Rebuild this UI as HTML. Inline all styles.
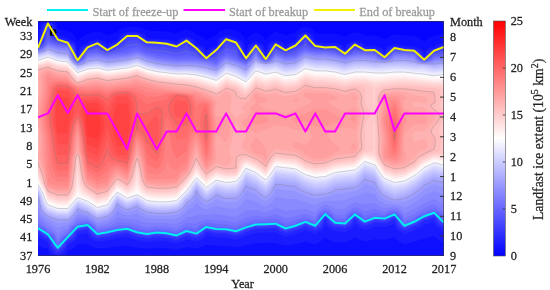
<!DOCTYPE html>
<html><head><meta charset="utf-8"><style>
html,body{margin:0;padding:0;background:#fff;}
body{width:550px;height:290px;overflow:hidden;}
svg{display:block;}
text{font-family:"Liberation Serif","Times New Roman",serif;font-size:12.3px;fill:#222;stroke:#222;stroke-width:0.25px;}
text.lg{fill:#999;stroke:#999;}
</style></head><body>
<svg width="550" height="290" viewBox="0 0 550 290">
<defs>
<clipPath id="pc"><rect x="38" y="21" width="406" height="235"/></clipPath>
<linearGradient id="cb" x1="0" y1="1" x2="0" y2="0">
<stop offset="0" stop-color="#0000ff"/><stop offset="0.5" stop-color="#ffffff"/><stop offset="1" stop-color="#ff0000"/>
</linearGradient>
</defs>
<rect width="550" height="290" fill="#fff"/>
<g clip-path="url(#pc)">
<rect x="38" y="21" width="406" height="235" fill="#0505ff"/>
<path fill="#0f0fff" d="M47.9 21.3 54.5 22 56.7 23 57.1 24 57.3 25 57.4 26 57.5 27 57.7 28 57.8 28.9 58.2 29 63.9 30 67.7 30.9 68 31 70.2 32 71.8 33 73.1 34 74.1 35 75 36 75.6 37 76.2 38 76.7 39 77.2 40 77.5 41 77.6 41.6 78 41 78.7 40 79.5 39 80.5 38 81.7 37 83.1 36 84.9 35 87 34 87.5 33.8 89.9 33 93.7 32 97.4 31.2 100.1 32 102.8 33 104.9 34 106.6 35 107.3 35.5 108.3 35 110.7 34 113.6 33 117.2 32 117.2 32 118.1 31 119.2 30 120.7 29 122.8 28 125.9 27 127.1 26.7 137 26.7 138.4 27 142 28 144.4 29 146.1 30 146.9 30.6 156.8 30.9 158.5 31 166.7 31.5 170.2 32 175.6 33 176.6 33.2 177 33 178.9 32 181.4 31 184.7 30 186.5 29.5 188.1 30 191 31 193.1 32 194.7 33 196 34 196.4 34.4 198.1 35 200.4 36 202.2 37 203.7 38 205 39 206 40 206.3 40.3 206.8 40 208.3 39 210.1 38 212.2 37 214.8 36 216.2 35.5 216.5 35 217.2 34 218.1 33 219.2 32 220.6 31 222.5 30 225.1 29 226.1 28.7 228.1 29 233.2 30 236 30.7 236.8 31 238.9 32 240.5 33 241.8 34 242.8 35 243.6 36 244.3 37 244.8 38 245.3 39 245.8 40 246 40.8 246.4 40 247 39 247.8 38 248.7 37 249.8 36 251.1 35 252.8 34 254.9 33 255.9 32.6 256.8 33 258.9 34 260.5 35 261.9 36 263 37 263.9 38 264.6 39 265.3 40 265.8 40.9 266.2 40 266.7 39 267.3 38 268.1 37 269 36 270.1 35 271.4 34 273.1 33 275.3 32 275.7 31.8 276.3 32 279.7 33 282.3 34 284.4 35 285.6 35.6 287.1 35 290 34 293.7 33 295.5 32.6 295.8 32 296.6 31 297.5 30 298.8 29 300.6 28 303.3 27 305.4 26.5 307.4 27 310 28 311.8 29 313.1 30 314 31 314.7 32 315.3 33 315.6 33 325.2 33.8 335.1 33.5 336.7 34 339.8 35 342.3 36 344.4 37 345 37.3 345.3 37 346.6 36 348 35 349.8 34 352.1 33 354.9 32 358.5 33 361.4 34 363.8 35 364.8 35.5 374.7 35.4 376.5 36 379.3 37 381.6 38 383.6 39 384.6 39.6 385.3 39 386.6 38 388.2 37 390.1 36 392.4 35 394.5 34.2 400.8 35 404.4 35.5 414.3 36 414.4 36 417.1 37 419.2 38 421 39 422.6 40 423.9 41 424.2 41.3 424.5 41 425.8 40 427.3 39 429.1 38 431.2 37 433.8 36 434.1 35.9 437.2 35 441.4 34 444 33.5 444 34 444 35 444 36 444 37 444 38 444 39 444 40 444 41 444 42 444 43 444 44 444 45 444 46 444 47 444 48 444 49 444 50 444 51 444 52 444 53 444 54 444 55 444 56 444 57 444 58 444 59 444 60 444 61 444 62 444 63 444 64 444 65 444 66 444 67 444 68 444 69 444 70 444 71 444 72 444 73 444 74 444 75 444 76 444 77 444 78 444 79 444 80 444 81 444 82 444 83 444 84 444 85 444 86 444 87 444 88 444 89 444 90 444 91 444 92 444 93 444 94 444 95 444 96 444 97 444 98 444 99 444 100 444 101 444 102 444 103 444 104 444 105 444 106 444 107 444 108 444 109 444 110 444 111 444 112 444 113 444 114 444 115 444 116 444 117 444 118 444 119 444 120 444 121 444 122 444 123 444 124 444 125 444 126 444 127 444 128 444 129 444 130 444 131 444 132 444 133 444 134 444 135 444 136 444 137 444 138 444 139 444 140 444 141 444 142 444 143 444 144 444 145 444 146 444 147 444 148 444 149 444 150 444 151 444 152 444 153 444 154 444 155 444 156 444 157 444 158 444 159 444 160 444 161 444 162 444 163 444 164 444 165 444 166 444 167 444 168 444 169 444 170 444 171 444 172 444 173 444 174 444 175 444 176 444 177 444 178 444 179 444 180 444 181 444 182 444 183 444 184 444 185 444 186 444 187 444 188 444 189 444 190 444 191 444 192 444 193 444 194 444 195 444 196 444 197 444 198 444 199 444 200 444 201 444 202 444 203 444 204 444 205 444 206 444 207 444 208 444 209 444 210 444 211 444 212 444 213 444 214 444 215 444 216 444 217 444 218 444 219 444 220 444 221 444 222 444 223 444 224 444 225 444 226 444 227 444 228 444 229 444 230 444 231 444 232 444 233 444 234 444 235 444 236 444 237 444 238 444 239 444 240 444 241 444 242 444 243 444 244 444 245 444 246 444 247 444 248 444 249 444 250 444 251 444 252 444 253 444 254 444 255 444 256 434.1 256 424.2 256 414.3 256 404.4 256 394.5 256 384.6 256 374.7 256 364.8 256 354.9 256 345 256 335.1 256 325.2 256 315.3 256 305.4 256 295.5 256 285.6 256 275.7 256 265.8 256 255.9 256 246 256 236 256 226.1 256 216.2 256 206.3 256 196.4 256 186.5 256 176.6 256 166.7 256 156.8 256 146.9 256 137 256 127.1 256 117.2 256 107.3 256 97.4 256 87.5 256 77.6 256 67.7 256 57.8 256 47.9 256 38 256 38 255 38 254 38 253 38 252 38 251 38 250 38 249 38 248 38 247 38 246 38 245 38 244 38 243 38 242 38 241 38 240 38 239 38 238 38 237 38 236 38 235 38 234 38 233 38 232 38 231 38 230 38 229 38 228 38 227 38 226 38 225 38 224 38 223 38 222 38 221 38 220 38 219 38 218 38 217 38 216 38 215 38 214 38 213 38 212 38 211 38 210 38 209 38 208 38 207 38 206 38 205 38 204 38 203 38 202 38 201 38 200 38 199 38 198 38 197 38 196 38 195 38 194 38 193 38 192 38 191 38 190 38 189 38 188 38 187 38 186 38 185 38 184 38 183 38 182 38 181 38 180 38 179 38 178 38 177 38 176 38 175 38 174 38 173 38 172 38 171 38 170 38 169 38 168 38 167 38 166 38 165 38 164 38 163 38 162 38 161 38 160 38 159 38 158 38 157 38 156 38 155 38 154 38 153 38 152 38 151 38 150 38 149 38 148 38 147 38 146 38 145 38 144 38 143 38 142 38 141 38 140 38 139 38 138 38 137 38 136 38 135 38 134 38 133 38 132 38 131 38 130 38 129 38 128 38 127 38 126 38 125 38 124 38 123 38 122 38 121 38 120 38 119 38 118 38 117 38 116 38 115 38 114 38 113 38 112 38 111 38 110 38 109 38 108 38 107 38 106 38 105 38 104 38 103 38 102 38 101 38 100 38 99 38 98 38 97 38 96 38 95 38 94 38 93 38 92 38 91 38 90 38 89 38 88 38 87 38 86 38 85 38 84 38 83 38 82 38 81 38 80 38 79 38 78 38 77 38 76 38 75 38 74 38 73 38 72 38 71 38 70 38 69 38 68 38 67 38 66 38 65 38 64 38 63 38 62 38 61 38 60 38 59 38 58 38 57 38 56 38 55 38 54 38 53 38 52 38 51 38 50 38 49 38 48 38 47 38 46 38 45 38 44 38 43 38 42 38 41 38 40 38 39 38 38 38 37 38 36 38 35 38 34 38 33.6 38.1 33 38.1 32 38.2 31 38.3 30 38.4 29 38.4 28 38.5 27 38.6 26 38.7 25 38.8 24 39.1 23 41.4 22Z"/>
<path fill="#1a1aff" d="M47.9 22.1 53.8 23 55.1 24 55.4 25 55.7 26 55.9 27 56.1 28 56.3 29 56.5 30 56.7 31 56.9 32 57.1 33 57.4 34 57.6 35 57.8 35.5 60 36 64.9 37 67 38 67.7 38.6 68.3 39 71.3 40 73.5 41 74.8 42 75.6 43 76.1 44 76.5 45 76.7 46 76.9 47 77 48 77.1 49 77.2 50 77.3 51 77.4 52 77.4 53 77.5 54 77.6 55 77.6 55.1 77.6 55 77.8 54 77.9 53 78 52 78.2 51 78.4 50 78.7 49 79.1 48 79.6 47 80.6 46 82.5 45 85.8 44 87.5 43.2 87.7 43 88.4 42 89.9 41 93.7 40 97.4 39.2 100.2 40 103.7 41 105.4 42 106.2 43 106.7 44 107 45 107.3 46 107.3 46 107.3 46 107.7 45 108.2 44 109.1 43 111.2 42 115.6 41 117.2 40.5 117.4 40 117.7 39 118 38 118.4 37 118.8 36 119.4 35 120.7 34 123.2 33 126.9 32 127.1 31.9 137 31.9 137.3 32 141.4 33 144 34 145.2 35 145.9 36 146.4 37 146.8 38 146.9 38.2 156.8 38.7 159.8 39 166.7 39.6 168.6 40 174.3 41 176.2 42 176.6 42.3 176.8 42 177.2 41 177.7 40 178.6 39 180.7 38 185 37 186.5 36.5 187.9 37 191.8 38 193.9 39 194.9 40 195.4 41 195.7 42 196.1 43 196.4 44 196.4 44.1 199 45 202.4 46 204.1 47 204.9 48 205.3 49 205.6 50 205.9 51 206.1 52 206.3 53 206.3 53.1 206.4 53 206.6 52 206.9 51 207.3 50 207.9 49 209.2 48 212.4 47 216.2 46 216.3 46 216.5 45 216.7 44 216.9 43 217.2 42 217.4 41 217.7 40 218.1 39 218.9 38 220.5 37 223.5 36 226.1 35.1 230.8 36 234.4 37 235.7 38 236 38.3 237.4 39 240.6 40 242.6 41 243.5 42 244 43 244.3 44 244.5 45 244.7 46 244.8 47 245 48 245.2 49 245.3 50 245.5 51 245.6 52 245.8 53 245.9 54 246 54.1 246 54 246.1 53 246.2 52 246.3 51 246.5 50 246.7 49 246.9 48 247.2 47 247.6 46 248.1 45 249.2 44 251.2 43 254.5 42 255.9 41.3 257.2 42 260.4 43 262.5 44 263.6 45 264.1 46 264.5 47 264.8 48 265 49 265.2 50 265.4 51 265.5 52 265.6 53 265.7 54 265.8 54.1 265.8 54 265.9 53 266 52 266.2 51 266.3 50 266.5 49 266.7 48 266.9 47 267.1 46 267.5 45 267.9 44 268.8 43 270.6 42 273.6 41 275.7 40.2 278.6 41 282.3 42 283.9 43 284.7 44 285.1 45 285.5 46 285.6 46.1 285.7 46 286.1 45 286.9 44 288.7 43 293.1 42 295.5 41.3 295.6 41 295.9 40 296.1 39 296.4 38 296.7 37 297.1 36 297.6 35 298.6 34 300.5 33 303.8 32 305.4 31.4 306.9 32 310.2 33 312 34 313 35 313.6 36 313.9 37 314.2 38 314.5 39 314.7 40 315 41 315.2 42 315.3 42 323.8 43 325.2 43.2 335.1 43 339.5 44 342.4 45 343.7 46 344.4 47 344.8 48 345 48.6 345.1 48 345.4 47 345.7 46 346 45 346.6 44 347.6 43 349.7 42 353.6 41 354.9 40.5 356.5 41 361 42 363.1 43 364 44 364.5 45 364.8 45.7 374.7 46 374.7 46 378.8 47 381.8 48 383.2 49 383.9 50 384.3 51 384.5 52 384.6 52.1 384.6 52 384.8 51 385 50 385.3 49 385.8 48 386.6 47 388.1 46 391.2 45 394.5 44 402 45 404.4 45.7 407.5 46 414.3 46.6 415.1 47 419.1 48 421.5 49 422.7 50 423.3 51 423.7 52 423.9 53 424.1 54 424.2 54.7 424.3 54 424.5 53 424.8 52 425.1 51 425.7 50 426.8 49 429.2 48 433.2 47 434.1 46.6 434.5 46 435.4 45 438 44 443.6 43 444 42.9 444 43 444 44 444 45 444 46 444 47 444 48 444 49 444 50 444 51 444 52 444 53 444 54 444 55 444 56 444 57 444 58 444 59 444 60 444 61 444 62 444 63 444 64 444 65 444 66 444 67 444 68 444 69 444 70 444 71 444 72 444 73 444 74 444 75 444 76 444 77 444 78 444 79 444 80 444 81 444 82 444 83 444 84 444 85 444 86 444 87 444 88 444 89 444 90 444 91 444 92 444 93 444 94 444 95 444 96 444 97 444 98 444 99 444 100 444 101 444 102 444 103 444 104 444 105 444 106 444 107 444 108 444 109 444 110 444 111 444 112 444 113 444 114 444 115 444 116 444 117 444 118 444 119 444 120 444 121 444 122 444 123 444 124 444 125 444 126 444 127 444 128 444 129 444 130 444 131 444 132 444 133 444 134 444 135 444 136 444 137 444 138 444 139 444 140 444 141 444 142 444 143 444 144 444 145 444 146 444 147 444 148 444 149 444 150 444 151 444 152 444 153 444 154 444 155 444 156 444 157 444 158 444 159 444 160 444 161 444 162 444 163 444 164 444 165 444 166 444 167 444 168 444 169 444 170 444 171 444 172 444 173 444 174 444 175 444 176 444 177 444 178 444 179 444 180 444 181 444 182 444 183 444 184 444 185 444 186 444 187 444 188 444 189 444 190 444 191 444 192 444 193 444 194 444 195 444 196 444 197 444 198 444 199 444 200 444 201 444 202 444 203 444 204 444 205 444 206 444 207 444 208 444 209 444 210 444 211 444 212 444 213 444 214 444 215 444 216 444 217 444 218 444 219 444 220 444 221 444 222 444 223 444 224 444 225 444 226 444 227 444 228 444 229 444 230 444 231 444 232 444 233 444 234 444 235 444 236 444 237 444 238 444 239 444 240 444 241 444 242 444 242.1 443.7 242 441.3 241 439.3 240 437.6 239 436.2 238 435 237 434.1 236.2 430.6 237 425.7 238 424.2 238.3 422.5 239 419.9 240 416.6 241 414.3 241.6 413 242 409.1 243 404.4 244 402 243 400.1 242 398.5 241 397.2 240 396.1 239 395.2 238 394.5 237.1 391.6 238 387.8 239 384.6 239.7 374.7 239.2 371.8 240 367.4 241 364.8 241.5 363.2 241 360.4 240 358.1 239 356.2 238 354.9 237.2 353.9 238 352.6 239 351 240 349.1 241 346.7 242 345 242.6 335.1 242.2 334.4 242 331.8 241 329.7 240 327.9 239 326.4 238 325.2 237 324.4 238 323.5 239 322.4 240 321.1 241 319.5 242 317.5 243 315.3 243.9 310.6 243 306.5 242 305.4 241.7 304.3 242 300.3 243 295.5 244 295.4 244 289.5 245 285.6 245.6 283 245 279.3 244 276.3 243 275.7 242.8 267.3 243 265.8 243 255.9 243.2 251.8 244 246 244.9 245.7 245 241.9 246 237 247 236 247.2 234.5 247 226.4 246 226.1 246 216.2 245.8 209.1 245 206.3 244.6 205.8 245 204 246 201.6 247 198.3 248 196.4 248.5 192.8 248 186.6 247 186.5 247 186.5 247 183.4 248 179.2 249 176.6 249.5 172.4 249 166.7 248.2 161.5 248 156.8 247.8 154.5 248 146.9 248.6 140.1 248 137 247.7 133 247 128.2 246 127.1 245.7 123.4 246 117.2 246.4 113.1 247 107.3 247.7 104.2 248 97.4 248.6 95.2 248 92.6 247 90.6 246 89.1 245 88 244 87.5 243.5 83 244 77.6 244.5 77.3 245 76.5 246 75.4 247 74.1 248 72.1 249 69.2 250 67.7 250.4 67.5 251 67.1 252 66.7 253 66.2 254 64.9 255 57.8 255.7 50.7 255 49.5 254 49 253 48.7 252 48.4 251 48.2 250 47.9 249 47.9 248.8 44.4 248 41.4 247 39.2 246 38 245.3 38 245 38 244 38 243 38 242 38 241 38 240 38 239 38 238 38 237 38 236 38 235 38 234 38 233 38 232 38 231 38 230 38 229 38 228 38 227 38 226 38 225 38 224 38 223 38 222 38 221 38 220 38 219 38 218 38 217 38 216 38 215 38 214 38 213 38 212 38 211 38 210 38 209 38 208 38 207 38 206 38 205 38 204 38 203 38 202 38 201 38 200 38 199 38 198 38 197 38 196 38 195 38 194 38 193 38 192 38 191 38 190 38 189 38 188 38 187 38 186 38 185 38 184 38 183 38 182 38 181 38 180 38 179 38 178 38 177 38 176 38 175 38 174 38 173 38 172 38 171 38 170 38 169 38 168 38 167 38 166 38 165 38 164 38 163 38 162 38 161 38 160 38 159 38 158 38 157 38 156 38 155 38 154 38 153 38 152 38 151 38 150 38 149 38 148 38 147 38 146 38 145 38 144 38 143 38 142 38 141 38 140 38 139 38 138 38 137 38 136 38 135 38 134 38 133 38 132 38 131 38 130 38 129 38 128 38 127 38 126 38 125 38 124 38 123 38 122 38 121 38 120 38 119 38 118 38 117 38 116 38 115 38 114 38 113 38 112 38 111 38 110 38 109 38 108 38 107 38 106 38 105 38 104 38 103 38 102 38 101 38 100 38 99 38 98 38 97 38 96 38 95 38 94 38 93 38 92 38 91 38 90 38 89 38 88 38 87 38 86 38 85 38 84 38 83 38 82 38 81 38 80 38 79 38 78 38 77 38 76 38 75 38 74 38 73 38 72 38 71 38 70 38 69 38 68 38 67 38 66 38 65 38 64 38 63 38 62 38 61 38 60 38 59 38 58 38 57 38 56 38 55 38 54 38 53 38 52 38 51 38 50 38 49 38 48 38 47 38 46 38 45 38 44 38 43 38 42.9 38.2 42 38.3 41 38.5 40 38.7 39 38.8 38 39 37 39.1 36 39.2 35 39.3 34 39.4 33 39.5 32 39.6 31 39.7 30 39.9 29 40 28 40.1 27 40.3 26 40.5 25 40.7 24 42 23Z"/>
<path fill="#2424ff" d="M47.9 22.5 51 23 53.1 24 53.6 25 53.9 26 54.2 27 54.5 28 54.7 29 54.9 30 55.2 31 55.4 32 55.6 33 55.9 34 56.1 35 56.5 36 57.3 37 57.8 37.3 61.1 38 64 39 66.4 40 67.7 40.5 69.5 41 72 42 73.4 43 74.4 44 75.2 45 75.6 46 75.9 47 76.1 48 76.2 49 76.4 50 76.5 51 76.6 52 76.7 53 76.8 54 76.9 55 77.1 56 77.6 57 77.6 57 77.6 57 78.4 56 78.7 55 78.9 54 79.1 53 79.4 52 79.7 51 80.1 50 80.7 49 81.4 48 82.4 47 84.5 46 87.5 45.2 88 45 89.8 44 91 43 92.9 42 97.4 41 97.4 41 97.4 41 101.4 42 103.3 43 104.2 44 104.8 45 105.3 46 106 47 107.3 48 108.9 47 109.7 46 110.4 45 111.6 44 114 43 117.2 42.3 117.8 42 119 41 119.4 40 119.8 39 120.2 38 120.6 37 121.2 36 122.5 35 124.9 34 127.1 33.4 137 33.4 139.3 34 142 35 143.3 36 144 37 144.5 38 145.3 39 146.9 39.9 147.8 40 156.8 40.4 163.2 41 166.7 41.3 170.5 42 173.3 43 176.1 44 176.6 44.2 177 44 178.6 43 179.3 42 179.8 41 180.8 40 183 39 186.5 38.2 189.8 39 191.9 40 192.9 41 193.4 42 193.9 43 194.2 44 194.8 45 196.4 46 196.4 46 200.3 47 202.1 48 202.9 49 203.5 50 203.9 51 204.2 52 204.5 53 205 54 206.3 55 206.3 55 206.4 55 207.9 54 208.5 53 208.9 52 209.4 51 210.1 50 211.6 49 215 48 216.2 47.7 217.4 47 218 46 218.3 45 218.6 44 218.9 43 219.2 42 219.5 41 220 40 220.7 39 222.2 38 225.2 37 226.1 36.8 227.5 37 231.4 38 233.3 39 235.7 40 236 40.1 239.1 41 240.9 42 241.8 43 242.2 44 242.6 45 242.9 46 243.1 47 243.3 48 243.5 49 243.7 50 243.9 51 244.1 52 244.2 53 244.4 54 244.8 55 245.7 56 246 56.2 246.1 56 246.7 55 247 54 247.2 53 247.4 52 247.6 51 247.9 50 248.2 49 248.6 48 249.2 47 249.9 46 251 45 253.2 44 255.9 43.3 258.5 44 260.7 45 261.8 46 262.5 47 263.1 48 263.5 49 263.8 50 264.1 51 264.3 52 264.6 53 264.7 54 265.1 55 265.8 55.9 266.5 55 266.9 54 267.1 53 267.3 52 267.5 51 267.8 50 268 49 268.3 48 268.7 47 269.1 46 269.7 45 270.5 44 272.3 43 275.7 42 279.7 43 281.6 44 282.6 45 283.2 46 283.9 47 285.4 48 285.6 48.1 285.8 48 287.5 47 288.4 46 289.4 45 291.7 44 295.5 43.2 295.8 43 297 42 297.4 41 297.7 40 298 39 298.4 38 298.8 37 299.4 36 300.3 35 302.1 34 305.4 33.1 308.6 34 310.4 35 311.3 36 311.8 37 312.2 38 312.6 39 312.9 40 313.2 41 313.5 42 314.1 43 315.3 43.9 316.2 44 323.5 45 325.2 45.2 330.5 45 335.1 44.8 336.2 45 339.8 46 341.4 47 342.4 48 343 49 344.3 50 345 50.4 345.6 50 346.6 49 347 48 347.4 47 347.9 46 348.5 45 349.7 44 352 43 354.9 42.3 358.1 43 360.6 44 361.8 45 362.5 46 363.8 47 364.8 47.5 374.7 47.9 375.3 48 379.1 49 380.9 50 382 51 382.7 52 383.5 53 384.6 53.9 385.5 53 386 52 386.4 51 386.9 50 387.6 49 388.7 48 390.5 47 394.2 46 394.5 45.9 395 46 401.4 47 404.4 47.5 409.8 48 414.3 48.5 416.5 49 419.3 50 420.8 51 421.8 52 422.5 53 422.9 54 423.1 55 423.7 56 424.2 56.5 424.8 56 425.6 55 426 54 426.4 53 427 52 427.7 51 429.1 50 431.8 49 434.1 48.5 435.3 48 437 47 438.5 46 441.7 45 444 44.6 444 45 444 46 444 47 444 48 444 49 444 50 444 51 444 52 444 53 444 54 444 55 444 56 444 57 444 58 444 59 444 60 444 61 444 62 444 63 444 64 444 65 444 66 444 67 444 68 444 69 444 70 444 71 444 72 444 73 444 74 444 75 444 76 444 77 444 78 444 79 444 80 444 81 444 82 444 83 444 84 444 85 444 86 444 87 444 88 444 89 444 90 444 91 444 92 444 93 444 94 444 95 444 96 444 97 444 98 444 99 444 100 444 101 444 102 444 103 444 104 444 105 444 106 444 107 444 108 444 109 444 110 444 111 444 112 444 113 444 114 444 115 444 116 444 117 444 118 444 119 444 120 444 121 444 122 444 123 444 124 444 125 444 126 444 127 444 128 444 129 444 130 444 131 444 132 444 133 444 134 444 135 444 136 444 137 444 138 444 139 444 140 444 141 444 142 444 143 444 144 444 145 444 146 444 147 444 148 444 149 444 150 444 151 444 152 444 153 444 154 444 155 444 156 444 157 444 158 444 159 444 160 444 161 444 162 444 163 444 164 444 165 444 166 444 167 444 168 444 169 444 170 444 171 444 172 444 173 444 174 444 175 444 176 444 177 444 178 444 179 444 180 444 181 444 182 444 183 444 184 444 185 444 186 444 187 444 188 444 189 444 190 444 191 444 192 444 193 444 194 444 195 444 196 444 197 444 198 444 199 444 200 444 201 444 202 444 203 444 204 444 205 444 206 444 207 444 208 444 209 444 210 444 211 444 212 444 213 444 214 444 215 444 216 444 217 444 218 444 219 444 220 444 221 444 222 444 223 444 224 444 225 444 226 444 227 444 228 444 229 444 230 444 231 444 231.2 443.7 231 442.2 230 440.5 229 438.2 228 436.6 227 435.6 226 435 225 434.6 224 434.4 223 434.1 222 434.1 221.7 433.6 222 430.7 223 427.6 224 424.3 225 424.2 225 423.6 226 422.3 227 420 228 417.4 229 415.2 230 414.3 230.4 413.5 231 411.1 232 408 233 405 234 404.4 234.2 404.1 234 402.6 233 400.8 232 398.8 231 397.3 230 396.3 229 395.7 228 395.3 227 395 226 394.8 225 394.6 224 394.5 223.2 393.6 224 391.1 225 388.3 226 385.6 227 384.6 227.3 380.1 227 374.7 226.6 374.1 227 371.6 228 368.5 229 365.4 230 364.8 230.2 364.4 230 362.5 229 360.4 228 358 227 356.5 226 355.6 225 355.1 224 354.9 223.3 354.7 224 354.5 225 354.1 226 353.4 227 352.4 228 350.7 229 348.4 230 346.7 231 345 232 345 232 344.8 232 335.1 231.3 334.5 231 332.8 230 330.8 229 328.6 228 327.1 227 326.3 226 325.7 225 325.4 224 325.2 223 325 224 324.9 225 324.6 226 324.3 227 323.9 228 323.2 229 322.2 230 320.7 231 318.6 232 316.9 233 315.4 234 315.3 234.1 314.9 234 311.8 233 308.6 232 306.1 231 305.4 230.5 304.7 231 302.3 232 299.2 233 296.1 234 295.5 234.2 292.9 235 288.9 236 285.6 236.8 283.4 236 280.8 235 278 234 276.4 233 275.7 232.2 265.8 232.7 255.9 233 255.8 233 252.7 234 248.9 235 246 235.7 245.6 236 243.8 237 240.6 238 237.5 239 236 239.5 233.6 239 228.5 238 226.1 237.5 216.2 237.3 214.8 237 209.7 236 206.3 235.3 206 236 205.3 237 204.3 238 202.6 239 200.2 240 197.9 241 196.4 241.6 193.5 241 189.3 240 186.5 239.2 185.6 240 183.6 241 180.7 242 177.7 243 176.6 243.4 174.7 243 169.8 242 166.7 241.3 163.3 241 156.8 240.5 153.6 241 146.9 241.9 141 241 137 240.3 135.9 240 132.4 239 129 238 127.1 237.1 119.1 238 117.2 238.2 113.9 239 108.9 240 107.3 240.3 103.4 241 97.4 241.9 95.6 241 93.5 240 91.5 239 90 238 89.1 237 88.4 236 88 235 87.7 234 87.5 233.4 84.3 234 78 235 77.6 235.1 77.4 236 77.1 237 76.8 238 76.3 239 75.7 240 74.8 241 73.5 242 71.6 243 69.6 244 67.7 245 67.7 245 67.4 246 67 247 66.6 248 66 249 65.4 250 64.8 251 64.1 252 63.2 253 61.7 254 57.8 255 54 254 52.5 253 51.6 252 51 251 50.5 250 50 249 49.5 248 49 247 48.7 246 48.5 245 48.3 244 48.1 243 47.9 242.3 47.1 242 44.8 241 42.2 240 40.3 239 39.1 238 38.3 237 38 236.4 38 236 38 235 38 234 38 233 38 232 38 231 38 230 38 229 38 228 38 227 38 226 38 225 38 224 38 223 38 222 38 221 38 220 38 219 38 218 38 217 38 216 38 215 38 214 38 213 38 212 38 211 38 210 38 209 38 208 38 207 38 206 38 205 38 204 38 203 38 202 38 201 38 200 38 199 38 198 38 197 38 196 38 195 38 194 38 193 38 192 38 191 38 190 38 189 38 188 38 187 38 186 38 185 38 184 38 183 38 182 38 181 38 180 38 179 38 178 38 177 38 176 38 175 38 174 38 173 38 172 38 171 38 170 38 169 38 168 38 167 38 166 38 165 38 164 38 163 38 162 38 161 38 160 38 159 38 158 38 157 38 156 38 155 38 154 38 153 38 152 38 151 38 150 38 149 38 148 38 147 38 146 38 145 38 144 38 143 38 142 38 141 38 140 38 139 38 138 38 137 38 136 38 135 38 134 38 133 38 132 38 131 38 130 38 129 38 128 38 127 38 126 38 125 38 124 38 123 38 122 38 121 38 120 38 119 38 118 38 117 38 116 38 115 38 114 38 113 38 112 38 111 38 110 38 109 38 108 38 107 38 106 38 105 38 104 38 103 38 102 38 101 38 100 38 99 38 98 38 97 38 96 38 95 38 94 38 93 38 92 38 91 38 90 38 89 38 88 38 87 38 86 38 85 38 84 38 83 38 82 38 81 38 80 38 79 38 78 38 77 38 76 38 75 38 74 38 73 38 72 38 71 38 70 38 69 38 68 38 67 38 66 38 65 38 64 38 63 38 62 38 61 38 60 38 59 38 58 38 57 38 56 38 55 38 54 38 53 38 52 38 51 38 50 38 49 38 48 38 47 38 46 38 45 38 44.5 38.5 44 39.1 43 39.3 42 39.5 41 39.7 40 39.9 39 40.1 38 40.3 37 40.4 36 40.6 35 40.7 34 40.8 33 40.9 32 41.1 31 41.2 30 41.3 29 41.5 28 41.7 27 42 26 42.3 25 42.7 24 44.9 23Z"/>
<path fill="#2e2eff" d="M47.9 23 48.1 23 51.1 24 51.7 25 52.2 26 52.6 27 52.9 28 53.2 29 53.4 30 53.7 31 53.9 32 54.1 33 54.3 34 54.6 35 54.9 36 55.7 37 57 38 57.8 38.4 60 39 62.9 40 65.9 41 67.7 41.5 69.1 42 71.2 43 72.7 44 73.9 45 74.5 46 74.9 47 75.1 48 75.4 49 75.5 50 75.7 51 75.9 52 76 53 76.1 54 76.3 55 76.5 56 77 57 77.6 57.9 78.6 57 79.4 56 79.8 55 80 54 80.4 53 80.8 52 81.2 51 81.8 50 82.6 49 83.6 48 85.3 47 87.5 46.2 88.2 46 90.8 45 92.6 44 94.2 43 97.4 42 100.3 43 101.7 44 102.6 45 103.2 46 104 47 105.3 48 107.3 49 107.3 49 107.4 49 109.6 48 111.1 47 112.1 46 113.1 45 114.9 44 117.2 43.3 118 43 119.9 42 120.9 41 121.4 40 121.8 39 122.3 38 122.9 37 123.7 36 125.5 35 127.1 34.5 137 34.5 138.7 35 140.6 36 141.6 37 142.3 38 143.1 39 144.5 40 146.9 41 147.7 41 156.8 41.4 163 42 166.7 42.3 169.4 43 172.3 44 175.8 45 176.6 45.2 177.2 45 179.6 44 181 43 181.7 42 182.5 41 184 40 186.5 39.2 189 40 190.4 41 191.1 42 191.7 43 192.1 44 192.7 45 194.1 46 196.4 47 196.4 47 199.2 48 200.6 49 201.3 50 201.9 51 202.4 52 202.8 53 203.3 54 204.5 55 206.3 55.9 208.6 55 210 54 210.6 53 211.1 52 211.8 51 212.9 50 215.3 49 216.2 48.8 217.9 48 219.2 47 219.8 46 220.1 45 220.4 44 220.8 43 221.2 42 221.6 41 222.2 40 223.2 39 225.4 38 226.1 37.8 227.1 38 230 39 232.2 40 235.6 41 236 41.1 238.4 42 239.6 43 240.2 44 240.7 45 241 46 241.4 47 241.6 48 241.9 49 242.1 50 242.3 51 242.5 52 242.7 53 243 54 243.3 55 244.2 56 245.5 57 246 57.2 246.2 57 247 56 247.7 55 248 54 248.2 53 248.5 52 248.9 51 249.3 50 249.8 49 250.4 48 251.1 47 252.2 46 253.9 45 255.9 44.3 257.8 45 259.5 46 260.6 47 261.3 48 261.9 49 262.4 50 262.8 51 263.2 52 263.5 53 263.7 54 264.1 55 264.9 56 265.8 56.8 266.7 56 267.6 55 268 54 268.3 53 268.6 52 268.9 51 269.2 50 269.6 49 270 48 270.5 47 271.1 46 271.9 45 273.2 44 275.7 43 278.6 44 280.1 45 281 46 281.8 47 283.2 48 285.3 49 285.6 49.1 285.9 49 288.4 48 290 47 291.1 46 292.8 45 295.5 44.2 295.9 44 297.7 43 298.8 42 299.2 41 299.6 40 300 39 300.4 38 301 37 301.7 36 303 35 305.4 34.1 307.7 35 309 36 309.7 37 310.3 38 310.7 39 311.1 40 311.4 41 311.8 42 312.3 43 313.5 44 315.3 44.9 315.7 45 322.8 46 325.2 46.3 331.7 46 335.1 45.8 335.8 46 338.5 47 339.9 48 341 49 342.3 50 344.2 51 345 51.3 345.7 51 347.3 50 348.3 49 348.8 48 349.4 47 350.1 46 351 45 352.8 44 354.9 43.3 357.2 44 359 45 360.1 46 361.4 47 363.5 48 364.8 48.4 374.7 48.9 374.9 49 377.9 50 379.7 51 380.9 52 382 53 383.3 54 384.6 54.8 385.7 54 386.7 53 387.4 52 388 51 388.8 50 389.9 49 391.5 48 394.5 47 394.5 47 394.5 47 401.2 48 404.4 48.4 409.7 49 414.3 49.5 415.9 50 418.3 51 419.9 52 421 53 421.6 54 422 55 422.7 56 423.7 57 424.2 57.4 424.9 57 426.2 56 427.1 55 427.6 54 428.3 53 429.2 52 430.4 51 432.5 50 434.1 49.5 435.8 49 438.2 48 440 47 442.5 46 444 45.6 444 46 444 47 444 48 444 49 444 50 444 51 444 52 444 53 444 54 444 55 444 56 444 57 444 58 444 59 444 60 444 61 444 62 444 63 444 64 444 65 444 66 444 67 444 68 444 69 444 70 444 71 444 72 444 73 444 74 444 75 444 76 444 77 444 78 444 79 444 80 444 81 444 82 444 83 444 84 444 85 444 86 444 87 444 88 444 89 444 90 444 91 444 92 444 93 444 94 444 95 444 96 444 97 444 98 444 99 444 100 444 101 444 102 444 103 444 104 444 105 444 106 444 107 444 108 444 109 444 110 444 111 444 112 444 113 444 114 444 115 444 116 444 117 444 118 444 119 444 120 444 121 444 122 444 123 444 124 444 125 444 126 444 127 444 128 444 129 444 130 444 131 444 132 444 133 444 134 444 135 444 136 444 137 444 138 444 139 444 140 444 141 444 142 444 143 444 144 444 145 444 146 444 147 444 148 444 149 444 150 444 151 444 152 444 153 444 154 444 155 444 156 444 157 444 158 444 159 444 160 444 161 444 162 444 163 444 164 444 165 444 166 444 167 444 168 444 169 444 170 444 171 444 172 444 173 444 174 444 175 444 176 444 177 444 178 444 179 444 180 444 181 444 182 444 183 444 184 444 185 444 186 444 187 444 188 444 189 444 190 444 191 444 192 444 193 444 194 444 195 444 196 444 197 444 198 444 199 444 200 444 201 444 202 444 203 444 204 444 205 444 206 444 207 444 208 444 209 444 210 444 211 444 212 444 213 444 214 444 215 444 216 444 217 444 218 444 219 444 220 444 221 444 222 444 223 444 224 444 225 444 226 444 227 444 227.5 442.2 227 439.7 226 438.2 225 437.2 224 436.5 223 435.8 222 435.5 221 435.3 220 435 219 434.4 218 434.1 217.6 433.2 218 431.1 219 428.8 220 424.7 221 424.2 221.1 423.1 222 422.1 223 421.2 224 419.7 225 417.2 226 414.3 226.7 413.8 227 412 228 410.3 229 407.7 230 404.4 230.8 402.1 230 400 229 398.6 228 397.7 227 397 226 396.4 225 396 224 395.8 223 395.6 222 395.4 221 395 220 394.5 219.2 393.1 220 391.6 221 390 222 387 223 384.6 223.5 378.2 223 374.7 222.7 374.1 223 372.2 224 370.3 225 367.3 226 364.8 226.5 362.7 226 360.1 225 358.5 224 357.5 223 356.8 222 356.2 221 355.5 220 354.9 219.3 354.3 220 353.8 221 353.6 222 353.2 223 352.6 224 351.8 225 350.8 226 349.2 227 346.5 228 345 228.5 338.8 228 335.1 227.7 332.6 227 330.3 226 328.8 225 327.9 224 327.2 223 326.7 222 326.3 221 325.9 220 325.2 219 325.2 219 325.2 219 324.5 220 324.2 221 324 222 323.8 223 323.6 224 323.2 225 322.6 226 321.9 227 321 228 319.5 229 317.3 230 315.3 230.7 312.3 230 309.5 229 307.6 228 305.7 227 305.4 226.8 305 227 303.2 228 301.4 229 298.8 230 295.5 230.8 294.7 231 291.7 232 288.1 233 285.6 233.5 283.5 233 280.6 232 278.8 231 277.6 230 276.2 229 275.7 228.7 268.4 229 265.8 229.1 255.9 229.5 254.3 230 251.6 231 247.9 232 246 232.4 244.7 233 242.9 234 240.9 235 237.5 236 236 236.3 234.2 236 229.5 235 226.1 234.2 218 234 216.2 234 211 233 206.9 232 206.3 231.9 206.2 232 205.3 233 204.5 234 203.7 235 202.7 236 201.1 237 198.6 238 196.4 238.6 193.2 238 189.7 237 186.6 236 186.5 236 186.5 236 184.9 237 183.4 238 181.5 239 178.5 240 176.6 240.5 174 240 169.7 239 166.7 238.2 164 238 156.8 237.4 153.3 238 146.9 238.9 141.1 238 137 237.2 136 237 132.2 236 129.9 235 127.7 234 127.1 233.8 125.4 234 117.2 235 117.1 235 113.3 236 108.6 237 107.3 237.2 103.2 238 97.4 238.9 94.7 238 92.7 237 91.3 236 90.4 235 89.7 234 89.1 233 88.7 232 88.2 231 87.6 230 87.5 229.9 87.2 230 81.9 231 77.6 231.7 77.4 232 76.8 233 76.5 234 76.2 235 75.9 236 75.3 237 74.5 238 73.7 239 72.5 240 70.7 241 68.2 242 67.7 242.2 67.2 243 66.7 244 66.3 245 66 246 65.5 247 64.7 248 63.9 249 63 250 62.1 251 61.1 252 59.7 253 57.8 253.8 55.9 253 54.6 252 53.6 251 52.8 250 52 249 51.2 248 50.5 247 50.1 246 49.8 245 49.5 244 49.3 243 49 242 48.8 241 48.3 240 47.9 239.4 46.7 239 43.8 238 42 237 40.8 236 39.9 235 39 234 38 233.1 38 233 38 232 38 231 38 230 38 229 38 228 38 227 38 226 38 225 38 224 38 223 38 222 38 221 38 220 38 219 38 218 38 217 38 216 38 215 38 214 38 213 38 212 38 211 38 210 38 209 38 208 38 207 38 206 38 205 38 204 38 203 38 202 38 201 38 200 38 199 38 198 38 197 38 196 38 195 38 194 38 193 38 192 38 191 38 190 38 189 38 188 38 187 38 186 38 185 38 184 38 183 38 182 38 181 38 180 38 179 38 178 38 177 38 176 38 175 38 174 38 173 38 172 38 171 38 170 38 169 38 168 38 167 38 166 38 165 38 164 38 163 38 162 38 161 38 160 38 159 38 158 38 157 38 156 38 155 38 154 38 153 38 152 38 151 38 150 38 149 38 148 38 147 38 146 38 145 38 144 38 143 38 142 38 141 38 140 38 139 38 138 38 137 38 136 38 135 38 134 38 133 38 132 38 131 38 130 38 129 38 128 38 127 38 126 38 125 38 124 38 123 38 122 38 121 38 120 38 119 38 118 38 117 38 116 38 115 38 114 38 113 38 112 38 111 38 110 38 109 38 108 38 107 38 106 38 105 38 104 38 103 38 102 38 101 38 100 38 99 38 98 38 97 38 96 38 95 38 94 38 93 38 92 38 91 38 90 38 89 38 88 38 87 38 86 38 85 38 84 38 83 38 82 38 81 38 80 38 79 38 78 38 77 38 76 38 75 38 74 38 73 38 72 38 71 38 70 38 69 38 68 38 67 38 66 38 65 38 64 38 63 38 62 38 61 38 60 38 59 38 58 38 57 38 56 38 55 38 54 38 53 38 52 38 51 38 50 38 49 38 48 38 47 38 46 38 45.5 38.6 45 39.6 44 40.2 43 40.5 42 40.7 41 41 40 41.2 39 41.4 38 41.6 37 41.8 36 41.9 35 42.1 34 42.2 33 42.3 32 42.5 31 42.6 30 42.8 29 43 28 43.3 27 43.7 26 44.1 25 44.7 24 47.7 23Z"/>
<path fill="#3838ff" d="M47.9 23.6 49.1 24 49.9 25 50.5 26 51 27 51.3 28 51.6 29 51.9 30 52.2 31 52.4 32 52.6 33 52.8 34 53.1 35 53.4 36 54.1 37 55.2 38 56.9 39 57.8 39.5 59.5 40 62.5 41 66 42 67.7 42.5 69 43 71.1 44 72.5 45 73.4 46 73.8 47 74.2 48 74.5 49 74.7 50 74.9 51 75.1 52 75.3 53 75.4 54 75.6 55 75.9 56 76.4 57 77 58 77.6 58.8 78.6 58 79.6 57 80.4 56 80.8 55 81.2 54 81.6 53 82.1 52 82.8 51 83.6 50 84.6 49 85.9 48 87.5 47.2 88.3 47 91.4 46 93.6 45 95.4 44 97.4 43 99.2 44 100.4 45 101.2 46 102.1 47 103.3 48 105 49 107.3 50 110 49 112 48 113.4 47 114.5 46 115.8 45 117.2 44.4 118.2 44 120.6 43 122 42 122.9 41 123.4 40 123.9 39 124.4 38 125.2 37 126.2 36 127.1 35.5 137 35.6 138 36 139.2 37 140 38 140.8 39 142.1 40 144 41 146.9 42 147.1 42 156.8 42.5 162.4 43 166.7 43.4 168.6 44 171.3 45 175.6 46 176.6 46.2 177.3 46 180.4 45 182.2 44 183.4 43 184.2 42 185.1 41 186.5 40.2 187.9 41 188.8 42 189.5 43 190 44 190.6 45 191.7 46 193.5 47 196.4 48 196.4 48 198.2 49 199.2 50 199.9 51 200.5 52 201 53 201.6 54 202.7 55 204.4 56 206.3 56.8 208.9 56 210.9 55 212 54 212.7 53 213.4 52 214.3 51 215.7 50 216.2 49.8 218.1 49 219.9 48 221 47 221.6 46 221.9 45 222.3 44 222.7 43 223.1 42 223.7 41 224.5 40 225.8 39 226.1 38.8 226.6 39 228.7 40 231.2 41 235.4 42 236 42.2 237.4 43 238.2 44 238.8 45 239.2 46 239.6 47 239.9 48 240.2 49 240.5 50 240.7 51 241 52 241.2 53 241.5 54 241.9 55 242.6 56 243.9 57 245.6 58 246 58.2 246.2 58 247.1 57 248 56 248.6 55 249 54 249.3 53 249.7 52 250.1 51 250.7 50 251.3 49 252.1 48 253.1 47 254.5 46 255.9 45.3 257.2 46 258.6 47 259.6 48 260.4 49 261 50 261.6 51 262 52 262.4 53 262.7 54 263.2 55 263.9 56 265 57 265.8 57.7 266.7 57 267.8 56 268.7 55 269.1 54 269.5 53 269.9 52 270.3 51 270.7 50 271.1 49 271.7 48 272.3 47 273 46 274.1 45 275.7 44.1 277.5 45 278.7 46 279.7 47 281 48 282.8 49 285.2 50 285.6 50.1 286 50 289 49 291 48 292.5 47 293.8 46 295.5 45.3 296 45 298.2 44 299.7 43 300.6 42 301 41 301.4 40 301.9 39 302.4 38 303.1 37 304 36 305.4 35.2 306.7 36 307.6 37 308.3 38 308.8 39 309.3 40 309.7 41 310 42 310.6 43 311.6 44 313.2 45 315.3 45.9 315.7 46 322.7 47 325.2 47.3 331.7 47 335.1 46.8 335.6 47 337.5 48 338.9 49 340.3 50 342.2 51 344.5 52 345 52.2 345.4 52 347.6 51 349 50 350 49 350.6 48 351.4 47 352.3 46 353.5 45 354.9 44.4 356.3 45 357.7 46 359.1 47 360.9 48 363.7 49 364.8 49.3 374.7 49.9 375 50 377.3 51 379.1 52 380.5 53 381.8 54 383.4 55 384.6 55.7 385.6 55 387 54 388 53 388.7 52 389.5 51 390.7 50 392.2 49 394.4 48 394.5 48 394.7 48 401.9 49 404.4 49.3 410.6 50 414.3 50.5 415.8 51 418 52 419.6 53 420.4 54 420.9 55 421.6 56 422.6 57 423.8 58 424.2 58.3 424.7 58 426.3 57 427.6 56 428.5 55 429.2 54 430.1 53 431.3 52 433 51 434.1 50.6 436.1 50 439 49 441.1 48 443.1 47 444 46.7 444 47 444 48 444 49 444 50 444 51 444 52 444 53 444 54 444 55 444 56 444 57 444 58 444 59 444 60 444 61 444 62 444 63 444 64 444 65 444 66 444 67 444 68 444 69 444 70 444 71 444 72 444 73 444 74 444 75 444 76 444 77 444 78 444 79 444 80 444 81 444 82 444 83 444 84 444 85 444 86 444 87 444 88 444 89 444 90 444 91 444 92 444 93 444 94 444 95 444 96 444 97 444 98 444 99 444 100 444 101 444 102 444 103 444 104 444 105 444 106 444 107 444 108 444 109 444 110 444 111 444 112 444 113 444 114 444 115 444 116 444 117 444 118 444 119 444 120 444 121 444 122 444 123 444 124 444 125 444 126 444 127 444 128 444 129 444 130 444 131 444 132 444 133 444 134 444 135 444 136 444 137 444 138 444 139 444 140 444 141 444 142 444 143 444 144 444 145 444 146 444 147 444 148 444 149 444 150 444 151 444 152 444 153 444 154 444 155 444 156 444 157 444 158 444 159 444 160 444 161 444 162 444 163 444 164 444 165 444 166 444 167 444 168 444 169 444 170 444 171 444 172 444 173 444 174 444 175 444 176 444 177 444 178 444 179 444 180 444 181 444 182 444 183 444 184 444 185 444 186 444 187 444 188 444 189 444 190 444 191 444 192 444 193 444 194 444 195 444 196 444 197 444 198 444 199 444 200 444 201 444 202 444 203 444 204 444 205 444 206 444 207 444 208 444 209 444 210 444 211 444 212 444 213 444 214 444 215 444 216 444 217 444 218 444 219 444 220 444 221 444 222 444 223 444 224 444 225 444 226 444 226.1 443.8 226 441.3 225 439.7 224 438.6 223 437.5 222 436.9 221 436.7 220 436.4 219 435.8 218 435 217 434.1 216.2 431.9 217 429.3 218 426.6 219 424.2 219.7 423.7 220 422.3 221 420.8 222 419.3 223 417.8 224 415.2 225 414.3 225.3 412.7 226 410.5 227 408.2 228 405.4 229 404.4 229.3 403.6 229 401.5 228 400 227 398.9 226 398 225 397.4 224 397.2 223 396.9 222 396.7 221 396.3 220 395.6 219 394.8 218 394.5 217.8 394 218 391.9 219 389.9 220 387.8 221 384.8 222 384.6 222.1 383.8 222 374.7 221.3 372.9 222 370.6 223 368.2 224 365 225 364.8 225.1 364.6 225 361.9 224 360.2 223 359 222 358 221 357.1 220 356.2 219 355.1 218 354.9 217.9 354.7 218 353.7 219 352.9 220 352.4 221 352.1 222 351.4 223 350.4 224 349.2 225 347.5 226 345 227 335.1 226.3 334.2 226 331.9 225 330.4 224 329.3 223 328.4 222 327.8 221 327.4 220 326.7 219 325.7 218 325.2 217.6 324.7 218 323.9 219 323.3 220 322.9 221 322.7 222 322.5 223 322.2 224 321.6 225 320.6 226 319.5 227 318 228 315.8 229 315.3 229.2 314.6 229 311.6 228 309.2 227 306.8 226 305.4 225.4 304 226 301.6 227 299.4 228 296.5 229 295.5 229.3 293 230 289.6 231 285.6 232 282.6 231 280.7 230 278.9 229 277.1 228 275.7 227.2 265.8 227.7 255.9 228 255.8 228 252.6 229 249.4 230 246 230.9 245.7 231 243.4 232 241.2 233 238.7 234 236 234.8 232 234 227.5 233 226.1 232.7 216.2 232.5 213.7 232 209.1 231 206.3 230.4 205.5 231 204.5 232 203.5 233 202.3 234 201 235 199.3 236 196.8 237 196.4 237.1 195.9 237 191.9 236 188.3 235 186.5 234.5 185.6 235 183.6 236 181.6 237 179.5 238 176.6 238.9 172.2 238 167.9 237 166.7 236.7 157.9 236 156.8 235.9 156.3 236 149.9 237 146.9 237.4 144.3 237 138.6 236 137 235.7 134.5 235 131.6 234 129 233 127.1 232.3 121.5 233 117.2 233.5 115.1 234 110.8 235 107.3 235.7 105.7 236 100.1 237 97.4 237.4 96.3 237 94.2 236 92.8 235 91.7 234 90.8 233 90.2 232 89.6 231 88.9 230 88.1 229 87.5 228.5 84.6 229 78.8 230 77.6 230.2 76.8 231 76.1 232 75.5 233 75.2 234 74.8 235 74.3 236 73.4 237 72.3 238 71.1 239 69.3 240 67.7 240.7 67.4 241 66.5 242 65.8 243 65.4 244 65 245 64.6 246 63.9 247 62.9 248 61.7 249 60.6 250 59.5 251 58.1 252 57.8 252.2 57.5 252 56.2 251 55.1 250 54 249 52.9 248 52 247 51.4 246 51 245 50.7 244 50.5 243 50.2 242 49.9 241 49.5 240 48.9 239 48.1 238 47.9 237.8 45.6 237 43.7 236 42.4 235 41 234 39.8 233 38.6 232 38 231.6 38 231 38 230 38 229 38 228 38 227 38 226 38 225 38 224 38 223 38 222 38 221 38 220 38 219 38 218 38 217 38 216 38 215 38 214 38 213 38 212 38 211 38 210 38 209 38 208 38 207 38 206 38 205 38 204 38 203 38 202 38 201 38 200 38 199 38 198 38 197 38 196 38 195 38 194 38 193 38 192 38 191 38 190 38 189 38 188 38 187 38 186 38 185 38 184 38 183 38 182 38 181 38 180 38 179 38 178 38 177 38 176 38 175 38 174 38 173 38 172 38 171 38 170 38 169 38 168 38 167 38 166 38 165 38 164 38 163 38 162 38 161 38 160 38 159 38 158 38 157 38 156 38 155 38 154 38 153 38 152 38 151 38 150 38 149 38 148 38 147 38 146 38 145 38 144 38 143 38 142 38 141 38 140 38 139 38 138 38 137 38 136 38 135 38 134 38 133 38 132 38 131 38 130 38 129 38 128 38 127 38 126 38 125 38 124 38 123 38 122 38 121 38 120 38 119 38 118 38 117 38 116 38 115 38 114 38 113 38 112 38 111 38 110 38 109 38 108 38 107 38 106 38 105 38 104 38 103 38 102 38 101 38 100 38 99 38 98 38 97 38 96 38 95 38 94 38 93 38 92 38 91 38 90 38 89 38 88 38 87 38 86 38 85 38 84 38 83 38 82 38 81 38 80 38 79 38 78 38 77 38 76 38 75 38 74 38 73 38 72 38 71 38 70 38 69 38 68 38 67 38 66 38 65 38 64 38 63 38 62 38 61 38 60 38 59 38 58 38 57 38 56 38 55 38 54 38 53 38 52 38 51 38 50 38 49 38 48 38 47 38 46.4 38.5 46 39.7 45 40.7 44 41.3 43 41.6 42 42 41 42.2 40 42.5 39 42.7 38 42.9 37 43.1 36 43.3 35 43.4 34 43.6 33 43.7 32 43.9 31 44.1 30 44.3 29 44.6 28 44.9 27 45.3 26 45.9 25 46.7 24Z"/>
<path fill="#4242ff" d="M47.9 24.8 48.1 25 48.8 26 49.3 27 49.8 28 50.1 29 50.4 30 50.6 31 50.9 32 51.1 33 51.3 34 51.6 35 51.9 36 52.4 37 53.4 38 54.8 39 56.6 40 57.8 40.5 59.2 41 62.5 42 66.3 43 67.7 43.3 69.4 44 71.2 45 72.2 46 72.8 47 73.2 48 73.6 49 73.9 50 74.1 51 74.3 52 74.5 53 74.8 54 75 55 75.2 56 75.7 57 76.4 58 77.1 59 77.6 59.6 78.4 59 79.6 58 80.6 57 81.4 56 81.9 55 82.3 54 82.8 53 83.5 52 84.3 51 85.3 50 86.5 49 87.5 48.4 89 48 92.2 47 94.6 46 96.5 45 97.4 44.5 98.1 45 99.2 46 100.1 47 101.2 48 102.7 49 104.7 50 107.3 51 107.3 51 107.3 51 110.4 50 112.7 49 114.3 48 115.6 47 116.8 46 117.2 45.7 119.1 45 121.4 44 123.1 43 124.2 42 124.9 41 125.4 40 125.9 39 126.6 38 127.1 37.4 137 37.3 137.8 38 138.6 39 139.6 40 141 41 143.1 42 145.6 43 146.9 43.6 155 44 156.8 44.1 166.5 45 166.7 45 169.3 46 173.3 47 176.6 47.8 178.8 47 181.6 46 183.6 45 184.8 44 185.7 43 186.5 42.1 187.3 43 187.9 44 188.5 45 189.3 46 190.6 47 192.6 48 195.1 49 196.4 49.5 197 50 198 51 198.7 52 199.3 53 199.9 54 200.9 55 202.4 56 204.5 57 206.3 57.6 209.1 57 211.7 56 213.2 55 214.1 54 214.8 53 215.6 52 216.2 51.4 216.9 51 218.7 50 220.6 49 222 48 222.9 47 223.3 46 223.7 45 224.1 44 224.6 43 225.1 42 225.8 41 226.1 40.6 226.8 41 229.3 42 232.8 43 236 43.9 236.1 44 236.9 45 237.4 46 237.9 47 238.3 48 238.6 49 238.9 50 239.2 51 239.4 52 239.7 53 240 54 240.4 55 241.1 56 242.2 57 243.7 58 245.5 59 246 59.2 246.1 59 247.1 58 248.1 57 248.9 56 249.5 55 250 54 250.4 53 250.9 52 251.4 51 252 50 252.8 49 253.8 48 255.1 47 255.9 46.5 256.6 47 257.9 48 258.9 49 259.7 50 260.3 51 260.9 52 261.3 53 261.7 54 262.2 55 263 56 264 57 265.1 58 265.8 58.5 266.5 58 267.8 57 268.9 56 269.7 55 270.3 54 270.7 53 271.2 52 271.6 51 272.1 50 272.7 49 273.3 48 274 47 275 46 275.7 45.4 276.4 46 277.6 47 278.8 48 280.4 49 282.4 50 284.8 51 285.6 51.3 286.6 51 289.7 50 292 49 293.7 48 295 47 295.5 46.7 296.7 46 298.7 45 300.4 44 301.6 43 302.3 42 302.8 41 303.3 40 303.8 39 304.4 38 305.2 37 305.4 36.9 305.5 37 306.3 38 306.9 39 307.4 40 307.9 41 308.3 42 308.8 43 309.6 44 310.9 45 312.8 46 315.1 47 315.3 47.1 322.5 48 325.2 48.3 334.8 48 335.1 48 335.1 48 336.8 49 338.4 50 340.2 51 342.3 52 344.9 53 345 53 345.1 53 347.5 52 349.4 51 350.8 50 351.7 49 352.5 48 353.3 47 354.5 46 354.9 45.7 355.3 46 356.7 47 358.3 48 360.6 49 364.2 50 364.8 50.1 374.7 50.9 375 51 377.3 52 379 53 380.4 54 381.9 55 383.6 56 384.6 56.5 385.4 56 386.9 55 388.2 54 389.2 53 390.1 52 391.1 51 392.6 50 394.5 49 403 50 404.4 50.1 412 51 414.3 51.3 416.1 52 418.1 53 419.2 54 419.8 55 420.6 56 421.5 57 422.7 58 424 59 424.2 59.1 424.5 59 426.2 58 427.7 57 429 56 430 55 430.9 54 432 53 433.5 52 434.1 51.7 436.6 51 439.8 50 442.1 49 444 48 444 49 444 50 444 51 444 52 444 53 444 54 444 55 444 56 444 57 444 58 444 59 444 60 444 61 444 62 444 63 444 64 444 65 444 66 444 67 444 68 444 69 444 70 444 71 444 72 444 73 444 74 444 75 444 76 444 77 444 78 444 79 444 80 444 81 444 82 444 83 444 84 444 85 444 86 444 87 444 88 444 89 444 90 444 91 444 92 444 93 444 94 444 95 444 96 444 97 444 98 444 99 444 100 444 101 444 102 444 103 444 104 444 105 444 106 444 107 444 108 444 109 444 110 444 111 444 112 444 113 444 114 444 115 444 116 444 117 444 118 444 119 444 120 444 121 444 122 444 123 444 124 444 125 444 126 444 127 444 128 444 129 444 130 444 131 444 132 444 133 444 134 444 135 444 136 444 137 444 138 444 139 444 140 444 141 444 142 444 143 444 144 444 145 444 146 444 147 444 148 444 149 444 150 444 151 444 152 444 153 444 154 444 155 444 156 444 157 444 158 444 159 444 160 444 161 444 162 444 163 444 164 444 165 444 166 444 167 444 168 444 169 444 170 444 171 444 172 444 173 444 174 444 175 444 176 444 177 444 178 444 179 444 180 444 181 444 182 444 183 444 184 444 185 444 186 444 187 444 188 444 189 444 190 444 191 444 192 444 193 444 194 444 195 444 196 444 197 444 198 444 199 444 200 444 201 444 202 444 203 444 204 444 205 444 206 444 207 444 208 444 209 444 210 444 211 444 212 444 213 444 214 444 215 444 216 444 217 444 218 444 219 444 220 444 221 444 222 444 223 444 224 444 224.8 442.3 224 440.7 223 439.3 222 438.4 221 438.1 220 437.8 219 437.2 218 436.5 217 435.5 216 434.2 215 434.1 214.9 433.9 215 431.3 216 428.3 217 425.5 218 424.2 218.4 423.2 219 421.8 220 420.3 221 418.5 222 416.6 223 414.4 224 414.3 224 412.2 225 409.7 226 407.2 227 404.5 228 404.4 228 404.3 228 402.4 227 400.9 226 399.6 225 398.9 224 398.5 223 398.2 222 397.9 221 397.5 220 396.9 219 396.1 218 395.1 217 394.5 216.5 393.5 217 391.5 218 389.1 219 386.7 220 384.6 220.8 374.7 220 372.5 221 369.8 222 367.1 223 364.8 223.8 362.9 223 361.3 222 359.8 221 358.7 220 357.9 219 356.8 218 355.5 217 354.9 216.6 354.3 217 353.1 218 352.2 219 351.5 220 351 221 350.6 222 349.7 223 348.2 224 346.5 225 345 225.7 335.1 225 335 225 333 224 331.3 223 330 222 329.3 221 328.8 220 328.2 219 327.3 218 326.1 217 325.2 216.3 324.3 217 323.3 218 322.6 219 322 220 321.6 221 321.4 222 321.1 223 320.7 224 320 225 318.6 226 317.1 227 315.3 227.9 312.6 227 310 226 307.3 225 305.4 224.1 303.5 225 300.9 226 298.3 227 295.5 228 295.5 228 292 229 288.3 230 285.6 230.7 283.7 230 281.6 229 279.4 228 277.5 227 275.8 226 275.7 225.9 274.2 226 265.8 226.4 255.9 226.7 255.1 227 251.6 228 248.2 229 246 229.6 245.2 230 242.9 231 240.2 232 237.6 233 236 233.5 233.5 233 228.8 232 226.1 231.4 216.2 231.2 215.1 231 210.4 230 206.3 229.1 205 230 203.8 231 202.8 232 201.6 233 200 234 198.3 235 196.4 235.8 193.1 235 189.3 234 186.5 233.2 185.1 234 183 235 180.6 236 178.3 237 176.6 237.6 173.7 237 169.2 236 166.7 235.4 161.3 235 156.8 234.6 154.4 235 147.9 236 146.9 236.1 146.1 236 140.3 235 137 234.4 135.6 234 132.7 233 129.7 232 127.1 231 119.2 232 117.2 232.2 113.8 233 109.4 234 107.3 234.4 104.1 235 98.3 236 97.4 236.1 97.1 236 95.2 235 93.7 234 92.4 233 91.6 232 91 231 90.3 230 89.5 229 88.4 228 87.5 227.2 83 228 77.6 228.9 77.5 229 76.4 230 75.5 231 74.8 232 74.3 233 73.8 234 73.4 235 72.7 236 71.6 237 70.1 238 68.4 239 67.7 239.4 66.9 240 65.9 241 65.1 242 64.5 243 64.1 244 63.7 245 63.2 246 62.4 247 61.1 248 59.6 249 58.2 250 57.8 250.3 57.4 250 56.1 249 54.7 248 53.4 247 52.7 246 52.3 245 52 244 51.7 243 51.4 242 51.1 241 50.7 240 50.1 239 49.4 238 48.4 237 47.9 236.5 46.6 236 44.8 235 43.1 234 41.6 233 40.4 232 39 231 38 230.3 38 230 38 229 38 228 38 227 38 226 38 225 38 224 38 223 38 222 38 221 38 220 38 219 38 218 38 217 38 216 38 215 38 214 38 213 38 212 38 211 38 210 38 209 38 208 38 207 38 206 38 205 38 204 38 203 38 202 38 201 38 200 38 199 38 198 38 197 38 196 38 195 38 194 38 193 38 192 38 191 38 190 38 189 38 188 38 187 38 186 38 185 38 184 38 183 38 182 38 181 38 180 38 179 38 178 38 177 38 176 38 175 38 174 38 173 38 172 38 171 38 170 38 169 38 168 38 167 38 166 38 165 38 164 38 163 38 162 38 161 38 160 38 159 38 158 38 157 38 156 38 155 38 154 38 153 38 152 38 151 38 150 38 149 38 148 38 147 38 146 38 145 38 144 38 143 38 142 38 141 38 140 38 139 38 138 38 137 38 136 38 135 38 134 38 133 38 132 38 131 38 130 38 129 38 128 38 127 38 126 38 125 38 124 38 123 38 122 38 121 38 120 38 119 38 118 38 117 38 116 38 115 38 114 38 113 38 112 38 111 38 110 38 109 38 108 38 107 38 106 38 105 38 104 38 103 38 102 38 101 38 100 38 99 38 98 38 97 38 96 38 95 38 94 38 93 38 92 38 91 38 90 38 89 38 88 38 87 38 86 38 85 38 84 38 83 38 82 38 81 38 80 38 79 38 78 38 77 38 76 38 75 38 74 38 73 38 72 38 71 38 70 38 69 38 68 38 67 38 66 38 65 38 64 38 63 38 62 38 61 38 60 38 59 38 58 38 57 38 56 38 55 38 54 38 53 38 52 38 51 38 50 38 49 38 48 38 47.2 38.3 47 39.7 46 40.9 45 41.8 44 42.4 43 42.8 42 43.2 41 43.5 40 43.8 39 44 38 44.2 37 44.4 36 44.6 35 44.8 34 45 33 45.1 32 45.3 31 45.5 30 45.8 29 46.1 28 46.5 27 47 26 47.7 25Z"/>
<path fill="#4c4cff" d="M47.9 27.4 48.2 28 48.6 29 48.9 30 49.1 31 49.4 32 49.6 33 49.8 34 50.1 35 50.3 36 50.8 37 51.5 38 52.7 39 54.2 40 56.1 41 57.8 41.6 59.1 42 62.6 43 67.6 44 67.7 44 69.9 45 71.1 46 71.8 47 72.3 48 72.7 49 73 50 73.3 51 73.6 52 73.8 53 74.1 54 74.3 55 74.6 56 75.1 57 75.8 58 76.5 59 77.3 60 77.6 60.4 78.2 60 79.5 59 80.7 58 81.7 57 82.4 56 82.9 55 83.5 54 84.1 53 84.9 52 85.8 51 87 50 87.5 49.6 90.3 49 93.5 48 96 47 97.4 46.3 98.1 47 99.2 48 100.4 49 102.1 50 104.4 51 107.3 51.9 111 51 113.5 50 115.3 49 116.7 48 117.2 47.5 118.9 47 121.3 46 123.1 45 124.6 44 125.6 43 126.3 42 126.8 41 127.1 40.4 135 40 137 39.9 137.1 40 138 41 139.3 42 141 43 142.9 44 145.1 45 146.9 45.8 149.8 46 156.8 46.7 160.2 47 166.7 47.6 167.9 48 171.6 49 176.2 50 176.6 50.1 177 50 180.1 49 182.5 48 184.3 47 185.8 46 186.5 45.3 187 46 187.7 47 188.8 48 190.3 49 192.2 50 194.8 51 196.4 51.5 196.8 52 197.5 53 198.2 54 199.1 55 200.3 56 202.1 57 205 58 206.3 58.3 209 58 212.7 57 214.4 56 215.4 55 216.2 54 216.2 53.9 217.4 53 218.9 52 220.3 51 221.7 50 223.1 49 224.1 48 224.7 47 225.1 46 225.5 45 225.9 44 226.1 43.6 227.2 44 229.9 45 233.1 46 236 46.8 236.1 47 236.6 48 236.9 49 237.3 50 237.6 51 237.9 52 238.2 53 238.5 54 238.9 55 239.6 56 240.5 57 241.8 58 243.5 59 245.9 60 246 60 246 60 247.1 59 248.1 58 249 57 249.8 56 250.5 55 251 54 251.5 53 252 52 252.7 51 253.4 50 254.4 49 255.5 48 255.9 47.8 256.2 48 257.3 49 258.3 50 259 51 259.7 52 260.3 53 260.7 54 261.3 55 262 56 263 57 264.1 58 265.3 59 265.8 59.3 266.3 59 267.6 58 268.9 57 269.9 56 270.8 55 271.4 54 271.9 53 272.4 52 273 51 273.6 50 274.2 49 275 48 275.7 47.2 276.6 48 277.9 49 279.6 50 281.7 51 284.1 52 285.6 52.6 288 52 291.1 51 293.3 50 295 49 295.5 48.7 296.6 48 298.3 47 299.8 46 301.4 45 302.7 44 303.5 43 304.1 42 304.6 41 305.1 40 305.4 39.5 305.6 40 306.1 41 306.6 42 307 43 307.7 44 308.7 45 310.1 46 311.9 47 314.6 48 315.3 48.2 323.3 49 325.2 49.1 335.1 49.2 336.4 50 338.1 51 340.2 52 342.5 53 345 53.7 347.4 53 349.6 52 351.3 51 352.5 50 353.4 49 354.3 48 354.9 47.4 355.7 48 357.5 49 360.2 50 364.8 50.8 367.5 51 374.7 51.7 375.5 52 377.4 53 379 54 380.5 55 382.1 56 383.9 57 384.6 57.3 385.2 57 386.8 56 388.2 55 389.4 54 390.5 53 391.5 52 392.7 51 394.4 50 394.5 50 394.7 50 404.4 50.8 406.3 51 414.2 52 414.3 52 416.7 53 418 54 418.7 55 419.5 56 420.5 57 421.6 58 422.8 59 424.2 59.9 426 59 427.7 58 429.2 57 430.4 56 431.4 55 432.5 54 433.9 53 434.1 52.9 437.9 52 441.1 51 443.5 50 444 49.7 444 50 444 51 444 52 444 53 444 54 444 55 444 56 444 57 444 58 444 59 444 60 444 61 444 62 444 63 444 64 444 65 444 66 444 67 444 68 444 69 444 70 444 71 444 72 444 73 444 74 444 75 444 76 444 77 444 78 444 79 444 80 444 81 444 82 444 83 444 84 444 85 444 86 444 87 444 88 444 89 444 90 444 91 444 92 444 93 444 94 444 95 444 96 444 97 444 98 444 99 444 100 444 101 444 102 444 103 444 104 444 105 444 106 444 107 444 108 444 109 444 110 444 111 444 112 444 113 444 114 444 115 444 116 444 117 444 118 444 119 444 120 444 121 444 122 444 123 444 124 444 125 444 126 444 127 444 128 444 129 444 130 444 131 444 132 444 133 444 134 444 135 444 136 444 137 444 138 444 139 444 140 444 141 444 142 444 143 444 144 444 145 444 146 444 147 444 148 444 149 444 150 444 151 444 152 444 153 444 154 444 155 444 156 444 157 444 158 444 159 444 160 444 161 444 162 444 163 444 164 444 165 444 166 444 167 444 168 444 169 444 170 444 171 444 172 444 173 444 174 444 175 444 176 444 177 444 178 444 179 444 180 444 181 444 182 444 183 444 184 444 185 444 186 444 187 444 188 444 189 444 190 444 191 444 192 444 193 444 194 444 195 444 196 444 197 444 198 444 199 444 200 444 201 444 202 444 203 444 204 444 205 444 206 444 207 444 208 444 209 444 210 444 211 444 212 444 213 444 214 444 215 444 216 444 217 444 218 444 219 444 220 444 221 444 222 444 223 444 223.6 442.8 223 441 222 439.9 221 439.5 220 439.1 219 438.6 218 438 217 437.1 216 436 215 434.6 214 434.1 213.7 433.4 214 431.1 215 428.2 216 424.8 217 424.2 217.2 422.7 218 421.2 219 419.8 220 418.3 221 416.1 222 414.3 222.8 413.8 223 411.8 224 409.6 225 406.8 226 404.4 226.8 402.8 226 401.2 225 400.3 224 399.9 223 399.5 222 399.2 221 398.8 220 398.2 219 397.5 218 396.6 217 395.4 216 394.5 215.3 393 216 391.1 217 388.9 218 386.2 219 384.6 219.6 376.9 219 374.7 218.8 374.2 219 372.1 220 369.7 221 366.6 222 364.8 222.6 363.5 222 361.6 221 360.3 220 359.5 219 358.6 218 357.4 217 355.9 216 354.9 215.4 353.9 216 352.6 217 351.5 218 350.7 219 350 220 349.5 221 349 222 347.9 223 346 224 345 224.5 337.6 224 335.1 223.8 333.4 223 331.7 222 330.8 221 330.3 220 329.6 219 328.8 218 327.8 217 326.5 216 325.2 215.1 324 216 322.9 217 322 218 321.3 219 320.7 220 320.4 221 320.1 222 319.7 223 319.3 224 318.3 225 316.6 226 315.3 226.7 313.1 226 310.1 225 307.7 224 305.6 223 305.4 222.9 305.1 223 303 224 300.8 225 297.9 226 295.5 226.8 294.9 227 291.8 228 287.6 229 285.6 229.5 284.3 229 281.7 228 279.7 227 278.1 226 276.3 225 275.7 224.7 269.9 225 265.8 225.2 255.9 225.5 254.5 226 251.5 227 247.5 228 246 228.4 244.6 229 242.6 230 240 231 236.9 232 236 232.3 234.5 232 229.3 231 226.1 230.2 216.2 230 216.2 230 210.9 229 206.7 228 206.3 227.9 206.1 228 204.4 229 203.1 230 202 231 201.1 232 199.8 233 197.8 234 196.4 234.6 193.8 234 189.6 233 186.5 232 186.5 232 186.5 232 184.5 233 182.7 234 180.5 235 177.7 236 176.6 236.4 174.7 236 169.7 235 166.7 234.2 164.2 234 156.8 233.4 153.4 234 146.9 234.9 141.2 234 137 233.2 136.4 233 132.9 232 130 231 127.6 230 127.1 229.8 125.8 230 117.2 231 117.2 231 113.2 232 108.3 233 107.3 233.2 103.1 234 97.4 234.9 95.7 234 94.1 233 93.1 232 92.4 231 91.7 230 90.9 229 89.9 228 88.8 227 87.5 226 87.5 226 87.5 226 82.1 227 77.6 227.7 77.2 228 76.1 229 75.1 230 74.2 231 73.6 232 73 233 72.5 234 72 235 71.2 236 69.7 237 67.9 238 67.7 238.1 66.5 239 65.4 240 64.5 241 63.8 242 63.2 243 62.7 244 62.3 245 61.8 246 60.9 247 59.3 248 57.8 248.8 56.4 248 54.9 247 54 246 53.6 245 53.2 244 52.9 243 52.6 242 52.3 241 51.9 240 51.4 239 50.7 238 49.8 237 48.8 236 47.9 235.3 47.3 235 45.1 234 43.4 233 42.2 232 40.9 231 39.5 230 38 229.1 38 229 38 228 38 227 38 226 38 225 38 224 38 223 38 222 38 221 38 220 38 219 38 218 38 217 38 216 38 215 38 214 38 213 38 212 38 211 38 210 38 209 38 208 38 207 38 206 38 205 38 204 38 203 38 202 38 201 38 200 38 199 38 198 38 197 38 196 38 195 38 194 38 193 38 192 38 191 38 190 38 189 38 188 38 187 38 186 38 185 38 184 38 183 38 182 38 181 38 180 38 179 38 178 38 177 38 176 38 175 38 174 38 173 38 172 38 171 38 170 38 169 38 168 38 167 38 166 38 165 38 164 38 163 38 162 38 161 38 160 38 159 38 158 38 157 38 156 38 155 38 154 38 153 38 152 38 151 38 150 38 149 38 148 38 147 38 146 38 145 38 144 38 143 38 142 38 141 38 140 38 139 38 138 38 137 38 136 38 135 38 134 38 133 38 132 38 131 38 130 38 129 38 128 38 127 38 126 38 125 38 124 38 123 38 122 38 121 38 120 38 119 38 118 38 117 38 116 38 115 38 114 38 113 38 112 38 111 38 110 38 109 38 108 38 107 38 106 38 105 38 104 38 103 38 102 38 101 38 100 38 99 38 98 38 97 38 96 38 95 38 94 38 93 38 92 38 91 38 90 38 89 38 88 38 87 38 86 38 85 38 84 38 83 38 82 38 81 38 80 38 79 38 78 38 77 38 76 38 75 38 74 38 73 38 72 38 71 38 70 38 69 38 68 38 67 38 66 38 65 38 64 38 63 38 62 38 61 38 60 38 59 38 58 38 57 38 56 38 55 38 54 38 53 38 52 38 51 38 50 38 49 38 48 38 48 39.5 47 40.8 46 42 45 42.9 44 43.5 43 44 42 44.4 41 44.7 40 45 39 45.3 38 45.6 37 45.8 36 46 35 46.2 34 46.3 33 46.5 32 46.7 31 47 30 47.3 29 47.6 28Z"/>
<path fill="#5757ff" d="M47.9 32.1 48.1 33 48.3 34 48.6 35 48.8 36 49.2 37 49.7 38 50.5 39 51.7 40 53.3 41 55.7 42 57.8 42.7 59 43 63.3 44 67.7 44.6 68.5 45 70 46 70.8 47 71.4 48 71.8 49 72.2 50 72.5 51 72.8 52 73.1 53 73.4 54 73.6 55 74 56 74.5 57 75.2 58 75.9 59 76.6 60 77.5 61 77.6 61.1 77.7 61 79.4 60 80.6 59 81.7 58 82.7 57 83.4 56 84 55 84.6 54 85.3 53 86.2 52 87.3 51 87.5 50.8 92 50 95.7 49 97.4 48.3 98.2 49 99.5 50 101.4 51 104.3 52 107.3 52.7 111.4 52 114.6 51 116.6 50 117.2 49.6 119.5 49 122.6 48 124.7 47 126.1 46 127.1 45 127.2 45 133.4 44 137 43.6 137.6 44 139.3 45 141.2 46 143.4 47 145.7 48 146.9 48.5 150.4 49 156.4 50 156.8 50.1 165.5 51 166.7 51.1 170.7 52 176.3 53 176.6 53.1 177 53 181.4 52 184.6 51 186.5 50.1 187.7 51 189.7 52 192.6 53 196.4 53.9 196.5 54 197.3 55 198.3 56 199.7 57 202 58 206.3 58.9 214.8 58 216.2 57.2 216.4 57 217.4 56 218.5 55 219.8 54 221.2 53 222.5 52 223.7 51 224.8 50 225.6 49 226.1 48 226.1 47.9 226.3 48 229.4 49 232.7 50 235.8 51 236 51.1 236.4 52 236.7 53 237.1 54 237.5 55 238 56 238.8 57 240 58 241.5 59 243.6 60 246 60.8 247 60 248.1 59 249 58 249.9 57 250.8 56 251.4 55 252 54 252.5 53 253.2 52 253.9 51 254.8 50 255.9 49 256.9 50 257.8 51 258.5 52 259.2 53 259.7 54 260.3 55 261.1 56 262 57 263.1 58 264.2 59 265.8 60 265.8 60 265.8 60 267.5 59 268.8 58 270 57 271 56 271.9 55 272.5 54 273.1 53 273.7 52 274.4 51 275 50 275.7 49.2 276.8 50 278.6 51 280.7 52 283.2 53 285.6 53.8 289.9 53 293.3 52 295.5 51 295.5 51 296.9 50 298.5 49 300.1 48 301.6 47 303 46 304.1 45 304.9 44 305.4 43.2 305.8 44 306.4 45 307.4 46 308.8 47 310.9 48 314 49 315.3 49.3 325.2 49.9 327.9 50 335.1 50.4 336.1 51 338 52 340.2 53 343.5 54 345 54.3 346.5 54 349.8 53 351.7 52 353.2 51 354.2 50 354.9 49.3 356.3 50 360.6 51 364.8 51.4 371 52 374.7 52.4 375.9 53 377.5 54 379 55 380.6 56 382.3 57 384.6 57.9 386.6 57 388.1 56 389.5 55 390.7 54 391.8 53 392.8 52 394.3 51 394.5 50.9 396.1 51 404.4 51.4 409.2 52 414.3 52.6 415.2 53 416.7 54 417.6 55 418.4 56 419.4 57 420.5 58 421.6 59 423 60 424.2 60.6 425.8 60 427.6 59 429.2 58 430.6 57 431.8 56 432.9 55 434.1 54 434.3 54 439.6 53 443.1 52 444 51.6 444 52 444 53 444 54 444 55 444 56 444 57 444 58 444 59 444 60 444 61 444 62 444 63 444 64 444 65 444 66 444 67 444 68 444 69 444 70 444 71 444 72 444 73 444 74 444 75 444 76 444 77 444 78 444 79 444 80 444 81 444 82 444 83 444 84 444 85 444 86 444 87 444 88 444 89 444 90 444 91 444 92 444 93 444 94 444 95 444 96 444 97 444 98 444 99 444 100 444 101 444 102 444 103 444 104 444 105 444 106 444 107 444 108 444 109 444 110 444 111 444 112 444 113 444 114 444 115 444 116 444 117 444 118 444 119 444 120 444 121 444 122 444 123 444 124 444 125 444 126 444 127 444 128 444 129 444 130 444 131 444 132 444 133 444 134 444 135 444 136 444 137 444 138 444 139 444 140 444 141 444 142 444 143 444 144 444 145 444 146 444 147 444 148 444 149 444 150 444 151 444 152 444 153 444 154 444 155 444 156 444 157 444 158 444 159 444 160 444 161 444 162 444 163 444 164 444 165 444 166 444 167 444 168 444 169 444 170 444 171 444 172 444 173 444 174 444 175 444 176 444 177 444 178 444 179 444 180 444 181 444 182 444 183 444 184 444 185 444 186 444 187 444 188 444 189 444 190 444 191 444 192 444 193 444 194 444 195 444 196 444 197 444 198 444 199 444 200 444 201 444 202 444 203 444 204 444 205 444 206 444 207 444 208 444 209 444 210 444 211 444 212 444 213 444 214 444 215 444 216 444 217 444 218 444 219 444 220 444 221 444 222 444 222.7 442.7 222 441.4 221 440.9 220 440.5 219 440 218 439.4 217 438.7 216 437.7 215 436.5 214 434.8 213 434.1 212.7 433 213 430.4 214 428.2 215 425.1 216 424.2 216.3 422.1 217 420.5 218 419.1 219 417.9 220 416.3 221 414.3 221.8 413.6 222 411 223 409.2 224 407 225 404.4 225.8 402.8 225 401.7 224 401.2 223 400.8 222 400.5 221 400 220 399.5 219 398.9 218 398 217 397 216 395.8 215 394.5 214.3 392.4 215 390.5 216 388.7 217 386.4 218 384.6 218.6 376.8 218 374.7 217.8 374 218 371.3 219 369.5 220 367 221 364.8 221.7 363.4 221 361.9 220 361.2 219 360.4 218 359.4 217 358.1 216 356.5 215 354.9 214.4 353.5 215 352 216 350.9 217 350 218 349.2 219 348.6 220 348.1 221 347.5 222 346.1 223 345 223.6 337.3 223 335.1 222.8 333.4 222 332.3 221 331.7 220 331.1 219 330.4 218 329.5 217 328.4 216 327.1 215 325.2 214.1 323.5 215 322.3 216 321.4 217 320.6 218 320 219 319.5 220 319.1 221 318.8 222 318.4 223 317.9 224 316.7 225 315.3 225.7 312.9 225 310.4 224 308.5 223 305.7 222 305.4 221.9 305.1 222 302.2 223 300.4 224 298.2 225 295.5 225.8 294.7 226 291.5 227 288.1 228 285.6 228.6 284 228 281.8 227 280.5 226 279 225 276.6 224 275.7 223.8 270.4 224 265.8 224.2 255.9 224.6 253.9 225 251.3 226 247.9 227 246 227.5 243.9 228 241.9 229 240 230 237.2 231 236 231.4 234.1 231 229.6 230 226.1 229.3 216.2 229 216 229 211 228 206.8 227 206.3 226.9 206.1 227 203.7 228 202.3 229 201.2 230 200.3 231 199.5 232 197.9 233 196.4 233.7 193.4 233 190.1 232 186.5 231 183.8 232 182.1 233 180.3 234 177.9 235 176.6 235.4 174.4 235 170.2 234 166.7 233.2 164.1 233 156.8 232.4 153.1 233 146.9 233.9 141.4 233 137 232.2 136.2 232 132.9 231 130.7 230 127.9 229 127.1 228.8 125.6 229 117.4 230 117.2 230 112.9 231 108.3 232 107.3 232.2 102.8 233 97.4 233.9 95.8 233 94.6 232 93.8 231 93.1 230 92.3 229 91.3 228 90.3 227 89.2 226 87.6 225 87.5 225 87.3 225 82 226 77.6 226.7 77 227 75.7 228 74.6 229 73.7 230 72.9 231 72.3 232 71.7 233 71.2 234 70.6 235 69.6 236 67.9 237 67.7 237.1 66 238 64.8 239 63.9 240 63.1 241 62.4 242 61.9 243 61.4 244 61 245 60.4 246 59.3 247 57.8 247.8 56.4 247 55.3 246 54.8 245 54.4 244 54.1 243 53.8 242 53.5 241 53.1 240 52.6 239 52 238 51.3 237 50.3 236 49.2 235 47.9 234.3 47.2 234 45.3 233 44 232 42.8 231 41.5 230 40 229 38 228.2 38 228 38 227 38 226 38 225 38 224 38 223 38 222 38 221 38 220 38 219 38 218 38 217 38 216 38 215 38 214 38 213 38 212 38 211 38 210 38 209 38 208 38 207 38 206 38 205 38 204 38 203 38 202 38 201 38 200 38 199 38 198 38 197 38 196 38 195 38 194 38 193 38 192 38 191 38 190 38 189 38 188 38 187 38 186 38 185 38 184 38 183 38 182 38 181 38 180 38 179 38 178 38 177 38 176 38 175 38 174 38 173 38 172 38 171 38 170 38 169 38 168 38 167 38 166 38 165 38 164 38 163 38 162 38 161 38 160 38 159 38 158 38 157 38 156 38 155 38 154 38 153 38 152 38 151 38 150 38 149 38 148 38 147 38 146 38 145 38 144 38 143 38 142 38 141 38 140 38 139 38 138 38 137 38 136 38 135 38 134 38 133 38 132 38 131 38 130 38 129 38 128 38 127 38 126 38 125 38 124 38 123 38 122 38 121 38 120 38 119 38 118 38 117 38 116 38 115 38 114 38 113 38 112 38 111 38 110 38 109 38 108 38 107 38 106 38 105 38 104 38 103 38 102 38 101 38 100 38 99 38 98 38 97 38 96 38 95 38 94 38 93 38 92 38 91 38 90 38 89 38 88 38 87 38 86 38 85 38 84 38 83 38 82 38 81 38 80 38 79 38 78 38 77 38 76 38 75 38 74 38 73 38 72 38 71 38 70 38 69 38 68 38 67 38 66 38 65 38 64 38 63 38 62 38 61 38 60 38 59 38 58 38 57 38 56 38 55 38 54 38 53 38 52 38 51 38 50 38 49 38 48.7 39.2 48 40.7 47 41.9 46 43.1 45 44 44 44.6 43 45.1 42 45.6 41 46 40 46.3 39 46.6 38 46.9 37 47.1 36 47.3 35 47.5 34 47.7 33Z"/>
<path fill="#6161ff" d="M47.9 38 48.4 39 49.3 40 50.5 41 52.4 42 55.3 43 57.8 43.7 59 44 65.3 45 67.7 45.3 68.8 46 69.7 47 70.4 48 70.9 49 71.4 50 71.7 51 72.1 52 72.4 53 72.7 54 73 55 73.3 56 73.9 57 74.5 58 75.3 59 76 60 76.9 61 77.6 61.7 79 61 80.5 60 81.7 59 82.8 58 83.7 57 84.4 56 85.1 55 85.7 54 86.6 53 87.5 52.1 88 52 94.6 51 97.4 50.3 98.4 51 100.7 52 104.4 53 107.3 53.6 111.7 53 116.1 52 117.2 51.6 120.6 51 125 50 127.1 49.3 128.1 49 132 48 137 47 139.3 48 141.8 49 144.2 50 146.5 51 146.9 51.2 151.3 52 155.6 53 156.8 53.3 162.8 54 166.7 54.5 170.2 55 176.6 55.9 184.2 55 186.5 54.6 188.2 55 194.4 56 196.4 56.2 197.3 57 199.1 58 202.8 59 206.3 59.6 214.8 60 216.2 60.3 216.5 60 217.3 59 218.2 58 219.3 57 220.7 56 222.1 55 223.6 54 225 53 226.1 52 229.7 53 233 54 235.8 55 236 55.1 236.5 56 237.2 57 238.1 58 239.4 59 241.3 60 244 61 246 61.6 246.8 61 248.1 60 249.1 59 250 58 250.9 57 251.7 56 252.4 55 253 54 253.6 53 254.3 52 255.2 51 255.9 50.3 256.5 51 257.4 52 258.1 53 258.7 54 259.4 55 260.1 56 261 57 262 58 263.2 59 264.6 60 265.8 60.6 267.1 60 268.7 59 269.9 58 271.1 57 272.1 56 272.9 55 273.6 54 274.3 53 275 52 275.7 51.1 277.4 52 279.7 53 282.3 54 285.2 55 285.6 55.1 286.5 55 292.7 54 295.5 53.3 295.8 53 297.2 52 298.7 51 300.4 50 302.1 49 303.7 48 305 47 305.4 46.7 305.7 47 307.1 48 309.5 49 313.2 50 315.3 50.4 325.2 50.7 329.4 51 335.1 51.6 335.8 52 337.8 53 340.7 54 345 54.9 349.5 54 352.2 53 353.8 52 354.9 51.1 363.8 52 364.8 52 373.4 53 374.7 53.2 376.1 54 377.5 55 379 56 380.7 57 382.9 58 384.6 58.6 386.1 58 388 57 389.5 56 390.8 55 391.9 54 393 53 394.2 52 394.5 51.8 402.4 52 404.4 52 411.9 53 414.3 53.3 415.5 54 416.5 55 417.4 56 418.3 57 419.4 58 420.5 59 421.8 60 423.6 61 424.2 61.2 425.1 61 427.5 60 429.2 59 430.7 58 432 57 433.2 56 434.1 55.2 435.7 55 442 54 444 53.5 444 54 444 55 444 56 444 57 444 58 444 59 444 60 444 61 444 62 444 63 444 64 444 65 444 66 444 67 444 68 444 69 444 70 444 71 444 72 444 73 444 74 444 75 444 76 444 77 444 78 444 79 444 80 444 81 444 82 444 83 444 84 444 85 444 86 444 87 444 88 444 89 444 90 444 91 444 92 444 93 444 94 444 95 444 96 444 97 444 98 444 99 444 100 444 101 444 102 444 103 444 104 444 105 444 106 444 107 444 108 444 109 444 110 444 111 444 112 444 113 444 114 444 115 444 116 444 117 444 118 444 119 444 120 444 121 444 122 444 123 444 124 444 125 444 126 444 127 444 128 444 129 444 130 444 131 444 132 444 133 444 134 444 135 444 136 444 137 444 138 444 139 444 140 444 141 444 142 444 143 444 144 444 145 444 146 444 147 444 148 444 149 444 150 444 151 444 152 444 153 444 154 444 155 444 156 444 157 444 158 444 159 444 160 444 161 444 162 444 163 444 164 444 165 444 166 444 167 444 168 444 169 444 170 444 171 444 172 444 173 444 174 444 175 444 176 444 177 444 178 444 179 444 180 444 181 444 182 444 183 444 184 444 185 444 186 444 187 444 188 444 189 444 190 444 191 444 192 444 193 444 194 444 195 444 196 444 197 444 198 444 199 444 200 444 201 444 202 444 203 444 204 444 205 444 206 444 207 444 208 444 209 444 210 444 211 444 212 444 213 444 214 444 215 444 216 444 217 444 218 444 219 444 220 444 221 444 221.8 442.8 221 442.3 220 441.9 219 441.5 218 440.9 217 440.3 216 439.5 215 438.5 214 437.1 213 434.4 212 434.1 211.9 433.5 212 429.4 213 427.4 214 425.4 215 424.2 215.4 421.9 216 419.6 217 418.2 218 417 219 416 220 414.3 221 414.2 221 410.3 222 408.2 223 406.7 224 404.4 225 403.1 224 402.6 223 402.1 222 401.7 221 401.3 220 400.8 219 400.2 218 399.5 217 398.7 216 397.6 215 396 214 394.5 213.4 392.1 214 389.6 215 387.9 216 386.3 217 384.6 217.7 374.7 217 370.3 218 368.3 219 366.9 220 364.8 220.8 363.5 220 362.8 219 362.1 218 361.3 217 360.3 216 359 215 356.5 214 354.9 213.5 353.5 214 351.3 215 350.1 216 349.2 217 348.4 218 347.7 219 347.2 220 346.7 221 346 222 345 222.7 335.1 222 335.1 222 333.7 221 333.2 220 332.6 219 332 218 331.2 217 330.3 216 329.2 215 327.4 214 325.2 213.2 323.3 214 321.7 215 320.7 216 319.9 217 319.2 218 318.7 219 318.2 220 317.8 221 317.4 222 317 223 316.5 224 315.3 224.9 313.1 224 311.5 223 309.3 222 305.4 221.1 301.4 222 299.2 223 297.8 224 295.5 225 295.5 225 290.5 226 288 227 285.6 227.7 284 227 282.8 226 281.7 225 279.9 224 276.1 223 275.7 222.9 273.8 223 265.8 223.4 255.9 223.7 253.9 224 250.2 225 248 226 246 226.6 244 227 240.8 228 239.1 229 237.4 230 236 230.5 233.8 230 230 229 226.1 228.4 216.2 228.2 215.3 228 211.5 227 206.3 226.1 203.1 227 201.3 228 200.2 229 199.3 230 198.5 231 197.8 232 196.4 232.8 193.6 232 191 231 186.5 230.2 183.4 231 181.1 232 179.6 233 178 234 176.6 234.5 174.3 234 170.6 233 166.7 232.3 162.8 232 156.8 231.5 153.2 232 147.2 233 146.9 233 146.6 233 141.4 232 137 231.3 135.9 231 133.7 230 131.5 229 127.5 228 127.1 227.9 126.4 228 118.6 229 117.2 229.2 112.6 230 108.7 231 107.3 231.3 102.8 232 97.4 233 96 232 95.2 231 94.4 230 93.7 229 92.8 228 91.9 227 90.8 226 89.4 225 87.5 224.1 81.9 225 77.6 225.8 77.2 226 75.3 227 74.1 228 73.2 229 72.4 230 71.6 231 71 232 70.5 233 69.9 234 69.2 235 68.1 236 67.7 236.2 65.7 237 64.1 238 63.2 239 62.3 240 61.7 241 61.1 242 60.6 243 60.1 244 59.6 245 59 246 57.8 247 56.6 246 56.1 245 55.7 244 55.3 243 54.9 242 54.6 241 54.3 240 53.8 239 53.3 238 52.7 237 51.9 236 50.9 235 49.3 234 47.9 233.4 47.1 233 45.8 232 44.7 231 43.5 230 42.2 229 40.1 228 38 227.3 38 227 38 226 38 225 38 224 38 223 38 222 38 221 38 220 38 219 38 218 38 217 38 216 38 215 38 214 38 213 38 212 38 211 38 210 38 209 38 208 38 207 38 206 38 205 38 204 38 203 38 202 38 201 38 200 38 199 38 198 38 197 38 196 38 195 38 194 38 193 38 192 38 191 38 190 38 189 38 188 38 187 38 186 38 185 38 184 38 183 38 182 38 181 38 180 38 179 38 178 38 177 38 176 38 175 38 174 38 173 38 172 38 171 38 170 38 169 38 168 38 167 38 166 38 165 38 164 38 163 38 162 38 161 38 160 38 159 38 158 38 157 38 156 38 155 38 154 38 153 38 152 38 151 38 150 38 149 38 148 38 147 38 146 38 145 38 144 38 143 38 142 38 141 38 140 38 139 38 138 38 137 38 136 38 135 38 134 38 133 38 132 38 131 38 130 38 129 38 128 38 127 38 126 38 125 38 124 38 123 38 122 38 121 38 120 38 119 38 118 38 117 38 116 38 115 38 114 38 113 38 112 38 111 38 110 38 109 38 108 38 107 38 106 38 105 38 104 38 103 38 102 38 101 38 100 38 99 38 98 38 97 38 96 38 95 38 94 38 93 38 92 38 91 38 90 38 89 38 88 38 87 38 86 38 85 38 84 38 83 38 82 38 81 38 80 38 79 38 78 38 77 38 76 38 75 38 74 38 73 38 72 38 71 38 70 38 69 38 68 38 67 38 66 38 65 38 64 38 63 38 62 38 61 38 60 38 59 38 58 38 57 38 56 38 55 38 54 38 53 38 52 38 51 38 50 38 49.3 38.6 49 40.5 48 41.9 47 43.1 46 44.2 45 45.1 44 45.7 43 46.3 42 46.8 41 47.2 40 47.6 39Z"/>
<path fill="#6b6bff" d="M47.9 41.2 49.1 42 51.5 43 54.8 44 57.8 44.8 58.9 45 67.7 46 67.7 46 68.7 47 69.5 48 70.1 49 70.5 50 70.9 51 71.3 52 71.6 53 72 54 72.3 55 72.7 56 73.2 57 73.9 58 74.6 59 75.4 60 76.2 61 77.3 62 77.6 62.3 78.3 62 80.2 61 81.7 60 82.8 59 83.8 58 84.7 57 85.4 56 86.1 55 86.9 54 87.5 53.3 90.4 53 97.4 52.1 100 53 104.5 54 107.3 54.5 112.5 54 117.2 53.3 120.2 53 127.1 52.1 127.4 52 130.5 51 134.6 50 137 49.5 138.5 50 141.3 51 143.9 52 146.3 53 146.9 53.3 150.4 54 154.4 55 156.8 55.7 159.5 56 166.7 56.9 167.6 57 175.8 58 176.6 58.1 178.6 58 186.5 57.5 193.5 58 196.4 58.1 198.6 59 204.1 60 206.3 60.3 211.3 61 214.8 62 216.2 62.6 216.7 62 217.6 61 218.5 60 219.5 59 220.7 58 222.2 57 223.9 56 225.7 55 226.1 54.7 227.2 55 231 56 234.1 57 236 57.8 236.2 58 237.4 59 239.1 60 241.5 61 244.4 62 246 62.5 246.6 62 247.9 61 249.1 60 250.1 59 251 58 251.8 57 252.6 56 253.3 55 254 54 254.7 53 255.5 52 255.9 51.6 256.2 52 257 53 257.7 54 258.4 55 259.2 56 260.1 57 261 58 262.1 59 263.4 60 265.3 61 265.8 61.2 266.3 61 268.4 60 269.9 59 271.1 58 272.2 57 273.1 56 274 55 274.7 54 275.5 53 275.7 52.8 276.1 53 278.7 54 281.5 55 284.4 56 285.6 56.4 289.4 56 295.5 55.2 295.7 55 297 54 298.5 53 300.1 52 301.9 51 303.9 50 305.4 49.2 307.7 50 312.1 51 315.3 51.6 325.2 51.6 328.8 52 335.1 52.8 335.5 53 337.8 54 341.6 55 345 55.7 348.6 55 352.4 54 354.6 53 354.9 52.8 364.8 52.8 366.3 53 374.7 54 374.7 54 376.1 55 377.5 56 379 57 381 58 383.9 59 384.6 59.2 385.2 59 387.7 58 389.5 57 390.8 56 392 55 393.2 54 394.3 53 394.5 52.8 404.4 52.8 405.7 53 414.3 54 414.3 54 415.4 55 416.3 56 417.2 57 418.2 58 419.3 59 420.5 60 422.2 61 424.2 61.8 427 61 429.2 60 430.8 59 432.2 58 433.4 57 434.1 56.4 437.8 56 444 55.2 444 56 444 57 444 58 444 59 444 60 444 61 444 62 444 63 444 64 444 65 444 66 444 67 444 68 444 69 444 70 444 71 444 72 444 73 444 74 444 75 444 76 444 77 444 78 444 79 444 80 444 81 444 82 444 83 444 84 444 85 444 86 444 87 444 88 444 89 444 90 444 91 444 92 444 93 444 94 444 95 444 96 444 97 444 98 444 99 444 100 444 101 444 102 444 103 444 104 444 105 444 106 444 107 444 108 444 109 444 110 444 111 444 112 444 113 444 114 444 115 444 116 444 117 444 118 444 119 444 120 444 121 444 122 444 123 444 124 444 125 444 126 444 127 444 128 444 129 444 130 444 131 444 132 444 133 444 134 444 135 444 136 444 137 444 138 444 139 444 140 444 141 444 142 444 143 444 144 444 145 444 146 444 147 444 148 444 149 444 150 444 151 444 152 444 153 444 154 444 155 444 156 444 157 444 158 444 159 444 160 444 161 444 162 444 163 444 164 444 165 444 166 444 167 444 168 444 169 444 170 444 171 444 172 444 173 444 174 444 175 444 176 444 177 444 178 444 179 444 180 444 181 444 182 444 183 444 184 444 185 444 186 444 187 444 188 444 189 444 190 444 191 444 192 444 193 444 194 444 195 444 196 444 197 444 198 444 199 444 200 444 201 444 202 444 203 444 204 444 205 444 206 444 207 444 208 444 209 444 210 444 211 444 212 444 213 444 214 444 215 444 216 444 217 444 218 444 219 444 220 444 220.5 443.7 220 443.3 219 442.9 218 442.4 217 441.9 216 441.2 215 440.5 214 439.4 213 437.5 212 434.7 211 434.1 210.6 432.9 211 428.4 212 425.9 213 424.4 214 424.2 214.1 421.7 215 418.8 216 417 217 415.9 218 415 219 414.3 219.8 413.6 220 409.6 221 406.9 222 405.4 223 404.4 223.8 403.9 223 403.4 222 403 221 402.5 220 402.1 219 401.6 218 401 217 400.3 216 399.4 215 398.1 214 396.1 213 394.5 212.3 391.8 213 388.7 214 386.8 215 385.4 216 384.6 216.5 377 216 374.7 215.8 373.9 216 369.1 217 366.6 218 365.3 219 364.8 219.5 364.5 219 363.9 218 363.3 217 362.5 216 361.5 215 359.8 214 356.8 213 354.9 212.3 353.4 213 350.8 214 349.2 215 348.2 216 347.5 217 346.8 218 346.3 219 345.7 220 345.2 221 345 221.4 338.5 221 335.1 220.8 334.6 220 334.1 219 333.5 218 332.9 217 332.1 216 331.2 215 329.9 214 327.6 213 325.2 212.1 323.2 213 321.1 214 319.9 215 319.1 216 318.4 217 317.9 218 317.4 219 316.9 220 316.6 221 316.1 222 315.7 223 315.3 223.6 314.4 223 312.9 222 310 221 305.7 220 305.4 219.9 305 220 300.4 221 297.6 222 296.3 223 295.5 223.8 294.4 224 288.7 225 286.2 226 285.6 226.4 285.2 226 284.3 225 283.1 224 280.8 223 276.7 222 275.7 221.6 269.6 222 265.8 222.1 255.9 222.4 253 223 248.4 224 246.4 225 246 225.3 243.6 226 239.7 227 237.6 228 236.4 229 236 229.2 235.4 229 231.5 228 226.1 227.1 216.2 227 216.2 227 213.4 226 207 225 206.3 224.9 206 225 202.6 226 200.2 227 198.9 228 198.1 229 197.4 230 196.8 231 196.4 231.5 195.6 231 192.7 230 186.5 229 186.5 229 186.5 229 183 230 180.1 231 178.4 232 177.1 233 176.6 233.3 175.6 233 171.6 232 166.7 231.1 164.8 231 156.8 230.3 151.9 231 146.9 231.9 142.7 231 137 230.1 136.7 230 135.1 229 132.5 228 128 227 127.1 226.8 124.9 227 117.2 228 117.2 228 112 229 107.9 230 107.3 230.2 102 231 97.4 231.9 96.6 231 95.8 230 95.1 229 94.3 228 93.4 227 92.5 226 91.2 225 89.5 224 87.5 223 87.5 223 87.5 223 80.6 224 77.6 224.7 77.1 225 75.2 226 73.6 227 72.5 228 71.7 229 71 230 70.4 231 69.8 232 69.2 233 68.6 234 67.8 235 67.7 235.1 65.5 236 63.5 237 62.3 238 61.5 239 60.8 240 60.2 241 59.7 242 59.3 243 58.8 244 58.3 245 57.8 245.8 57.4 245 56.9 244 56.5 243 56.1 242 55.8 241 55.5 240 55.1 239 54.6 238 54.1 237 53.5 236 52.7 235 51.4 234 49.4 233 47.9 232.2 47.6 232 46.5 231 45.5 230 44.3 229 42.7 228 40.2 227 38 226.1 38 226 38 225 38 224 38 223 38 222 38 221 38 220 38 219 38 218 38 217 38 216 38 215 38 214 38 213 38 212 38 211 38 210 38 209 38 208 38 207 38 206 38 205 38 204 38 203 38 202 38 201 38 200 38 199 38 198 38 197 38 196 38 195 38 194 38 193 38 192 38 191 38 190 38 189 38 188 38 187 38 186 38 185 38 184 38 183 38 182 38 181 38 180 38 179 38 178 38 177 38 176 38 175 38 174 38 173 38 172 38 171 38 170 38 169 38 168 38 167 38 166 38 165 38 164 38 163 38 162 38 161 38 160 38 159 38 158 38 157 38 156 38 155 38 154 38 153 38 152 38 151 38 150 38 149 38 148 38 147 38 146 38 145 38 144 38 143 38 142 38 141 38 140 38 139 38 138 38 137 38 136 38 135 38 134 38 133 38 132 38 131 38 130 38 129 38 128 38 127 38 126 38 125 38 124 38 123 38 122 38 121 38 120 38 119 38 118 38 117 38 116 38 115 38 114 38 113 38 112 38 111 38 110 38 109 38 108 38 107 38 106 38 105 38 104 38 103 38 102 38 101 38 100 38 99 38 98 38 97 38 96 38 95 38 94 38 93 38 92 38 91 38 90 38 89 38 88 38 87 38 86 38 85 38 84 38 83 38 82 38 81 38 80 38 79 38 78 38 77 38 76 38 75 38 74 38 73 38 72 38 71 38 70 38 69 38 68 38 67 38 66 38 65 38 64 38 63 38 62 38 61 38 60 38 59 38 58 38 57 38 56 38 55 38 54 38 53 38 52 38 51 38 50 38 49.9 40 49 41.7 48 43.1 47 44.2 46 45.3 45 46.1 44 46.9 43 47.5 42Z"/>
<path fill="#7575ff" d="M47.9 43.1 50.5 44 54.1 45 57.8 46 57.8 46 67.7 47 67.7 47 68.5 48 69.2 49 69.7 50 70.1 51 70.5 52 70.9 53 71.3 54 71.7 55 72.1 56 72.6 57 73.3 58 74 59 74.7 60 75.6 61 76.6 62 77.6 62.8 79.7 62 81.4 61 82.8 60 83.9 59 84.8 58 85.7 57 86.4 56 87.2 55 87.5 54.6 93.7 54 97.4 53.6 98.9 54 103.8 55 107.3 55.6 115.2 55 117.2 54.8 126.5 54 127.1 53.9 130.2 53 133.8 52 137 51.2 139.4 52 142.2 53 144.7 54 146.9 54.9 147.2 55 151.5 56 155.3 57 156.8 57.4 161.7 58 166.7 58.6 170 59 176.6 59.8 186.5 59.4 196.4 59.7 197.7 60 204.1 61 206.3 61.3 209.8 62 212.9 63 215.5 64 216.2 64.3 216.5 64 217.5 63 218.4 62 219.4 61 220.5 60 221.8 59 223.3 58 225.2 57 226.1 56.5 228.2 57 231.6 58 234.6 59 236 59.5 236.8 60 238.9 61 241.6 62 244.4 63 246 63.6 246.6 63 247.7 62 249 61 250.1 60 251.1 59 251.9 58 252.8 57 253.5 56 254.3 55 255 54 255.7 53 255.9 52.9 256 53 256.8 54 257.5 55 258.2 56 259.1 57 260 58 261 59 262.3 60 264 61 265.8 61.6 267.7 61 269.7 60 271.1 59 272.2 58 273.3 57 274.2 56 275.1 55 275.7 54.2 277.8 55 280.7 56 283.6 57 285.6 57.7 292.7 57 295.5 56.7 296.5 56 297.9 55 299.4 54 301.1 53 303 52 305.1 51 305.4 50.9 305.8 51 310.8 52 315.3 52.8 325.2 52.7 327.7 53 334.8 54 335.1 54 337.9 55 342 56 345 56.7 348.2 56 352.6 55 354.9 54.2 359.3 54 364.8 53.8 366.5 54 374.3 55 374.7 55.1 376 56 377.4 57 379.2 58 381.7 59 384.6 59.7 387.1 59 389.3 58 390.9 57 392.2 56 393.3 55 394.4 54 394.5 53.9 404.4 53.8 406.1 54 414.3 55 414.3 55 415.3 56 416.2 57 417.1 58 418.1 59 419.2 60 420.8 61 423.3 62 424.2 62.2 425.6 62 428.9 61 430.9 60 432.4 59 433.7 58 434.1 57.6 440.6 57 444 56.6 444 57 444 58 444 59 444 60 444 61 444 62 444 63 444 64 444 65 444 66 444 67 444 68 444 69 444 70 444 71 444 72 444 73 444 74 444 75 444 76 444 77 444 78 444 79 444 80 444 81 444 82 444 83 444 84 444 85 444 86 444 87 444 88 444 89 444 90 444 91 444 92 444 93 444 94 444 95 444 96 444 97 444 98 444 99 444 100 444 101 444 102 444 103 444 104 444 105 444 106 444 107 444 108 444 109 444 110 444 111 444 112 444 113 444 114 444 115 444 116 444 117 444 118 444 119 444 120 444 121 444 122 444 123 444 124 444 125 444 126 444 127 444 128 444 129 444 130 444 131 444 132 444 133 444 134 444 135 444 136 444 137 444 138 444 139 444 140 444 141 444 142 444 143 444 144 444 145 444 146 444 147 444 148 444 149 444 150 444 151 444 152 444 153 444 154 444 155 444 156 444 157 444 158 444 159 444 160 444 161 444 162 444 163 444 164 444 165 444 166 444 167 444 168 444 169 444 170 444 171 444 172 444 173 444 174 444 175 444 176 444 177 444 178 444 179 444 180 444 181 444 182 444 183 444 184 444 185 444 186 444 187 444 188 444 189 444 190 444 191 444 192 444 193 444 194 444 195 444 196 444 197 444 198 444 199 444 200 444 201 444 202 444 203 444 204 444 205 444 206 444 207 444 208 444 209 444 210 444 211 444 212 444 213 444 214 444 215 444 216 444 217 444 217.3 443.9 217 443.5 216 443 215 442.4 214 441.7 213 440.5 212 438.7 211 437.3 210 435.9 209 434.2 208 434.1 207.9 433.9 208 430.9 209 428.1 210 425.4 211 424.2 211.5 423.2 212 421.2 213 419.4 214 417.4 215 415.6 216 414.5 217 414.3 217.3 412.3 218 409.7 219 407.3 220 405 221 404.4 221.4 404.2 221 403.8 220 403.4 219 402.9 218 402.5 217 401.9 216 401.2 215 400.2 214 398.7 213 397 212 395 211 394.5 210.8 393.5 211 389.9 212 387.2 213 385.3 214 384.6 214.5 381.1 214 375.5 213 374.7 212.8 374 213 370.6 214 367.6 215 365.2 216 364.8 216.2 364.7 216 364.1 215 363.1 214 361.4 213 359.5 212 357.5 211 354.9 210 354.9 210 354.9 210 353 211 351.4 212 349.8 213 348.1 214 347 215 346.3 216 345.7 217 345.2 218 345 218.6 335.1 218 335.1 218 334.6 217 334 216 333.3 215 332.4 214 330.9 213 329 212 327.1 211 325.2 210.1 323.6 211 322.1 212 320.4 213 319 214 318.1 215 317.5 216 316.9 217 316.5 218 316.1 219 315.7 220 315.3 221 315.3 221 315.2 221 312.9 220 310.3 219 307.5 218 305.4 217.3 302.6 218 299.3 219 296.7 220 295.5 220.6 293.5 221 289.3 222 285.6 223 285.6 223 285.5 223 283.8 222 281.8 221 279.6 220 277.1 219 275.7 218.4 272.2 219 265.8 219.8 255.9 219.6 253.8 220 249.5 221 246 222 246 222 243.8 223 241.5 224 239.3 225 237 226 236 226.5 233.9 226 228.9 225 226.1 224.5 216.2 224.1 215.7 224 209.7 223 206.3 222.6 205 223 202.4 224 200.4 225 198.5 226 197.2 227 196.5 228 196.4 228.1 195.9 228 190.6 227 186.5 226.5 185.3 227 183.1 228 180.9 229 178.6 230 176.9 231 176.6 231.2 175.9 231 171.2 230 166.7 229.2 163.8 229 156.8 228.5 152.5 229 146.9 229.8 142.9 229 138 228 137 227.8 135.1 227 131.9 226 127.7 225 127.1 224.9 125.1 225 117.2 225.6 116.1 226 113 227 109.4 228 107.3 228.5 104.6 229 99 230 97.4 230.3 97.2 230 96.5 229 95.7 228 95 227 94.1 226 93.1 225 91.6 224 89.9 223 88.2 222 87.5 221.6 83.6 222 77.6 222.9 77.5 223 76.1 224 74.8 225 73.1 226 71.8 227 71 228 70.3 229 69.6 230 69.1 231 68.5 232 67.9 233 67.7 233.3 66.3 234 64.5 235 62.8 236 61.3 237 60.4 238 59.8 239 59.3 240 58.8 241 58.4 242 57.9 243 57.8 243.3 57.7 243 57.3 242 57 241 56.7 240 56.3 239 56 238 55.5 237 55 236 54.4 235 53.5 234 52 233 50.5 232 48.9 231 47.9 230.5 47.5 230 46.5 229 45.2 228 43.4 227 41.6 226 40.2 225 38.9 224 38 223.3 38 223 38 222 38 221 38 220 38 219 38 218 38 217 38 216 38 215 38 214 38 213 38 212 38 211 38 210 38 209 38 208 38 207 38 206 38 205 38 204 38 203 38 202 38 201 38 200 38 199 38 198 38 197 38 196 38 195 38 194 38 193 38 192 38 191 38 190 38 189 38 188 38 187 38 186 38 185 38 184 38 183 38 182 38 181 38 180 38 179 38 178 38 177 38 176 38 175 38 174 38 173 38 172 38 171 38 170 38 169 38 168 38 167 38 166 38 165 38 164 38 163 38 162 38 161 38 160 38 159 38 158 38 157 38 156 38 155 38 154 38 153 38 152 38 151 38 150 38 149 38 148 38 147 38 146 38 145 38 144 38 143 38 142 38 141 38 140 38 139 38 138 38 137 38 136 38 135 38 134 38 133 38 132 38 131 38 130 38 129 38 128 38 127 38 126 38 125 38 124 38 123 38 122 38 121 38 120 38 119 38 118 38 117 38 116 38 115 38 114 38 113 38 112 38 111 38 110 38 109 38 108 38 107 38 106 38 105 38 104 38 103 38 102 38 101 38 100 38 99 38 98 38 97 38 96 38 95 38 94 38 93 38 92 38 91 38 90 38 89 38 88 38 87 38 86 38 85 38 84 38 83 38 82 38 81 38 80 38 79 38 78 38 77 38 76 38 75 38 74 38 73 38 72 38 71 38 70 38 69 38 68 38 67 38 66 38 65 38 64 38 63 38 62 38 61 38 60 38 59 38 58 38 57 38 56 38 55 38 54 38 53 38 52 38 51 38 50.4 39.2 50 41.3 49 42.9 48 44.2 47 45.4 46 46.4 45 47.2 44Z"/>
<path fill="#8080ff" d="M47.9 44.5 49.7 45 53.3 46 56.8 47 57.8 47.3 65.8 48 67.7 48.2 68.3 49 68.9 50 69.3 51 69.8 52 70.2 53 70.6 54 71 55 71.4 56 72 57 72.7 58 73.4 59 74.1 60 74.9 61 75.9 62 77.1 63 77.6 63.3 78.7 63 81 62 82.7 61 84 60 85 59 85.9 58 86.7 57 87.4 56 87.5 55.9 97.4 55 102.6 56 107.3 56.9 117.2 56.2 119.5 56 127.1 55.3 128.4 55 131.9 54 135.7 53 137 52.7 138.1 53 141 54 143.6 55 146.1 56 146.9 56.3 149.7 57 153.6 58 156.8 58.8 158.2 59 166.3 60 166.7 60.1 175.1 61 176.6 61.2 181 61 186.5 60.8 193.5 61 196.4 61.1 203.3 62 206.3 62.4 208.6 63 211.6 64 214.3 65 216.2 65.6 217 65 218.1 64 219.1 63 220.1 62 221.2 61 222.5 60 224 59 225.9 58 226.1 57.9 226.7 58 230.2 59 233.4 60 236 60.9 236.3 61 238.7 62 241.4 63 244.1 64 246 64.7 246.7 64 247.8 63 248.9 62 250.1 61 251.1 60 252.1 59 252.9 58 253.7 57 254.5 56 255.2 55 255.9 54.1 256.5 55 257.3 56 258.1 57 259 58 259.9 59 261.1 60 262.7 61 265.5 62 265.8 62.1 266.1 62 269.2 61 271 60 272.3 59 273.4 58 274.4 57 275.3 56 275.7 55.6 277 56 279.9 57 282.9 58 285.6 58.9 295.5 58 295.5 58 297.1 57 298.6 56 300.1 55 301.8 54 303.7 53 305.4 52.2 309.6 53 315 54 315.3 54 317.4 54 325.2 53.8 326.4 54 333.1 55 335.1 55.3 337.6 56 341.8 57 345 57.7 348.5 57 353.1 56 354.9 55.5 362.8 55 364.8 54.9 365.7 55 373.2 56 374.7 56.2 375.8 57 377.3 58 379.5 59 383 60 384.6 60.3 385.8 60 388.9 59 390.9 58 392.4 57 393.5 56 394.5 55.1 399.4 55 404.4 54.9 405.3 55 413.6 56 414.3 56.1 415.1 57 416 58 416.9 59 418 60 419.4 61 421.6 62 424.2 62.5 428 62 430.8 61 432.6 60 433.9 59 434.1 58.9 443.4 58 444 57.9 444 58 444 59 444 60 444 61 444 62 444 63 444 64 444 65 444 66 444 67 444 68 444 69 444 70 444 71 444 72 444 73 444 74 444 75 444 76 444 77 444 78 444 79 444 80 444 81 444 82 444 83 444 84 444 85 444 86 444 87 444 88 444 89 444 90 444 91 444 92 444 93 444 94 444 95 444 96 444 97 444 98 444 99 444 100 444 101 444 102 444 103 444 104 444 105 444 106 444 107 444 108 444 109 444 110 444 111 444 112 444 113 444 114 444 115 444 116 444 117 444 118 444 119 444 120 444 121 444 122 444 123 444 124 444 125 444 126 444 127 444 128 444 129 444 130 444 131 444 132 444 133 444 134 444 135 444 136 444 137 444 138 444 139 444 140 444 141 444 142 444 143 444 144 444 145 444 146 444 147 444 148 444 149 444 150 444 151 444 152 444 153 444 154 444 155 444 156 444 157 444 158 444 159 444 160 444 161 444 162 444 163 444 164 444 165 444 166 444 167 444 168 444 169 444 170 444 171 444 172 444 173 444 174 444 175 444 176 444 177 444 178 444 179 444 180 444 181 444 182 444 183 444 184 444 185 444 186 444 187 444 188 444 189 444 190 444 191 444 192 444 193 444 194 444 195 444 196 444 197 444 198 444 199 444 200 444 201 444 202 444 203 444 204 444 205 444 206 444 207 444 208 444 209 444 210 444 211 444 212 444 213 443.5 212 442.6 211 441.8 210 440.8 209 439.7 208 438.5 207 437.1 206 435.4 205 434.1 204.3 431.9 205 429.1 206 426.5 207 424.2 208 424.1 208 422.2 209 420.4 210 418.7 211 417.1 212 415.6 213 414.3 214 414.2 214 411.6 215 409.2 216 406.9 217 404.8 218 404.4 218.2 404.3 218 403.9 217 403.5 216 403 215 402.4 214 401.4 213 400.2 212 398.8 211 396.9 210 394.5 209 389.5 210 386.4 211 384.6 211.8 381.3 211 377.8 210 375 209 374.7 208.9 374.1 209 369.9 210 366.4 211 364.8 211.6 364.1 211 362.7 210 360.9 209 358.5 208 355.4 207 354.9 206.9 354.6 207 352.6 208 350.9 209 349.5 210 348.3 211 347.2 212 346.2 213 345.4 214 345 214.7 335.1 214.3 334.9 214 334.1 213 333.1 212 331.9 211 330.4 210 328.5 209 326 208 325.2 207.7 324.6 208 322.7 209 321.2 210 319.9 211 318.8 212 317.7 213 316.9 214 316.3 215 315.8 216 315.5 217 315.3 217.5 314 217 311.5 216 308.8 215 305.8 214 305.4 213.9 304.7 214 299.9 215 296.3 216 295.5 216.3 291.6 217 287 218 285.6 218.4 284.9 218 282.9 217 280.7 216 278.1 215 275.7 214.1 272.8 215 268.9 216 265.8 216.7 258.2 216 255.9 215.7 254.1 216 248.3 217 246 217.5 245 218 243 219 241.1 220 239.3 221 237.4 222 236 222.7 232.4 222 226.4 221 226.1 221 216.2 220.2 213.8 220 206.3 219.5 204.1 220 200.8 221 198.6 222 196.9 223 196.4 223.3 186.5 223.1 184.6 224 182.6 225 180.6 226 178.8 227 177 228 176.6 228.2 175.5 228 169.3 227 166.7 226.6 156.8 226 146.9 227 142.8 226 138.8 225 137 224.5 135.3 224 130.8 223 127.1 222.4 117.2 222.3 116 223 113.9 224 111.5 225 108.7 226 107.3 226.4 104.4 227 99.1 228 97.4 228.3 97.2 228 96.5 227 95.8 226 94.9 225 93.7 224 92.3 223 90.8 222 89.2 221 87.5 220 77.6 220.6 77.2 221 76 222 74.8 223 73.6 224 72.4 225 71.1 226 70.1 227 69.4 228 68.8 229 68.3 230 67.8 231 67.7 231.1 65.6 232 63.7 233 62.2 234 61 235 60 236 59.1 237 58.6 238 58.1 239 57.8 239.9 57.6 239 57.3 238 57 237 56.6 236 56.2 235 55.5 234 54.6 233 53.6 232 52.4 231 51.1 230 49.5 229 47.9 228.1 47.8 228 46.6 227 45.3 226 44 225 42.8 224 41.6 223 40.5 222 39.4 221 38.5 220 38 219.4 38 219 38 218 38 217 38 216 38 215 38 214 38 213 38 212 38 211 38 210 38 209 38 208 38 207 38 206 38 205 38 204 38 203 38 202 38 201 38 200 38 199 38 198 38 197 38 196 38 195 38 194 38 193 38 192 38 191 38 190 38 189 38 188 38 187 38 186 38 185 38 184 38 183 38 182 38 181 38 180 38 179 38 178 38 177 38 176 38 175 38 174 38 173 38 172 38 171 38 170 38 169 38 168 38 167 38 166 38 165 38 164 38 163 38 162 38 161 38 160 38 159 38 158 38 157 38 156 38 155 38 154 38 153 38 152 38 151 38 150 38 149 38 148 38 147 38 146 38 145 38 144 38 143 38 142 38 141 38 140 38 139 38 138 38 137 38 136 38 135 38 134 38 133 38 132 38 131 38 130 38 129 38 128 38 127 38 126 38 125 38 124 38 123 38 122 38 121 38 120 38 119 38 118 38 117 38 116 38 115 38 114 38 113 38 112 38 111 38 110 38 109 38 108 38 107 38 106 38 105 38 104 38 103 38 102 38 101 38 100 38 99 38 98 38 97 38 96 38 95 38 94 38 93 38 92 38 91 38 90 38 89 38 88 38 87 38 86 38 85 38 84 38 83 38 82 38 81 38 80 38 79 38 78 38 77 38 76 38 75 38 74 38 73 38 72 38 71 38 70 38 69 38 68 38 67 38 66 38 65 38 64 38 63 38 62 38 61 38 60 38 59 38 58 38 57 38 56 38 55 38 54 38 53 38 52 38 51 38 50.9 40.7 50 42.6 49 44.2 48 45.4 47 46.5 46 47.5 45Z"/>
<path fill="#8a8aff" d="M47.9 45.7 48.9 46 52.6 47 55.9 48 57.8 48.6 62.1 49 67.7 49.5 68 50 68.5 51 69 52 69.5 53 69.9 54 70.3 55 70.8 56 71.4 57 72 58 72.7 59 73.5 60 74.3 61 75.2 62 76.4 63 77.6 63.8 80.3 63 82.4 62 83.9 61 85.1 60 86.1 59 86.9 58 87.5 57.2 90.1 57 97.4 56.3 101.2 57 106.4 58 107.3 58.2 110 58 117.2 57.5 122.6 57 127.1 56.6 129.3 56 132.9 55 136.8 54 137 53.9 137.2 54 140.1 55 142.8 56 145.4 57 146.9 57.6 148.5 58 152.5 59 156.4 60 156.8 60.1 164.2 61 166.7 61.3 172.7 62 176.6 62.5 186.5 62 196.4 62.4 201.7 63 206.3 63.6 207.6 64 210.5 65 213.4 66 216.2 66.9 217.4 66 218.5 65 219.6 64 220.7 63 221.8 62 223 61 224.5 60 226.1 59.1 229.4 60 232.6 61 235.8 62 236 62.1 238.5 63 241.1 64 243.7 65 246 66 246.9 65 247.9 64 249 63 250 62 251.2 61 252.2 60 253.1 59 253.9 58 254.7 57 255.4 56 255.9 55.4 256.3 56 257.1 57 258 58 258.9 59 260 60 261.4 61 263.9 62 265.8 62.4 268 62 270.7 61 272.2 60 273.5 59 274.5 58 275.5 57 275.7 56.8 276.3 57 279.3 58 282.2 59 285 60 285.6 60.2 287.5 60 295.5 59.3 295.9 59 297.6 58 299.1 57 300.7 56 302.3 55 304.2 54 305.4 53.4 308.5 54 313.8 55 315.3 55.3 325.2 55.1 331.3 56 335.1 56.5 336.8 57 341.1 58 345 58.8 349.1 58 353.9 57 354.9 56.8 364.8 56.1 371.4 57 374.7 57.4 375.5 58 377.3 59 380.2 60 384.6 60.7 388.2 60 390.8 59 392.5 58 393.8 57 394.5 56.4 404.4 56.1 411.7 57 414.3 57.3 414.9 58 415.8 59 416.7 60 418 61 419.9 62 424.2 62.8 430.5 62 432.8 61 434.1 60.1 435.4 60 444 59.2 444 60 444 61 444 62 444 63 444 64 444 65 444 66 444 67 444 68 444 69 444 70 444 71 444 72 444 73 444 74 444 75 444 76 444 77 444 78 444 79 444 80 444 81 444 82 444 83 444 84 444 85 444 86 444 87 444 88 444 89 444 90 444 91 444 92 444 93 444 94 444 95 444 96 444 97 444 98 444 99 444 100 444 101 444 102 444 103 444 104 444 105 444 106 444 107 444 108 444 109 444 110 444 111 444 112 444 113 444 114 444 115 444 116 444 117 444 118 444 119 444 120 444 121 444 122 444 123 444 124 444 125 444 126 444 127 444 128 444 129 444 130 444 131 444 132 444 133 444 134 444 135 444 136 444 137 444 138 444 139 444 140 444 141 444 142 444 143 444 144 444 145 444 146 444 147 444 148 444 149 444 150 444 151 444 152 444 153 444 154 444 155 444 156 444 157 444 158 444 159 444 160 444 161 444 162 444 163 444 164 444 165 444 166 444 167 444 168 444 169 444 170 444 171 444 172 444 173 444 174 444 175 444 176 444 177 444 178 444 179 444 180 444 181 444 182 444 183 444 184 444 185 444 186 444 187 444 188 444 189 444 190 444 191 444 192 444 193 444 194 444 195 444 196 444 197 444 198 444 199 444 200 444 201 444 202 444 203 444 204 444 205 444 206 444 206.2 443.8 206 443 205 442 204 440.9 203 439.6 202 438.1 201 436.3 200 434.4 199 434.1 198.9 433.7 199 431.1 200 428.5 201 426.1 202 424.2 202.8 423.9 203 422.3 204 420.6 205 419 206 417.5 207 416 208 414.6 209 414.3 209.2 412.5 210 410.3 211 408 212 405.9 213 404.4 213.8 404 213 403.4 212 402.6 211 401.5 210 400 209 397.8 208 394.6 207 394.5 207 394.2 207 385.5 208 384.6 208.2 384 208 381.5 207 379.4 206 377.6 205 376.1 204 374.8 203 374.7 202.9 373.9 203 366.7 204 364.8 204.3 363.8 204 359.1 203 354.9 202.5 353.6 203 351.5 204 349.6 205 348.1 206 346.8 207 345.8 208 345 208.9 335.1 208.9 334.1 208 332.5 207 330.3 206 327 205 325.2 204.6 324.2 205 322 206 320.3 207 318.9 208 317.8 209 316.9 210 316.1 211 315.5 212 315.3 212.5 314.1 212 311.5 211 308.6 210 305.5 209 305.4 209 304.5 209 295.5 209.6 292.4 210 285.6 211 285.6 211 285.6 211 283.2 210 280.6 209 277.6 208 275.7 207.4 274.8 208 273.2 209 271.3 210 269.1 211 266.6 212 265.8 212.3 264.2 212 259.6 211 255.9 210 255.9 210 255.3 210 246 210.4 245.2 211 243.7 212 242.3 213 240.7 214 239.2 215 237.7 216 236.2 217 236 217.1 235.6 217 228.7 216 226.1 215.7 221.3 215 216.2 214.2 207.7 215 206.3 215.1 196.4 215.2 194.3 216 190.7 217 186.5 217.8 186.3 218 184.9 219 183.3 220 181.6 221 179.9 222 178.1 223 176.6 223.9 166.7 223.2 163.5 223 156.8 222.7 147.9 223 146.9 223 146.8 223 143.6 222 140.6 221 138 220 137 219.6 127.1 219.1 126.3 219 120 218 117.2 217.3 116.7 218 115.8 219 114.6 220 113.1 221 111.4 222 109.3 223 107.3 223.8 106.6 224 102 225 97.4 226 96.7 225 95.8 224 94.7 223 93.4 222 91.9 221 90.4 220 88.8 219 87.5 218.2 83.2 218 77.6 217.6 77.3 218 76.5 219 75.6 220 74.5 221 73.3 222 72.2 223 71.1 224 70.1 225 69.1 226 68.4 227 67.8 228 67.7 228.2 65.4 229 63 230 61.2 231 59.9 232 58.9 233 58.1 234 57.8 234.5 57.6 234 57.2 233 56.7 232 56 231 55.1 230 54.1 229 52.8 228 51.3 227 49.6 226 47.9 225.1 47.8 225 46.7 224 45.6 223 44.4 222 43.3 221 42.3 220 41.3 219 40.4 218 39.7 217 39.1 216 38.6 215 38.3 214 38 213 38 213 38 212 38 211 38 210 38 209 38 208 38 207 38 206 38 205 38 204 38 203 38 202 38 201 38 200 38 199 38 198 38 197 38 196 38 195 38 194 38 193 38 192 38 191 38 190 38 189 38 188 38 187 38 186 38 185 38 184 38 183 38 182 38 181 38 180 38 179 38 178 38 177 38 176 38 175 38 174 38 173 38 172 38 171 38 170 38 169 38 168 38 167 38 166 38 165 38 164 38 163 38 162 38 161 38 160 38 159 38 158 38 157 38 156 38 155 38 154 38 153 38 152 38 151 38 150 38 149 38 148 38 147 38 146 38 145 38 144 38 143 38 142 38 141 38 140 38 139 38 138 38 137 38 136 38 135 38 134 38 133 38 132 38 131 38 130 38 129 38 128 38 127 38 126 38 125 38 124 38 123 38 122 38 121 38 120 38 119 38 118 38 117 38 116 38 115 38 114 38 113 38 112 38 111 38 110 38 109 38 108 38 107 38 106 38 105 38 104 38 103 38 102 38 101 38 100 38 99 38 98 38 97 38 96 38 95 38 94 38 93 38 92 38 91 38 90 38 89 38 88 38 87 38 86 38 85 38 84 38 83 38 82 38 81 38 80 38 79 38 78 38 77 38 76 38 75 38 74 38 73 38 72 38 71 38 70 38 69 38 68 38 67 38 66 38 65 38 64 38 63 38 62 38 61 38 60 38 59 38 58 38 57 38 56 38 55 38 54 38 53 38 52 38 51.4 39.5 51 42.2 50 44 49 45.4 48 46.6 47 47.6 46Z"/>
<path fill="#9494ff" d="M47.9 46.9 48.4 47 51.9 48 55.1 49 57.8 50 57.8 50 67.7 50.9 67.8 51 68.3 52 68.7 53 69.2 54 69.7 55 70.2 56 70.8 57 71.4 58 72.1 59 72.8 60 73.6 61 74.6 62 75.7 63 77.1 64 77.6 64.3 78.7 64 81.8 63 83.8 62 85.2 61 86.3 60 87.2 59 87.5 58.6 93 58 97.4 57.6 99.7 58 104.7 59 107.3 59.6 114.1 59 117.2 58.8 124.6 58 127.1 57.8 129.9 57 133.6 56 137 55.1 139.6 56 142.2 57 144.8 58 146.9 58.8 147.6 59 151.6 60 155.6 61 156.8 61.3 162.6 62 166.7 62.5 171 63 176.6 63.7 186.5 63.2 196.4 63.6 199.8 64 206.3 64.9 206.6 65 209.4 66 212.5 67 216 68 216.2 68.1 216.3 68 217.6 67 218.9 66 220.1 65 221.2 64 222.3 63 223.5 62 224.9 61 226.1 60.2 228.8 61 232.1 62 235.3 63 236 63.2 238.1 64 240.7 65 243.1 66 245.3 67 246 67.3 246.2 67 247.2 66 248.2 65 249.2 64 250.2 63 251.2 62 252.3 61 253.2 60 254.1 59 254.8 58 255.6 57 255.9 56.6 256.1 57 256.9 58 257.8 59 258.8 60 260.1 61 262.3 62 265.8 62.8 269.8 62 272.1 61 273.5 60 274.7 59 275.7 58 278.6 59 281.5 60 284.3 61 285.6 61.4 289.9 61 295.5 60.5 296.3 60 298 59 299.6 58 301.1 57 302.8 56 304.6 55 305.4 54.6 307.6 55 312.6 56 315.3 56.6 325.2 56.4 329.2 57 335.1 57.8 335.8 58 340.1 59 344.5 60 345 60.1 345.4 60 350.1 59 354.9 58 354.9 58 364.8 57.5 368.8 58 374.7 58.8 375.1 59 377.3 60 382.4 61 384.6 61.2 386.1 61 390.5 60 392.7 59 394.1 58 394.5 57.7 404.4 57.5 408.9 58 414.3 58.7 414.6 59 415.5 60 416.6 61 418.2 62 423.3 63 424.2 63.1 426.1 63 433 62 434.1 61.4 438 61 444 60.4 444 61 444 62 444 63 444 64 444 65 444 66 444 67 444 68 444 69 444 70 444 71 444 72 444 73 444 74 444 75 444 76 444 77 444 78 444 79 444 80 444 81 444 82 444 83 444 84 444 85 444 86 444 87 444 88 444 89 444 90 444 91 444 92 444 93 444 94 444 95 444 96 444 97 444 98 444 99 444 100 444 101 444 102 444 103 444 104 444 105 444 106 444 107 444 108 444 109 444 110 444 111 444 112 444 113 444 114 444 115 444 116 444 117 444 118 444 119 444 120 444 121 444 122 444 123 444 124 444 125 444 126 444 127 444 128 444 129 444 130 444 131 444 132 444 133 444 134 444 135 444 136 444 137 444 138 444 139 444 140 444 141 444 142 444 143 444 144 444 145 444 146 444 147 444 148 444 149 444 150 444 151 444 152 444 153 444 154 444 155 444 156 444 157 444 158 444 159 444 160 444 161 444 162 444 163 444 164 444 165 444 166 444 167 444 168 444 169 444 170 444 171 444 172 444 173 444 174 444 175 444 176 444 177 444 178 444 179 444 180 444 181 444 182 444 183 444 184 444 185 444 186 444 187 444 188 444 189 444 190 444 191 444 192 444 193 444 194 444 195 444 195.5 443.2 195 441.2 194 439 193 436.6 192 434.1 191 434.1 191 434.1 191 432.1 192 429.9 193 427.6 194 425.2 195 424.2 195.4 423.6 196 422.5 197 421.2 198 419.8 199 418.4 200 416.8 201 415.3 202 414.3 202.7 413.7 203 412 204 410.1 205 408 206 405.9 207 404.4 207.7 403.4 207 401.1 206 396.7 205 394.5 204.7 386.6 204 384.6 203.6 383.4 203 381.8 202 380.3 201 379.1 200 378 199 377.1 198 376.3 197 375.7 196 375.2 195 374.7 194 374.7 193.9 367.8 193 364.8 192.5 364.1 193 362.6 194 360.4 195 357.3 196 354.9 196.6 353.4 197 350.2 198 347.5 199 345.3 200 345 200.1 335.1 200.9 325.2 200.8 324.4 201 321.3 202 318.8 203 317 204 315.6 205 315.3 205.2 314.5 205 311.4 204 308.4 203 305.4 202 305.4 202 301 201 297.7 200 295.5 199.1 291 199 285.6 198.9 281.6 198 276.8 197 275.7 196.8 275.6 197 275.1 198 274.5 199 273.8 200 272.9 201 272 202 270.8 203 269.6 204 268.1 205 266.4 206 265.8 206.4 264.7 206 262.2 205 260 204 258.2 203 256.7 202 255.9 201.4 254 201 249.7 200 246.2 199 246 198.9 245.9 199 245.4 200 244.7 201 244 202 243.1 203 242.2 204 241.1 205 239.9 206 238.6 207 237.2 208 236 208.8 226.1 208.2 225.5 208 221.5 207 218 206 216.2 205.4 215.4 206 213.4 207 210.9 208 207.7 209 206.3 209.4 205.2 209 202.8 208 200.9 207 199.5 206 198.3 205 197.4 204 196.7 203 196.4 202.6 196.2 203 195.7 204 195 205 194.2 206 193.2 207 192 208 190.5 209 188.7 210 186.5 211 186.5 211 185.8 212 184.9 213 183.9 214 182.7 215 181.3 216 179.7 217 177.9 218 176.6 218.7 169.7 219 166.7 219.1 162.5 219 156.8 218.9 146.9 218.3 146 218 143.4 217 141.2 216 139.4 215 137.8 214 137 213.4 134.8 214 129.3 215 127.1 215.3 126.1 215 122.9 214 120.4 213 118.6 212 117.2 211.1 116.9 212 116.5 213 116 214 115.4 215 114.6 216 113.6 217 112.4 218 110.9 219 109.2 220 107.3 221 107.2 221 103.4 222 99.1 223 97.4 223.4 97.1 223 96 222 94.7 221 93.2 220 91.6 219 90.1 218 88.6 217 87.5 216.3 85.5 216 80.3 215 77.6 214.2 77.2 215 76.6 216 75.9 217 75 218 74 219 72.9 220 71.8 221 70.6 222 69.5 223 68.5 224 67.7 225 67.7 225 62.9 226 59.6 227 57.8 227.8 57 227 55.8 226 54.3 225 52.6 224 50.7 223 48.8 222 47.9 221.6 47.2 221 46 220 44.9 219 43.8 218 42.8 217 41.9 216 41.1 215 40.5 214 40 213 39.6 212 39.2 211 39 210 38.7 209 38.5 208 38.4 207 38.2 206 38.1 205 38 204.5 38 204 38 203 38 202 38 201 38 200 38 199 38 198 38 197 38 196 38 195 38 194 38 193 38 192 38 191 38 190 38 189 38 188 38 187 38 186 38 185 38 184 38 183 38 182 38 181 38 180 38 179 38 178 38 177 38 176 38 175 38 174 38 173 38 172 38 171 38 170 38 169 38 168 38 167 38 166 38 165 38 164 38 163 38 162 38 161 38 160 38 159 38 158 38 157 38 156 38 155 38 154 38 153 38 152 38 151 38 150 38 149 38 148 38 147 38 146 38 145 38 144 38 143 38 142 38 141 38 140 38 139 38 138 38 137 38 136 38 135 38 134 38 133 38 132 38 131 38 130 38 129 38 128 38 127 38 126 38 125 38 124 38 123 38 122 38 121 38 120 38 119 38 118 38 117 38 116 38 115 38 114 38 113 38 112 38 111 38 110 38 109 38 108 38 107 38 106 38 105 38 104 38 103 38 102 38 101 38 100 38 99 38 98 38 97 38 96 38 95 38 94 38 93 38 92 38 91 38 90 38 89 38 88 38 87 38 86 38 85 38 84 38 83 38 82 38 81 38 80 38 79 38 78 38 77 38 76 38 75 38 74 38 73 38 72 38 71 38 70 38 69 38 68 38 67 38 66 38 65 38 64 38 63 38 62 38 61 38 60 38 59 38 58 38 57 38 56 38 55 38 54 38 53 38 52 38 51.9 41.3 51 43.7 50 45.3 49 46.6 48 47.8 47Z"/>
<path fill="#9e9eff" d="M47.9 48 48 48 51.3 49 54.3 50 56.9 51 57.8 51.3 64.3 52 67.7 52.4 68 53 68.5 54 69 55 69.5 56 70.1 57 70.8 58 71.5 59 72.2 60 73 61 73.9 62 74.9 63 76.3 64 77.6 64.8 80.6 64 83.4 63 85.1 62 86.4 61 87.4 60 87.5 59.9 95.3 59 97.4 58.8 98.6 59 103.3 60 107.3 61 116.9 60 117.2 60 125.9 59 127.1 58.9 130.4 58 134.2 57 137 56.3 139.1 57 141.8 58 144.3 59 146.9 60 146.9 60 150.9 61 155 62 156.8 62.4 161.4 63 166.7 63.6 169.7 64 176.6 64.8 186.5 64.3 196.4 64.8 198.1 65 204.6 66 206.3 66.3 208.4 67 211.7 68 215.4 69 216.2 69.2 216.5 69 217.9 68 219.2 67 220.4 66 221.6 65 222.7 64 223.9 63 225.2 62 226.1 61.3 228.3 62 231.5 63 234.9 64 236 64.3 237.7 65 240.2 66 242.4 67 244.5 68 246 68.7 246.6 68 247.5 67 248.5 66 249.4 65 250.4 64 251.4 63 252.4 62 253.3 61 254.2 60 255 59 255.8 58 255.9 57.9 255.9 58 256.7 59 257.7 60 258.8 61 260.7 62 264.7 63 265.8 63.2 267.1 63 271.7 62 273.6 61 274.8 60 275.7 59.2 277.9 60 280.7 61 283.5 62 285.6 62.7 292.1 62 295.5 61.7 296.7 61 298.4 60 300.1 59 301.6 58 303.2 57 304.9 56 305.4 55.7 306.8 56 311.4 57 315.3 57.9 325.2 57.8 326.7 58 334.2 59 335.1 59.1 338.9 60 343.1 61 345 61.4 346.8 61 351.2 60 354.9 59.2 361.8 59 364.8 58.9 365.6 59 373.4 60 374.7 60.2 377.6 61 384.6 61.7 389.6 61 392.8 60 394.5 59 396.8 59 404.4 58.9 405.3 59 413.5 60 414.3 60.1 415.2 61 416.5 62 420.3 63 424.2 63.4 432.6 63 434.1 62.7 440.4 62 444 61.6 444 62 444 63 444 64 444 65 444 66 444 67 444 68 444 69 444 70 444 71 444 72 444 73 444 74 444 75 444 76 444 77 444 78 444 79 444 80 444 81 444 82 444 83 444 84 444 85 444 86 444 87 444 88 444 89 444 90 444 91 444 92 444 93 444 94 444 95 444 96 444 97 444 98 444 99 444 100 444 101 444 102 444 103 444 104 444 105 444 106 444 107 444 108 444 109 444 110 444 111 444 112 444 113 444 114 444 115 444 116 444 117 444 118 444 119 444 120 444 121 444 122 444 123 444 124 444 125 444 126 444 127 444 128 444 129 444 130 444 131 444 132 444 133 444 134 444 135 444 136 444 137 444 138 444 139 444 140 444 141 444 142 444 143 444 144 444 145 444 146 444 147 444 148 444 149 444 150 444 151 444 152 444 153 444 154 444 155 444 156 444 157 444 158 444 159 444 160 444 161 444 162 444 163 444 164 444 165 444 166 444 167 444 168 444 169 444 170 444 171 444 172 444 173 444 174 444 175 444 176 444 177 444 178 444 179 444 180 444 181 444 182 444 183 444 184 444 185 444 186 444 187 444 187.5 442.5 187 439.3 186 436 185 434.1 184.5 433.2 185 431.3 186 429.3 187 427 188 424.5 189 424.2 189.1 423.4 190 422.5 191 421.4 192 420.2 193 418.9 194 417.5 195 415.9 196 414.3 196.9 414.2 197 412.7 198 411.1 199 409.2 200 407.2 201 405 202 404.4 202.3 394.5 202.3 392.9 202 388.9 201 386.1 200 384.6 199.3 384.1 199 382.6 198 381.3 197 380.1 196 379.2 195 378.4 194 377.7 193 377.1 192 376.5 191 376.1 190 375.6 189 375.2 188 374.8 187 374.7 186.7 371.6 186 367.8 185 364.8 184.1 364.1 185 363.2 186 362.1 187 360.9 188 359.4 189 357.6 190 355.4 191 354.9 191.2 350.6 192 345.6 193 345 193.1 337.6 194 335.1 194.3 333.3 195 330.1 196 325.3 197 325.2 197 319.8 198 315.6 199 315.3 199.1 315 199 311.5 198 308.3 197 305.4 196 305.3 196 302.6 195 300.2 194 298.3 193 296.6 192 295.5 191.2 292.9 191 285.6 190.3 283.4 190 276.7 189 275.7 188.8 275.6 189 275.2 190 274.7 191 274.3 192 273.8 193 273.2 194 272.5 195 271.8 196 270.9 197 269.8 198 268.7 199 267.3 200 265.8 201 265.8 201 265.7 201 263.5 200 261.7 199 260.1 198 258.7 197 257.5 196 256.4 195 255.9 194.4 254.5 194 251.5 193 248.9 192 246.7 191 246 190.6 245.8 191 245.3 192 244.8 193 244.3 194 243.7 195 243 196 242.1 197 241.2 198 240.2 199 239.1 200 237.8 201 236.4 202 236 202.3 226.1 202.2 225.4 202 221.9 201 218.8 200 216.2 199.1 215.2 200 213.9 201 212.4 202 210.5 203 208.2 204 206.3 204.7 204.9 204 203.2 203 201.7 202 200.5 201 199.5 200 198.6 199 197.9 198 197.3 197 196.7 196 196.4 195.4 196.2 196 195.8 197 195.4 198 194.8 199 194.2 200 193.4 201 192.4 202 191.3 203 190 204 188.5 205 186.7 206 186.5 206.1 186 207 185.4 208 184.6 209 183.7 210 182.5 211 181.2 212 179.8 213 178.1 214 176.6 214.8 174.6 215 166.7 215.8 156.8 215.7 150 215 146.9 214.6 145.3 214 143.1 213 141.2 212 139.5 211 138.2 210 137 209 137 209 137 209 134.7 210 131.6 211 127.5 212 127.1 212.1 126.9 212 124.2 211 122 210 120.2 209 118.8 208 117.6 207 117.2 206.6 117.1 207 116.7 208 116.3 209 115.9 210 115.5 211 114.9 212 114.2 213 113.4 214 112.4 215 111.2 216 109.8 217 108 218 107.3 218.4 105.3 219 101.6 220 97.4 221 96.1 220 94.5 219 92.9 218 91.3 217 89.8 216 88.4 215 87.5 214.4 85.7 214 81.9 213 79.2 212 77.6 211.3 77.2 212 76.6 213 76.1 214 75.4 215 74.6 216 73.7 217 72.7 218 71.6 219 70.3 220 69.1 221 67.9 222 67.7 222.2 58.7 223 57.8 223.1 57.6 223 55.6 222 53.5 221 51.2 220 48.9 219 47.9 218.6 47.1 218 45.9 217 44.7 216 43.6 215 42.7 214 41.9 213 41.3 212 40.8 211 40.4 210 40 209 39.7 208 39.5 207 39.3 206 39.1 205 38.9 204 38.7 203 38.5 202 38.4 201 38.2 200 38 199.1 38 199 38 198 38 197 38 196 38 195 38 194 38 193 38 192 38 191 38 190 38 189 38 188 38 187 38 186 38 185 38 184 38 183 38 182 38 181 38 180 38 179 38 178 38 177 38 176 38 175 38 174 38 173 38 172 38 171 38 170 38 169 38 168 38 167 38 166 38 165 38 164 38 163 38 162 38 161 38 160 38 159 38 158 38 157 38 156 38 155 38 154 38 153 38 152 38 151 38 150 38 149 38 148 38 147 38 146 38 145 38 144 38 143 38 142 38 141 38 140 38 139 38 138 38 137 38 136 38 135 38 134 38 133 38 132 38 131 38 130 38 129 38 128 38 127 38 126 38 125 38 124 38 123 38 122 38 121 38 120 38 119 38 118 38 117 38 116 38 115 38 114 38 113 38 112 38 111 38 110 38 109 38 108 38 107 38 106 38 105 38 104 38 103 38 102 38 101 38 100 38 99 38 98 38 97 38 96 38 95 38 94 38 93 38 92 38 91 38 90 38 89 38 88 38 87 38 86 38 85 38 84 38 83 38 82 38 81 38 80 38 79 38 78 38 77 38 76 38 75 38 74 38 73 38 72 38 71 38 70 38 69 38 68 38 67 38 66 38 65 38 64 38 63 38 62 38 61 38 60 38 59 38 58 38 57 38 56 38 55 38 54 38 53 38 52.4 39.6 52 43.1 51 45.2 50 46.7 49 47.9 48Z"/>
<path fill="#a8a8ff" d="M47.9 49.1 50.8 50 53.6 51 56.3 52 57.8 52.6 61.3 53 67.7 53.8 67.8 54 68.4 55 68.9 56 69.5 57 70.2 58 70.9 59 71.6 60 72.3 61 73.2 62 74.2 63 75.6 64 77.2 65 77.6 65.3 78.8 65 82.5 64 85 63 86.5 62 87.5 61.1 88.5 61 97 60 97.4 60 97.7 60 102.2 61 106.2 62 107.3 62.3 109.7 62 117.2 61.1 118.4 61 126.9 60 127.1 60 130.9 59 134.7 58 137 57.4 138.7 58 141.3 59 144 60 146.5 61 146.9 61.2 150.4 62 154.5 63 156.8 63.6 160.4 64 166.7 64.8 168.7 65 176.6 66 186.5 65.4 196.4 66 196.7 66 202.7 67 206.3 67.7 207.3 68 210.9 69 214.8 70 216.2 70.4 216.8 70 218.1 69 219.4 68 220.7 67 222 66 223.1 65 224.3 64 225.5 63 226.1 62.5 227.7 63 230.9 64 234.3 65 236 65.5 237.2 66 239.5 67 241.6 68 243.7 69 245.8 70 246 70.1 246 70 247 69 247.9 68 248.8 67 249.7 66 250.7 65 251.6 64 252.6 63 253.5 62 254.4 61 255.3 60 255.9 59.2 256.5 60 257.5 61 259.1 62 262.3 63 265.8 63.7 270.1 63 273.5 62 275.1 61 275.7 60.5 277.1 61 279.8 62 282.6 63 285.4 64 285.6 64 285.9 64 294.4 63 295.5 62.9 297.1 62 298.8 61 300.5 60 302.1 59 303.6 58 305.2 57 305.4 56.9 305.8 57 310.1 58 314.3 59 315.3 59.2 325.2 59.2 331.5 60 335.1 60.4 337.4 61 341.6 62 345 62.8 348.4 62 352.5 61 354.9 60.5 364.8 60.4 369.9 61 374.7 61.6 378.5 62 384.6 62.3 387.4 62 393 61 394.5 60.4 404.4 60.4 409.6 61 414.3 61.6 414.8 62 417.3 63 424.2 63.8 433.7 64 434.1 64 434.4 64 442.9 63 444 62.9 444 63 444 64 444 65 444 66 444 67 444 68 444 69 444 70 444 71 444 72 444 73 444 74 444 75 444 76 444 77 444 78 444 79 444 80 444 81 444 82 444 83 444 84 444 85 444 86 444 87 444 88 444 89 444 90 444 91 444 92 444 93 444 94 444 95 444 96 444 97 444 98 444 99 444 100 444 101 444 102 444 103 444 104 444 105 444 106 444 107 444 108 444 109 444 110 444 111 444 112 444 113 444 114 444 115 444 116 444 117 444 118 444 119 444 120 444 121 444 122 444 123 444 124 444 125 444 126 444 127 444 128 444 129 444 130 444 131 444 132 444 133 444 134 444 135 444 136 444 137 444 138 444 139 444 140 444 141 444 142 444 143 444 144 444 145 444 146 444 147 444 148 444 149 444 150 444 151 444 152 444 153 444 154 444 155 444 156 444 157 444 158 444 159 444 160 444 161 444 162 444 163 444 164 444 165 444 166 444 167 444 168 444 169 444 170 444 171 444 172 444 173 444 174 444 175 444 176 444 177 444 178 444 179 444 180 444 181 444 182 444 182.6 441.6 182 437.4 181 434.1 180.2 432.7 181 430.9 182 428.9 183 426.7 184 424.2 185 424.2 185 423.2 186 422.2 187 421.2 188 420.1 189 418.8 190 417.5 191 416 192 414.3 193 414.3 193 412.8 194 411.2 195 409.5 196 407.6 197 405.5 198 404.4 198.5 401.9 199 394.5 200 391.2 199 388.7 198 386.6 197 384.6 196 384.6 196 383.2 195 382 194 381 193 380.1 192 379.3 191 378.7 190 378.1 189 377.5 188 377 187 376.5 186 376 185 375.5 184 375 183 374.7 182.2 373.9 182 370.4 181 367.4 180 364.8 179 364.8 179 364.8 179 364 180 363.2 181 362.4 182 361.4 183 360.3 184 359.1 185 357.6 186 355.9 187 354.9 187.5 350.5 188 345 188.7 342.8 189 335.1 190 335.1 190 333.2 191 331.1 192 328.5 193 325.2 194 325.2 194 315.3 195 311.7 194 308.5 193 305.4 192 305.4 192 303 191 300.9 190 299.2 189 297.6 188 296.2 187 295.5 186.4 291.9 186 285.6 185.2 283.9 185 275.7 184 275.7 184 275.7 184 275.2 185 274.7 186 274.3 187 273.8 188 273.2 189 272.7 190 272 191 271.3 192 270.6 193 269.7 194 268.7 195 267.5 196 266.2 197 265.8 197.3 265.1 197 263.3 196 261.7 195 260.3 194 259.1 193 257.9 192 256.9 191 255.9 190 255.9 190 253 189 250.6 188 248.5 187 246.6 186 246 185.6 245.8 186 245.3 187 244.8 188 244.3 189 243.8 190 243.2 191 242.5 192 241.7 193 240.9 194 239.9 195 238.8 196 237.5 197 236.1 198 236 198 226.1 198.3 225.1 198 221.8 197 218.8 196 216.2 195 215.3 196 214.2 197 212.9 198 211.4 199 209.6 200 207.5 201 206.3 201.5 205.5 201 203.8 200 202.4 199 201.2 198 200.2 197 199.4 196 198.7 195 198 194 197.5 193 197 192 196.5 191 196.4 190.9 196.4 191 196.1 192 195.7 193 195.3 194 194.9 195 194.3 196 193.7 197 193 198 192.1 199 191 200 189.6 201 188 202 186.5 202.9 186.5 203 185.9 204 185.3 205 184.6 206 183.8 207 182.8 208 181.7 209 180.2 210 178.5 211 176.6 212 176.6 212 169.4 213 166.7 213.3 156.8 213.3 154.2 213 146.9 212 146.9 212 144.5 211 142.4 210 140.7 209 139.2 208 138.1 207 137 206 137 206 137 206 135.1 207 132.8 208 129.7 209 127.1 209.7 125.3 209 123.1 208 121.3 207 119.8 206 118.6 205 117.6 204 117.2 203.6 117 204 116.6 205 116.2 206 115.8 207 115.3 208 114.8 209 114.3 210 113.7 211 112.9 212 112 213 110.9 214 109.5 215 107.9 216 107.3 216.3 105.1 217 101.5 218 97.4 219 95.7 218 94 217 92.4 216 90.9 215 89.4 214 87.9 213 87.5 212.7 84.9 212 82 211 79.7 210 77.6 209 77.6 209 77.6 209 77 210 76.4 211 75.8 212 75.1 213 74.4 214 73.6 215 72.7 216 71.6 217 70.4 218 69.1 219 67.7 220 57.8 220 55.1 219 52.2 218 49.6 217 47.9 216.3 47.5 216 46.1 215 44.9 214 43.9 213 43.1 212 42.4 211 41.8 210 41.3 209 40.9 208 40.6 207 40.3 206 40.1 205 39.8 204 39.6 203 39.4 202 39.2 201 39 200 38.8 199 38.6 198 38.3 197 38.1 196 38 195.6 38 195 38 194 38 193 38 192 38 191 38 190 38 189 38 188 38 187 38 186 38 185 38 184 38 183 38 182 38 181 38 180 38 179 38 178 38 177 38 176 38 175 38 174 38 173 38 172 38 171 38 170 38 169 38 168 38 167 38 166 38 165 38 164 38 163 38 162 38 161 38 160 38 159 38 158 38 157 38 156 38 155 38 154 38 153 38 152 38 151 38 150 38 149 38 148 38 147 38 146 38 145 38 144 38 143 38 142 38 141 38 140 38 139 38 138 38 137 38 136 38 135 38 134 38 133 38 132 38 131 38 130 38 129 38 128 38 127 38 126 38 125 38 124 38 123 38 122 38 121 38 120 38 119 38 118 38 117 38 116 38 115 38 114 38 113 38 112 38 111 38 110 38 109 38 108 38 107 38 106 38 105 38 104 38 103 38 102 38 101 38 100 38 99 38 98 38 97 38 96 38 95 38 94 38 93 38 92 38 91 38 90 38 89 38 88 38 87 38 86 38 85 38 84 38 83 38 82 38 81 38 80 38 79 38 78 38 77 38 76 38 75 38 74 38 73 38 72 38 71 38 70 38 69 38 68 38 67 38 66 38 65 38 64 38 63 38 62 38 61 38 60 38 59 38 58 38 57 38 56 38 55 38 54 38 53 38 52.9 41.9 52 44.8 51 46.7 50Z"/>
<path fill="#b2b2ff" d="M47.9 50.2 50.3 51 53.2 52 55.8 53 57.8 53.8 59.6 54 67.7 55 67.7 55 68.3 56 68.9 57 69.5 58 70.2 59 70.9 60 71.7 61 72.5 62 73.5 63 74.8 64 76.3 65 77.6 65.9 81.2 65 84.4 64 86.5 63 87.5 62.3 89.9 62 97.4 61.1 101.4 62 105.4 63 107.3 63.5 111.3 63 117.2 62.3 119.6 62 127.1 61.1 127.5 61 131.2 60 135.1 59 137 58.5 138.4 59 141.1 60 143.8 61 146.2 62 146.9 62.3 149.9 63 154.1 64 156.8 64.7 159.3 65 166.7 65.9 167.6 66 175.8 67 176.6 67.1 178.4 67 186.5 66.5 194 67 196.4 67.2 201.2 68 206.3 69 206.4 69 210.2 70 214 71 216.2 71.6 217 71 218.4 70 219.7 69 221 68 222.3 67 223.5 66 224.7 65 225.8 64 226.1 63.7 226.9 64 230.1 65 233.5 66 236 66.8 236.5 67 238.7 68 240.8 69 242.9 70 244.9 71 246 71.5 246.4 71 247.4 70 248.3 69 249.2 68 250.1 67 251 66 251.9 65 252.9 64 253.8 63 254.7 62 255.5 61 255.9 60.6 256.2 61 257.5 62 259.9 63 264.8 64 265.8 64.2 267.2 64 273.1 63 275.4 62 275.7 61.8 276.2 62 278.9 63 281.7 64 284.5 65 285.6 65.4 288.9 65 295.5 64.2 295.8 64 297.5 63 299.3 62 301 61 302.6 60 304.2 59 305.4 58.2 308.6 59 312.8 60 315.3 60.6 325.2 60.6 328.4 61 335.1 61.8 335.9 62 340 63 344.1 64 345 64.2 345.8 64 350 63 354.1 62 354.9 61.8 364.8 61.8 366.5 62 374.7 63 374.7 63 384.6 63 384.6 63 393.6 62 394.5 61.8 404.4 61.8 406.1 62 414.3 63 414.3 63 421.2 64 424.2 64.3 431.8 65 434.1 65.4 437.4 65 444 64.2 444 65 444 66 444 67 444 68 444 69 444 70 444 71 444 72 444 73 444 74 444 75 444 76 444 77 444 78 444 79 444 80 444 81 444 82 444 83 444 84 444 85 444 86 444 87 444 88 444 89 444 90 444 91 444 92 444 93 444 94 444 95 444 96 444 97 444 98 444 99 444 100 444 101 444 102 444 103 444 104 444 105 444 106 444 107 444 108 444 109 444 110 444 111 444 112 444 113 444 114 444 115 444 116 444 117 444 118 444 119 444 120 444 121 444 122 444 123 444 124 444 125 444 126 444 127 444 128 444 129 444 130 444 131 444 132 444 133 444 134 444 135 444 136 444 137 444 138 444 139 444 140 444 141 444 142 444 143 444 144 444 145 444 146 444 147 444 148 444 149 444 150 444 151 444 152 444 153 444 154 444 155 444 156 444 157 444 158 444 159 444 160 444 161 444 162 444 163 444 164 444 165 444 166 444 167 444 168 444 169 444 170 444 171 444 172 444 173 444 174 444 175 444 176 444 177 444 178 444 179 444 179.3 442.8 179 438.2 178 434.1 177.1 432.4 178 430.5 179 428.5 180 426.3 181 424.2 181.9 424.1 182 423.1 183 422 184 420.9 185 419.7 186 418.5 187 417.2 188 415.8 189 414.3 190 414.3 190 412.7 191 411 192 409.3 193 407.4 194 405.5 195 404.4 195.5 402.6 196 398.2 197 394.5 197.7 392.6 197 390.3 196 388.2 195 386.1 194 384.6 193.2 384.3 193 383.2 192 382.2 191 381.3 190 380.5 189 379.8 188 379.1 187 378.5 186 377.9 185 377.3 184 376.8 183 376.3 182 375.8 181 375.2 180 374.7 179 374.7 179 371.5 178 368.6 177 365.8 176 364.8 175.6 364.4 176 363.5 177 362.6 178 361.7 179 360.8 180 359.7 181 358.6 182 357.3 183 355.8 184 354.9 184.6 350.2 185 345 185.5 341.4 186 335.1 186.9 334.8 187 332.8 188 330.8 189 328.6 190 326.2 191 325.2 191.4 315.3 191.9 312 191 308.7 190 305.5 189 305.4 189 303.4 188 301.5 187 299.8 186 298.3 185 296.8 184 295.5 183.1 294.9 183 287.1 182 285.6 181.8 278.5 181 275.7 180.7 275.5 181 274.9 182 274.4 183 273.9 184 273.3 185 272.8 186 272.2 187 271.5 188 270.9 189 270.1 190 269.3 191 268.4 192 267.4 193 266.2 194 265.8 194.4 265.1 194 263.5 193 262.1 192 260.7 191 259.5 190 258.3 189 257.2 188 256.1 187 255.9 186.8 253.8 186 251.5 185 249.4 184 247.4 183 246 182.2 245.5 183 245 184 244.5 185 243.9 186 243.4 187 242.8 188 242.1 189 241.4 190 240.5 191 239.6 192 238.6 193 237.4 194 236.1 195 236 195 226.1 195.5 224.5 195 221.3 194 218.4 193 216.2 192.3 215.5 193 214.3 194 213.2 195 211.9 196 210.4 197 208.7 198 206.6 199 206.3 199.1 206.2 199 204.5 198 203.2 197 202 196 201.1 195 200.2 194 199.5 193 198.8 192 198.2 191 197.6 190 196.9 189 196.4 188.4 196.1 189 195.6 190 195.1 191 194.7 192 194.2 193 193.7 194 193.1 195 192.5 196 191.6 197 190.6 198 189.3 199 187.8 200 186.5 200.7 186.3 201 185.6 202 184.9 203 184.2 204 183.5 205 182.6 206 181.5 207 180.3 208 178.7 209 176.8 210 176.6 210.1 170.4 211 166.7 211.5 156.8 211.5 153 211 146.9 210.1 146.6 210 144.3 209 142.4 208 140.8 207 139.5 206 138.3 205 137 204 134.9 205 132.7 206 130.1 207 127.1 207.9 125 207 123 206 121.4 205 120.1 204 118.9 203 117.7 202 117.2 201.6 117 202 116.4 203 115.9 204 115.4 205 115 206 114.5 207 114 208 113.4 209 112.7 210 111.9 211 110.9 212 109.8 213 108.3 214 107.3 214.6 106 215 102.6 216 98.9 217 97.4 217.4 96.8 217 95 216 93.4 215 91.8 214 90.3 213 88.7 212 87.5 211.2 86.9 211 84 210 81.5 209 79.3 208 77.6 207.3 77 208 76.3 209 75.7 210 75 211 74.3 212 73.6 213 72.7 214 71.8 215 70.7 216 69.5 217 68.1 218 67.7 218.3 58.2 218 57.8 218 54.6 217 51.7 216 49.1 215 47.9 214.5 47.1 214 45.9 213 44.8 212 44 211 43.2 210 42.6 209 42.1 208 41.7 207 41.4 206 41.1 205 40.8 204 40.5 203 40.3 202 40 201 39.8 200 39.6 199 39.3 198 39.1 197 38.8 196 38.6 195 38.2 194 38 193.5 38 193 38 192 38 191 38 190 38 189 38 188 38 187 38 186 38 185 38 184 38 183 38 182 38 181 38 180 38 179 38 178 38 177 38 176 38 175 38 174 38 173 38 172 38 171 38 170 38 169 38 168 38 167 38 166 38 165 38 164 38 163 38 162 38 161 38 160 38 159 38 158 38 157 38 156 38 155 38 154 38 153 38 152 38 151 38 150 38 149 38 148 38 147 38 146 38 145 38 144 38 143 38 142 38 141 38 140 38 139 38 138 38 137 38 136 38 135 38 134 38 133 38 132 38 131 38 130 38 129 38 128 38 127 38 126 38 125 38 124 38 123 38 122 38 121 38 120 38 119 38 118 38 117 38 116 38 115 38 114 38 113 38 112 38 111 38 110 38 109 38 108 38 107 38 106 38 105 38 104 38 103 38 102 38 101 38 100 38 99 38 98 38 97 38 96 38 95 38 94 38 93 38 92 38 91 38 90 38 89 38 88 38 87 38 86 38 85 38 84 38 83 38 82 38 81 38 80 38 79 38 78 38 77 38 76 38 75 38 74 38 73 38 72 38 71 38 70 38 69 38 68 38 67 38 66 38 65 38 64 38 63 38 62 38 61 38 60 38 59 38 58 38 57 38 56 38 55 38 54 38 53.5 40.2 53 44.1 52 46.6 51Z"/>
<path fill="#bdbdff" d="M47.9 51.3 50.1 52 52.9 53 55.5 54 57.8 54.9 58.8 55 67 56 67.7 56.1 68.3 57 68.9 58 69.6 59 70.3 60 71 61 71.8 62 72.8 63 74 64 75.4 65 76.8 66 77.6 66.7 80 66 83.6 65 86.4 64 87.5 63.4 90.6 63 97.4 62.2 101 63 105 64 107.3 64.6 112 64 117.2 63.4 120.3 63 127.1 62.2 127.8 62 131.4 61 135.3 60 137 59.6 138.2 60 141 61 143.6 62 146 63 146.9 63.4 149.6 64 153.8 65 156.8 65.8 158.7 66 166.7 67 166.9 67 175.2 68 176.6 68.2 180.2 68 186.5 67.7 191.7 68 196.4 68.3 200.1 69 205.4 70 206.3 70.2 209.5 71 213.2 72 216.2 72.9 217.4 72 218.7 71 220 70 221.3 69 222.6 68 223.8 67 225 66 226.1 65 229.3 66 232.5 67 235.7 68 236 68.1 237.9 69 240 70 242.1 71 244.1 72 246 72.9 246.8 72 247.8 71 248.7 70 249.6 69 250.4 68 251.3 67 252.3 66 253.2 65 254.1 64 255 63 255.8 62 255.9 62 255.9 62 257.6 63 261.1 64 265.3 65 265.8 65.1 266.5 65 272.5 64 275.7 63.2 277.9 64 280.6 65 283.4 66 285.6 66.8 292.1 66 295.5 65.6 296.5 65 298.1 64 299.8 63 301.5 62 303.2 61 304.7 60 305.4 59.6 307.1 60 311.2 61 315.3 62 325.2 62 325.3 62 333.5 63 335.1 63.2 338.4 64 342.6 65 345 65.6 347.3 65 351.5 64 354.9 63.2 364.8 63.2 371.6 64 374.7 64.4 384.2 64 384.6 64 394.5 63.2 404.4 63.2 411.1 64 414.3 64.4 423.2 65 424.2 65 430.5 66 434.1 66.8 440.5 66 444 65.6 444 66 444 67 444 68 444 69 444 70 444 71 444 72 444 73 444 74 444 75 444 76 444 77 444 78 444 79 444 80 444 81 444 82 444 83 444 84 444 85 444 86 444 87 444 88 444 89 444 90 444 91 444 92 444 93 444 94 444 95 444 96 444 97 444 98 444 99 444 100 444 101 444 102 444 103 444 104 444 105 444 106 444 107 444 108 444 109 444 110 444 111 444 112 444 113 444 114 444 115 444 116 444 117 444 118 444 119 444 120 444 121 444 122 444 123 444 124 444 125 444 126 444 127 444 128 444 129 444 130 444 131 444 132 444 133 444 134 444 135 444 136 444 137 444 138 444 139 444 140 444 141 444 142 444 143 444 144 444 145 444 146 444 147 444 148 444 149 444 150 444 151 444 152 444 153 444 154 444 155 444 156 444 157 444 158 444 159 444 160 444 161 444 162 444 163 444 164 444 165 444 166 444 167 444 168 444 169 444 170 444 171 444 172 444 173 444 174 444 175 444 176 444 176.6 441 176 436.5 175 434.1 174.4 433 175 431.1 176 429.1 177 427 178 424.8 179 424.2 179.3 423.4 180 422.3 181 421.2 182 420.1 183 418.9 184 417.6 185 416.3 186 414.8 187 414.3 187.4 413.3 188 411.6 189 409.9 190 408.1 191 406.2 192 404.4 192.9 404.1 193 399.9 194 395.8 195 394.5 195.3 393.8 195 391.6 194 389.5 193 387.4 192 385.3 191 384.6 190.7 383.9 190 382.9 189 382.1 188 381.3 187 380.5 186 379.8 185 379.2 184 378.6 183 378 182 377.4 181 376.8 180 376.2 179 375.6 178 375 177 374.7 176.4 373.6 176 370.5 175 367.6 174 364.8 173 364.8 173 364.8 173 363.8 174 362.8 175 361.8 176 360.8 177 359.8 178 358.7 179 357.5 180 356.2 181 354.9 181.9 354.3 182 345 182.9 344 183 336.8 184 335.1 184.2 333.5 185 331.4 186 329.2 187 327 188 325.2 188.8 321.3 189 315.3 189.3 314.2 189 310.8 188 307.5 187 305.4 186.3 304.7 186 302.9 185 301.1 184 299.5 183 297.9 182 296.3 181 295.5 180.5 291.9 180 285.6 179.2 284 179 275.7 178 275.1 179 274.5 180 273.9 181 273.3 182 272.7 183 272.1 184 271.5 185 270.8 186 270.1 187 269.3 188 268.5 189 267.6 190 266.6 191 265.8 191.7 264.6 191 263.1 190 261.8 189 260.5 188 259.2 187 258 186 256.8 185 255.9 184.2 255.4 184 253.1 183 250.9 182 248.8 181 246.8 180 246 179.6 245.7 180 245.1 181 244.5 182 243.9 183 243.3 184 242.7 185 242.1 186 241.4 187 240.7 188 239.8 189 238.9 190 237.9 191 236.8 192 236 192.6 229.3 193 226.1 193.2 225.5 193 222.2 192 219 191 216.2 190.2 215.2 191 214 192 212.8 193 211.5 194 210.1 195 208.5 196 206.6 197 206.3 197.1 206.1 197 204.7 196 203.4 195 202.4 194 201.5 193 200.7 192 199.9 191 199.3 190 198.5 189 197.7 188 196.8 187 196.4 186.6 196.1 187 195.5 188 194.9 189 194.3 190 193.8 191 193.3 192 192.8 193 192.2 194 191.4 195 190.6 196 189.5 197 188.2 198 186.6 199 186.5 199 185.7 200 184.8 201 184.1 202 183.3 203 182.5 204 181.6 205 180.6 206 179.3 207 177.7 208 176.6 208.6 173.7 209 166.7 210 157.3 210 156.8 210 156.8 210 149.6 209 146.9 208.6 145.5 208 143.6 207 142 206 140.6 205 139.2 204 137.8 203 137 202.5 135.9 203 133.5 204 131.1 205 128.4 206 127.1 206.4 126.2 206 124.2 205 122.6 204 121.2 203 119.9 202 118.5 201 117.2 200.1 116.6 201 115.9 202 115.3 203 114.8 204 114.3 205 113.7 206 113.2 207 112.6 208 111.9 209 111.1 210 110.1 211 108.9 212 107.5 213 107.3 213.1 104.3 214 100.7 215 97.4 215.9 95.9 215 94.2 214 92.6 213 91 212 89.5 211 87.9 210 87.5 209.7 85.5 209 83 208 80.6 207 78.2 206 77.6 205.8 77.4 206 76.5 207 75.8 208 75 209 74.3 210 73.6 211 72.9 212 72 213 71.1 214 70 215 68.8 216 67.7 216.8 57.8 216.5 56.2 216 53.2 215 50.4 214 47.9 213 47.8 213 46.6 212 45.5 211 44.7 210 43.9 209 43.3 208 42.8 207 42.4 206 42.1 205 41.7 204 41.4 203 41.1 202 40.9 201 40.6 200 40.3 199 40.1 198 39.8 197 39.6 196 39.3 195 38.9 194 38.5 193 38 192 38 192 38 191 38 190 38 189 38 188 38 187 38 186 38 185 38 184 38 183 38 182 38 181 38 180 38 179 38 178 38 177 38 176 38 175 38 174 38 173 38 172 38 171 38 170 38 169 38 168 38 167 38 166 38 165 38 164 38 163 38 162 38 161 38 160 38 159 38 158 38 157 38 156 38 155 38 154 38 153 38 152 38 151 38 150 38 149 38 148 38 147 38 146 38 145 38 144 38 143 38 142 38 141 38 140 38 139 38 138 38 137 38 136 38 135 38 134 38 133 38 132 38 131 38 130 38 129 38 128 38 127 38 126 38 125 38 124 38 123 38 122 38 121 38 120 38 119 38 118 38 117 38 116 38 115 38 114 38 113 38 112 38 111 38 110 38 109 38 108 38 107 38 106 38 105 38 104 38 103 38 102 38 101 38 100 38 99 38 98 38 97 38 96 38 95 38 94 38 93 38 92 38 91 38 90 38 89 38 88 38 87 38 86 38 85 38 84 38 83 38 82 38 81 38 80 38 79 38 78 38 77 38 76 38 75 38 74 38 73 38 72 38 71 38 70 38 69 38 68 38 67 38 66 38 65 38 64 38 63 38 62 38 61 38 60 38 59 38 58 38 57 38 56 38 55 38 54.3 39.1 54 43 53 46.3 52Z"/>
<path fill="#c7c7ff" d="M47.9 52.3 50 53 52.8 54 55.5 55 57.8 55.9 58.7 56 67 57 67.7 57.1 68.3 58 69 59 69.6 60 70.4 61 71.2 62 72 63 73.2 64 74.5 65 75.8 66 77 67 77.6 67.5 79.3 67 82.8 66 86 65 87.5 64.4 90.7 64 97.4 63.2 100.9 64 105 65 107.3 65.6 112.1 65 117.2 64.4 120.4 64 127.1 63.2 127.8 63 131.5 62 135.4 61 137 60.6 138.2 61 140.9 62 143.5 63 145.9 64 146.9 64.4 149.6 65 153.7 66 156.8 66.8 158.6 67 166.7 68 166.8 68 175.1 69 176.6 69.2 180.8 69 186.5 68.7 190.4 69 196.4 69.5 199.4 70 204.5 71 206.3 71.4 208.8 72 212.4 73 215.9 74 216.2 74.1 216.4 74 217.8 73 219.1 72 220.3 71 221.6 70 222.9 69 224.1 68 225.4 67 226.1 66.3 228.3 67 231.5 68 234.6 69 236 69.5 237.2 70 239.3 71 241.3 72 243.4 73 245.4 74 246 74.3 246.2 74 247.2 73 248.2 72 249.1 71 250 70 250.9 69 251.7 68 252.6 67 253.5 66 254.4 65 255.3 64 255.9 63.4 257.5 64 260.9 65 265.1 66 265.8 66.1 266.8 66 273.6 65 275.7 64.6 276.8 65 279.5 66 282.3 67 285 68 285.6 68.2 287.1 68 295.3 67 295.5 67 297.1 66 298.8 65 300.4 64 302.1 63 303.8 62 305.3 61 305.4 61 305.4 61 309.5 62 313.7 63 315.3 63.4 325.2 63.4 330.3 64 335.1 64.6 336.8 65 341 66 345 66.9 349 66 353.2 65 354.9 64.6 364.8 64.6 368.6 65 374.7 65.7 384.6 65.1 386.7 65 394.5 64.6 404.4 64.6 407.8 65 414.3 65.8 424.2 66 424.2 66 429.3 67 433.4 68 434.1 68.2 435.5 68 443.4 67 444 66.9 444 67 444 68 444 69 444 70 444 71 444 72 444 73 444 74 444 75 444 76 444 77 444 78 444 79 444 80 444 81 444 82 444 83 444 84 444 85 444 86 444 87 444 88 444 89 444 90 444 91 444 92 444 93 444 94 444 95 444 96 444 97 444 98 444 99 444 100 444 101 444 102 444 103 444 104 444 105 444 106 444 107 444 108 444 109 444 110 444 111 444 112 444 113 444 114 444 115 444 116 444 117 444 118 444 119 444 120 444 121 444 122 444 123 444 124 444 125 444 126 444 127 444 128 444 129 444 130 444 131 444 132 444 133 444 134 444 135 444 136 444 137 444 138 444 139 444 140 444 141 444 142 444 143 444 144 444 145 444 146 444 147 444 148 444 149 444 150 444 151 444 152 444 153 444 154 444 155 444 156 444 157 444 158 444 159 444 160 444 161 444 162 444 163 444 164 444 165 444 166 444 167 444 168 444 169 444 170 444 171 444 172 444 173 444 174 444 174.4 442.4 174 437.9 173 434.1 172.1 432.4 173 430.4 174 428.4 175 426.3 176 424.2 176.9 424.1 177 423 178 421.9 179 420.7 180 419.5 181 418.3 182 417 183 415.7 184 414.3 185 414.3 185 412.6 186 410.9 187 409.2 188 407.3 189 405.5 190 404.4 190.6 402.3 191 397.8 192 394.5 192.8 392.8 192 390.6 191 388.5 190 386.3 189 384.6 188.2 384.4 188 383.4 187 382.6 186 381.8 185 381 184 380.3 183 379.7 182 379 181 378.3 180 377.7 179 377 178 376.4 177 375.8 176 375.2 175 374.7 174 374.6 174 371.5 173 368.5 172 365.6 171 364.8 170.7 364.5 171 363.4 172 362.4 173 361.3 174 360.3 175 359.2 176 358.1 177 356.9 178 355.6 179 354.9 179.6 350.6 180 345 180.6 341.7 181 335.1 181.9 334.8 182 332.6 183 330.4 184 328.2 185 326 186 325.2 186.4 315.3 186.9 312 186 308.7 185 305.5 184 305.4 184 303.6 183 301.8 182 300.1 181 298.4 180 296.8 179 295.5 178.2 294.2 178 286.3 177 285.6 176.9 277.7 176 275.7 175.8 275.5 176 274.9 177 274.3 178 273.7 179 273 180 272.3 181 271.7 182 271 183 270.3 184 269.6 185 268.8 186 268 187 267.1 188 266.1 189 265.8 189.4 265.2 189 263.8 188 262.4 187 261 186 259.8 185 258.5 184 257.2 183 256 182 255.9 181.9 253.9 181 251.6 180 249.5 179 247.4 178 246 177.3 245.6 178 244.9 179 244.3 180 243.7 181 243 182 242.3 183 241.7 184 241 185 240.2 186 239.4 187 238.6 188 237.6 189 236.5 190 236 190.4 228.2 191 226.1 191.1 225.6 191 222.2 190 218.8 189 216.2 188.3 215.4 189 214.1 190 212.8 191 211.5 192 210.1 193 208.7 194 207 195 206.3 195.4 205.8 195 204.6 194 203.5 193 202.5 192 201.7 191 200.9 190 200.1 189 199.3 188 198.4 187 197.4 186 196.4 185 196.4 185 196.4 185 195.7 186 195 187 194.3 188 193.7 189 193.1 190 192.5 191 192 192 191.3 193 190.6 194 189.7 195 188.7 196 187.4 197 186.5 197.6 186.1 198 185.1 199 184.3 200 183.4 201 182.6 202 181.8 203 180.9 204 179.8 205 178.6 206 177 207 176.6 207.2 171.1 208 166.7 208.6 156.8 208.6 152.2 208 146.9 207.3 146.4 207 144.5 206 142.9 205 141.4 204 139.9 203 138.4 202 137 201.2 134.9 202 132.4 203 129.9 204 127.2 205 127.1 205 127.1 205 125.1 204 123.5 203 122.1 202 120.6 201 119.2 200 117.6 199 117.2 198.8 117 199 116.2 200 115.5 201 114.8 202 114.2 203 113.6 204 113.1 205 112.5 206 111.9 207 111.2 208 110.4 209 109.4 210 108.3 211 107.3 211.7 106.4 212 102.8 213 99.2 214 97.4 214.5 96.6 214 94.9 213 93.3 212 91.7 211 90.1 210 88.6 209 87.5 208.3 86.7 208 84.1 207 81.7 206 79.2 205 77.6 204.4 77 205 76.1 206 75.3 207 74.5 208 73.7 209 73 210 72.2 211 71.4 212 70.5 213 69.4 214 68.2 215 67.7 215.4 57.8 215.2 57.3 215 54.3 214 51.5 213 48.8 212 47.9 211.7 47.1 211 46.1 210 45.3 209 44.6 208 44 207 43.5 206 43 205 42.7 204 42.3 203 42 202 41.7 201 41.4 200 41.1 199 40.8 198 40.6 197 40.3 196 40 195 39.6 194 39.2 193 38.7 192 38.2 191 38 190.7 38 190 38 189 38 188 38 187 38 186 38 185 38 184 38 183 38 182 38 181 38 180 38 179 38 178 38 177 38 176 38 175 38 174 38 173 38 172 38 171 38 170 38 169 38 168 38 167 38 166 38 165 38 164 38 163 38 162 38 161 38 160 38 159 38 158 38 157 38 156 38 155 38 154 38 153 38 152 38 151 38 150 38 149 38 148 38 147 38 146 38 145 38 144 38 143 38 142 38 141 38 140 38 139 38 138 38 137 38 136 38 135 38 134 38 133 38 132 38 131 38 130 38 129 38 128 38 127 38 126 38 125 38 124 38 123 38 122 38 121 38 120 38 119 38 118 38 117 38 116 38 115 38 114 38 113 38 112 38 111 38 110 38 109 38 108 38 107 38 106 38 105 38 104 38 103 38 102 38 101 38 100 38 99 38 98 38 97 38 96 38 95 38 94 38 93 38 92 38 91 38 90 38 89 38 88 38 87 38 86 38 85 38 84 38 83 38 82 38 81 38 80 38 79 38 78 38 77 38 76 38 75 38 74 38 73 38 72 38 71 38 70 38 69 38 68 38 67 38 66 38 65 38 64 38 63 38 62 38 61 38 60 38 59 38 58 38 57 38 56 38 55.1 38.3 55 42.2 54 45.8 53Z"/>
<path fill="#d1d1ff" d="M47.9 53.3 50.1 54 52.8 55 55.5 56 57.8 56.9 59 57 67.3 58 67.7 58.1 68.3 59 69 60 69.7 61 70.5 62 71.3 63 72.4 64 73.6 65 74.9 66 76 67 77.2 68 77.6 68.4 78.9 68 82.3 67 85.6 66 87.5 65.4 90.4 65 97.4 64.2 101 65 105.1 66 107.3 66.6 111.9 66 117.2 65.4 120.1 65 127.1 64.2 127.7 64 131.5 63 135.3 62 137 61.6 138.3 62 140.9 63 143.5 64 146 65 146.9 65.4 149.7 66 153.8 67 156.8 67.8 158.9 68 166.7 69 167.1 69 175.4 70 176.6 70.2 180.6 70 186.5 69.8 189.7 70 196.4 70.6 198.8 71 203.8 72 206.3 72.5 208.1 73 211.7 74 215.1 75 216.2 75.3 216.7 75 218.1 74 219.5 73 220.7 72 222 71 223.2 70 224.5 69 225.7 68 226.1 67.6 227.4 68 230.5 69 233.6 70 236 70.8 236.4 71 238.5 72 240.5 73 242.5 74 244.6 75 246 75.7 246.7 75 247.7 74 248.6 73 249.5 72 250.4 71 251.3 70 252.2 69 253 68 253.9 67 254.8 66 255.7 65 255.9 64.8 256.5 65 260.1 66 264.3 67 265.8 67.3 268.4 67 275.6 66 275.7 66 275.7 66 278.4 67 281.1 68 283.9 69 285.6 69.6 290.5 69 295.5 68.4 296.2 68 297.9 67 299.5 66 301.2 65 302.8 64 304.4 63 305.4 62.4 307.8 63 312 64 315.3 64.8 325.2 64.8 326.9 65 335.1 66 335.1 66 339.3 67 343.5 68 345 68.3 346.4 68 350.7 67 354.9 66 354.9 66 364.8 65.9 365.4 66 374.3 67 374.7 67 375.3 67 384.6 66.4 394.3 66 394.5 66 404.4 66 404.4 66 412.7 67 414.3 67.2 424.2 67.1 427.9 68 431.8 69 434.1 69.6 438.5 69 444 68.3 444 69 444 70 444 71 444 72 444 73 444 74 444 75 444 76 444 77 444 78 444 79 444 80 444 81 444 82 444 83 444 84 444 85 444 86 444 87 444 88 444 89 444 90 444 91 444 92 444 93 444 94 444 95 444 96 444 97 444 98 444 99 444 100 444 101 444 102 444 103 444 104 444 105 444 106 444 107 444 108 444 109 444 110 444 111 444 112 444 113 444 114 444 115 444 116 444 117 444 118 444 119 444 120 444 121 444 122 444 123 444 124 444 125 444 126 444 127 444 128 444 129 444 130 444 131 444 132 444 133 444 134 444 135 444 136 444 137 444 138 444 139 444 140 444 141 444 142 444 143 444 144 444 145 444 146 444 147 444 148 444 149 444 150 444 151 444 152 444 153 444 154 444 155 444 156 444 157 444 158 444 159 444 160 444 161 444 162 444 163 444 164 444 165 444 166 444 167 444 168 444 169 444 170 444 171 444 172 444 172.3 442.8 172 438.4 171 434.3 170 434.1 170 434 170 432.1 171 430.1 172 428 173 425.9 174 424.2 174.8 424 175 422.8 176 421.7 177 420.5 178 419.3 179 418 180 416.8 181 415.4 182 414.3 182.8 414 183 412.3 184 410.6 185 408.8 186 407 187 405.1 188 404.4 188.3 400.9 189 396 190 394.5 190.3 393.8 190 391.5 189 389.3 188 387 187 384.7 186 384.6 186 383.7 185 382.9 184 382.1 183 381.3 182 380.6 181 379.9 180 379.2 179 378.4 178 377.8 177 377.1 176 376.5 175 375.9 174 375.3 173 374.7 172 374.7 171.9 371.9 171 368.8 170 365.9 169 364.8 168.6 364.4 169 363.4 170 362.2 171 361.1 172 360 173 358.9 174 357.8 175 356.6 176 355.3 177 354.9 177.4 349 178 345 178.4 340.7 179 335.1 179.8 334.5 180 332.2 181 329.9 182 327.6 183 325.3 184 325.2 184 315.3 184.8 312.6 184 309.2 183 306 182 305.4 181.8 303.9 181 302.1 180 300.4 179 298.7 178 297 177 295.5 176.1 294.9 176 286.9 175 285.6 174.8 278.4 174 275.7 173.7 275.5 174 274.8 175 274.2 176 273.6 177 272.9 178 272.2 179 271.5 180 270.8 181 270 182 269.3 183 268.5 184 267.7 185 266.8 186 265.9 187 265.8 187.2 265.5 187 264.1 186 262.7 185 261.3 184 260 183 258.7 182 257.4 181 256.2 180 255.9 179.7 254.2 179 251.9 178 249.7 177 247.6 176 246 175.2 245.5 176 244.9 177 244.3 178 243.6 179 242.9 180 242.2 181 241.5 182 240.7 183 240 184 239.2 185 238.4 186 237.5 187 236.5 188 236 188.4 229.2 189 226.1 189.3 225.2 189 221.7 188 217.9 187 216.2 186.6 215.7 187 214.4 188 213.1 189 211.8 190 210.4 191 209 192 207.5 193 206.3 193.7 205.5 193 204.4 192 203.4 191 202.5 190 201.7 189 200.8 188 199.9 187 198.9 186 198 185 196.9 184 196.4 183.5 196.1 184 195.3 185 194.5 186 193.8 187 193.1 188 192.5 189 191.9 190 191.3 191 190.6 192 189.9 193 189 194 188 195 186.8 196 186.5 196.2 185.7 197 184.7 198 183.7 199 182.8 200 182 201 181.1 202 180.2 203 179.2 204 178 205 176.6 206 176.3 206 169 207 166.7 207.3 156.8 207.3 154.5 207 147.1 206 146.9 206 145.2 205 143.6 204 142 203 140.5 202 138.9 201 137.2 200 137 199.9 136.8 200 134.1 201 131.6 202 129 203 127.1 203.7 125.8 203 124.2 202 122.7 201 121.3 200 119.7 199 118.1 198 117.2 197.5 116.8 198 115.9 199 115.1 200 114.4 201 113.7 202 113.1 203 112.5 204 111.9 205 111.3 206 110.6 207 109.8 208 108.9 209 107.8 210 107.3 210.4 105.1 211 101.5 212 97.9 213 97.4 213.1 97.2 213 95.5 212 93.9 211 92.3 210 90.8 209 89.2 208 87.6 207 87.5 206.9 85.2 206 82.7 205 80.1 204 77.6 203.1 76.7 204 75.7 205 74.9 206 74 207 73.2 208 72.5 209 71.7 210 70.9 211 70 212 69 213 67.8 214 67.7 214.1 63.8 214 57.8 213.9 55.1 213 52.4 212 49.7 211 47.9 210.3 47.5 210 46.6 209 45.8 208 45.1 207 44.5 206 44 205 43.6 204 43.2 203 42.9 202 42.5 201 42.2 200 41.9 199 41.6 198 41.3 197 41 196 40.7 195 40.3 194 39.9 193 39.4 192 38.9 191 38.3 190 38 189.5 38 189 38 188 38 187 38 186 38 185 38 184 38 183 38 182 38 181 38 180 38 179 38 178 38 177 38 176 38 175 38 174 38 173 38 172 38 171 38 170 38 169 38 168 38 167 38 166 38 165 38 164 38 163 38 162 38 161 38 160 38 159 38 158 38 157 38 156 38 155 38 154 38 153 38 152 38 151 38 150 38 149 38 148 38 147 38 146 38 145 38 144 38 143 38 142 38 141 38 140 38 139 38 138 38 137 38 136 38 135 38 134 38 133 38 132 38 131 38 130 38 129 38 128 38 127 38 126 38 125 38 124 38 123 38 122 38 121 38 120 38 119 38 118 38 117 38 116 38 115 38 114 38 113 38 112 38 111 38 110 38 109 38 108 38 107 38 106 38 105 38 104 38 103 38 102 38 101 38 100 38 99 38 98 38 97 38 96 38 95 38 94 38 93 38 92 38 91 38 90 38 89 38 88 38 87 38 86 38 85 38 84 38 83 38 82 38 81 38 80 38 79 38 78 38 77 38 76 38 75 38 74 38 73 38 72 38 71 38 70 38 69 38 68 38 67 38 66 38 65 38 64 38 63 38 62 38 61 38 60 38 59 38 58 38 57 38 56 38 56 41.7 55 45.4 54Z"/>
<path fill="#dbdbff" d="M47.9 54.2 50.1 55 52.9 56 55.6 57 57.8 57.8 59.5 58 67.7 59 67.7 59 68.4 60 69.1 61 69.8 62 70.6 63 71.6 64 72.8 65 73.9 66 75.1 67 76.1 68 77.2 69 77.6 69.4 78.8 69 82 68 85.3 67 87.5 66.3 90 66 97.4 65.1 101.1 66 105.2 67 107.3 67.5 111.4 67 117.2 66.3 119.7 66 127.1 65.1 127.5 65 131.3 64 135.1 63 137 62.5 138.4 63 141 64 143.5 65 146.1 66 146.9 66.3 149.8 67 153.9 68 156.8 68.7 159.3 69 166.7 69.9 167.6 70 175.8 71 176.6 71.1 179.8 71 186.5 70.8 189.3 71 196.4 71.6 198.3 72 203.2 73 206.3 73.7 207.5 74 211 75 214.4 76 216.2 76.6 217.1 76 218.5 75 219.9 74 221.1 73 222.4 72 223.6 71 224.8 70 226.1 69 226.1 68.9 226.4 69 229.5 70 232.5 71 235.5 72 236 72.2 237.7 73 239.7 74 241.7 75 243.7 76 245.7 77 246 77.1 246.1 77 247.1 76 248.1 75 249.1 74 250 73 250.9 72 251.8 71 252.6 70 253.5 69 254.3 68 255.2 67 255.9 66.2 258.8 67 262.9 68 265.8 68.7 271.3 68 275.7 67.4 277.2 68 279.9 69 282.6 70 285.5 71 285.6 71 285.8 71 294.1 70 295.5 69.8 296.9 69 298.6 68 300.3 67 301.9 66 303.5 65 305.1 64 305.4 63.8 306 64 310.1 65 314.3 66 315.3 66.2 325.2 66.2 331.5 67 335.1 67.4 337.4 68 341.6 69 345 69.8 348.3 69 352.5 68 354.9 67.4 364.8 67.3 370.8 68 374.7 68.4 381.3 68 384.6 67.8 394.5 67.4 404.4 67.4 409.1 68 414.3 68.6 424.2 68.5 426.2 69 429.9 70 434 71 434.1 71 434.3 71 441.6 70 444 69.7 444 70 444 71 444 72 444 73 444 74 444 75 444 76 444 77 444 78 444 79 444 80 444 81 444 82 444 83 444 84 444 85 444 86 444 87 444 88 444 89 444 90 444 91 444 92 444 93 444 94 444 95 444 96 444 97 444 98 444 99 444 100 444 101 444 102 444 103 444 104 444 105 444 106 444 107 444 108 444 109 444 110 444 111 444 112 444 113 444 114 444 115 444 116 444 117 444 118 444 119 444 120 444 121 444 122 444 123 444 124 444 125 444 126 444 127 444 128 444 129 444 130 444 131 444 132 444 133 444 134 444 135 444 136 444 137 444 138 444 139 444 140 444 141 444 142 444 143 444 144 444 145 444 146 444 147 444 148 444 149 444 150 444 151 444 152 444 153 444 154 444 155 444 156 444 157 444 158 444 159 444 160 444 161 444 162 444 163 444 164 444 165 444 166 444 167 444 168 444 169 444 170 444 170.3 442.7 170 438.4 169 434.3 168 434.1 167.9 434 168 432 169 430 170 427.9 171 425.8 172 424.2 172.8 423.9 173 422.9 174 421.7 175 420.5 176 419.2 177 418 178 416.7 179 415.4 180 414.3 180.8 413.9 181 412.2 182 410.5 183 408.7 184 406.8 185 404.9 186 404.4 186.3 400.1 187 394.6 188 394.5 188 394.5 188 392.1 187 389.7 186 387.3 185 385 184 384.6 183.8 383.9 183 383 182 382.2 181 381.5 180 380.7 179 379.9 178 379.1 177 378.5 176 377.8 175 377.2 174 376.6 173 375.9 172 375.3 171 374.7 170 374.7 169.9 371.8 169 368.7 168 365.7 167 364.8 166.7 364.5 167 363.4 168 362.4 169 361.2 170 360 171 358.8 172 357.7 173 356.5 174 355.2 175 354.9 175.3 348.8 176 345 176.4 340.7 177 335.1 177.7 334.5 178 332.1 179 329.7 180 327.3 181 325.2 181.9 323.9 182 315.3 182.8 312.7 182 309.3 181 306.1 180 305.4 179.8 304 179 302.2 178 300.4 177 298.7 176 296.9 175 295.5 174.1 294.6 174 286.5 173 285.6 172.9 278.1 172 275.7 171.7 275.5 172 274.8 173 274.2 174 273.6 175 272.9 176 272.2 177 271.5 178 270.8 179 270 180 269.2 181 268.4 182 267.6 183 266.7 184 265.8 185 265.8 185.1 265.6 185 264.2 184 262.8 183 261.4 182 260.1 181 258.7 180 257.4 179 256.2 178 255.9 177.7 254.2 177 251.9 176 249.7 175 247.5 174 246 173.3 245.5 174 244.9 175 244.3 176 243.6 177 243 178 242.2 179 241.5 180 240.8 181 240 182 239.1 183 238.3 184 237.5 185 236.5 186 236 186.5 231 187 226.1 187.5 224.4 187 220.7 186 216.7 185 216.2 184.9 216.1 185 214.8 186 213.5 187 212.1 188 210.8 189 209.4 190 208 191 206.5 192 206.3 192.1 206.2 192 205.2 191 204.2 190 203.3 189 202.3 188 201.4 187 200.4 186 199.5 185 198.4 184 197.4 183 196.4 182.1 195.7 183 194.9 184 194.1 185 193.4 186 192.6 187 192 188 191.3 189 190.6 190 190 191 189.3 192 188.5 193 187.5 194 186.5 194.8 186.4 195 185.3 196 184.2 197 183.2 198 182.3 199 181.4 200 180.5 201 179.6 202 178.7 203 177.5 204 176.6 204.7 174.3 205 166.9 206 166.7 206 156.8 206 156.6 206 149.2 205 146.9 204.7 145.7 204 144.2 203 142.6 202 141.1 201 139.4 200 137.6 199 137 198.7 136.1 199 133.3 200 130.8 201 128.2 202 127.1 202.4 126.4 202 124.8 201 123.4 200 121.8 199 120.2 198 118.5 197 117.2 196.3 116.5 197 115.6 198 114.8 199 114 200 113.3 201 112.6 202 112 203 111.4 204 110.7 205 110 206 109.3 207 108.4 208 107.4 209 107.3 209.1 103.9 210 100.3 211 97.4 211.8 96.1 211 94.5 210 93 209 91.5 208 89.9 207 88.3 206 87.5 205.5 86.2 205 83.6 204 81.1 203 78.3 202 77.6 201.7 77.3 202 76.3 203 75.4 204 74.5 205 73.6 206 72.8 207 72 208 71.2 209 70.4 210 69.5 211 68.5 212 67.7 212.8 57.8 212.7 55.9 212 53.2 211 50.6 210 47.9 209 47.9 209 47 208 46.2 207 45.6 206 45 205 44.6 204 44.1 203 43.7 202 43.4 201 43 200 42.7 199 42.4 198 42 197 41.7 196 41.4 195 41.1 194 40.6 193 40.2 192 39.7 191 39.1 190 38.5 189 38 188.2 38 188 38 187 38 186 38 185 38 184 38 183 38 182 38 181 38 180 38 179 38 178 38 177 38 176 38 175 38 174 38 173 38 172 38 171 38 170 38 169 38 168 38 167 38 166 38 165 38 164 38 163 38 162 38 161 38 160 38 159 38 158 38 157 38 156 38 155 38 154 38 153 38 152 38 151 38 150 38 149 38 148 38 147 38 146 38 145 38 144 38 143 38 142 38 141 38 140 38 139 38 138 38 137 38 136 38 135 38 134 38 133 38 132 38 131 38 130 38 129 38 128 38 127 38 126 38 125 38 124 38 123 38 122 38 121 38 120 38 119 38 118 38 117 38 116 38 115 38 114 38 113 38 112 38 111 38 110 38 109 38 108 38 107 38 106 38 105 38 104 38 103 38 102 38 101 38 100 38 99 38 98 38 97 38 96 38 95 38 94 38 93 38 92 38 91 38 90 38 89 38 88 38 87 38 86 38 85 38 84 38 83 38 82 38 81 38 80 38 79 38 78 38 77 38 76 38 75 38 74 38 73 38 72 38 71 38 70 38 69 38 68 38 67 38 66 38 65 38 64 38 63 38 62 38 61 38 60 38 59 38 58 38 57 38 57 41.4 56 45.1 55Z"/>
<path fill="#e6e6ff" d="M47.9 55.1 50.2 56 52.9 57 55.6 58 57.8 58.7 59.9 59 67.7 59.9 67.7 60 68.4 61 69.1 62 69.9 63 70.8 64 71.9 65 73 66 74.1 67 75.1 68 76.2 69 77.2 70 77.6 70.5 78.9 70 81.9 69 85.1 68 87.5 67.2 89.6 67 97.4 66 101.3 67 105.4 68 107.3 68.4 111 68 117.2 67.2 119.3 67 127.1 66 127.3 66 131.2 65 134.9 64 137 63.4 138.5 64 141 65 143.6 66 146.2 67 146.9 67.2 150 68 154.1 69 156.8 69.6 159.7 70 166.7 70.8 168 71 176.3 72 176.6 72 178.5 72 186.5 71.8 188.8 72 196.4 72.7 197.7 73 202.5 74 206.3 74.9 206.8 75 210.2 76 213.6 77 216.2 77.8 217.5 77 219 76 220.3 75 221.6 74 222.8 73 224 72 225.2 71 226.1 70.2 228.4 71 231.4 72 234.3 73 236 73.6 236.9 74 238.8 75 240.8 76 242.7 77 244.7 78 246 78.6 246.6 78 247.6 77 248.6 76 249.6 75 250.5 74 251.4 73 252.2 72 253.1 71 253.9 70 254.8 69 255.6 68 255.9 67.7 257 68 260.9 69 264.6 70 265.8 70.3 267.9 70 275 69 275.7 68.9 275.9 69 278.6 70 281.3 71 284.1 72 285.6 72.5 289.8 72 295.5 71.3 296 71 297.8 70 299.5 69 301.1 68 302.7 67 304.3 66 305.4 65.3 308.2 66 312.3 67 315.3 67.7 325.2 67.7 327.5 68 335.1 68.9 335.4 69 339.6 70 343.8 71 345 71.3 346.1 71 350.4 70 354.5 69 354.9 68.9 364.8 68.8 366.7 69 374.7 69.8 384.6 69.4 392.5 69 394.5 68.9 404.4 68.9 405.1 69 413.4 70 414.3 70.1 424.2 70.1 427.4 71 431.5 72 434.1 72.5 437.7 72 444 71.1 444 72 444 73 444 74 444 75 444 76 444 77 444 78 444 79 444 80 444 81 444 82 444 83 444 84 444 85 444 86 444 87 444 88 444 89 444 90 444 91 444 92 444 93 444 94 444 95 444 96 444 97 444 98 444 99 444 100 444 101 444 102 444 103 444 104 444 105 444 106 444 107 444 108 444 109 444 110 444 111 444 112 444 113 444 114 444 115 444 116 444 117 444 118 444 119 444 120 444 121 444 122 444 123 444 124 444 125 444 126 444 127 444 128 444 129 444 130 444 131 444 132 444 133 444 134 444 135 444 136 444 137 444 138 444 139 444 140 444 141 444 142 444 143 444 144 444 145 444 146 444 147 444 148 444 149 444 150 444 151 444 152 444 153 444 154 444 155 444 156 444 157 444 158 444 159 444 160 444 161 444 162 444 163 444 164 444 165 444 166 444 167 444 168 444 168.4 442.2 168 438 167 434.1 166 432.3 167 430.3 168 428.1 169 426 170 424.2 170.8 424 171 423 172 421.9 173 420.7 174 419.5 175 418.1 176 416.8 177 415.4 178 414.3 178.8 414.1 179 412.5 180 410.7 181 408.8 182 406.9 183 405.1 184 404.4 184.3 400.2 185 394.5 185.9 392.2 185 389.7 184 387.2 183 384.9 182 384.6 181.9 383.8 181 383 180 382.2 179 381.3 178 380.5 177 379.8 176 379.1 175 378.4 174 377.8 173 377.2 172 376.5 171 375.9 170 375.3 169 374.7 168 374.6 168 371.5 167 368.4 166 365.3 165 364.8 164.8 364.6 165 363.6 166 362.5 167 361.5 168 360.3 169 359.1 170 357.8 171 356.5 172 355.3 173 354.9 173.4 349.5 174 345 174.5 341.4 175 335.1 175.8 334.7 176 332.4 177 329.8 178 327.3 179 325.2 179.9 323.9 180 315.3 180.8 312.4 180 309.1 179 305.9 178 305.4 177.8 303.8 177 302 176 300.2 175 298.3 174 296.7 173 295.5 172.2 293.6 172 285.6 171 285.4 171 277.1 170 275.7 169.8 275.5 170 274.9 171 274.3 172 273.6 173 273 174 272.3 175 271.6 176 270.9 177 270.2 178 269.4 179 268.5 180 267.6 181 266.8 182 265.9 183 265.8 183.1 265.5 183 264.1 182 262.7 181 261.2 180 259.7 179 258.5 178 257.2 177 256 176 255.9 175.8 253.9 175 251.7 174 249.3 173 247.1 172 246 171.4 245.6 172 245 173 244.4 174 243.8 175 243.1 176 242.4 177 241.7 178 240.9 179 240.1 180 239.3 181 238.4 182 237.6 183 236.7 184 236 184.7 233 185 226.1 185.7 223.4 185 219.4 184 216.2 183.2 215.3 184 214 185 212.7 186 211.3 187 209.9 188 208.5 189 207.1 190 206.3 190.5 205.8 190 204.9 189 203.9 188 202.9 187 201.9 186 201 185 200 184 198.9 183 197.9 182 196.8 181 196.4 180.7 196.2 181 195.3 182 194.5 183 193.7 184 192.9 185 192.2 186 191.5 187 190.8 188 190.1 189 189.4 190 188.7 191 187.9 192 187 193 186.5 193.5 185.9 194 184.9 195 183.8 196 182.8 197 181.8 198 180.9 199 180 200 179.1 201 178.1 202 177.1 203 176.6 203.4 171.9 204 166.7 204.7 156.8 204.7 151.6 204 146.9 203.4 146.3 203 144.8 202 143.3 201 141.7 200 140 199 138.2 198 137 197.4 135.2 198 132.5 199 129.9 200 127.4 201 127.1 201.1 127 201 125.5 200 124 199 122.4 198 120.8 197 119.1 196 117.2 195 117.2 195 117.2 195 116.3 196 115.4 197 114.5 198 113.7 199 112.9 200 112.2 201 111.5 202 110.9 203 110.2 204 109.5 205 108.8 206 108 207 107.3 207.7 106.2 208 102.5 209 98.9 210 97.4 210.4 96.7 210 95.2 209 93.7 208 92.1 207 90.5 206 88.9 205 87.5 204.1 87.2 204 84.7 203 82 202 79.3 201 77.6 200.4 77 201 76 202 75 203 74.1 204 73.2 205 72.3 206 71.5 207 70.7 208 69.9 209 69 210 68.1 211 67.7 211.4 57.8 211.4 56.8 211 54.2 210 51.5 209 48.7 208 47.9 207.7 47.3 207 46.6 206 46 205 45.5 204 45 203 44.6 202 44.2 201 43.8 200 43.5 199 43.1 198 42.8 197 42.5 196 42.1 195 41.8 194 41.4 193 40.9 192 40.4 191 39.8 190 39.2 189 38.6 188 38 187 38 187 38 186 38 185 38 184 38 183 38 182 38 181 38 180 38 179 38 178 38 177 38 176 38 175 38 174 38 173 38 172 38 171 38 170 38 169 38 168 38 167 38 166 38 165 38 164 38 163 38 162 38 161 38 160 38 159 38 158 38 157 38 156 38 155 38 154 38 153 38 152 38 151 38 150 38 149 38 148 38 147 38 146 38 145 38 144 38 143 38 142 38 141 38 140 38 139 38 138 38 137 38 136 38 135 38 134 38 133 38 132 38 131 38 130 38 129 38 128 38 127 38 126 38 125 38 124 38 123 38 122 38 121 38 120 38 119 38 118 38 117 38 116 38 115 38 114 38 113 38 112 38 111 38 110 38 109 38 108 38 107 38 106 38 105 38 104 38 103 38 102 38 101 38 100 38 99 38 98 38 97 38 96 38 95 38 94 38 93 38 92 38 91 38 90 38 89 38 88 38 87 38 86 38 85 38 84 38 83 38 82 38 81 38 80 38 79 38 78 38 77 38 76 38 75 38 74 38 73 38 72 38 71 38 70 38 69 38 68 38 67 38 66 38 65 38 64 38 63 38 62 38 61 38 60 38 59 38 58 38.1 58 41.4 57 44.8 56Z"/>
<path fill="#f0f0ff" d="M47.9 56.1 50.3 57 52.9 58 55.7 59 57.8 59.7 60.2 60 67.7 60.9 67.8 61 68.4 62 69.2 63 70 64 71 65 72.1 66 73.1 67 74.1 68 75.1 69 76.1 70 77 71 77.6 71.6 79.2 71 82 70 85 69 87.5 68.2 89.3 68 97.4 67 101.4 68 105.5 69 107.3 69.4 110.8 69 117.2 68.2 119 68 127.1 67 127.2 67 131.1 66 134.8 65 137 64.4 138.5 65 141 66 143.6 67 146.3 68 146.9 68.2 150.1 69 154.2 70 156.8 70.6 160 71 166.7 71.8 168.3 72 176.6 73 176.6 73 177.2 73 186.5 72.8 188.2 73 196.4 73.9 197.1 74 201.6 75 206 76 206.3 76.1 209.4 77 212.7 78 215.9 79 216.2 79.1 216.4 79 217.9 78 219.4 77 220.8 76 222.1 75 223.3 74 224.5 73 225.7 72 226.1 71.6 227.3 72 230.2 73 233 74 236 75 236 75 237.9 76 239.8 77 241.7 78 243.7 79 245.7 80 246 80.1 246.1 80 247.2 79 248.2 78 249.2 77 250.1 76 251 75 251.9 74 252.8 73 253.6 72 254.4 71 255.2 70 255.9 69.3 258.7 70 262.1 71 265.1 72 265.8 72.2 266.9 72 272.2 71 275.7 70.5 277.1 71 279.8 72 282.5 73 285.4 74 285.6 74 286 74 294.2 73 295.5 72.8 297 72 298.7 71 300.4 70 302 69 303.6 68 305.1 67 305.4 66.8 306 67 310 68 314.2 69 315.3 69.3 325.2 69.3 331.3 70 335.1 70.5 337.3 71 341.5 72 345 72.8 348.5 72 352.6 71 354.9 70.5 364.8 70.3 371.4 71 374.7 71.3 384.6 71.2 387 71 394.5 70.5 404.4 70.5 408.9 71 414.3 71.7 423 72 424.2 72.1 428.1 73 433.8 74 434.1 74 434.4 74 441.5 73 444 72.6 444 73 444 74 444 75 444 76 444 77 444 78 444 79 444 80 444 81 444 82 444 83 444 84 444 85 444 86 444 87 444 88 444 89 444 90 444 91 444 92 444 93 444 94 444 95 444 96 444 97 444 98 444 99 444 100 444 101 444 102 444 103 444 104 444 105 444 106 444 107 444 108 444 109 444 110 444 111 444 112 444 113 444 114 444 115 444 116 444 117 444 118 444 119 444 120 444 121 444 122 444 123 444 124 444 125 444 126 444 127 444 128 444 129 444 130 444 131 444 132 444 133 444 134 444 135 444 136 444 137 444 138 444 139 444 140 444 141 444 142 444 143 444 144 444 145 444 146 444 147 444 148 444 149 444 150 444 151 444 152 444 153 444 154 444 155 444 156 444 157 444 158 444 159 444 160 444 161 444 162 444 163 444 164 444 165 444 166 444 166.6 441.3 166 437 165 434.1 164.2 432.7 165 430.8 166 428.8 167 426.5 168 424.2 169 424.2 169 423.2 170 422.1 171 421 172 419.8 173 418.6 174 417.3 175 415.8 176 414.3 177 414.3 177 412.7 178 411.1 179 409.4 180 407.5 181 405.4 182 404.4 182.5 401.4 183 394.5 184 391.7 183 389 182 386.7 181 384.6 180 384.6 180 383.7 179 382.7 178 381.9 177 381.1 176 380.4 175 379.7 174 379 173 378.4 172 377.7 171 377.1 170 376.5 169 375.8 168 375.2 167 374.7 166.2 374 166 370.5 165 367.4 164 364.8 163 364.8 163 364.8 163 363.8 164 362.8 165 361.7 166 360.6 167 359.5 168 358.3 169 357 170 355.5 171 354.9 171.5 351 172 345 172.7 342.9 173 335.1 174 335.1 174 332.9 175 330.6 176 327.9 177 325.2 178 325.2 178 315.3 179 311.6 178 308.3 177 305.4 176 305.4 176 303.4 175 301.4 174 299.6 173 297.9 172 296.4 171 295.5 170.4 292 170 285.6 169.2 283.9 169 275.7 168 275.7 168 275.7 168 275 169 274.4 170 273.7 171 273.1 172 272.4 173 271.7 174 271 175 270.3 176 269.6 177 268.8 178 268 179 267 180 266 181 265.8 181.3 265.3 181 263.7 180 262.1 179 260.7 178 259.5 177 258.2 176 257 175 255.9 174 255.9 174 253.3 173 250.9 172 248.7 171 246.7 170 246 169.6 245.7 170 245.1 171 244.5 172 243.9 173 243.3 174 242.6 175 241.9 176 241.1 177 240.4 178 239.6 179 238.7 180 237.9 181 236.9 182 236 182.9 235.2 183 226.1 184 221.9 183 217.8 182 216.2 181.6 215.7 182 214.4 183 213.1 184 211.8 185 210.5 186 209.1 187 207.7 188 206.3 188.9 205.4 188 204.4 187 203.4 186 202.5 185 201.5 184 200.5 183 199.4 182 198.3 181 197.3 180 196.4 179.2 195.8 180 195 181 194.1 182 193.3 183 192.5 184 191.8 185 191 186 190.3 187 189.6 188 188.9 189 188.2 190 187.4 191 186.5 192 186.5 192 185.5 193 184.4 194 183.4 195 182.3 196 181.3 197 180.4 198 179.5 199 178.6 200 177.6 201 176.6 202 176.6 202 168.9 203 166.7 203.3 156.8 203.3 154.6 203 146.9 202 146.9 202 145.4 201 143.9 200 142.3 199 140.6 198 138.8 197 137 196 137 196 137 196 134.2 197 131.5 198 128.8 199 127.1 199.7 126.1 199 124.6 198 123 197 121.4 196 119.7 195 117.9 194 117.2 193.6 116.9 194 116 195 115.1 196 114.2 197 113.3 198 112.5 199 111.8 200 111.1 201 110.4 202 109.7 203 109.1 204 108.4 205 107.6 206 107.3 206.3 104.7 207 101 208 97.4 209 95.9 208 94.4 207 92.8 206 91.3 205 89.7 204 88 203 87.5 202.7 85.7 202 83.1 201 80.4 200 77.6 199 77.6 199 77.6 199 76.6 200 75.6 201 74.6 202 73.7 203 72.8 204 71.9 205 71 206 70.2 207 69.4 208 68.6 209 67.7 210 57.8 210 55.3 209 52.6 208 49.8 207 47.9 206.3 47.7 206 47 205 46.4 204 45.9 203 45.5 202 45 201 44.6 200 44.2 199 43.9 198 43.5 197 43.2 196 42.9 195 42.5 194 42.1 193 41.6 192 41.1 191 40.6 190 40 189 39.4 188 38.8 187 38.2 186 38 185.6 38 185 38 184 38 183 38 182 38 181 38 180 38 179 38 178 38 177 38 176 38 175 38 174 38 173 38 172 38 171 38 170 38 169 38 168 38 167 38 166 38 165 38 164 38 163 38 162 38 161 38 160 38 159 38 158 38 157 38 156 38 155 38 154 38 153 38 152 38 151 38 150 38 149 38 148 38 147 38 146 38 145 38 144 38 143 38 142 38 141 38 140 38 139 38 138 38 137 38 136 38 135 38 134 38 133 38 132 38 131 38 130 38 129 38 128 38 127 38 126 38 125 38 124 38 123 38 122 38 121 38 120 38 119 38 118 38 117 38 116 38 115 38 114 38 113 38 112 38 111 38 110 38 109 38 108 38 107 38 106 38 105 38 104 38 103 38 102 38 101 38 100 38 99 38 98 38 97 38 96 38 95 38 94 38 93 38 92 38 91 38 90 38 89 38 88 38 87 38 86 38 85 38 84 38 83 38 82 38 81 38 80 38 79 38 78 38 77 38 76 38 75 38 74 38 73 38 72 38 71 38 70 38 69 38 68 38 67 38 66 38 65 38 64 38 63 38 62 38 61 38 60 38 59.2 38.5 59 41.6 58 44.8 57Z"/>
<path fill="#fafaff" d="M47.9 57.1 50.2 58 52.8 59 55.7 60 57.8 60.7 60.1 61 67.7 61.9 67.8 62 68.4 63 69.2 64 70.1 65 71.1 66 72.1 67 73.1 68 74 69 75 70 75.9 71 76.9 72 77.6 72.7 79.6 72 82.4 71 85.2 70 87.5 69.2 89.4 69 97.4 68 101.3 69 105.5 70 107.3 70.4 110.8 70 117.2 69.2 119.1 69 127.1 68 127.2 68 131.2 67 134.9 66 137 65.4 138.4 66 140.9 67 143.5 68 146.3 69 146.9 69.2 150 70 154.1 71 156.8 71.6 159.9 72 166.7 72.8 168.2 73 176.5 74 176.6 74 178.5 74 186.5 73.9 187.2 74 196.2 75 196.4 75 200.6 76 204.9 77 206.3 77.3 208.4 78 211.6 79 214.8 80 216.2 80.5 216.9 80 218.5 79 219.9 78 221.3 77 222.7 76 223.9 75 225.1 74 226.1 73.1 228.8 74 231.6 75 234.5 76 236 76.6 236.9 77 238.7 78 240.6 79 242.6 80 244.5 81 246 81.8 246.7 81 247.8 80 248.8 79 249.7 78 250.7 77 251.6 76 252.5 75 253.3 74 254.2 73 255 72 255.7 71 255.9 70.9 256.3 71 259.5 72 262.4 73 265.1 74 265.8 74.3 266.8 74 271 73 275.7 72.1 278.1 73 280.8 74 283.6 75 285.6 75.7 291.1 75 295.5 74.5 296.3 74 298.1 73 299.8 72 301.5 71 303 70 304.6 69 305.4 68.5 307.5 69 311.6 70 315.3 70.9 325.2 70.9 326.3 71 334.5 72 335.1 72.1 338.8 73 343 74 345 74.5 346.9 74 351.1 73 354.9 72.1 361.1 72 364.8 72 365.2 72 374.7 73 374.7 73 384.6 73.1 385.6 73 394.5 72.1 404.4 72.1 412.1 73 414.3 73.3 422.3 74 424.2 74.2 429 75 434.1 75.7 439.1 75 444 74.3 444 75 444 76 444 77 444 78 444 79 444 80 444 81 444 82 444 83 444 84 444 85 444 86 444 87 444 88 444 89 444 90 444 91 444 92 444 93 444 94 444 95 444 96 444 97 444 98 444 99 444 100 444 101 444 102 444 103 444 104 444 105 444 106 444 107 444 108 444 109 444 110 444 111 444 112 444 113 444 114 444 115 444 116 444 117 444 118 444 119 444 120 444 121 444 122 444 123 444 124 444 125 444 126 444 127 444 128 444 129 444 130 444 131 444 132 444 133 444 134 444 135 444 136 444 137 444 138 444 139 444 140 444 141 444 142 444 143 444 144 444 145 444 146 444 147 444 148 444 149 444 150 444 151 444 152 444 153 444 154 444 155 444 156 444 157 444 158 444 159 444 160 444 161 444 162 444 163 444 164 444 165 444 165.1 443.5 165 439.4 164 435.6 163 434.1 162.7 433.4 163 431.4 164 429.5 165 427.5 166 425.3 167 424.2 167.5 423.5 168 422.4 169 421.3 170 420.2 171 419 172 417.7 173 416.4 174 415 175 414.3 175.5 413.3 176 411.6 177 409.9 178 408.2 179 406.4 180 404.4 181 404.1 181 397.6 182 394.5 182.5 393.1 182 390.6 181 388.4 180 386 179 384.6 178.5 384.1 178 383.2 177 382.4 176 381.7 175 380.9 174 380.2 173 379.6 172 378.9 171 378.3 170 377.6 169 377 168 376.4 167 375.7 166 374.9 165 374.7 164.7 372.2 164 369.5 163 366.6 162 364.8 161.5 364.1 162 363 163 362 164 360.9 165 359.8 166 358.7 167 357.5 168 356.2 169 354.9 170 354.5 170 346.3 171 345 171.2 338.6 172 335.1 172.5 333.7 173 331.3 174 329.1 175 326.5 176 325.2 176.5 319.9 177 315.3 177.5 313.6 177 310.3 176 307.2 175 305.4 174.5 304.4 174 302.5 173 300.7 172 299.1 171 297.5 170 295.7 169 295.5 168.9 288.4 168 285.6 167.7 280.1 167 275.7 166.5 275.2 167 274.5 168 273.8 169 273.2 170 272.5 171 271.9 172 271.2 173 270.5 174 269.8 175 269 176 268.2 177 267.4 178 266.5 179 265.8 179.8 264.5 179 263 178 261.7 177 260.4 176 259.1 175 257.9 174 256.6 173 255.9 172.5 254.6 172 252.3 171 250.2 170 248.1 169 246 168.1 245.2 169 244.6 170 244 171 243.4 172 242.8 173 242.1 174 241.4 175 240.7 176 239.9 177 239.1 178 238.2 179 237.4 180 236.4 181 236 181.4 230.4 182 226.1 182.5 224.1 182 220 181 216.2 180.1 214.9 181 213.6 182 212.3 183 211 184 209.7 185 208.4 186 206.9 187 206.3 187.4 205.9 187 204.9 186 204 185 203 184 202 183 201 182 199.9 181 198.9 180 197.9 179 196.7 178 196.4 177.8 196.2 178 195.3 179 194.5 180 193.7 181 192.9 182 192.1 183 191.4 184 190.6 185 189.9 186 189.2 187 188.4 188 187.7 189 187 190 186.5 190.5 186 191 185 192 183.9 193 182.9 194 181.9 195 180.9 196 179.9 197 179 198 178.1 199 177.1 200 176.6 200.5 173 201 166.7 201.8 156.8 201.8 150.6 201 146.9 200.5 146.1 200 144.6 199 143 198 141.3 197 139.6 196 137.7 195 137 194.7 136 195 133 196 130.3 197 127.7 198 127.1 198.2 126.8 198 125.3 197 123.7 196 122.1 195 120.4 194 118.7 193 117.2 192.1 116.5 193 115.6 194 114.7 195 113.9 196 113 197 112.2 198 111.4 199 110.7 200 110 201 109.3 202 108.6 203 107.9 204 107.3 204.8 106.7 205 102.9 206 99.3 207 97.4 207.5 96.6 207 95.1 206 93.6 205 92 204 90.4 203 88.8 202 87.5 201.2 86.9 201 84.3 200 81.7 199 78.6 198 77.6 197.7 77.3 198 76.2 199 75.2 200 74.2 201 73.3 202 72.3 203 71.5 204 70.6 205 69.8 206 69 207 68.2 208 67.7 208.5 57.8 208.5 56.4 208 53.8 207 51.2 206 48.4 205 47.9 204.8 47.4 204 46.8 203 46.3 202 45.9 201 45.4 200 45 199 44.6 198 44.3 197 43.9 196 43.6 195 43.2 194 42.8 193 42.4 192 41.9 191 41.4 190 40.8 189 40.2 188 39.6 187 39 186 38.5 185 38 184.2 38 184 38 183 38 182 38 181 38 180 38 179 38 178 38 177 38 176 38 175 38 174 38 173 38 172 38 171 38 170 38 169 38 168 38 167 38 166 38 165 38 164 38 163 38 162 38 161 38 160 38 159 38 158 38 157 38 156 38 155 38 154 38 153 38 152 38 151 38 150 38 149 38 148 38 147 38 146 38 145 38 144 38 143 38 142 38 141 38 140 38 139 38 138 38 137 38 136 38 135 38 134 38 133 38 132 38 131 38 130 38 129 38 128 38 127 38 126 38 125 38 124 38 123 38 122 38 121 38 120 38 119 38 118 38 117 38 116 38 115 38 114 38 113 38 112 38 111 38 110 38 109 38 108 38 107 38 106 38 105 38 104 38 103 38 102 38 101 38 100 38 99 38 98 38 97 38 96 38 95 38 94 38 93 38 92 38 91 38 90 38 89 38 88 38 87 38 86 38 85 38 84 38 83 38 82 38 81 38 80 38 79 38 78 38 77 38 76 38 75 38 74 38 73 38 72 38 71 38 70 38 69 38 68 38 67 38 66 38 65 38 64 38 63 38 62 38 61 38 60.3 39 60 42 59 45.1 58Z"/>
<path fill="#fffafa" d="M47.9 58.2 49.9 59 52.6 60 55.5 61 57.8 61.8 59.4 62 67.7 63 67.7 63 68.4 64 69.2 65 70.2 66 71.1 67 72 68 73 69 73.9 70 74.8 71 75.7 72 76.7 73 77.6 73.9 80.1 73 82.8 72 85.6 71 87.5 70.3 90 70 97.4 69.1 101 70 105.2 71 107.3 71.5 111.5 71 117.2 70.3 119.7 70 127.1 69.1 127.5 69 131.4 68 135.2 67 137 66.5 138.2 67 140.7 68 143.4 69 146.1 70 146.9 70.3 149.7 71 153.9 72 156.8 72.7 159.2 73 166.7 73.9 167.5 74 175.8 75 176.6 75.1 186.5 75.1 194.1 76 196.4 76.3 199.3 77 203.5 78 206.3 78.7 207.2 79 210.3 80 213.5 81 216.2 81.9 217.6 81 219.1 80 220.5 79 221.9 78 223.3 77 224.5 76 225.7 75 226.1 74.6 227.2 75 230 76 232.8 77 235.5 78 236 78.2 237.5 79 239.5 80 241.4 81 243.3 82 245.1 83 246 83.5 246.5 83 247.5 82 248.4 81 249.4 80 250.4 79 251.3 78 252.2 77 253.1 76 253.9 75 254.8 74 255.5 73 255.9 72.6 257 73 259.9 74 262.5 75 265.2 76 265.8 76.2 266.6 76 270.6 75 274.8 74 275.7 73.8 276.2 74 278.9 75 281.7 76 284.5 77 285.6 77.4 288.9 77 295.5 76.2 295.8 76 297.5 75 299.2 74 300.9 73 302.6 72 304.2 71 305.4 70.2 308.6 71 312.8 72 315.3 72.6 325.2 72.6 328.4 73 335.1 73.8 335.9 74 340 75 344.1 76 345 76.2 345.8 76 350 75 354.1 74 354.9 73.8 364.8 73.8 366.5 74 374.7 75 374.7 75 384.6 75 384.6 75 392.8 74 394.5 73.8 404.4 73.8 406 74 414.3 75 414.3 75 422.6 76 424.2 76.2 430.8 77 434.1 77.4 437.7 77 444 76.2 444 77 444 78 444 79 444 80 444 81 444 82 444 83 444 84 444 85 444 86 444 87 444 88 444 89 444 90 444 91 444 92 444 93 444 94 444 95 444 96 444 97 444 98 444 99 444 100 444 101 444 102 444 103 444 104 444 105 444 106 444 107 444 108 444 109 444 110 444 111 444 112 444 113 444 114 444 115 444 116 444 117 444 118 444 119 444 120 444 121 444 122 444 123 444 124 444 125 444 126 444 127 444 128 444 129 444 130 444 131 444 132 444 133 444 134 444 135 444 136 444 137 444 138 444 139 444 140 444 141 444 142 444 143 444 144 444 145 444 146 444 147 444 148 444 149 444 150 444 151 444 152 444 153 444 154 444 155 444 156 444 157 444 158 444 159 444 160 444 161 444 162 444 163 444 163.6 441.9 163 437.7 162 434.1 161.2 432.5 162 430.3 163 428.3 164 426.3 165 424.2 166 424.2 166 423 167 421.7 168 420.5 169 419.4 170 418.2 171 417 172 415.6 173 414.3 174 414.3 174 412.5 175 410.6 176 408.8 177 407.1 178 405.3 179 404.4 179.5 401 180 394.5 181 392.1 180 389.8 179 387.2 178 384.6 177 384.6 177 383.7 176 383 175 382.2 174 381.5 173 380.8 172 380.1 171 379.4 170 378.8 169 378.2 168 377.5 167 376.9 166 376.1 165 375.3 164 374.7 163.2 374.2 163 371.5 162 368.3 161 364.8 160 364.8 160 364.8 160 363.6 161 362.4 162 361.3 163 360.2 164 359.1 165 357.9 166 356.7 167 355.5 168 354.9 168.5 350.7 169 345 169.7 342.7 170 335.1 171 335.1 171 332.5 172 330 173 327.6 174 325.2 175 325.2 175 315.3 176 312.1 175 308.8 174 305.4 173 305.4 173 303.6 172 301.8 171 300.1 170 298.4 169 296.5 168 295.5 167.4 292.3 167 285.6 166.2 284 166 275.7 165 275.7 165 275.7 165 274.8 166 274 167 273.3 168 272.6 169 272 170 271.4 171 270.7 172 270 173 269.3 174 268.5 175 267.7 176 266.9 177 266 178 265.8 178.3 265.3 178 263.9 177 262.5 176 261.2 175 260 174 258.7 173 257.2 172 255.9 171 255.9 171 253.6 170 251.5 169 249.2 168 246.9 167 246 166.6 245.6 167 244.8 168 244 169 243.5 170 242.9 171 242.3 172 241.7 173 241 174 240.3 175 239.5 176 238.6 177 237.8 178 236.9 179 236 179.9 235.2 180 226.1 181 222.1 180 217.9 179 216.2 178.6 215.7 179 214.2 180 212.8 181 211.5 182 210.2 183 208.9 184 207.6 185 206.3 185.9 205.5 185 204.5 184 203.5 183 202.5 182 201.5 181 200.5 180 199.5 179 198.4 178 197.2 177 196.4 176.2 195.8 177 194.9 178 194.1 179 193.3 180 192.5 181 191.7 182 190.9 183 190.2 184 189.4 185 188.7 186 188 187 187.3 188 186.5 189 186.5 189 185.5 190 184.4 191 183.4 192 182.4 193 181.4 194 180.4 195 179.4 196 178.4 197 177.5 198 176.6 199 176.6 199 169 200 166.7 200.3 156.8 200.3 154.6 200 146.9 199 146.9 199 145.4 198 143.8 197 142.1 196 140.3 195 138.4 194 137 193 137 193 137 193 134.7 194 131.7 195 128.9 196 127.1 196.7 126.1 196 124.5 195 122.9 194 121.3 193 119.6 192 117.9 191 117.2 190.6 116.9 191 116 192 115.2 193 114.3 194 113.5 195 112.7 196 111.8 197 111.1 198 110.3 199 109.6 200 108.9 201 108.2 202 107.5 203 107.3 203.3 104.7 204 101 205 97.4 206 95.9 205 94.4 204 92.9 203 91.3 202 89.6 201 88 200 87.5 199.7 85.7 199 82.9 198 79.8 197 77.6 196 77.6 196 77.6 196 76.9 197 75.8 198 74.7 199 73.8 200 72.8 201 71.9 202 71 203 70.2 204 69.3 205 68.5 206 67.7 207 57.8 207 55.2 206 52.6 205 49.8 204 47.9 203.3 47.7 203 47.2 202 46.7 201 46.2 200 45.8 199 45.4 198 45 197 44.7 196 44.3 195 43.9 194 43.5 193 43.1 192 42.6 191 42.1 190 41.6 189 41 188 40.4 187 39.9 186 39.3 185 38.7 184 38.2 183 38 182.6 38 182 38 181 38 180 38 179 38 178 38 177 38 176 38 175 38 174 38 173 38 172 38 171 38 170 38 169 38 168 38 167 38 166 38 165 38 164 38 163 38 162 38 161 38 160 38 159 38 158 38 157 38 156 38 155 38 154 38 153 38 152 38 151 38 150 38 149 38 148 38 147 38 146 38 145 38 144 38 143 38 142 38 141 38 140 38 139 38 138 38 137 38 136 38 135 38 134 38 133 38 132 38 131 38 130 38 129 38 128 38 127 38 126 38 125 38 124 38 123 38 122 38 121 38 120 38 119 38 118 38 117 38 116 38 115 38 114 38 113 38 112 38 111 38 110 38 109 38 108 38 107 38 106 38 105 38 104 38 103 38 102 38 101 38 100 38 99 38 98 38 97 38 96 38 95 38 94 38 93 38 92 38 91 38 90 38 89 38 88 38 87 38 86 38 85 38 84 38 83 38 82 38 81 38 80 38 79 38 78 38 77 38 76 38 75 38 74 38 73 38 72 38 71 38 70 38 69 38 68 38 67 38 66 38 65 38 64 38 63 38 62 38 61.5 39.5 61 42.5 60 45.5 59Z"/>
<path fill="#fff0f0" d="M47.9 59.3 49.6 60 52.4 61 55.1 62 57.8 62.9 58.2 63 66.5 64 67.7 64.1 68.4 65 69.2 66 70.1 67 71 68 71.9 69 72.8 70 73.7 71 74.6 72 75.5 73 76.5 74 77.5 75 77.6 75.1 77.8 75 80.6 74 83.3 73 86 72 87.5 71.4 91.2 71 97.4 70.2 100.5 71 104.6 72 107.3 72.6 112.7 72 117.2 71.4 120.9 71 127.1 70.2 128.1 70 131.9 69 135.7 68 137 67.6 137.9 68 140.5 69 143.1 70 145.7 71 146.9 71.4 149.2 72 153.3 73 156.8 73.8 158.1 74 166.3 75 166.7 75 174.6 76 176.6 76.2 186.5 76.4 191.7 77 196.4 77.7 197.8 78 201.9 79 205.8 80 206.3 80.2 208.9 81 211.9 82 215 83 216.2 83.4 216.9 83 218.4 82 219.8 81 221.2 80 222.6 79 223.9 78 225.2 77 226.1 76.2 228.3 77 231.1 78 233.7 79 236 79.8 236.4 80 238.4 81 240.3 82 242.2 83 243.9 84 245.5 85 246 85.3 246.3 85 247.3 84 248.2 83 249.2 82 250.2 81 251.1 80 252 79 252.9 78 253.8 77 254.6 76 255.4 75 255.9 74.4 257.4 75 260.1 76 262.9 77 265.7 78 265.8 78 265.8 78 269.9 77 274 76 275.7 75.6 276.8 76 279.5 77 282.3 78 285 79 285.6 79.2 287.2 79 295.5 78 295.5 78 297.2 77 298.9 76 300.5 75 302.2 74 303.8 73 305.4 72 309.4 73 313.5 74 315.3 74.4 325.2 74.4 329.9 75 335.1 75.6 336.7 76 340.8 77 345 78 349.2 77 353.3 76 354.9 75.6 364.8 75.7 367 76 373.4 77 374.7 77.2 380.4 77 384.6 76.8 391.7 76 394.5 75.7 404.4 75.6 407.6 76 414.3 76.8 416.1 77 424.2 78 424.3 78 432.9 79 434.1 79.1 435.8 79 444 78.3 444 79 444 80 444 81 444 82 444 83 444 84 444 85 444 86 444 87 444 88 444 89 444 90 444 91 444 92 444 93 444 94 444 95 444 96 444 97 444 98 444 99 444 100 444 101 444 102 444 103 444 104 444 105 444 106 444 107 444 108 444 109 444 110 444 111 444 112 444 113 444 114 444 115 444 116 444 117 444 118 444 119 444 120 444 121 444 122 444 123 444 124 444 125 444 126 444 127 444 128 444 129 444 130 444 131 444 132 444 133 444 134 444 135 444 136 444 137 444 138 444 139 444 140 444 141 444 142 444 143 444 144 444 145 444 146 444 147 444 148 444 149 444 150 444 151 444 152 444 153 444 154 444 155 444 156 444 157 444 158 444 159 444 160 444 161 444 161.9 440.2 161 435.5 160 434.1 159.7 433.5 160 431.5 161 429.4 162 427.3 163 425.2 164 424.2 164.5 423.5 165 422.3 166 421.1 167 419.9 168 418.7 169 417.5 170 416.3 171 415 172 414.3 172.5 413.3 173 411.6 174 409.7 175 407.9 176 406.1 177 404.4 178 404.1 178 397.2 179 394.5 179.4 393.5 179 391.1 178 388.6 177 386.1 176 384.6 175.4 384.2 175 383.5 174 382.7 173 382 172 381.3 171 380.6 170 380 169 379.3 168 378.7 167 378.1 166 377.3 165 376.5 164 375.8 163 375.1 162 374.7 161.4 373.6 161 370.4 160 367.1 159 364.8 158.4 364.1 159 363 160 361.8 161 360.6 162 359.5 163 358.4 164 357.3 165 356.1 166 354.9 167 354.5 167 346.4 168 345 168.2 338.6 169 335.1 169.5 333.7 170 331.2 171 328.7 172 326.2 173 325.2 173.4 319.6 174 315.3 174.4 313.8 174 310.5 173 307.2 172 305.4 171.5 304.5 171 302.8 170 301 169 299.2 168 297.5 167 295.7 166 295.5 165.9 288.3 165 285.6 164.7 280 164 275.7 163.5 275.2 164 274.3 165 273.5 166 272.8 167 272.1 168 271.5 169 270.8 170 270.2 171 269.5 172 268.8 173 268 174 267.2 175 266.4 176 265.8 176.8 264.7 176 263.3 175 262 174 260.7 173 259.3 172 257.9 171 256.6 170 255.9 169.4 254.9 169 252.6 168 250.3 167 248.1 166 246 165.1 245 166 244.2 167 243.5 168 242.9 169 242.3 170 241.8 171 241.2 172 240.6 173 239.9 174 239.1 175 238.3 176 237.4 177 236.5 178 236 178.4 230.4 179 226.1 179.5 224.2 179 220.1 178 216.2 177.1 214.9 178 213.5 179 212 180 210.7 181 209.4 182 208.1 183 206.8 184 206.3 184.3 206 184 205.1 183 204.1 182 203.1 181 202.1 180 201.1 179 200 178 198.9 177 198 176 197.1 175 196.4 174.2 195.9 175 195.2 176 194.5 177 193.6 178 192.8 179 192 180 191.3 181 190.5 182 189.7 183 189 184 188.3 185 187.6 186 186.8 187 186.5 187.4 185.9 188 184.9 189 183.8 190 182.8 191 181.8 192 180.8 193 179.8 194 178.9 195 177.9 196 177 197 176.6 197.4 172.1 198 166.7 198.7 156.8 198.7 151.4 198 146.9 197.4 146.3 197 144.7 196 143 195 141.2 194 139.7 193 138.7 192 138 191 137.3 190 137 189.4 136.6 190 135.6 191 134.4 192 132.7 193 130.2 194 127.4 195 127.1 195.1 127 195 125.4 194 123.8 193 122.2 192 120.5 191 118.9 190 117.2 189 116.4 190 115.5 191 114.7 192 113.9 193 113.1 194 112.3 195 111.5 196 110.7 197 109.9 198 109.2 199 108.5 200 107.8 201 107.3 201.7 106.2 202 102.6 203 98.9 204 97.4 204.4 96.8 204 95.3 203 93.7 202 92.2 201 90.5 200 89 199 87.5 198.1 87.2 198 84.4 197 81.9 196 80.3 195 79.2 194 78.4 193 77.7 192 77.6 191.7 77.5 192 77.3 193 76.9 194 76.5 195 76.1 196 75.3 197 74.3 198 73.3 199 72.4 200 71.4 201 70.6 202 69.7 203 68.8 204 68 205 67.7 205.4 57.8 205.4 56.7 205 54.1 204 51.4 203 48.7 202 47.9 201.7 47.5 201 47 200 46.6 199 46.2 198 45.8 197 45.4 196 45 195 44.6 194 44.2 193 43.8 192 43.4 191 42.9 190 42.3 189 41.8 188 41.2 187 40.7 186 40.1 185 39.6 184 39.1 183 38.6 182 38.2 181 38 180.5 38 180 38 179 38 178 38 177 38 176 38 175 38 174 38 173 38 172 38 171 38 170 38 169 38 168 38 167 38 166 38 165 38 164 38 163 38 162 38 161 38 160 38 159 38 158 38 157 38 156 38 155 38 154 38 153 38 152 38 151 38 150 38 149 38 148 38 147 38 146 38 145 38 144 38 143 38 142 38 141 38 140 38 139 38 138 38 137 38 136 38 135 38 134 38 133 38 132 38 131 38 130 38 129 38 128 38 127 38 126 38 125 38 124 38 123 38 122 38 121 38 120 38 119 38 118 38 117 38 116 38 115 38 114 38 113 38 112 38 111 38 110 38 109 38 108 38 107 38 106 38 105 38 104 38 103 38 102 38 101 38 100 38 99 38 98 38 97 38 96 38 95 38 94 38 93 38 92 38 91 38 90 38 89 38 88 38 87 38 86 38 85 38 84 38 83 38 82 38 81 38 80 38 79 38 78 38 77 38 76 38 75 38 74 38 73 38 72 38 71 38 70 38 69 38 68 38 67 38 66 38 65 38 64 38 63 38 62.6 40 62 43 61 45.9 60Z"/>
<path fill="#ffe6e6" d="M47.9 60.5 49.2 61 51.9 62 54.7 63 57.5 64 57.8 64.1 65.1 65 67.7 65.3 68.3 66 69.1 67 70 68 70.8 69 71.7 70 72.6 71 73.4 72 74.3 73 75.3 74 76.2 75 77.2 76 77.6 76.4 78.5 76 81.1 75 83.8 74 86.5 73 87.5 72.6 92.6 72 97.4 71.4 99.8 72 103.9 73 107.3 73.8 114 73 117.2 72.6 122.3 72 127.1 71.4 128.7 71 132.4 70 136.2 69 137 68.8 137.6 69 140.1 70 142.7 71 145.3 72 146.9 72.6 148.5 73 152.6 74 156.8 75 156.8 75 165 76 166.7 76.2 173.2 77 176.6 77.4 186.5 77.6 189.3 78 196 79 196.4 79.1 200.1 80 203.9 81 206.3 81.7 207.3 82 210.3 83 213.4 84 216.2 84.9 217.7 84 219.2 83 220.6 82 222 81 223.3 80 224.7 79 225.9 78 226.1 77.8 226.6 78 229.3 79 232 80 234.9 81 236 81.4 237.3 82 239.2 83 241 84 242.6 85 244.2 86 245.8 87 246 87.1 246 87 247.1 86 248.2 85 249.1 84 250 83 251 82 251.9 81 252.7 80 253.6 79 254.5 78 255.3 77 255.9 76.3 257.7 77 260.5 78 263.3 79 265.8 79.9 269.1 79 273.1 78 275.7 77.4 277.4 78 280.1 79 282.8 80 285.6 81 294.2 80 295.5 79.9 296.9 79 298.6 78 300.3 77 301.9 76 303.5 75 305.1 74 305.4 73.9 306 74 310 75 314 76 315.3 76.3 325.2 76.3 331 77 335.1 77.5 337.3 78 341.5 79 345 79.8 348.4 79 352.6 78 354.9 77.5 364.8 77.5 367.5 78 372.5 79 374.7 79.5 381.2 79 384.6 78.8 391.4 78 394.5 77.6 404.4 77.5 409.2 78 414.3 78.6 418 79 424.2 79.7 426.5 80 434.1 80.8 444 80.3 444 81 444 82 444 83 444 84 444 85 444 86 444 87 444 88 444 89 444 90 444 91 444 92 444 93 444 94 444 95 444 96 444 97 444 98 444 99 444 100 444 101 444 102 444 103 444 104 444 105 444 106 444 107 444 108 444 109 444 110 444 111 444 112 444 113 444 114 444 115 444 116 444 117 444 118 444 119 444 120 444 121 444 122 444 123 444 124 444 125 444 126 444 127 444 128 444 129 444 130 444 131 444 132 444 133 444 134 444 135 444 136 444 137 444 138 444 139 444 140 444 141 444 142 444 143 444 144 444 145 444 146 444 147 444 148 444 149 444 150 444 151 444 152 444 153 444 154 444 155 444 156 444 157 444 158 444 159 444 160 444 160.2 442.9 160 437.9 159 434.1 158.4 432.6 159 430.5 160 428.5 161 426.4 162 424.3 163 424.2 163 422.9 164 421.6 165 420.5 166 419.3 167 418.1 168 416.9 169 415.7 170 414.3 171 414.3 171 412.4 172 410.6 173 408.8 174 407 175 405.2 176 404.4 176.5 400.2 177 394.5 177.8 392.5 177 390.1 176 387.6 175 385 174 384.6 173.8 383.9 173 383.2 172 382.5 171 381.8 170 381.1 169 380.5 168 379.9 167 379.3 166 378.6 165 377.8 164 377.1 163 376.4 162 375.7 161 375 160 374.7 159.5 373 159 369.5 158 365.3 157 364.8 156.9 364.6 157 363.4 158 362.2 159 361.1 160 360 161 358.8 162 357.7 163 356.6 164 355.4 165 354.9 165.5 350.6 166 345 166.7 342.5 167 335.1 168 334.9 168 332.4 169 329.9 170 327.4 171 325.2 171.9 324.1 172 315.3 172.9 312.3 172 309 171 305.5 170 305.4 170 303.7 169 301.9 168 300.2 167 298.4 166 296.7 165 295.5 164.4 292.5 164 285.6 163.2 283.8 163 275.7 162 274.7 163 273.8 164 273 165 272.3 166 271.5 167 270.9 168 270.3 169 269.7 170 269 171 268.3 172 267.6 173 266.8 174 266 175 265.8 175.3 265.4 175 264 174 262.7 173 261.4 172 260 171 258.7 170 257.4 169 256 168 255.9 167.9 253.8 167 251.5 166 249.3 165 246.9 164 246 163.6 245.5 164 244.4 165 243.5 166 242.9 167 242.3 168 241.7 169 241.2 170 240.7 171 240.1 172 239.4 173 238.7 174 237.9 175 237.1 176 236.1 177 236 177.1 226.1 178 222.1 177 218 176 216.2 175.6 215.6 176 214 177 212.6 178 211.3 179 209.9 180 208.5 181 207.3 182 206.3 182.7 205.7 182 204.7 181 203.7 180 202.7 179 201.7 178 200.6 177 199.7 176 198.8 175 197.9 174 197.1 173 196.4 172.2 195.9 173 195.3 174 194.6 175 193.9 176 193.2 177 192.3 178 191.5 179 190.8 180 190 181 189.3 182 188.6 183 187.8 184 187.1 185 186.5 185.8 186.3 186 185.3 187 184.2 188 183.2 189 182.2 190 181.2 191 180.2 192 179.3 193 178.3 194 177.4 195 176.6 195.8 175.1 196 167.5 197 166.7 197.1 156.8 197.1 156.1 197 148.5 196 146.9 195.8 145.6 195 143.9 194 142.4 193 141.2 192 140.3 191 139.5 190 138.9 189 138.4 188 137.9 187 137.6 186 137.3 185 137 184 137 183.9 137 184 136.7 185 136.3 186 135.9 187 135.3 188 134.5 189 133.5 190 132.3 191 130.6 192 128.4 193 127.1 193.5 126.3 193 124.8 192 123.1 191 121.5 190 119.9 189 118.2 188 117.2 187.4 116.7 188 115.8 189 115 190 114.2 191 113.4 192 112.6 193 111.8 194 111 195 110.3 196 109.5 197 108.8 198 108.1 199 107.4 200 107.3 200.1 104 201 100.3 202 97.4 202.8 96.2 202 94.7 201 93.1 200 91.5 199 89.9 198 88.3 197 87.5 196.5 86.2 196 84.1 195 82.5 194 81.3 193 80.4 192 79.7 191 79.1 190 78.7 189 78.3 188 78 187 77.8 186 77.6 185 77.6 184.9 77.6 185 77.5 186 77.3 187 77.2 188 77 189 76.8 190 76.5 191 76.2 192 75.9 193 75.5 194 75.1 195 74.6 196 73.8 197 72.8 198 71.8 199 70.9 200 70.1 201 69.2 202 68.4 203 67.7 203.8 57.8 203.8 55.7 203 53 202 50.4 201 47.9 200.1 47.9 200 47.4 199 46.9 198 46.5 197 46.1 196 45.7 195 45.3 194 44.9 193 44.5 192 44.1 191 43.6 190 43.1 189 42.6 188 42 187 41.5 186 41 185 40.5 184 40 183 39.6 182 39.2 181 38.7 180 38.3 179 38 178.4 38 178 38 177 38 176 38 175 38 174 38 173 38 172 38 171 38 170 38 169 38 168 38 167 38 166 38 165 38 164 38 163 38 162 38 161 38 160 38 159 38 158 38 157 38 156 38 155 38 154 38 153 38 152 38 151 38 150 38 149 38 148 38 147 38 146 38 145 38 144 38 143 38 142 38 141 38 140 38 139 38 138 38 137 38 136 38 135 38 134 38 133 38 132 38 131 38 130 38 129 38 128 38 127 38 126 38 125 38 124 38 123 38 122 38 121 38 120 38 119 38 118 38 117 38 116 38 115 38 114 38 113 38 112 38 111 38 110 38 109 38 108 38 107 38 106 38 105 38 104 38 103 38 102 38 101 38 100 38 99 38 98 38 97 38 96 38 95 38 94 38 93 38 92 38 91 38 90 38 89 38 88 38 87 38 86 38 85 38 84 38 83 38 82 38 81 38 80 38 79 38 78 38 77 38 76 38 75 38 74 38 73 38 72 38 71 38 70 38 69 38 68 38 67 38 66 38 65 38 64 38 63.6 40.3 63 43.5 62 46.5 61Z"/>
<path fill="#ffdbdb" d="M47.9 61.7 48.7 62 51.3 63 54.1 64 56.9 65 57.8 65.3 63.5 66 67.7 66.5 68.1 67 68.9 68 69.8 69 70.6 70 71.5 71 72.3 72 73.1 73 74 74 74.9 75 75.9 76 76.9 77 77.6 77.7 79.3 77 81.8 76 84.4 75 87 74 87.5 73.8 94.2 73 97.4 72.6 99 73 103.1 74 107.3 75 107.3 75 107.4 75 115.6 74 117.2 73.8 123.9 73 127.1 72.6 129.4 72 133.1 71 136.8 70 137 69.9 137.2 70 139.7 71 142.2 72 144.8 73 146.9 73.8 147.7 74 151.8 75 155.9 76 156.8 76.2 163.3 77 166.7 77.4 171.6 78 176.6 78.6 186.5 78.9 186.9 79 193.3 80 196.4 80.5 198.2 81 201.9 82 205.5 83 206.3 83.2 208.6 84 211.6 85 214.8 86 216.2 86.4 217 86 218.7 85 220.1 84 221.5 83 222.9 82 224.2 81 225.5 80 226.1 79.5 227.6 80 230.3 81 233.2 82 236 82.9 236.2 83 238.1 84 239.8 85 241.4 86 243 87 244.5 88 246 88.9 247 88 248.1 87 249.1 86 250 85 251 84 251.8 83 252.7 82 253.6 81 254.4 80 255.2 79 255.9 78.2 257.9 79 260.7 80 263.5 81 265.8 81.7 268.6 81 272.5 80 275.7 79.2 277.8 80 280.5 81 283.3 82 285.6 82.8 293.1 82 295.5 81.7 296.8 81 298.5 80 300.2 79 301.8 78 303.4 77 305 76 305.4 75.7 306.4 76 310.3 77 314.2 78 315.3 78.3 325.2 78.3 331.8 79 335.1 79.3 337.8 80 342.1 81 345 81.6 347.9 81 352.1 80 354.9 79.3 364.8 79.4 367.6 80 371.6 81 374.7 81.9 382.5 81 384.6 80.8 392 80 394.5 79.7 404.4 79.3 410.8 80 414.3 80.3 419.7 81 424.2 81.5 429.2 82 434.1 82.4 444 82.4 444 83 444 84 444 85 444 86 444 87 444 88 444 89 444 90 444 91 444 92 444 93 444 94 444 95 444 96 444 97 444 98 444 99 444 100 444 101 444 102 444 103 444 104 444 105 444 106 444 107 444 108 444 109 444 110 444 111 444 112 444 113 444 114 444 115 444 116 444 117 444 118 444 119 444 120 444 121 444 122 444 123 444 124 444 125 444 126 444 127 444 128 444 129 444 130 444 131 444 132 444 133 444 134 444 135 444 136 444 137 444 138 444 139 444 140 444 141 444 142 444 143 444 144 444 145 444 146 444 147 444 148 444 149 444 150 444 151 444 152 444 153 444 154 444 155 444 156 444 157 444 158 444 158.6 440.9 158 434.1 157.1 431.8 158 429.5 159 427.5 160 425.4 161 424.2 161.6 423.6 162 422.1 163 420.9 164 419.7 165 418.6 166 417.5 167 416.3 168 415.1 169 414.3 169.6 413.4 170 411.4 171 409.6 172 407.8 173 406.1 174 404.4 174.9 403.9 175 395.7 176 394.5 176.2 394.1 176 391.7 175 389.2 174 386.6 173 384.6 172.2 384.4 172 383.7 171 383 170 382.3 169 381.7 168 381 167 380.4 166 379.8 165 379 164 378.3 163 377.7 162 377 161 376.3 160 375.6 159 375 158 374.7 157.6 372.6 157 368.3 156 364.8 155.4 363.9 156 362.6 157 361.4 158 360.3 159 359.3 160 358.2 161 357.1 162 356 163 354.9 163.9 354.5 164 346.7 165 345 165.2 338.6 166 335.1 166.4 333.6 167 331 168 328.5 169 326 170 325.2 170.3 318.7 171 315.3 171.3 314.1 171 310.8 170 307.4 169 305.4 168.4 304.6 168 302.8 167 301.1 166 299.4 165 297.7 164 295.8 163 295.5 162.8 287.8 162 285.6 161.8 279.3 161 275.7 160.6 275.2 161 274.1 162 273.2 163 272.4 164 271.7 165 271 166 270.3 167 269.7 168 269.1 169 268.5 170 267.8 171 267.1 172 266.4 173 265.8 173.7 264.8 173 263.4 172 262.1 171 260.9 170 259.6 169 258.2 168 256.8 167 255.9 166.4 255 166 252.8 165 250.5 164 248.1 163 246 162.2 244.7 163 243.6 164 242.7 165 242.1 166 241.5 167 241 168 240.6 169 240.1 170 239.6 171 239 172 238.3 173 237.6 174 236.8 175 236 175.8 232.9 176 226.1 176.5 224.2 176 220.1 175 216.2 174.1 214.7 175 213.2 176 211.8 177 210.4 178 209 179 207.7 180 206.4 181 206.3 181.1 206.3 181 205.3 180 204.4 179 203.4 178 202.3 177 201.4 176 200.5 175 199.6 174 198.8 173 198 172 197.2 171 196.5 170 196.4 170 196.4 170 195.8 171 195.2 172 194.6 173 193.9 174 193.3 175 192.6 176 191.8 177 191 178 190.3 179 189.5 180 188.8 181 188.1 182 187.4 183 186.7 184 186.5 184.2 185.6 185 184.6 186 183.5 187 182.5 188 181.6 189 180.6 190 179.6 191 178.7 192 177.7 193 176.8 194 176.6 194.2 170.2 195 166.7 195.5 156.8 195.5 153.3 195 146.9 194.2 146.7 194 145.1 193 143.7 192 142.6 191 141.7 190 140.9 189 140.3 188 139.7 187 139.3 186 138.9 185 138.5 184 138.3 183 138 182 137.8 181 137.6 180 137.5 179 137.3 178 137.2 177 137 176.1 136.9 177 136.7 178 136.5 179 136.3 180 136.1 181 135.8 182 135.5 183 135.2 184 134.7 185 134.2 186 133.6 187 132.8 188 131.8 189 130.5 190 128.9 191 127.1 191.9 125.8 191 124.2 190 122.6 189 121 188 119.3 187 117.6 186 117.2 185.8 117 186 116.1 187 115.3 188 114.5 189 113.7 190 112.9 191 112.1 192 111.3 193 110.6 194 109.8 195 109.1 196 108.3 197 107.6 198 107.3 198.5 105.3 199 101.6 200 98 201 97.4 201.2 97.2 201 95.6 200 94.1 199 92.6 198 91 197 89.4 196 87.7 195 87.5 194.9 85.8 194 84.3 193 83 192 82.1 191 81.3 190 80.7 189 80.2 188 79.8 187 79.5 186 79.2 185 78.9 184 78.7 183 78.5 182 78.4 181 78.2 180 78.1 179 78 178 77.9 177 77.7 176 77.6 175.1 77.5 176 77.4 177 77.3 178 77.2 179 77.1 180 77 181 76.9 182 76.8 183 76.7 184 76.5 185 76.4 186 76.2 187 76 188 75.8 189 75.6 190 75.3 191 74.9 192 74.5 193 74.1 194 73.6 195 73 196 72.3 197 71.3 198 70.4 199 69.5 200 68.7 201 67.8 202 67.7 202.2 57.8 202.2 57.4 202 54.8 201 52.1 200 49.4 199 47.9 198.5 47.7 198 47.3 197 46.8 196 46.4 195 46.1 194 45.7 193 45.3 192 44.8 191 44.4 190 43.9 189 43.3 188 42.8 187 42.3 186 41.8 185 41.3 184 40.9 183 40.5 182 40.1 181 39.7 180 39.3 179 38.9 178 38.4 177 38 176.1 38 176 38 175 38 174 38 173 38 172 38 171 38 170 38 169 38 168 38 167 38 166 38 165 38 164 38 163 38 162 38 161 38 160 38 159 38 158 38 157 38 156 38 155 38 154 38 153 38 152 38 151 38 150 38 149 38 148 38 147 38 146 38 145 38 144 38 143 38 142 38 141 38 140 38 139 38 138 38 137 38 136 38 135 38 134 38 133 38 132 38 131 38 130 38 129 38 128 38 127 38 126 38 125 38 124 38 123 38 122 38 121 38 120 38 119 38 118 38 117 38 116 38 115 38 114 38 113 38 112 38 111 38 110 38 109 38 108 38 107 38 106 38 105 38 104 38 103 38 102 38 101 38 100 38 99 38 98 38 97 38 96 38 95 38 94 38 93 38 92 38 91 38 90 38 89 38 88 38 87 38 86 38 85 38 84 38 83 38 82 38 81 38 80 38 79 38 78 38 77 38 76 38 75 38 74 38 73 38 72 38 71 38 70 38 69 38 68 38 67 38 66 38 65 38 64.7 40.6 64 44 63 47 62Z"/>
<path fill="#ffd1d1" d="M47.9 62.9 48 63 50.7 64 53.4 65 56.2 66 57.8 66.6 61.5 67 67.7 67.7 67.9 68 68.7 69 69.5 70 70.4 71 71.1 72 71.9 73 72.8 74 73.7 75 74.5 76 75.5 77 76.5 78 77.5 79 77.6 79.1 77.8 79 80.3 78 82.6 77 85.1 76 87.5 75 87.9 75 96.2 74 97.4 73.8 98 74 102.1 75 106.3 76 107.3 76.3 109.4 76 117.2 75 117.6 75 125.9 74 127.1 73.8 130.3 73 134 72 137 71.2 139.1 72 141.5 73 144.1 74 146.8 75 146.9 75 150.8 76 154.9 77 156.8 77.5 161.3 78 166.7 78.7 169.6 79 176.6 79.8 180.1 80 186.5 80.3 190.6 81 196.2 82 196.4 82 199.9 83 203.4 84 206.3 84.9 206.7 85 209.7 86 212.8 87 216.1 88 216.2 88 216.3 88 218.1 87 219.8 86 221.2 85 222.6 84 223.9 83 225.1 82 226.1 81.2 228.3 82 231.2 83 234.4 84 236 84.5 237 85 238.6 86 240.1 87 241.6 88 243.1 89 244.6 90 246 90.8 246.9 90 248.1 89 249.1 88 250.1 87 251.1 86 251.9 85 252.8 84 253.6 83 254.4 82 255.3 81 255.9 80.3 257.8 81 260.6 82 263.5 83 265.8 83.7 268.5 83 272.3 82 275.7 81.1 278 82 280.7 83 283.5 84 285.6 84.7 292.8 84 295.5 83.7 296.8 83 298.6 82 300.2 81 301.8 80 303.4 79 304.9 78 305.4 77.7 306.4 78 310.2 79 314 80 315.3 80.3 325.2 80.3 331.7 81 335.1 81.3 337.9 82 342.3 83 345 83.6 347.6 83 352 82 354.9 81.3 364.8 81.4 366.9 82 370.1 83 372.8 84 374.7 84.9 378.1 84 384 83 384.6 82.9 393.5 82 394.5 81.9 404.4 81.3 411.8 82 414.3 82.2 420.7 83 424.2 83.4 432.9 84 434.1 84.1 444 84.7 444 85 444 86 444 87 444 88 444 89 444 90 444 91 444 92 444 93 444 94 444 95 444 96 444 97 444 98 444 99 444 100 444 101 444 102 444 103 444 104 444 105 444 106 444 107 444 108 444 109 444 110 444 111 444 112 444 113 444 114 444 115 444 116 444 117 444 118 444 119 444 120 444 121 444 122 444 123 444 124 444 125 444 126 444 127 444 128 444 129 444 130 444 131 444 132 444 133 444 134 444 135 444 136 444 137 444 138 444 139 444 140 444 141 444 142 444 143 444 144 444 145 444 146 444 147 444 148 444 149 444 150 444 151 444 152 444 153 444 154 444 155 444 156 444 156.7 437.8 156 434.1 155.7 433.3 156 430.8 157 428.5 158 426.4 159 424.5 160 424.2 160.1 422.7 161 421.2 162 420 163 418.9 164 417.8 165 416.8 166 415.6 167 414.5 168 414.3 168.1 412.4 169 410.4 170 408.5 171 406.8 172 405.1 173 404.4 173.4 398.7 174 394.5 174.5 393.3 174 390.8 173 388.3 172 385.6 171 384.6 170.6 384.2 170 383.5 169 382.8 168 382.2 167 381.6 166 381 165 380.3 164 379.6 163 378.9 162 378.2 161 377.6 160 376.9 159 376.3 158 375.7 157 375.1 156 374.7 155.2 373.6 155 367 154 364.8 153.8 364.5 154 363.1 155 361.7 156 360.6 157 359.5 158 358.5 159 357.5 160 356.4 161 355.3 162 354.9 162.4 350.4 163 345 163.7 342.5 164 335.1 164.9 334.8 165 332 166 329.4 167 327 168 325.2 168.7 322.7 169 315.3 169.7 312.8 169 309.4 168 305.7 167 305.4 166.9 303.9 166 302.2 165 300.5 164 298.8 163 296.9 162 295.5 161.3 292.7 161 285.6 160.3 283.4 160 275.7 159.1 274.6 160 273.5 161 272.6 162 271.8 163 271 164 270.3 165 269.7 166 269.1 167 268.5 168 267.9 169 267.3 170 266.6 171 265.9 172 265.8 172.2 265.5 172 264.2 171 263 170 261.7 169 260.5 168 259.2 167 257.8 166 256.2 165 255.9 164.8 254.1 164 251.9 163 249.5 162 246.9 161 246 160.7 245.3 161 243.7 162 242.6 163 241.7 164 241.1 165 240.6 166 240.1 167 239.8 168 239.4 169 239 170 238.5 171 237.9 172 237.2 173 236.4 174 236 174.5 226.1 175 222.3 174 218.2 173 216.2 172.6 215.5 173 213.8 174 212.3 175 210.8 176 209.5 177 208.1 178 206.8 179 206.3 179.4 206 179 205 178 204 177 203.1 176 202.2 175 201.3 174 200.5 173 199.7 172 198.9 171 198.1 170 197.4 169 196.7 168 196.4 167.6 196.2 168 195.7 169 195.1 170 194.5 171 193.9 172 193.3 173 192.6 174 191.9 175 191.2 176 190.5 177 189.8 178 189 179 188.3 180 187.6 181 186.9 182 186.5 182.5 186 183 184.9 184 183.9 185 182.8 186 181.8 187 180.8 188 179.9 189 178.9 190 178 191 177.1 192 176.6 192.5 172.6 193 166.7 193.8 156.8 193.8 150.9 193 146.9 192.5 146.2 192 144.9 191 143.9 190 142.9 189 142.2 188 141.5 187 141 186 140.5 185 140 184 139.7 183 139.4 182 139.1 181 138.9 180 138.7 179 138.5 178 138.4 177 138.2 176 138 175 137.9 174 137.7 173 137.5 172 137.3 171 137 170 137 170 137 170 136.8 171 136.6 172 136.4 173 136.2 174 136 175 135.8 176 135.6 177 135.4 178 135.1 179 134.8 180 134.5 181 134.2 182 133.8 183 133.3 184 132.8 185 132.1 186 131.3 187 130.3 188 129 189 127.4 190 127.1 190.2 126.8 190 125.3 189 123.7 188 122.1 187 120.5 186 118.8 185 117.2 184.1 116.4 185 115.6 186 114.7 187 113.9 188 113.1 189 112.3 190 111.5 191 110.8 192 110 193 109.3 194 108.6 195 107.9 196 107.3 196.8 106.5 197 102.8 198 99.1 199 97.4 199.5 96.7 199 95.2 198 93.7 197 92.1 196 90.5 195 88.9 194 87.5 193.2 87.2 193 85.7 192 84.5 191 83.5 190 82.8 189 82.1 188 81.6 187 81.1 186 80.7 185 80.4 184 80.1 183 79.9 182 79.6 181 79.5 180 79.3 179 79.1 178 79 177 78.8 176 78.7 175 78.5 174 78.4 173 78.2 172 78.1 171 78 170 77.8 169 77.7 168 77.7 167 77.6 166.5 77.6 167 77.5 168 77.4 169 77.3 170 77.2 171 77 172 76.9 173 76.8 174 76.7 175 76.5 176 76.4 177 76.3 178 76.2 179 76.1 180 76 181 75.9 182 75.7 183 75.6 184 75.5 185 75.3 186 75.1 187 74.9 188 74.7 189 74.4 190 74 191 73.6 192 73.2 193 72.7 194 72.1 195 71.5 196 70.7 197 69.8 198 68.9 199 68.1 200 67.7 200.5 57.8 200.5 56.6 200 53.9 199 51.3 198 48.5 197 47.9 196.8 47.6 196 47.2 195 46.8 194 46.4 193 46 192 45.6 191 45.1 190 44.6 189 44.1 188 43.6 187 43.1 186 42.6 185 42.2 184 41.8 183 41.4 182 41.1 181 40.7 180 40.4 179 40 178 39.6 177 39.2 176 38.7 175 38.2 174 38 173.5 38 173 38 172 38 171 38 170 38 169 38 168 38 167 38 166 38 165 38 164 38 163 38 162 38 161 38 160 38 159 38 158 38 157 38 156 38 155 38 154 38 153 38 152 38 151 38 150 38 149 38 148 38 147 38 146 38 145 38 144 38 143 38 142 38 141 38 140 38 139 38 138 38 137 38 136 38 135 38 134 38 133 38 132 38 131 38 130 38 129 38 128 38 127 38 126 38 125 38 124 38 123 38 122 38 121 38 120 38 119 38 118 38 117 38 116 38 115 38 114 38 113 38 112 38 111 38 110 38 109 38 108 38 107 38 106 38 105 38 104 38 103 38 102 38 101 38 100 38 99 38 98 38 97 38 96 38 95 38 94 38 93 38 92 38 91 38 90 38 89 38 88 38 87 38 86 38 85 38 84 38 83 38 82 38 81 38 80 38 79 38 78 38 77 38 76 38 75 38 74 38 73 38 72 38 71 38 70 38 69 38 68 38 67 38 66 38 65.7 41 65 44.6 64 47.7 63Z"/>
<path fill="#ffc7c7" d="M47.9 64.3 49.8 65 52.5 66 55.3 67 57.8 67.9 59 68 67.3 69 67.7 69.1 68.5 70 69.2 71 70 72 70.8 73 71.5 74 72.4 75 73.2 76 74.1 77 75 78 76 79 77.1 80 77.6 80.4 78.8 80 81.3 79 83.6 78 85.9 77 87.5 76.4 90.5 76 97.4 75.2 100.8 76 104.9 77 107.3 77.6 111.9 77 117.2 76.4 120.2 76 127.1 75.2 127.7 75 131.5 74 135.1 73 137 72.5 138.3 73 140.7 74 143.2 75 145.9 76 146.9 76.4 149.5 77 153.6 78 156.8 78.8 158.8 79 166.7 80 167.1 80 175.3 81 176.6 81.2 186.5 81.8 187.9 82 193.2 83 196.4 83.6 197.7 84 201.1 85 204.5 86 206.3 86.6 207.6 87 210.7 88 213.8 89 216.2 89.8 217.8 89 219.6 88 221.1 87 222.5 86 223.8 85 225 84 226.1 83 228.8 84 231.9 85 235.3 86 236 86.2 237.3 87 238.7 88 240 89 241.4 90 242.7 91 244.3 92 246 92.9 247 92 248.1 91 249.2 90 250.3 89 251.3 88 252.2 87 253 86 253.8 85 254.6 84 255.4 83 255.9 82.4 257.4 83 260.2 84 263.1 85 265.8 85.9 269 85 272.7 84 275.7 83.2 277.8 84 280.4 85 283.2 86 285.6 86.8 294 86 295.5 85.9 297.1 85 298.9 84 300.6 83 302.1 82 303.7 81 305.2 80 305.4 79.9 305.9 80 309.5 81 313.2 82 315.3 82.5 325.2 82.5 330.1 83 335.1 83.5 337.4 84 341.8 85 345 85.7 348.1 85 352.6 84 354.9 83.5 364.8 83.8 365.4 84 367.7 85 369.6 86 371.1 87 372.2 88 372.8 89 373 90 373 91 373 92 373 93 373 94 373 95 373 96 373 97 373 98 373 99 373 100 373 101 373 102 373.1 103 373.3 104 373.7 105 374.3 106 374.7 106.6 374.8 106 374.9 105 375 104 375.1 103 375.1 102 375 101 375 100 375 99 375.1 98 375.1 97 375.1 96 375.1 95 375.2 94 375.2 93 375.3 92 375.4 91 375.6 90 375.9 89 376.8 88 378.5 87 381.2 86 384.6 85.2 386.1 85 394.5 84.2 396.6 84 404.4 83.5 411 84 414.3 84.3 420.4 85 424.2 85.5 434.1 85.9 435 86 441 87 444 87.9 444 88 444 89 444 90 444 91 444 92 444 93 444 94 444 95 444 96 444 97 444 98 444 99 444 100 444 101 444 102 444 103 444 104 444 105 444 106 444 107 444 108 444 109 444 110 444 111 444 112 444 113 444 114 444 115 444 116 444 117 444 118 444 119 444 120 444 121 444 122 444 123 444 124 444 125 444 126 444 127 444 128 444 129 444 130 444 131 444 132 444 133 444 134 444 135 444 136 444 137 444 138 444 139 444 140 444 141 444 142 444 143 444 144 444 145 444 146 444 147 444 148 444 149 444 150 444 151 444 152 444 153 444 154 444 154.2 434.1 154.3 431.9 155 429.4 156 427.2 157 425.2 158 424.2 158.5 423.3 159 421.5 160 420.1 161 418.9 162 417.9 163 416.9 164 415.9 165 414.9 166 414.3 166.5 413.2 167 411 168 409.1 169 407.3 170 405.6 171 404.4 171.7 401.8 172 394.5 172.7 392.7 172 390.2 171 387.6 170 384.9 169 384.6 168.9 384 168 383.4 167 382.8 166 382.2 165 381.5 164 380.8 163 380.2 162 379.5 161 378.9 160 378.2 159 377.7 158 377.1 157 376.6 156 376.1 155 375.7 154 375.3 153 375.1 152 375 151 375 150 375.1 149 375.1 148 375.1 147 375.1 146 375.1 145 375.1 144 375.1 143 375.1 142 375.1 141 375.1 140 375.1 139 375.1 138 375.1 137 375.1 136 375.1 135 375 134 375 133 375 132 375 131 375 130 375 129 375 128 375 127 375 126 375 125 375 124 374.9 123 374.8 122 374.7 121.4 374.2 122 373.6 123 373.2 124 373 125 373 126 373 127 373 128 373 129 373 130 373 131 373 132 373 133 373 134 373 135 373 136 373 137 373 138 373 139 373 140 373 141 373 142 373 143 373 144 373 145 373 146 373 147 373 148 372.9 149 372.5 150 371.3 151 364.8 151.9 364.7 152 363.3 153 362 154 360.7 155 359.6 156 358.6 157 357.6 158 356.6 159 355.7 160 354.9 160.7 353 161 345.7 162 345 162.1 337.1 163 335.1 163.2 332.9 164 330.2 165 327.7 166 325.3 167 325.2 167.1 315.9 168 315.3 168.1 315.1 168 311.7 167 308.2 166 305.4 165.2 305 165 303.4 164 301.8 163 300.1 162 298.3 161 296.3 160 295.5 159.6 289 159 285.6 158.7 280.1 158 275.7 157.5 275 158 273.8 159 272.8 160 271.9 161 271 162 270.3 163 269.6 164 269 165 268.4 166 267.9 167 267.3 168 266.8 169 266.1 170 265.8 170.5 265.1 170 263.9 169 262.8 168 261.6 167 260.4 166 259 165 257.4 164 255.9 163.1 255.6 163 253.4 162 251.1 161 248.6 160 246 159.1 243.8 160 242.3 161 241.2 162 240.4 163 239.9 164 239.4 165 239.1 166 238.8 167 238.5 168 238.2 169 237.8 170 237.4 171 236.8 172 236.1 173 236 173.1 226.1 173.3 224.9 173 220.9 172 216.6 171 216.2 170.9 216.1 171 214.5 172 212.8 173 211.3 174 209.9 175 208.5 176 207.2 177 206.3 177.6 205.7 177 204.8 176 203.9 175 203 174 202.2 173 201.4 172 200.5 171 199.8 170 199 169 198.4 168 197.7 167 197.1 166 196.5 165 196.4 164.9 196.4 165 195.9 166 195.3 167 194.8 168 194.3 169 193.8 170 193.2 171 192.6 172 192 173 191.3 174 190.6 175 189.9 176 189.2 177 188.5 178 187.8 179 187.1 180 186.5 180.7 186.3 181 185.2 182 184.2 183 183.1 184 182.1 185 181.1 186 180.1 187 179.2 188 178.2 189 177.3 190 176.6 190.7 174.7 191 167.1 192 166.7 192 156.8 192 156.5 192 148.9 191 146.9 190.7 146 190 145 189 144.1 188 143.3 187 142.7 186 142.1 185 141.6 184 141.1 183 140.7 182 140.4 181 140.1 180 139.9 179 139.7 178 139.5 177 139.4 176 139.2 175 139 174 138.8 173 138.6 172 138.4 171 138.2 170 138 169 137.7 168 137.4 167 137.2 166 137 165.5 136.9 166 136.7 167 136.4 168 136.2 169 135.9 170 135.7 171 135.4 172 135.2 173 135 174 134.8 175 134.5 176 134.3 177 134 178 133.7 179 133.4 180 133 181 132.6 182 132.1 183 131.5 184 130.8 185 130 186 129 187 127.7 188 127.1 188.4 126.4 188 124.9 187 123.3 186 121.7 185 120.1 184 118.4 183 117.2 182.3 116.6 183 115.8 184 114.9 185 114.1 186 113.3 187 112.5 188 111.7 189 110.9 190 110.2 191 109.5 192 108.8 193 108 194 107.3 195 107.3 195 103.7 196 100.1 197 97.4 197.7 96.3 197 94.8 196 93.3 195 91.7 194 90.1 193 88.5 192 87.5 191.4 86.9 191 85.7 190 84.8 189 84 188 83.4 187 82.8 186 82.3 185 81.9 184 81.5 183 81.2 182 80.9 181 80.7 180 80.5 179 80.3 178 80.1 177 80 176 79.8 175 79.6 174 79.5 173 79.3 172 79.1 171 79 170 78.9 169 78.7 168 78.6 167 78.5 166 78.4 165 78.3 164 78.2 163 78.1 162 78 161 77.8 160 77.7 159 77.6 158.8 77.6 159 77.4 160 77.2 161 77.1 162 77 163 76.9 164 76.8 165 76.7 166 76.6 167 76.5 168 76.4 169 76.3 170 76.2 171 76.1 172 75.9 173 75.8 174 75.7 175 75.6 176 75.4 177 75.3 178 75.2 179 75.1 180 75 181 74.8 182 74.7 183 74.5 184 74.4 185 74.2 186 74 187 73.8 188 73.5 189 73.2 190 72.8 191 72.3 192 71.8 193 71.3 194 70.6 195 70 196 69.2 197 68.3 198 67.7 198.7 57.8 198.7 55.9 198 53.3 197 50.6 196 47.9 195 47.9 195 47.5 194 47.1 193 46.7 192 46.3 191 45.9 190 45.4 189 44.9 188 44.4 187 43.9 186 43.5 185 43 184 42.6 183 42.3 182 42.1 181 41.7 180 41.4 179 41.1 178 40.7 177 40.3 176 39.9 175 39.5 174 39.1 173 38.6 172 38.1 171 38 170.7 38 170 38 169 38 168 38 167 38 166 38 165 38 164 38 163 38 162 38 161 38 160 38 159 38 158 38 157 38 156 38 155 38 154 38 153 38 152 38 151 38 150 38 149 38 148 38 147 38 146 38 145 38 144 38 143 38 142 38 141 38 140 38 139 38 138 38 137 38 136 38 135 38 134 38 133 38 132 38 131 38 130 38 129 38 128 38 127 38 126 38 125 38 124 38 123 38 122 38 121 38 120 38 119 38 118 38 117 38 116 38 115 38 114 38 113 38 112 38 111 38 110 38 109 38 108 38 107 38 106 38 105 38 104 38 103 38 102 38 101 38 100 38 99 38 98 38 97 38 96 38 95 38 94 38 93 38 92 38 91 38 90 38 89 38 88 38 87 38 86 38 85 38 84 38 83 38 82 38 81 38 80 38 79 38 78 38 77 38 76 38 75 38 74 38 73 38 72 38 71 38 70 38 69 38 68 38 67 38 66.9 41.7 66 45.5 65Z"/>
<path fill="#ffbdbd" d="M47.9 65.7 48.8 66 51.3 67 54.1 68 57.1 69 57.8 69.3 63.9 70 67.7 70.5 68.1 71 68.9 72 69.6 73 70.3 74 71.1 75 71.9 76 72.7 77 73.6 78 74.5 79 75.5 80 76.7 81 77.6 81.7 79.8 81 82.4 80 84.7 79 86.9 78 87.5 77.8 93.8 77 97.4 76.6 99.2 77 103.2 78 107.3 79 115.2 78 117.2 77.8 123.5 77 127.1 76.6 129.4 76 133.1 75 136.6 74 137 73.9 137.3 74 139.6 75 142 76 144.7 77 146.9 77.8 147.9 78 151.9 79 156.2 80 156.8 80.2 163.7 81 166.7 81.4 172 82 176.6 82.6 182.8 83 186.5 83.3 190.1 84 195.1 85 196.4 85.3 198.8 86 202 87 205.2 88 206.3 88.4 208.2 89 211.2 90 214.2 91 216.2 91.8 217.8 91 219.7 90 221.4 89 222.8 88 224 87 225.2 86 226.1 85.2 228.5 86 231.7 87 235.2 88 236 88.2 237 89 238.1 90 239.1 91 240.1 92 241.2 93 242.7 94 245.1 95 246 95.3 246.2 95 247.3 94 248.4 93 249.5 92 250.6 91 251.6 90 252.5 89 253.4 88 254.2 87 255 86 255.7 85 255.9 84.8 256.3 85 259 86 261.9 87 264.9 88 265.8 88.3 266.9 88 270.7 87 274.2 86 275.7 85.6 276.7 86 279.2 87 282 88 285.1 89 285.6 89.2 287.2 89 295.5 88.3 296 88 297.9 87 299.7 86 301.4 85 302.9 84 304.3 83 305.4 82.3 307.9 83 311.6 84 315.3 84.9 325.2 84.9 326.1 85 335.1 85.9 335.7 86 340 87 344.7 88 345 88.1 345.3 88 349.9 87 354.3 86 354.9 85.9 356.2 86 362.3 87 364.4 88 364.8 89 364.8 90 364.8 91 364.8 92 364.8 93 364.8 94 364.8 95 364.8 96 364.8 97 364.8 98 364.8 99 364.8 100 364.8 101 364.8 101 364.8 102 365 103 365.4 104 365.9 105 366.6 106 367.4 107 368.2 108 368.9 109 369.7 110 370.4 111 370.9 112 371.3 113 371.4 114 371.2 115 370.7 116 370 117 369.2 118 368.4 119 367.5 120 366.6 121 365.9 122 365.3 123 364.9 124 364.8 125 364.8 125 364.8 126 364.8 127 364.8 128 364.8 129 364.8 130 364.8 131 364.8 132 364.8 133 364.8 134 364.8 135 364.8 136 364.8 137 364.8 138 364.8 139 364.8 140 364.8 141 364.8 142 364.8 143 364.8 144 364.8 145 364.8 146 364.8 147 364.8 148 364.6 149 363.9 150 363 151 361.9 152 360.7 153 359.5 154 358.4 155 357.4 156 356.5 157 355.7 158 354.9 158.9 354 159 346.6 160 345 160.2 338.3 161 335.1 161.4 333.3 162 330.5 163 328 164 325.6 165 325.2 165.2 317.2 166 315.3 166.2 314.6 166 311.3 165 307.7 164 305.4 163.4 304.8 163 303.3 162 301.8 161 300.1 160 298.2 159 295.9 158 295.5 157.8 287.4 157 285.6 156.8 279 156 275.7 155.6 275.1 156 273.8 157 272.8 158 271.8 159 271 160 270.2 161 269.5 162 268.8 163 268.2 164 267.7 165 267.2 166 266.7 167 266.1 168 265.8 168.7 265 168 264 167 262.9 166 261.7 165 260.4 164 258.9 163 257.2 162 255.9 161.3 255.3 161 253.1 160 250.8 159 248.1 158 246 157.2 243.3 158 241.3 159 240.1 160 239.3 161 238.7 162 238.3 163 238 164 237.8 165 237.6 166 237.4 167 237.3 168 237.1 169 236.7 170 236.3 171 236 171.4 226.1 171.4 224.4 171 220.5 170 216.2 169.1 214.9 170 213.3 171 211.7 172 210.2 173 208.8 174 207.4 175 206.3 175.8 205.6 175 204.7 174 203.9 173 203 172 202.2 171 201.4 170 200.7 169 200 168 199.3 167 198.7 166 198.1 165 197.6 164 197 163 196.5 162 196.4 161.9 196.4 162 195.9 163 195.4 164 194.9 165 194.4 166 193.9 167 193.4 168 193 169 192.4 170 191.9 171 191.3 172 190.6 173 190 174 189.3 175 188.6 176 187.9 177 187.2 178 186.5 178.9 186.5 179 185.4 180 184.4 181 183.4 182 182.3 183 181.3 184 180.3 185 179.3 186 178.4 187 177.5 188 176.6 188.9 176.1 189 168.4 190 166.7 190.2 156.8 190.2 155.1 190 147.5 189 146.9 188.9 146 188 145.1 187 144.4 186 143.7 185 143.1 184 142.5 183 142.1 182 141.7 181 141.4 180 141.1 179 140.9 178 140.7 177 140.6 176 140.4 175 140.2 174 140 173 139.8 172 139.6 171 139.4 170 139.2 169 138.9 168 138.7 167 138.4 166 138.1 165 137.8 164 137.5 163 137.2 162 137 161.6 136.9 162 136.6 163 136.4 164 136.1 165 135.9 166 135.6 167 135.3 168 135.1 169 134.8 170 134.6 171 134.3 172 134.1 173 133.8 174 133.5 175 133.3 176 133 177 132.7 178 132.3 179 131.9 180 131.5 181 130.9 182 130.3 183 129.6 184 128.8 185 127.8 186 127.1 186.6 126.2 186 124.6 185 123.1 184 121.4 183 119.8 182 118 181 117.2 180.5 116.8 181 115.9 182 115 183 114.2 184 113.5 185 112.7 186 111.9 187 111.1 188 110.3 189 109.6 190 108.9 191 108.2 192 107.5 193 107.3 193.2 104.4 194 100.7 195 97.4 195.9 96.1 195 94.6 194 93 193 91.4 192 89.8 191 88.1 190 87.5 189.6 86.8 189 85.9 188 85.1 187 84.4 186 83.8 185 83.3 184 82.9 183 82.5 182 82.2 181 81.9 180 81.7 179 81.5 178 81.3 177 81.1 176 80.9 175 80.7 174 80.5 173 80.3 172 80.2 171 80 170 79.9 169 79.7 168 79.6 167 79.5 166 79.4 165 79.3 164 79.2 163 79 162 78.9 161 78.7 160 78.6 159 78.4 158 78.2 157 77.9 156 77.6 155 77.6 155 77.6 155 77.3 156 77 157 76.8 158 76.6 159 76.5 160 76.3 161 76.2 162 76.1 163 76 164 75.9 165 75.8 166 75.7 167 75.6 168 75.5 169 75.4 170 75.3 171 75.1 172 75 173 74.9 174 74.7 175 74.6 176 74.5 177 74.3 178 74.2 179 74.1 180 73.9 181 73.8 182 73.6 183 73.5 184 73.3 185 73.1 186 72.9 187 72.7 188 72.3 189 72 190 71.5 191 71 192 70.5 193 69.8 194 69.2 195 68.5 196 67.7 196.9 57.8 196.9 55.4 196 52.8 195 50.1 194 47.9 193.2 47.8 193 47.4 192 47.1 191 46.6 190 46.2 189 45.7 188 45.2 187 44.7 186 44.3 185 43.9 184 43.5 183 43.3 182 43 181 42.7 180 42.5 179 42.2 178 41.8 177 41.5 176 41.2 175 40.8 174 40.4 173 40 172 39.6 171 39.2 170 38.8 169 38.3 168 38 167.3 38 167 38 166 38 165 38 164 38 163 38 162 38 161 38 160 38 159 38 158 38 157 38 156 38 155 38 154 38 153 38 152 38 151 38 150 38 149 38 148 38 147 38 146 38 145 38 144 38 143 38 142 38 141 38 140 38 139 38 138 38 137 38 136 38 135 38 134 38 133 38 132 38 131 38 130 38 129 38 128 38 127 38 126 38 125 38 124 38 123 38 122 38 121 38 120 38 119 38 118 38 117 38 116 38 115 38 114 38 113 38 112 38 111 38 110 38 109 38 108 38 107 38 106 38 105 38 104 38 103 38 102 38 101 38 100 38 99 38 98 38 97 38 96 38 95 38 94 38 93 38 92 38 91 38 90 38 89 38 88 38 87 38 86 38 85 38 84 38 83 38 82 38 81 38 80 38 79 38 78 38 77 38 76 38 75 38 74 38 73 38 72 38 71 38 70 38 69 38 68.3 38.9 68 43 67 46.7 66ZM404.4 85.9 406.2 86 414.3 86.6 417.3 87 424.2 87.8 431.1 88 434.1 88.1 437.1 89 439 90 439.9 91 440.2 92 440.3 93 440.4 94 440.5 95 440.5 96 440.6 97 440.6 98 440.7 99 440.7 100 440.7 101 440.7 102 440.6 103 440 104 439.2 105 439.4 106 440 107 440.9 108 441.9 109 442.9 110 443.8 111 444 111.2 444 112 444 113 444 114 444 115 444 116 444 117 444 118 444 118 443.5 119 443 120 442.5 121 442 122 441.5 123 441.1 124 440.7 125 440.3 126 439.9 127 439.5 128 439.2 129 439 130 439.1 131 439.3 132 439.5 133 439.8 134 440 135 440.2 136 440.4 137 440.6 138 440.7 139 440.7 140 440.7 141 440.7 142 440.7 143 440.6 144 440.6 145 440.5 146 440.5 147 440.4 148 440.3 149 440.1 150 439.3 151 437.2 152 434.1 152.6 432.6 153 429.7 154 427.4 155 425.5 156 424.2 156.7 423.6 157 421.6 158 419.9 159 418.6 160 417.5 161 416.6 162 415.8 163 414.9 164 414.3 164.7 413.6 165 411.2 166 409.1 167 407.4 168 405.8 169 404.4 169.9 403.4 170 394.5 170.9 392.2 170 389.7 169 387.1 168 384.6 167 384.6 167 384 166 383.4 165 382.8 164 382.1 163 381.4 162 380.8 161 380.2 160 379.6 159 379 158 378.5 157 378.1 156 377.7 155 377.3 154 377.1 153 376.9 152 376.9 151 376.9 150 376.9 149 376.9 148 376.9 147 377 146 377 145 377 144 377 143 377 142 377.1 141 377.1 140 377.1 139 377 138 377 137 377 136 376.9 135 376.9 134 376.8 133 376.8 132 376.7 131 376.7 130 376.7 129 376.6 128 376.6 127 376.6 126 376.5 125 376.5 124 376.4 123 376.3 122 376.2 121 376 120 375.9 119 375.8 118 375.6 117 375.5 116 375.5 115 375.4 114 375.5 113 375.6 112 375.8 111 376 110 376.2 109 376.4 108 376.6 107 376.8 106 376.9 105 377 104 377.1 103 377 102 376.9 101 376.8 100 376.8 99 376.9 98 377 97 377.2 96 377.4 95 377.7 94 378.1 93 378.6 92 379.2 91 380.1 90 381.3 89 383.3 88 384.6 87.5 389.3 87 394.5 86.5 402.3 86Z"/>
<path fill="#ffb2b2" d="M47.9 67.2 50 68 52.8 69 55.6 70 57.8 70.8 59.4 71 67.7 72 67.7 72 68.4 73 69.1 74 69.8 75 70.5 76 71.3 77 72.1 78 73 79 74 80 75.1 81 76.3 82 77.6 82.9 81 82 83.7 81 86 80 87.5 79.3 90.1 79 97.4 78.1 100.9 79 105.1 80 107.3 80.5 111.6 80 117.2 79.3 119.8 79 127.1 78.1 127.6 78 131.8 77 135.4 76 137 75.5 138.1 76 140.4 77 143 78 146 79 146.9 79.3 149.7 80 153.9 81 156.8 81.7 159.2 82 166.7 82.9 167.5 83 175.8 84 176.6 84.1 186.5 85 186.7 85 191.3 86 196.4 87 196.4 87 199.6 88 202.7 89 205.6 90 206.3 90.3 208.4 91 211.2 92 213.6 93 215.7 94 216.2 94.3 216.8 94 218.7 93 220.5 92 222.1 91 223.7 90 225 89 226 88 226.1 87.9 226.4 88 229.4 89 232.4 90 234.7 91 235.9 92 236 92.5 236.1 93 236.3 94 236.6 95 237 96 237.9 97 240.6 98 246 98.5 246.4 98 247.3 97 248.2 96 249.1 95 250.1 94 251 93 252 92 253 91 253.9 90 254.8 89 255.6 88 255.9 87.6 256.9 88 259.8 89 262.7 90 265.3 91 265.8 91.2 266.8 91 271.4 90 275.1 89 275.7 88.8 276.1 89 278.5 90 281.4 91 284.4 92 285.6 92.4 288.4 92 295.5 91.2 295.8 91 297.5 90 299.3 89 301.1 88 302.7 87 304.3 86 305.4 85.2 308.3 86 312.5 87 315.3 87.6 325.2 87.6 328.8 88 335.1 88.8 335.9 89 340.2 90 344.3 91 345 91.2 345.7 91 349.8 90 354.1 89 354.9 88.8 355.4 89 357.5 90 358.8 91 359.7 92 360.4 93 360.8 94 361.2 95 361.4 96 361.6 97 361.7 98 361.7 99 361.5 100 361.1 101 361 102 361.1 103 361.3 104 361.5 105 361.9 106 362.3 107 362.7 108 363.1 109 363.5 110 363.8 111 364 112 364.1 113 364.1 114 364 115 363.9 116 363.7 117 363.5 118 363.3 119 363 120 362.8 121 362.6 122 362.4 123 362.2 124 362.1 125 362 126 361.8 127 361.7 128 361.6 129 361.4 130 361.3 131 361.2 132 361.1 133 361 134 361 135 361 136 361 137 361.1 138 361.2 139 361.3 140 361.3 141 361.4 142 361.5 143 361.6 144 361.6 145 361.7 146 361.7 147 361.7 148 361.4 149 360.9 150 360 151 359.1 152 358 153 357 154 356.1 155 355.2 156 354.9 156.5 350.3 157 345 157.7 342.9 158 335.1 159 335.1 159 332.8 160 330.2 161 327.5 162 325.2 163 325.2 163 315.3 164 311.9 163 308.4 162 305.4 161 305.4 161 304 160 302.4 159 300.6 158 298.6 157 296.6 156 295.5 155.4 291.9 155 285.6 154.2 284.1 154 275.7 153 275.7 153 275.7 153 274.4 154 273.2 155 272.2 156 271.3 157 270.6 158 269.9 159 269.2 160 268.6 161 268 162 267.4 163 266.8 164 266.3 165 265.9 166 265.8 166.3 265.5 166 264.5 165 263.4 164 262.1 163 260.7 162 259.2 161 257.6 160 255.9 159 255.9 159 253.7 158 251.2 157 248.7 156 246.6 155 246 154.6 240.6 155 237.7 156 237 157 236.6 158 236.4 159 236.3 160 236.3 161 236.2 162 236.2 163 236.1 164 236.1 165 236.1 166 236.1 167 236 167.8 236 168 226.1 169 222.4 168 218 167 216.2 166.6 215.9 167 214.7 168 213.4 169 212 170 210.5 171 209 172 207.5 173 206.3 173.9 205.6 173 204.7 172 203.9 171 203.1 170 202.3 169 201.6 168 201 167 200.4 166 199.8 165 199.2 164 198.7 163 198.2 162 197.7 161 197.2 160 196.8 159 196.4 158.2 196.1 159 195.6 160 195.2 161 194.7 162 194.3 163 193.8 164 193.4 165 192.9 166 192.5 167 192.1 168 191.6 169 191.1 170 190.6 171 190 172 189.3 173 188.6 174 187.9 175 187.2 176 186.5 177 186.5 177 185.4 178 184.4 179 183.4 180 182.5 181 181.5 182 180.5 183 179.5 184 178.5 185 177.5 186 176.6 187 176.6 187 169 188 166.7 188.3 156.8 188.3 154.6 188 146.9 187 146.9 187 146.1 186 145.3 185 144.6 184 144 183 143.4 182 143 181 142.6 180 142.3 179 142.1 178 141.9 177 141.7 176 141.6 175 141.4 174 141.2 173 141 172 140.8 171 140.6 170 140.4 169 140.1 168 139.9 167 139.7 166 139.4 165 139.1 164 138.8 163 138.5 162 138.2 161 137.8 160 137.4 159 137 158 137 158 137 158 136.7 159 136.4 160 136.1 161 135.9 162 135.6 163 135.3 164 135.1 165 134.8 166 134.5 167 134.3 168 134 169 133.7 170 133.4 171 133.2 172 132.9 173 132.6 174 132.3 175 132 176 131.7 177 131.3 178 130.9 179 130.4 180 129.9 181 129.3 182 128.6 183 127.8 184 127.1 184.7 126.1 184 124.5 183 122.9 182 121.3 181 119.6 180 117.9 179 117.2 178.6 116.8 179 115.8 180 115 181 114.2 182 113.4 183 112.7 184 112 185 111.2 186 110.5 187 109.7 188 109 189 108.2 190 107.5 191 107.3 191.3 104.7 192 101 193 97.4 194 95.9 193 94.4 192 92.8 191 91.2 190 89.6 189 88 188 87.5 187.7 86.9 187 86.1 186 85.4 185 84.8 184 84.3 183 83.8 182 83.5 181 83.1 180 82.9 179 82.6 178 82.4 177 82.2 176 82 175 81.8 174 81.6 173 81.4 172 81.2 171 81 170 80.9 169 80.7 168 80.6 167 80.5 166 80.3 165 80.2 164 80.1 163 80 162 79.8 161 79.7 160 79.5 159 79.3 158 79.1 157 78.8 156 78.6 155 77.6 154 77.6 154 77.6 154 76.6 155 76.3 156 76.1 157 75.9 158 75.7 159 75.5 160 75.4 161 75.3 162 75.2 163 75.1 164 75 165 74.9 166 74.8 167 74.7 168 74.6 169 74.4 170 74.3 171 74.2 172 74 173 73.9 174 73.8 175 73.6 176 73.5 177 73.4 178 73.2 179 73.1 180 72.9 181 72.8 182 72.6 183 72.4 184 72.2 185 72 186 71.8 187 71.5 188 71.2 189 70.8 190 70.3 191 69.7 192 69.1 193 68.4 194 67.7 195 57.8 195 55.2 194 52.5 193 49.8 192 47.9 191.3 47.8 191 47.4 190 46.9 189 46.5 188 46 187 45.6 186 45.1 185 44.7 184 44.4 183 44.2 182 44 181 43.7 180 43.5 179 43.2 178 43 177 42.7 176 42.4 175 42.1 174 41.8 173 41.4 172 41.1 171 40.7 170 40.4 169 40 168 39.6 167 39.2 166 38.8 165 38.5 164 38.1 163 38 162.6 38 162 38 161 38 160 38 159 38 158 38 157 38 156 38 155 38 154 38 153 38 152 38 151 38 150 38 149 38 148 38 147 38 146 38 145 38 144 38 143 38 142 38 141 38 140 38 139 38 138 38 137 38 136 38 135 38 134 38 133 38 132 38 131 38 130 38 129 38 128 38 127 38 126 38 125 38 124 38 123 38 122 38 121 38 120 38 119 38 118 38 117 38 116 38 115 38 114 38 113 38 112 38 111 38 110 38 109 38 108 38 107 38 106 38 105 38 104 38 103 38 102 38 101 38 100 38 99 38 98 38 97 38 96 38 95 38 94 38 93 38 92 38 91 38 90 38 89 38 88 38 87 38 86 38 85 38 84 38 83 38 82 38 81 38 80 38 79 38 78 38 77 38 76 38 75 38 74 38 73 38 72 38 71 38 70.6 38.7 70 41.3 69 44.9 68ZM394.5 88.8 404.4 88.8 406.4 89 414.3 90 414.3 90 422.5 91 424.2 91.2 432.9 92 434.1 92.5 434.2 93 434.4 94 434.6 95 434.7 96 434.9 97 435 98 435.1 99 435.1 100 435.2 101 435.2 102 434.9 103 434.1 103.5 432.7 104 431 105 431 106 431.5 107 432.4 108 433.5 109 434.1 109.4 434.9 110 436.3 111 437.5 112 438.5 113 439.2 114 439.6 115 439.8 116 439.7 117 439.5 118 439.1 119 438.7 120 438.1 121 437.5 122 436.8 123 436 124 435.1 125 434.1 126 434.1 126 433.2 127 432.5 128 432 129 431.6 130 431.5 131 431.5 132 431.7 133 432.2 134 432.9 135 433.8 136 434.1 136.3 434.5 137 434.8 138 435.1 139 435.2 140 435.2 141 435.2 142 435.1 143 435 144 434.9 145 434.7 146 434.6 147 434.4 148 434.1 149 434.1 149.1 433.2 150 430.8 151 428.1 152 425.8 153 424.2 154 424.2 154 422.4 155 420.6 156 419 157 417.7 158 416.6 159 415.7 160 414.9 161 414.3 162 414.3 162 412.7 163 410.7 164 408.6 165 406.7 166 405.1 167 404.4 167.5 401.8 168 394.5 169 392 168 389.5 167 387 166 384.6 165 384.6 165 384 164 383.4 163 382.7 162 382.1 161 381.5 160 380.9 159 380.4 158 379.9 157 379.5 156 379.3 155 379 154 378.8 153 378.7 152 378.7 151 378.7 150 378.8 149 378.8 148 378.8 147 378.9 146 378.9 145 379 144 379 143 379 142 379 141 379 140 379 139 379 138 378.9 137 378.9 136 378.8 135 378.7 134 378.6 133 378.5 132 378.5 131 378.4 130 378.3 129 378.2 128 378.2 127 378.1 126 378.1 125 378 124 377.9 123 377.8 122 377.7 121 377.6 120 377.5 119 377.4 118 377.4 117 377.3 116 377.3 115 377.3 114 377.4 113 377.6 112 377.8 111 378 110 378.2 109 378.4 108 378.6 107 378.8 106 378.9 105 379 104 379 103 378.9 102 378.7 101 378.6 100 378.6 99 378.7 98 378.9 97 379.2 96 379.6 95 380.2 94 380.9 93 381.8 92 383 91 384.6 90 384.6 90 392.7 89Z"/>
<path fill="#ffa8a8" d="M47.9 68.8 48.5 69 51.2 70 53.9 71 56.4 72 57.8 72.6 61.3 73 67.7 73.8 67.8 74 68.5 75 69.2 76 69.9 77 70.6 78 71.5 79 72.4 80 73.5 81 74.7 82 76 83 77.6 83.9 82.3 83 85.3 82 87.5 81.1 87.9 81 96.2 80 97.4 79.8 98 80 102 81 106.3 82 107.3 82.2 109.4 82 117.2 81.1 118 81 126.2 80 127.1 79.9 130.9 79 134.9 78 137 77.4 138.4 78 140.9 79 143.7 80 146.9 81 147.1 81 151.2 82 155.3 83 156.8 83.4 161.7 84 166.7 84.7 168.9 85 176.2 86 176.6 86.1 186.1 87 186.5 87 191.2 88 196.4 88.7 197.3 89 200.4 90 203.1 91 205.6 92 206.3 92.3 208 93 210.3 94 212.2 95 214 96 215.5 97 216.2 97.6 217.7 97 219.6 96 221.1 95 222.5 94 223.8 93 225.2 92 226.1 91.3 227.7 92 229.2 93 230.2 94 230.8 95 231.1 96 231.3 97 231.4 98 231.3 99 231.2 100 231.1 101 231 102 230.8 103 230.6 104 230.4 105 230.2 106 230.1 107 230 108 230.1 109 230.3 110 230.8 111 231.4 112 232.2 113 233 114 233.9 115 234.6 116 235.3 117 235.7 118 236 119 236 120 236 121 235.8 122 235.6 123 235.3 124 235.1 125 234.8 126 234.5 127 234.3 128 234.1 129 233.9 130 233.7 131 233.5 132 233.3 133 233.1 134 233 135 232.9 136 232.7 137 232.5 138 232.3 139 232.1 140 231.9 141 231.6 142 231.3 143 231 144 230.7 145 230.3 146 230 147 229.7 148 229.4 149 229.3 150 229.2 151 229.3 152 229.6 153 229.9 154 230.3 155 230.6 156 230.9 157 231.1 158 231.3 159 231.3 160 231.2 161 230.9 162 230.3 163 229.4 164 228 165 226.1 165.8 223.1 165 219 164 216.2 163.4 215.7 164 214.8 165 213.9 166 213 167 211.8 168 210.5 169 209.1 170 207.7 171 206.3 171.9 205.6 171 204.8 170 204 169 203.3 168 202.6 167 202 166 201.4 165 200.9 164 200.4 163 199.9 162 199.4 161 199 160 198.5 159 198.1 158 197.8 157 197.4 156 197.1 155 196.8 154 196.5 153 196.4 152.9 196.4 153 196 154 195.7 155 195.3 156 195 157 194.7 158 194.3 159 193.9 160 193.5 161 193.1 162 192.7 163 192.3 164 191.9 165 191.5 166 191.1 167 190.7 168 190.3 169 189.8 170 189.2 171 188.7 172 188 173 187.3 174 186.6 175 186.5 175.1 185.3 176 184.2 177 183.2 178 182.4 179 181.5 180 180.6 181 179.7 182 178.7 183 177.7 184 176.7 185 176.6 185.1 170.1 186 166.7 186.4 156.8 186.4 154.1 186 146.9 185.1 146.9 185 146.1 184 145.4 183 144.8 182 144.3 181 143.9 180 143.6 179 143.3 178 143.1 177 142.9 176 142.7 175 142.5 174 142.4 173 142.2 172 142 171 141.8 170 141.6 169 141.4 168 141.1 167 140.9 166 140.7 165 140.4 164 140.2 163 139.9 162 139.6 161 139.3 160 138.9 159 138.5 158 138.1 157 137.5 156 137 155 137 155 137 155 136.7 156 136.3 157 136 158 135.7 159 135.4 160 135.1 161 134.8 162 134.6 163 134.3 164 134 165 133.7 166 133.5 167 133.2 168 132.9 169 132.6 170 132.3 171 132 172 131.7 173 131.4 174 131.1 175 130.8 176 130.4 177 130 178 129.5 179 129 180 128.4 181 127.7 182 127.1 182.7 126.1 182 124.5 181 122.9 180 121.3 179 119.7 178 118 177 117.2 176.5 116.7 177 115.7 178 114.8 179 113.9 180 113.2 181 112.5 182 111.8 183 111.2 184 110.5 185 109.8 186 109.1 187 108.3 188 107.6 189 107.3 189.4 104.9 190 101.2 191 97.5 192 97.4 192 97.4 192 95.9 191 94.3 190 92.8 189 91.2 188 89.7 187 88 186 87.5 185.7 87 185 86.3 184 85.7 183 85.2 182 84.7 181 84.4 180 84 179 83.8 178 83.5 177 83.3 176 83.1 175 82.9 174 82.6 173 82.4 172 82.2 171 82 170 81.9 169 81.7 168 81.6 167 81.4 166 81.3 165 81.2 164 81 163 80.9 162 80.7 161 80.6 160 80.4 159 80.2 158 80 157 79.8 156 79.5 155 78.6 154 78.4 153 78.1 152 77.9 151 77.7 150 77.6 149.4 77.5 150 77.3 151 77.1 152 76.8 153 76.5 154 75.6 155 75.4 156 75.1 157 74.9 158 74.8 159 74.6 160 74.5 161 74.4 162 74.2 163 74.1 164 74 165 73.9 166 73.8 167 73.7 168 73.6 169 73.5 170 73.4 171 73.2 172 73.1 173 72.9 174 72.8 175 72.7 176 72.5 177 72.4 178 72.2 179 72.1 180 71.9 181 71.7 182 71.6 183 71.4 184 71.2 185 71 186 70.7 187 70.4 188 70 189 69.6 190 69 191 68.4 192 67.7 193 67.7 193.1 57.8 193.1 57.7 193 55 192 52.3 191 49.6 190 47.9 189.5 47.7 189 47.3 188 46.8 187 46.4 186 46 185 45.6 184 45.3 183 45.1 182 44.9 181 44.7 180 44.5 179 44.3 178 44.1 177 43.9 176 43.6 175 43.4 174 43.1 173 42.9 172 42.6 171 42.3 170 42 169 41.7 168 41.4 167 41.1 166 40.7 165 40.4 164 40.2 163 39.9 162 39.6 161 39.3 160 39 159 38.7 158 38.5 157 38.2 156 38.1 155 38 154 38 153 38.1 152 38.1 151 38.2 150 38.4 149 38.5 148 38.6 147 38.8 146 38.9 145 39 144 39.1 143 39.1 142 39.2 141 39.2 140 39.2 139 39.1 138 39.1 137 39 136 38.9 135 38.8 134 38.6 133 38.5 132 38.4 131 38.2 130 38.1 129 38 128.6 38 128 38 127 38 126 38 125 38 124 38 123 38 122 38 121 38 120 38 119 38 118 38 117 38 116 38 115 38 114 38 113 38 112 38 111 38 110 38 109 38 108 38 107 38 106 38 105 38 104 38 103 38 102 38 101 38 100 38 99 38 98 38 97 38 96.4 38.1 96 38.3 95 38.4 94 38.6 93 38.7 92 38.9 91 39 90 39.1 89 39.2 88 39.3 87 39.3 86 39.3 85 39.3 84 39.1 83 38.8 82 38.5 81 38.2 80 38 79 38 78 38.1 77 38.4 76 38.7 75 39.1 74 39.8 73 40.7 72 41.9 71 43.9 70 47.1 69ZM305.4 88.5 307.5 89 313.1 90 315.3 90.3 325.2 90.3 329.5 91 334.5 92 335.1 92.1 338.2 93 341.4 94 344.4 95 345 95.2 345.6 95 348.5 94 351.7 93 354.9 92.1 356 93 356.9 94 357.6 95 358.1 96 358.4 97 358.5 98 358.6 99 358.2 100 357.5 101 357.2 102 357.3 103 357.5 104 357.7 105 358.1 106 358.5 107 359 108 359.4 109 359.9 110 360.3 111 360.6 112 360.8 113 361 114 361 115 361 116 360.9 117 360.8 118 360.6 119 360.4 120 360.2 121 360 122 359.8 123 359.6 124 359.3 125 359.1 126 358.9 127 358.6 128 358.3 129 358.1 130 357.8 131 357.5 132 357.3 133 357.2 134 357.2 135 357.2 136 357.3 137 357.4 138 357.6 139 357.7 140 357.9 141 358.1 142 358.2 143 358.4 144 358.5 145 358.5 146 358.6 147 358.6 148 358.3 149 357.8 150 357.1 151 356.2 152 355.4 153 354.9 153.6 347 154 345 154.1 341 155 335.5 156 335.1 156.1 333.2 157 331.2 158 329.1 159 326.7 160 325.2 160.6 321.4 161 315.3 161.6 313.2 161 310.3 160 307.7 159 305.4 158.1 305.3 158 303.7 157 302 156 300.4 155 298.8 154 296.8 153 295.5 152.5 292.9 152 288.4 151 285.6 150.2 284.2 150 275.9 149 275.7 149 275.6 149 273.9 150 272.6 151 271.7 152 271 153 270.4 154 269.8 155 269.3 156 268.8 157 268.4 158 267.9 159 267.4 160 266.9 161 266.4 162 265.9 163 265.8 163.4 265.4 163 264.3 162 263.1 161 261.9 160 260.6 159 259.2 158 257.3 157 255.9 156.5 254.8 156 252.6 155 250.8 154 249.2 153 247.8 152 246.5 151 246 150.6 244.8 150 243.4 149 242.6 148 242.2 147 241.9 146 241.9 145 242.1 144 242.3 143 242.6 142 243 141 243.5 140 244.1 139 244.7 138 245.3 137 245.8 136 246 135 246 135 246 135 245.6 134 244.5 133 243.3 132 241.9 131 240.8 130 239.7 129 238.9 128 238.2 127 237.6 126 237.2 125 236.8 124 236.5 123 236.3 122 236.1 121 236 120 236.1 119 236.4 118 237 117 237.9 116 239.5 115 241.7 114 244.1 113 245.7 112 245.1 111 242.4 110 241.2 109 241.3 108 241.7 107 242.3 106 243 105 244.2 104 246 103 246 103 247.6 102 248.9 101 249.7 100 249.9 99 250.1 98 250.6 97 251.3 96 252 95 252.8 94 253.7 93 254.5 92 255.4 91 255.9 90.5 257.3 91 259.9 92 262.2 93 264.5 94 265.8 94.5 271.3 94 275.7 93.3 277.3 94 279.8 95 282.5 96 285.6 96.9 288.6 96 292.9 95 295.5 94.5 296.6 94 298.5 93 300.1 92 301.6 91 303.1 90 304.6 89ZM275.7 135 275.7 135 285.6 135 285.6 135 285.6 135 275.7 135ZM394.5 91.1 403.6 92 404.4 92.1 408.3 93 411.4 94 413.8 95 414.3 95.3 420.2 96 424.2 96.5 425 97 426.1 98 426.9 99 427.3 100 427.5 101 426.9 102 424.3 103 424.2 103.1 423.7 103 415.6 102 414.3 101.8 413.6 102 411.9 103 412.1 104 412.8 105 413.7 106 414.3 106.5 418.8 107 424.2 107.6 424.5 108 425.5 109 426.7 110 428.1 111 429.6 112 431.2 113 432.7 114 434.1 115 434.1 115 434.7 116 435 117 435 118 434.8 119 434.3 120 434.1 120.4 433.5 121 432.5 122 431.5 123 430.5 124 429.5 125 428.6 126 427.7 127 426.9 128 426.2 129 425.4 130 424.7 131 424.2 131.6 414.3 131.5 413.9 132 413.2 133 412.7 134 412.4 135 412.3 136 412.3 137 412.4 138 412.6 139 413 140 413.6 141 414.3 142 416.2 141 418.9 140 423.4 139 424.2 138.9 424.3 139 425.3 140 426.1 141 426.7 142 427.1 143 427.3 144 427.3 145 427.1 146 426.7 147 425.9 148 424.7 149 424.2 149.3 421.7 150 419.7 151 418.5 152 417.7 153 417 154 416.2 155 415.3 156 414.5 157 414.3 157.3 413.4 158 412.2 159 411.1 160 409.9 161 408.6 162 407.1 163 405.4 164 404.4 164.6 403.1 165 399.4 166 394.5 167 392.1 166 389.7 165 387.3 164 384.7 163 384.6 163 384 162 383.3 161 382.7 160 382.2 159 381.7 158 381.3 157 381 156 380.8 155 380.6 154 380.5 153 380.5 152 380.5 151 380.5 150 380.6 149 380.7 148 380.7 147 380.8 146 380.8 145 380.9 144 381 143 381 142 381 141 381 140 381 139 381 138 380.9 137 380.8 136 380.7 135 380.6 134 380.4 133 380.3 132 380.2 131 380.1 130 379.9 129 379.8 128 379.7 127 379.7 126 379.6 125 379.5 124 379.5 123 379.4 122 379.3 121 379.2 120 379.2 119 379.1 118 379.1 117 379.1 116 379.1 115 379.2 114 379.4 113 379.5 112 379.7 111 380 110 380.2 109 380.4 108 380.6 107 380.8 106 380.9 105 381 104 381 103 380.8 102 380.5 101 380.3 100 380.4 99 380.6 98 380.9 97 381.3 96 381.9 95 382.7 94 383.7 93 384.6 92.3 387.2 92Z"/>
<path fill="#ff9e9e" d="M47.9 70.4 49.5 71 51.9 72 54.2 73 56.5 74 57.8 74.6 61.3 75 67.7 75.8 67.8 76 68.5 77 69.2 78 70 79 70.8 80 71.8 81 73 82 74.3 83 75.9 84 77.6 84.8 84.1 84 87.5 83 87.5 83 95.6 82 97.4 81.8 98.3 82 102.4 83 106.9 84 107.3 84.1 108.4 84 117.2 83.2 118.5 83 126.4 82 127.1 81.9 131.2 81 135.2 80 137 79.5 138.2 80 140.9 81 144.2 82 146.9 82.7 148.2 83 152.1 84 156.2 85 156.8 85.2 162.1 86 166.7 86.9 167.7 87 173.7 88 176.6 88.5 181.2 89 186.5 89.6 190.4 90 196.4 90.4 198 91 200.6 92 202.9 93 205 94 206.3 94.6 207.2 95 209.2 96 211 97 212.5 98 213.8 99 214.9 100 215.6 101 216 102 216.2 103 216.2 104 216.1 105 215.9 106 215.7 107 215.5 108 215.3 109 215.3 110 215.3 111 215.4 112 215.6 113 215.7 114 216 115 216.2 116 216.2 116.2 220.5 117 224.7 118 226.1 118.4 226.7 119 227.7 120 228.4 121 229 122 229.4 123 229.7 124 229.9 125 230 126 230.1 127 230.1 128 230.1 129 230 130 229.9 131 229.8 132 229.6 133 229.4 134 229.2 135 228.9 136 228.6 137 228.3 138 227.9 139 227.5 140 227 141 226.4 142 226.1 142.5 225.3 142 224 141 223 140 222.1 139 221.3 138 220.3 137 219.3 136 218.1 135 216.6 134 216.2 133.8 216.2 134 216 135 215.8 136 215.6 137 215.5 138 215.4 139 215.3 140 215.3 141 215.3 142 215.4 143 215.4 144 215.4 145 215.5 146 215.6 147 215.6 148 215.7 149 215.8 150 215.9 151 216 152 216 153 216.1 154 216.2 155 216.2 156 216.2 157 216.2 158 216 159 215.7 160 215.1 161 214.4 162 213.7 163 212.8 164 212 165 211.1 166 210.1 167 208.9 168 207.6 169 206.3 169.9 205.6 169 204.9 168 204.2 167 203.6 166 203.1 165 202.6 164 202.1 163 201.6 162 201.1 161 200.7 160 200.3 159 199.9 158 199.5 157 199.2 156 198.9 155 198.6 154 198.2 153 197.9 152 197.6 151 197.3 150 197 149 196.6 148 196.4 147.5 196.2 148 195.8 149 195.4 150 195.1 151 194.7 152 194.4 153 194.1 154 193.7 155 193.4 156 193.2 157 192.8 158 192.5 159 192.1 160 191.8 161 191.4 162 191.1 163 190.7 164 190.3 165 190 166 189.6 167 189.3 168 188.9 169 188.5 170 187.9 171 187.3 172 186.7 173 186.5 173.2 185.2 174 183.8 175 182.6 176 181.8 177 181 178 180.3 179 179.5 180 178.7 181 177.8 182 176.9 183 176.6 183.3 171.5 184 166.7 184.7 156.8 184.4 153.8 184 146.9 183.2 146.8 183 146.1 182 145.6 181 145.1 180 144.8 179 144.5 178 144.3 177 144.1 176 143.9 175 143.7 174 143.5 173 143.4 172 143.2 171 143 170 142.8 169 142.6 168 142.4 167 142.2 166 142 165 141.7 164 141.5 163 141.2 162 141 161 140.7 160 140.4 159 140 158 139.6 157 139.2 156 138.7 155 138.3 154 137.9 153 137.5 152 137 151 136.8 152 136.5 153 136.2 154 135.9 155 135.6 156 135.2 157 134.9 158 134.6 159 134.4 160 134.1 161 133.8 162 133.5 163 133.3 164 133 165 132.7 166 132.4 167 132.1 168 131.8 169 131.5 170 131.2 171 130.9 172 130.6 173 130.2 174 129.9 175 129.5 176 129.1 177 128.6 178 128.1 179 127.5 180 127.1 180.6 126.3 180 124.7 179 123.2 178 121.6 177 120 176 118.4 175 117.2 174.3 116.4 175 115.3 176 114.4 177 113.5 178 112.7 179 112 180 111.4 181 110.8 182 110.2 183 109.6 184 109 185 108.3 186 107.6 187 107.3 187.4 105 188 101.1 189 97.4 190 97.4 190 97.4 190 95.9 189 94.5 188 93 187 91.5 186 89.9 185 88.1 184 87.5 183.7 87.1 183 86.5 182 86 181 85.6 180 85.2 179 84.9 178 84.7 177 84.4 176 84.2 175 83.9 174 83.7 173 83.5 172 83.3 171 83.1 170 82.9 169 82.7 168 82.6 167 82.4 166 82.3 165 82.1 164 82 163 81.8 162 81.7 161 81.5 160 81.3 159 81.2 158 80.9 157 80.7 156 80.5 155 79.7 154 79.4 153 79.2 152 78.9 151 78.8 150 78.6 149 78.5 148 78.4 147 78.3 146 78.2 145 78.1 144 78 143 77.9 142 77.8 141 77.6 140 77.6 140 77.6 140 77.4 141 77.3 142 77.2 143 77.1 144 77 145 76.9 146 76.8 147 76.6 148 76.5 149 76.4 150 76.2 151 76 152 75.7 153 75.4 154 74.6 155 74.4 156 74.2 157 74 158 73.8 159 73.7 160 73.6 161 73.4 162 73.3 163 73.2 164 73.1 165 73 166 72.9 167 72.8 168 72.7 169 72.5 170 72.4 171 72.3 172 72.1 173 72 174 71.8 175 71.7 176 71.5 177 71.4 178 71.2 179 71.1 180 70.9 181 70.7 182 70.5 183 70.3 184 70.1 185 69.9 186 69.6 187 69.3 188 68.8 189 68.3 190 67.8 191 67.7 191.1 57.8 191.1 57.5 191 54.9 190 52.2 189 49 188 47.9 187.7 47.6 187 47.2 186 46.8 185 46.5 184 46.2 183 46 182 45.9 181 45.7 180 45.6 179 45.4 178 45.2 177 45.1 176 44.9 175 44.7 174 44.5 173 44.3 172 44.1 171 43.8 170 43.6 169 43.4 168 43.1 167 42.9 166 42.6 165 42.4 164 42.2 163 42 162 41.8 161 41.5 160 41.3 159 41.1 158 40.9 157 40.7 156 40.6 155 40.5 154 40.5 153 40.5 152 40.6 151 40.6 150 40.7 149 40.8 148 40.9 147 41 146 41 145 41.1 144 41.1 143 41.2 142 41.2 141 41.2 140 41.1 139 41.1 138 41 137 40.9 136 40.8 135 40.7 134 40.5 133 40.4 132 40.2 131 40.1 130 39.9 129 39.8 128 39.6 127 39.4 126 39.3 125 39.1 124 39 123 38.8 122 38.7 121 38.6 120 38.4 119 38.3 118 38.2 117 38.1 116 38.1 115 38 114 38 113 38 112 38 111 38.1 110 38.1 109 38.2 108 38.4 107 38.5 106 38.6 105 38.8 104 39 103 39.1 102 39.3 101 39.5 100 39.7 99 39.9 98 40.1 97 40.3 96 40.5 95 40.6 94 40.8 93 40.9 92 41 91 41.2 90 41.3 89 41.4 88 41.4 87 41.5 86 41.6 85 41.5 84 41.4 83 41.3 82 41.1 81 41 80 40.9 79 41 78 41.2 77 41.4 76 41.8 75 42.4 74 43.2 73 44.5 72 46.3 71ZM305.4 92.8 310.2 93 315.3 93.1 325.2 93.1 328.6 94 331.8 95 334.3 96 335.1 96.4 336.3 97 337.8 98 338.7 99 335.1 99.9 334.7 100 329.2 101 328.8 102 329.4 103 330.4 104 331.6 105 333.1 106 334.7 107 335.1 107.2 336.6 108 338.6 109 340.7 110 342.9 111 345 111.9 347 111 349.2 110 351.3 109 353.3 108 354.9 107.2 355.3 108 355.8 109 356.3 110 356.7 111 357.2 112 357.5 113 357.8 114 358 115 358.1 116 358.1 117 358.1 118 358 119 357.9 120 357.7 121 357.5 122 357.2 123 356.9 124 356.6 125 356.3 126 355.9 127 355.5 128 355.1 129 354.9 129.6 352.6 129 348.3 128 345 127.3 341.6 128 337.3 129 335.1 129.6 334.2 130 332.3 131 330.7 132 329.5 133 328.7 134 328.5 135 328.6 136 328.8 137 329.3 138 329.9 139 330.6 140 331.5 141 332.6 142 333.7 143 334.8 144 335.1 144.2 336.3 145 337.7 146 338.8 147 339.6 148 339.9 149 339.4 150 338.1 151 335.8 152 335.1 152.2 333.5 153 331.9 154 330.4 155 328.9 156 327.2 157 325.3 158 325.2 158.1 316 159 315.3 159.1 315.1 159 312.7 158 310.6 157 308.7 156 306.9 155 305.4 154.2 305.1 154 304.2 153 303.5 152 302.8 151 301.6 150 298.4 149 295.5 148.6 294.1 148 292.8 147 292.3 146 292.5 145 293.1 144 294.2 143 295.4 142 295.5 142 295.5 142 299 143 301.8 144 304.3 145 305.4 145.4 305.8 145 306.7 144 307.7 143 308.6 142 309.4 141 310.2 140 310.8 139 311.3 138 311.7 137 311.9 136 312 135 311.7 134 311 133 309.9 132 308.4 131 306.7 130 305.4 129.3 295.5 130 293 129 290.3 128 287.4 127 285.6 126.3 282 126 275.7 125.3 274.3 126 272.2 127 270 128 267.8 129 265.8 130 265.7 130 262 131 259.3 132 257.4 133 256.2 134 255.9 135 255.7 134 255.2 133 254.4 132 253.1 131 251.3 130 248.7 129 246 128.1 245.8 128 244.6 127 243.7 126 243 125 242.6 124 242.4 123 242.5 122 242.9 121 243.7 120 244.9 119 246 118.4 246.4 118 247.4 117 248.3 116 249 115 249.6 114 250.1 113 250.5 112 250.7 111 250.3 110 249.6 109 249.8 108 250.7 107 251.8 106 253.1 105 254.2 104 255.1 103 255.6 102 255.8 101 255.5 100 254.4 99 253.8 98 253.9 97 254.3 96 254.9 95 255.6 94 255.9 93.6 256.7 94 258.6 95 260.4 96 262.1 97 263.9 98 265.8 98.8 266.6 99 267.7 100 267.6 101 266.6 102 265.8 102.3 258.9 103 258.8 104 259.8 105 261 106 262.4 107 263.8 108 265.4 109 265.8 109.2 269.1 110 273.6 111 275.7 111.5 277.4 112 281.1 113 285.3 114 285.6 114 285.7 114 287.8 113 289.9 112 292 111 294 110 295.5 109.2 296.1 109 298.9 108 301.6 107 304.4 106 305.4 105.7 306.9 105 308.7 104 310.2 103 311.3 102 311.9 101 311.3 100 309.2 99 307.2 98 305.4 97.1 305.1 97 303.3 96 303.5 95 304.2 94 305.1 93ZM394.5 93.4 398 94 401.7 95 403.9 96 404.4 96.4 405.4 97 406.4 98 406.7 99 404.4 99.9 404.3 100 403.4 101 403.2 102 403.3 103 403.5 104 403.7 105 403.9 106 404.1 107 404.4 108 404.4 108 405.8 109 407.3 110 409.1 111 410.9 112 412.8 113 414.3 113.8 416.9 114 424.2 114.6 424.7 115 425.9 116 426.7 117 427.2 118 427.3 119 427.1 120 426.7 121 426.1 122 425.4 123 424.7 124 424.2 124.6 414.3 124.2 413.4 125 412.2 126 411 127 409.9 128 408.9 129 407.9 130 406.9 131 406 132 405.1 133 404.4 133.8 404.4 134 404.2 135 404.1 136 403.9 137 403.9 138 403.8 139 403.8 140 403.8 141 403.8 142 403.8 143 403.8 144 403.9 145 403.9 146 404 147 404.1 148 404.2 149 404.3 150 404.4 151 404.4 151.3 404.9 152 405.5 153 405.9 154 406.1 155 406.1 156 406 157 405.9 158 405.6 159 405 160 404.4 160.7 404.1 161 402.7 162 400.6 163 397.7 164 394.5 164.9 392.4 164 390 163 387.5 162 384.7 161 384.6 161 384 160 383.5 159 383.1 158 382.7 157 382.5 156 382.4 155 382.3 154 382.3 153 382.3 152 382.3 151 382.4 150 382.4 149 382.5 148 382.6 147 382.7 146 382.8 145 382.8 144 382.9 143 383 142 383 141 383 140 383 139 382.9 138 382.8 137 382.7 136 382.5 135 382.4 134 382.2 133 382.1 132 381.9 131 381.7 130 381.6 129 381.4 128 381.3 127 381.2 126 381.1 125 381.1 124 381 123 380.9 122 380.9 121 380.8 120 380.8 119 380.8 118 380.8 117 380.9 116 381 115 381.1 114 381.3 113 381.5 112 381.7 111 382 110 382.2 109 382.4 108 382.6 107 382.8 106 382.9 105 383 104 383 103 382.8 102 382.3 101 382.1 100 382.2 99 382.4 98 382.8 97 383.4 96 384.2 95 384.6 94.6 389.3 94ZM354.9 96.4 355.2 97 355.4 98 355.5 99 354.9 99.9 351.2 99 352.1 98 353.6 97ZM295.5 98.8 296.5 99 298.2 100 298.8 101 297.6 102 295.5 102.3 293.6 102 292.4 101 293.3 100 294.9 99ZM255.9 135 256 136 256.5 137 257.3 138 258.1 139 259.1 140 260 141 260.9 142 261.8 143 262.6 144 263.3 145 264 146 264.7 147 265.3 148 265.8 148.7 265.9 149 266.1 150 266.3 151 266.4 152 266.4 153 266.4 154 266.4 155 266.3 156 266.3 157 266.2 158 265.9 159 265.8 159.5 265.4 159 264.8 158 264.4 157 263.9 156 262.9 155 259.8 154 255.9 153.6 254.8 153 253.5 152 252.5 151 251.8 150 251.3 149 250.8 148 250.5 147 250.4 146 250.7 145 251.2 144 251.9 143 252.6 142 253.4 141 254.1 140 254.7 139 255.2 138 255.6 137 255.8 136ZM354.9 142.7 355 143 355.2 144 355.3 145 355.4 146 355.5 147 355.5 148 355.2 149 354.9 149.7 351.5 149 350.1 148 350.3 147 350.9 146 351.8 145 353 144 354.4 143Z"/>
<path fill="#ff9494" d="M47.9 72.2 49.6 73 51.5 74 53.4 75 55.6 76 57.8 76.7 60.2 77 67.7 78 67.7 78 68.5 79 69.3 80 70.2 81 71.3 82 72.6 83 74.1 84 76 85 77.6 85.7 87.5 85.1 88.5 85 96.5 84 97.4 83.9 97.9 84 102.2 85 106.6 86 107.3 86.2 109.2 86 117.2 85.3 119.7 85 127.1 84.1 127.5 84 132.8 83 136.9 82 137 82 137.1 82 140.1 83 144 84 146.9 84.6 148.3 85 152 86 156.1 87 156.8 87.2 161.1 88 166.6 89 166.7 89 172.7 90 176.6 90.6 180.4 91 186.5 91.7 191.5 92 196.4 92.3 198 93 200 94 201.8 95 203.9 96 206.3 96.9 206.5 97 208.3 98 210 99 211.4 100 212.6 101 213.4 102 213.9 103 214.1 104 214.1 105 214 106 213.9 107 213.8 108 213.7 109 213.7 110 213.8 111 213.9 112 214 113 214.2 114 214.4 115 214.6 116 214.8 117 215.1 118 215.3 119 215.5 120 215.8 121 216 122 216.1 123 216.2 124 216.2 125 216.2 126 216.1 127 216 128 215.8 129 215.6 130 215.3 131 215.1 132 214.9 133 214.7 134 214.5 135 214.3 136 214.1 137 214 138 213.9 139 213.8 140 213.8 141 213.8 142 213.8 143 213.8 144 213.8 145 213.8 146 213.8 147 213.9 148 213.9 149 213.9 150 213.9 151 213.9 152 213.9 153 213.9 154 213.9 155 213.8 156 213.7 157 213.6 158 213.3 159 212.8 160 212.2 161 211.5 162 210.8 163 210 164 209.1 165 208.2 166 207.2 167 206.3 167.7 205.9 167 205.3 166 204.7 165 204.2 164 203.8 163 203.3 162 202.8 161 202.4 160 202 159 201.6 158 201.2 157 200.9 156 200.6 155 200.3 154 200 153 199.7 152 199.4 151 199.1 150 198.8 149 198.5 148 198.2 147 197.8 146 197.5 145 197.2 144 196.8 143 196.4 142 196.4 142 196.4 142 196 143 195.5 144 195.1 145 194.7 146 194.3 147 194 148 193.6 149 193.3 150 193 151 192.7 152 192.4 153 192.1 154 191.8 155 191.5 156 191.3 157 191 158 190.7 159 190.4 160 190.1 161 189.8 162 189.4 163 189.1 164 188.8 165 188.5 166 188.2 167 187.9 168 187.6 169 187.1 170 186.6 171 186.5 171.1 184.8 172 183.1 173 181.8 174 180.8 175 180 176 179.4 177 178.8 178 178.3 179 177.6 180 176.8 181 176.6 181.2 171.3 182 166.7 182.7 156.8 182.2 155 182 146.9 181.1 146.9 181 146.4 180 146 179 145.7 178 145.5 177 145.3 176 145.1 175 144.9 174 144.7 173 144.5 172 144.3 171 144.2 170 144 169 143.8 168 143.6 167 143.4 166 143.2 165 143 164 142.8 163 142.6 162 142.4 161 142.1 160 141.8 159 141.6 158 141.2 157 140.8 156 140.4 155 140.1 154 139.7 153 139.3 152 138.9 151 138.6 150 138.2 149 137.8 148 137.3 147 137 146.4 136.9 147 136.6 148 136.4 149 136.1 150 135.9 151 135.6 152 135.4 153 135.1 154 134.8 155 134.5 156 134.2 157 133.9 158 133.6 159 133.3 160 133 161 132.8 162 132.5 163 132.2 164 131.9 165 131.6 166 131.3 167 131 168 130.7 169 130.4 170 130.1 171 129.7 172 129.4 173 129 174 128.6 175 128.2 176 127.8 177 127.3 178 127.1 178.3 126.7 178 125.2 177 123.8 176 122.3 175 120.7 174 119 173 117.2 172 115.9 173 114.7 174 113.7 175 112.8 176 112 177 111.3 178 110.7 179 110.1 180 109.6 181 109.1 182 108.6 183 108.1 184 107.5 185 107.3 185.3 104.3 186 100.3 187 97.4 187.8 96.3 187 95 186 93.7 185 92.2 184 90.5 183 88.6 182 87.5 181.5 87.3 181 86.8 180 86.4 179 86.1 178 85.8 177 85.5 176 85.3 175 85 174 84.8 173 84.5 172 84.3 171 84.1 170 83.9 169 83.7 168 83.5 167 83.4 166 83.2 165 83.1 164 82.9 163 82.8 162 82.6 161 82.4 160 82.3 159 82.1 158 81.9 157 81.7 156 81.4 155 80.7 154 80.4 153 80.2 152 80 151 79.8 150 79.7 149 79.6 148 79.4 147 79.3 146 79.2 145 79.1 144 79 143 78.9 142 78.8 141 78.7 140 78.5 139 78.3 138 78.1 137 77.9 136 77.7 135 77.6 134.3 77.5 135 77.2 136 77 137 76.8 138 76.6 139 76.4 140 76.3 141 76.1 142 76 143 75.9 144 75.8 145 75.7 146 75.6 147 75.5 148 75.4 149 75.2 150 75 151 74.8 152 74.6 153 74.3 154 73.6 155 73.4 156 73.2 157 73.1 158 72.9 159 72.8 160 72.6 161 72.5 162 72.4 163 72.3 164 72.2 165 72.1 166 72 167 71.8 168 71.7 169 71.6 170 71.5 171 71.3 172 71.2 173 71 174 70.9 175 70.7 176 70.6 177 70.4 178 70.2 179 70.1 180 69.9 181 69.7 182 69.5 183 69.3 184 69 185 68.8 186 68.5 187 68.1 188 67.7 188.9 57.8 188.9 55.4 188 52.5 187 49 186 47.9 185.7 47.6 185 47.3 184 47.1 183 47 182 46.9 181 46.7 180 46.6 179 46.5 178 46.4 177 46.3 176 46.1 175 46 174 45.8 173 45.7 172 45.5 171 45.4 170 45.2 169 45 168 44.9 167 44.7 166 44.5 165 44.4 164 44.2 163 44.1 162 43.9 161 43.7 160 43.6 159 43.4 158 43.3 157 43.1 156 43 155 43 154 43 153 43 152 43 151 43 150 43 149 43.1 148 43.1 147 43.1 146 43.2 145 43.2 144 43.2 143 43.2 142 43.2 141 43.1 140 43.1 139 43 138 42.9 137 42.8 136 42.7 135 42.5 134 42.4 133 42.3 132 42.1 131 41.9 130 41.8 129 41.6 128 41.4 127 41.3 126 41.1 125 41 124 40.8 123 40.7 122 40.6 121 40.4 120 40.3 119 40.2 118 40.2 117 40.1 116 40.1 115 40 114 40 113 40.1 112 40.1 111 40.2 110 40.3 109 40.4 108 40.5 107 40.6 106 40.8 105 41 104 41.1 103 41.3 102 41.5 101 41.7 100 41.9 99 42.1 98 42.3 97 42.5 96 42.6 95 42.8 94 43 93 43.1 92 43.2 91 43.3 90 43.4 89 43.5 88 43.6 87 43.7 86 43.8 85 43.8 84 43.8 83 43.8 82 43.7 81 43.7 80 43.8 79 43.9 78 44.2 77 44.5 76 44.9 75 45.6 74 46.7 73ZM394.5 95.8 395.1 96 397.7 97 399.2 98 400.1 99 400.1 100 400 101 400.1 102 400.5 103 400.8 104 401.1 105 401.4 106 401.7 107 402 108 402.3 109 402.6 110 402.9 111 403.2 112 403.5 113 403.8 114 404 115 404.2 116 404.4 116.7 404.8 117 405.8 118 406.4 119 406.7 120 406.7 121 406.4 122 405.8 123 405.2 124 404.5 125 404.4 125.1 404.2 126 404.1 127 403.9 128 403.7 129 403.5 130 403.3 131 403.1 132 403 133 402.8 134 402.7 135 402.5 136 402.4 137 402.3 138 402.3 139 402.2 140 402.2 141 402.2 142 402.2 143 402.2 144 402.2 145 402.2 146 402.2 147 402.2 148 402.2 149 402.2 150 402.2 151 402.2 152 402.2 153 402.1 154 402 155 401.8 156 401.6 157 401.2 158 400.7 159 399.7 160 398.2 161 396.1 162 394.5 162.6 393.1 162 390.7 161 388.2 160 385.7 159 384.6 158.4 384.4 158 384.1 157 384 156 384 155 384 154 384 153 384 152 384.1 151 384.2 150 384.3 149 384.4 148 384.5 147 384.6 146.2 384.6 146 384.7 145 384.8 144 384.9 143 384.9 142 385 141 385 140 384.9 139 384.9 138 384.7 137 384.6 136 384.6 135.9 384.4 135 384.2 134 384 133 383.8 132 383.6 131 383.4 130 383.2 129 383.1 128 382.9 127 382.8 126 382.7 125 382.6 124 382.5 123 382.4 122 382.4 121 382.4 120 382.4 119 382.5 118 382.6 117 382.7 116 382.8 115 383 114 383.2 113 383.5 112 383.7 111 384 110 384.2 109 384.4 108 384.6 107.1 384.6 107 384.9 106 385.1 105 385.3 104 385.4 103 384.8 102 384.6 101.8 384.1 101 383.9 100 384 99 384.3 98 384.6 97.3 386.3 97 393.1 96ZM315.3 109.2 325.2 109.2 326.7 110 328.6 111 330.4 112 332.2 113 333.9 114 335.1 114.7 335.5 115 337.1 116 338.5 117 339.5 118 339.9 119 339.4 120 337.9 121 335.3 122 335.1 122.1 333.3 123 331 124 328.6 125 326.2 126 325.2 126.4 315.3 126.4 314.4 126 312.2 125 310.1 124 308.1 123 306.4 122 305.4 121.3 301.4 122 295.5 123 295.5 123 295.5 123 293.8 122 292.7 121 292.2 120 292.4 119 293.1 118 294.3 117 295.5 116.2 296.6 116 301 115 304.3 114 305.4 113.7 306.5 113 308.5 112 310.8 111 313.2 110ZM255.9 110.7 256.5 111 258.2 112 259.9 113 261.7 114 263.5 115 265.4 116 265.8 116.2 267.3 117 268.5 118 268.9 119 268.8 120 268.2 121 267.1 122 265.8 123 265.8 123 261 124 255.9 125 253.6 124 252.1 123 251.5 122 251.4 121 251.6 120 251.9 119 252.3 118 252.7 117 253.2 116 253.6 115 254.1 114 254.5 113 255 112 255.6 111ZM354.9 114.7 355 115 355.2 116 355.3 117 355.4 118 355.4 119 355.3 120 355.1 121 354.9 122 354.9 122.1 354.7 122 352.1 121 350.5 120 350.1 119 350.5 118 351.5 117 352.8 116 354.4 115Z"/>
<path fill="#ff8a8a" d="M47.9 75.2 48.6 76 50 77 52.5 78 57.8 78.8 59.5 79 67.7 80 67.7 80 68.6 81 69.6 82 70.8 83 72.2 84 74 85 76.1 86 77.6 86.7 84.3 87 87.5 87.3 90 87 97.4 86.1 101.3 87 105.4 88 107.3 88.5 110.6 88 117.2 87.3 119.6 87 127.1 86.1 128.6 86 137 85 141 86 145.7 87 146.9 87.3 149.2 88 153.3 89 156.8 89.7 158.4 90 166.7 90.9 167.5 91 175.8 92 176.6 92.1 185.2 93 186.5 93.2 194 94 196.4 95 196.4 95 197.9 96 199.7 97 202.1 98 205.7 99 206.3 99.1 208 100 209.6 101 210.8 102 211.6 103 212 104 212.2 105 212.2 106 212.1 107 212.1 108 212.1 109 212.1 110 212.2 111 212.3 112 212.5 113 212.6 114 212.8 115 213 116 213.2 117 213.4 118 213.6 119 213.8 120 214 121 214.2 122 214.3 123 214.4 124 214.5 125 214.4 126 214.4 127 214.2 128 214.1 129 213.9 130 213.7 131 213.5 132 213.3 133 213.1 134 212.9 135 212.8 136 212.6 137 212.5 138 212.4 139 212.3 140 212.3 141 212.3 142 212.2 143 212.2 144 212.2 145 212.1 146 212.1 147 212.1 148 212 149 212 150 212 151 211.9 152 211.8 153 211.7 154 211.6 155 211.4 156 211.2 157 210.9 158 210.5 159 210 160 209.3 161 208.6 162 207.9 163 207.1 164 206.3 164.9 205.9 164 205.5 163 205 162 204.6 161 204.1 160 203.7 159 203.3 158 203 157 202.7 156 202.4 155 202 154 201.8 153 201.5 152 201.2 151 200.9 150 200.6 149 200.3 148 200.1 147 199.8 146 199.5 145 199.1 144 198.8 143 198.5 142 198.1 141 197.7 140 197.3 139 196.8 138 196.4 137.3 195.9 138 195.3 139 194.7 140 194.2 141 193.8 142 193.4 143 193 144 192.7 145 192.3 146 192 147 191.7 148 191.4 149 191.2 150 190.9 151 190.6 152 190.4 153 190.1 154 189.9 155 189.6 156 189.4 157 189.2 158 188.9 159 188.6 160 188.4 161 188.1 162 187.8 163 187.6 164 187.3 165 187 166 186.8 167 186.5 168 186.5 168 184.9 169 183.1 170 181.6 171 180.3 172 179.3 173 178.5 174 177.9 175 177.4 176 177 177 176.6 178 176.6 178 167.8 179 166.7 179.2 156.8 179.3 154.6 179 146.9 178 146.9 178 146.7 177 146.5 176 146.3 175 146.1 174 145.9 173 145.7 172 145.5 171 145.4 170 145.2 169 145 168 144.8 167 144.7 166 144.5 165 144.3 164 144.1 163 143.9 162 143.7 161 143.5 160 143.3 159 143.1 158 142.8 157 142.5 156 142.1 155 141.8 154 141.5 153 141.2 152 140.9 151 140.5 150 140.2 149 139.8 148 139.5 147 139.1 146 138.6 145 138.1 144 137.6 143 137 142 137 142 137 142 136.7 143 136.4 144 136.1 145 135.9 146 135.6 147 135.4 148 135.2 149 134.9 150 134.7 151 134.5 152 134.2 153 134 154 133.7 155 133.4 156 133.1 157 132.8 158 132.6 159 132.3 160 132 161 131.7 162 131.5 163 131.2 164 130.9 165 130.6 166 130.3 167 130 168 129.6 169 129.3 170 129 171 128.6 172 128.2 173 127.8 174 127.4 175 127.1 175.7 126.2 175 124.7 174 123.2 173 121.5 172 119.8 171 118 170 117.2 169.6 116.5 170 114.9 171 113.7 172 112.6 173 111.7 174 111 175 110.3 176 109.7 177 109.1 178 108.6 179 108.2 180 107.8 181 107.4 182 107.3 182.3 105 183 101.1 184 97.4 185 96.3 184 94.9 183 93.4 182 91.7 181 89.9 180 88 179 87.5 178.7 87.3 178 87 177 86.6 176 86.4 175 86.1 174 85.8 173 85.6 172 85.3 171 85.1 170 84.9 169 84.7 168 84.5 167 84.3 166 84.2 165 84 164 83.8 163 83.7 162 83.5 161 83.4 160 83.2 159 83 158 82.8 157 82.6 156 82.4 155 81.7 154 81.5 153 81.3 152 81.1 151 80.9 150 80.7 149 80.6 148 80.5 147 80.4 146 80.3 145 80.2 144 80.1 143 80 142 79.8 141 79.7 140 79.5 139 79.4 138 79.2 137 79 136 78.8 135 78.6 134 78.4 133 78.2 132 78 131 77.8 130 77.6 129.4 77.4 130 77.2 131 76.9 132 76.7 133 76.4 134 76.2 135 76 136 75.8 137 75.6 138 75.4 139 75.3 140 75.1 141 75 142 74.8 143 74.7 144 74.6 145 74.5 146 74.4 147 74.3 148 74.2 149 74 150 73.9 151 73.7 152 73.5 153 73.3 154 72.7 155 72.5 156 72.3 157 72.1 158 72 159 71.8 160 71.7 161 71.6 162 71.5 163 71.4 164 71.2 165 71.1 166 71 167 70.9 168 70.8 169 70.6 170 70.5 171 70.4 172 70.2 173 70.1 174 69.9 175 69.7 176 69.6 177 69.4 178 69.2 179 69 180 68.8 181 68.6 182 68.4 183 68.2 184 68 185 67.7 186 57.8 186 55.2 185 52 184 49 183 47.9 182.2 47.9 182 47.8 181 47.7 180 47.7 179 47.6 178 47.5 177 47.4 176 47.4 175 47.3 174 47.2 173 47.1 172 47 171 46.9 170 46.8 169 46.7 168 46.6 167 46.5 166 46.4 165 46.3 164 46.2 163 46.2 162 46.1 161 46 160 45.9 159 45.8 158 45.7 157 45.6 156 45.5 155 45.5 154 45.4 153 45.4 152 45.4 151 45.4 150 45.4 149 45.4 148 45.3 147 45.3 146 45.3 145 45.3 144 45.3 143 45.2 142 45.2 141 45.1 140 45.1 139 45 138 44.8 137 44.7 136 44.6 135 44.4 134 44.3 133 44.1 132 44 131 43.8 130 43.6 129 43.5 128 43.3 127 43.1 126 43 125 42.8 124 42.7 123 42.6 122 42.4 121 42.3 120 42.2 119 42.2 118 42.1 117 42.1 116 42 115 42 114 42.1 113 42.1 112 42.2 111 42.3 110 42.4 109 42.5 108 42.6 107 42.8 106 43 105 43.1 104 43.3 103 43.5 102 43.7 101 43.9 100 44.1 99 44.3 98 44.5 97 44.7 96 44.8 95 45 94 45.1 93 45.3 92 45.4 91 45.5 90 45.6 89 45.7 88 45.8 87 45.9 86 46 85 46.1 84 46.1 83 46.2 82 46.3 81 46.5 80 46.6 79 46.9 78 47.2 77 47.6 76ZM394.5 98.8 394.8 99 395.9 100 396.5 101 397.1 102 397.6 103 398.1 104 398.5 105 398.9 106 399.3 107 399.6 108 400 109 400.3 110 400.6 111 400.9 112 401.2 113 401.5 114 401.7 115 402 116 402.2 117 402.4 118 402.5 119 402.6 120 402.7 121 402.7 122 402.7 123 402.6 124 402.5 125 402.4 126 402.3 127 402.1 128 402 129 401.8 130 401.7 131 401.5 132 401.4 133 401.2 134 401.1 135 401 136 400.9 137 400.8 138 400.7 139 400.7 140 400.6 141 400.6 142 400.5 143 400.5 144 400.4 145 400.4 146 400.3 147 400.3 148 400.2 149 400.2 150 400.1 151 400 152 399.8 153 399.5 154 399.2 155 398.7 156 398.1 157 397.2 158 396.1 159 394.5 160 392.2 159 390.1 158 388.5 157 387.6 156 387.2 155 387 154 386.8 153 386.8 152 386.8 151 386.8 150 386.8 149 386.8 148 386.9 147 386.9 146 386.9 145 386.9 144 386.9 143 386.9 142 386.9 141 386.9 140 386.8 139 386.7 138 386.6 137 386.5 136 386.3 135 386.1 134 385.9 133 385.7 132 385.5 131 385.2 130 385 129 384.7 128 384.6 127.5 384.5 127 384.3 126 384.2 125 384.1 124 384 123 384 122 384 121 384 120 384.1 119 384.2 118 384.3 117 384.5 116 384.6 115.5 384.8 115 385.1 114 385.5 113 385.9 112 386.3 111 386.7 110 387.1 109 387.5 108 387.9 107 388.3 106 388.8 105 389.2 104 389.7 103 390 102 390.1 101 391 100 393.7 99Z"/>
<path fill="#ff8080" d="M57.8 80.7 60.7 81 67.7 81.7 68 82 69.1 83 70.4 84 72 85 73.9 86 75.9 87 77.6 88 77.6 88 84.9 89 87.5 89.4 91 89 97.4 88.3 100.4 89 104.1 90 107.3 91 110.6 90 116.6 89 117.2 88.9 125.7 88 127.1 87.8 131.2 88 137 88.5 139 89 142.6 90 145.6 91 146.9 91.5 149.6 92 156.8 93 166.7 92.2 176.6 92.9 177.8 93 186.1 94 186.5 94 192.7 95 194.4 96 195 97 195.7 98 196.2 99 196.4 99.4 198.3 100 206.3 100.9 206.6 101 208.2 102 209.3 103 210 104 210.2 105 210.3 106 210.4 107 210.4 108 210.5 109 210.5 110 210.6 111 210.8 112 210.9 113 211.1 114 211.2 115 211.4 116 211.6 117 211.8 118 212 119 212.2 120 212.3 121 212.5 122 212.6 123 212.7 124 212.7 125 212.7 126 212.6 127 212.5 128 212.4 129 212.2 130 212.1 131 211.9 132 211.8 133 211.6 134 211.4 135 211.3 136 211.1 137 211 138 210.9 139 210.8 140 210.8 141 210.7 142 210.6 143 210.6 144 210.5 145 210.4 146 210.4 147 210.3 148 210.2 149 210.1 150 210 151 209.9 152 209.7 153 209.5 154 209.3 155 209 156 208.7 157 208.2 158 207.7 159 207.1 160 206.4 161 206.3 161.1 206.3 161 205.9 160 205.5 159 205.1 158 204.7 157 204.4 156 204.1 155 203.8 154 203.5 153 203.2 152 203 151 202.7 150 202.5 149 202.2 148 201.9 147 201.7 146 201.4 145 201.1 144 200.8 143 200.5 142 200.2 141 199.9 140 199.5 139 199.1 138 198.6 137 198.1 136 197.6 135 197.1 134 196.5 133 196.4 133 196.4 133 195.5 134 194.7 135 194 136 193.3 137 192.8 138 192.3 139 191.8 140 191.4 141 191.1 142 190.8 143 190.5 144 190.2 145 190 146 189.7 147 189.5 148 189.2 149 189 150 188.8 151 188.6 152 188.4 153 188.2 154 187.9 155 187.7 156 187.5 157 187.3 158 187.1 159 186.9 160 186.6 161 186.5 161.5 185.8 162 184.3 163 183 164 181.7 165 180.6 166 179.6 167 178.6 168 177.7 169 176.9 170 176.6 170.4 175.6 170 173.5 169 171.9 168 170.7 167 169.8 166 169 165 168.4 164 167.9 163 167.4 162 167.1 161 166.7 160 166.7 160 166.7 160 166.6 161 166.5 162 166.3 163 166.1 164 165.9 165 165.6 166 165.3 167 164.9 168 164.4 169 163.8 170 163.1 171 162.1 172 160.8 173 159 174 156.8 174.9 152.9 174 149.2 173 146.9 172.3 146.9 172 146.7 171 146.5 170 146.4 169 146.2 168 146.1 167 145.9 166 145.8 165 145.6 164 145.5 163 145.3 162 145.1 161 145 160 144.8 159 144.6 158 144.4 157 144.1 156 143.9 155 143.6 154 143.3 153 143.1 152 142.8 151 142.5 150 142.2 149 141.9 148 141.6 147 141.2 146 140.9 145 140.4 144 140 143 139.5 142 138.9 141 138.1 140 137.2 139 137 138.8 136.9 139 136.4 140 136 141 135.7 142 135.4 143 135.1 144 134.8 145 134.6 146 134.4 147 134.2 148 134 149 133.7 150 133.5 151 133.3 152 133.1 153 132.9 154 132.6 155 132.4 156 132.1 157 131.8 158 131.5 159 131.2 160 131 161 130.7 162 130.4 163 130.1 164 129.8 165 129.5 166 129.2 167 128.9 168 128.6 169 128.2 170 127.8 171 127.5 172 127.1 172.8 125.9 172 124.3 171 122.6 170 120.8 169 118.9 168 117.2 167.2 115.2 168 113.3 169 112 170 111 171 110.1 172 109.4 173 108.8 174 108.2 175 107.8 176 107.3 177 107.3 177 105.7 178 103.7 179 101.4 180 98.6 181 97.4 181.4 96.9 181 95.4 180 93.9 179 92.3 178 90.6 177 88.9 176 87.5 175.2 87.5 175 87.2 174 86.9 173 86.6 172 86.4 171 86.1 170 85.9 169 85.7 168 85.5 167 85.3 166 85.1 165 85 164 84.8 163 84.6 162 84.4 161 84.3 160 84.1 159 83.9 158 83.7 157 83.5 156 83.3 155 82.8 154 82.5 153 82.3 152 82.1 151 82 150 81.8 149 81.7 148 81.6 147 81.4 146 81.3 145 81.2 144 81.1 143 81 142 80.9 141 80.7 140 80.6 139 80.4 138 80.2 137 80.1 136 79.9 135 79.7 134 79.5 133 79.3 132 79.1 131 78.9 130 78.7 129 78.4 128 78.2 127 77.9 126 77.6 125 77.6 125 77.6 125 77.3 126 76.9 127 76.6 128 76.4 129 76.1 130 75.8 131 75.6 132 75.4 133 75.2 134 75 135 74.8 136 74.6 137 74.4 138 74.2 139 74.1 140 73.9 141 73.8 142 73.7 143 73.6 144 73.5 145 73.4 146 73.3 147 73.2 148 73 149 72.9 150 72.7 151 72.6 152 72.4 153 72.2 154 71.7 155 71.5 156 71.3 157 71.2 158 71 159 70.9 160 70.8 161 70.7 162 70.5 163 70.4 164 70.3 165 70.2 166 70.1 167 70 168 69.8 169 69.7 170 69.6 171 69.4 172 69.3 173 69.1 174 68.9 175 68.8 176 68.6 177 68.4 178 68.2 179 68 180 67.8 181 67.7 181.6 57.8 181.6 56.6 181 55 180 53.8 179 52.8 178 52.1 177 51.4 176 50.9 175 50.5 174 50.1 173 49.8 172 49.6 171 49.4 170 49.2 169 49 168 48.9 167 48.8 166 48.6 165 48.5 164 48.5 163 48.4 162 48.3 161 48.3 160 48.2 159 48.1 158 48.1 157 48 156 48 155 47.9 154 47.9 153.1 47.9 153 47.8 152 47.8 151 47.7 150 47.7 149 47.6 148 47.6 147 47.5 146 47.5 145 47.4 144 47.3 143 47.3 142 47.2 141 47.1 140 47 139 46.9 138 46.8 137 46.6 136 46.5 135 46.3 134 46.2 133 46 132 45.8 131 45.7 130 45.5 129 45.3 128 45.1 127 45 126 44.8 125 44.7 124 44.5 123 44.4 122 44.3 121 44.2 120 44.1 119 44.1 118 44 117 44 116 44 115 44 114 44.1 113 44.1 112 44.2 111 44.3 110 44.5 109 44.6 108 44.8 107 44.9 106 45.1 105 45.3 104 45.5 103 45.7 102 45.9 101 46.1 100 46.3 99 46.5 98 46.7 97 46.9 96 47 95 47.2 94 47.3 93 47.4 92 47.6 91 47.7 90 47.8 89 47.9 88 47.9 87.7 48 87 48.2 86 48.4 85 48.8 84 49.4 83 50.8 82 54.6 81ZM394.5 102.6 394.8 103 395.4 104 396 105 396.4 106 396.9 107 397.3 108 397.7 109 398 110 398.3 111 398.6 112 398.9 113 399.2 114 399.4 115 399.7 116 399.9 117 400.1 118 400.3 119 400.5 120 400.6 121 400.6 122 400.6 123 400.6 124 400.6 125 400.5 126 400.4 127 400.4 128 400.3 129 400.1 130 400 131 399.9 132 399.8 133 399.7 134 399.6 135 399.5 136 399.4 137 399.3 138 399.2 139 399.1 140 399 141 399 142 398.9 143 398.8 144 398.7 145 398.6 146 398.5 147 398.4 148 398.3 149 398.2 150 398 151 397.7 152 397.4 153 396.9 154 396.3 155 395.6 156 394.6 157 394.5 157.1 394.3 157 392.7 156 391.6 155 390.8 154 390.3 153 389.9 152 389.7 151 389.5 150 389.4 149 389.3 148 389.2 147 389.2 146 389.1 145 389.1 144 389 143 388.9 142 388.9 141 388.8 140 388.7 139 388.6 138 388.5 137 388.4 136 388.2 135 388.1 134 387.9 133 387.7 132 387.5 131 387.3 130 387.1 129 387 128 386.8 127 386.6 126 386.5 125 386.4 124 386.3 123 386.3 122 386.3 121 386.4 120 386.6 119 386.9 118 387.1 117 387.5 116 387.8 115 388.2 114 388.6 113 389 112 389.4 111 389.8 110 390.2 109 390.7 108 391.2 107 391.8 106 392.4 105 393.1 104 394 103Z"/>
<path fill="#ff7575" d="M57.8 82.4 64.2 83 67.7 83.3 68.6 84 70 85 71.7 86 73.5 87 75.1 88 76.4 89 77.6 89.9 78.1 90 84.9 91 87.5 91.4 91.3 91 97.4 90.4 99.8 91 103.1 92 106.1 93 107.3 93.5 108.1 93 110.4 92 113.8 91 117.2 90.3 120.7 90 127.1 89.4 131.3 90 134.9 91 136.8 92 137 92.1 139.4 93 141.8 94 143.8 95 145.6 96 146.9 96.9 156.8 96.8 159.9 96 163.4 95 166.4 94 166.7 94 176.6 93.5 181.1 94 186.5 94.6 188.9 95 191.7 96 192.4 97 193 98 193.5 99 194.1 100 194.6 101 195 102 195.4 103 195.8 104 196 105 196.3 106 196.4 107 196.4 108 196.4 109 196.4 110 196.4 111 196.4 112 196.4 113 196.4 114 196.4 115 196.4 116 196.4 117 196.4 118 196.4 119 196.4 120 196.4 121 196.4 122 196.4 123 196.4 124 196.4 125 196.3 126 196 127 195.6 128 194.9 129 194.2 130 193.5 131 192.8 132 192.1 133 191.5 134 190.9 135 190.4 136 190 137 189.6 138 189.3 139 188.9 140 188.7 141 188.4 142 188.2 143 188 144 187.8 145 187.6 146 187.4 147 187.2 148 187 149 186.9 150 186.7 151 186.5 152 186.5 152 184.5 153 182.8 154 181.2 155 179.8 156 178.6 157 177.4 158 176.6 158.8 176.1 158 175.5 157 175 156 174.6 155 174.2 154 173.8 153 173.4 152 173.1 151 172.8 150 172.5 149 172.2 148 172 147 171.7 146 171.5 145 171.3 144 171.1 143 170.8 142 170.6 141 170.4 140 170.2 139 170 138 169.8 137 169.5 136 169.3 135 169.1 134 168.9 133 168.6 132 168.4 131 168.1 130 167.8 129 167.6 128 167.3 127 167 126 166.7 125 166.7 125 166.7 125 166.6 126 166.5 127 166.3 128 166.2 129 166.1 130 166 131 166 132 165.9 133 165.8 134 165.7 135 165.6 136 165.5 137 165.5 138 165.4 139 165.3 140 165.2 141 165.1 142 165 143 164.9 144 164.8 145 164.7 146 164.6 147 164.5 148 164.4 149 164.3 150 164.2 151 164 152 163.9 153 163.7 154 163.6 155 163.4 156 163.2 157 163 158 162.7 159 162.5 160 162.2 161 161.8 162 161.4 163 161 164 160.5 165 159.9 166 159.2 167 158.4 168 157.4 169 156.8 169.4 155.7 169 153.3 168 151.3 167 149.6 166 148.1 165 146.9 164.1 146.9 164 146.8 163 146.6 162 146.5 161 146.4 160 146.2 159 146.1 158 145.9 157 145.7 156 145.6 155 145.4 154 145.2 153 145 152 144.7 151 144.5 150 144.3 149 144 148 143.7 147 143.4 146 143.1 145 142.8 144 142.4 143 142 142 141.5 141 140.8 140 140.1 139 139.2 138 138.1 137 137 136.2 136.5 137 135.9 138 135.4 139 135 140 134.6 141 134.3 142 134 143 133.8 144 133.6 145 133.4 146 133.1 147 132.9 148 132.8 149 132.6 150 132.4 151 132.2 152 132 153 131.8 154 131.5 155 131.3 156 131 157 130.7 158 130.5 159 130.2 160 129.9 161 129.7 162 129.4 163 129.1 164 128.8 165 128.5 166 128.2 167 127.8 168 127.5 169 127.1 169.9 125.6 169 123.9 168 122 167 119.8 166 117.2 165 112.6 166 110.4 167 109.1 168 108.2 169 107.5 170 107.3 170.3 106.8 171 105.8 172 104.7 173 103.4 174 102 175 100.3 176 98.3 177 97.4 177.4 96.8 177 95.3 176 93.7 175 92.1 174 90.4 173 88.6 172 87.5 171.4 87.4 171 87.2 170 86.9 169 86.7 168 86.5 167 86.3 166 86.1 165 85.9 164 85.7 163 85.5 162 85.4 161 85.2 160 85 159 84.8 158 84.7 157 84.5 156 84.3 155 83.8 154 83.6 153 83.4 152 83.2 151 83 150 82.9 149 82.7 148 82.6 147 82.5 146 82.4 145 82.3 144 82.2 143 82 142 81.9 141 81.8 140 81.6 139 81.5 138 81.3 137 81.1 136 81 135 80.8 134 80.6 133 80.4 132 80.2 131 80 130 79.8 129 79.6 128 79.4 127 79.1 126 78.9 125 78.5 124 78.1 123 77.6 122 77.6 121.9 77.6 122 77 123 76.5 124 76.1 125 75.8 126 75.5 127 75.3 128 75 129 74.8 130 74.5 131 74.3 132 74.1 133 73.9 134 73.7 135 73.6 136 73.4 137 73.2 138 73 139 72.9 140 72.8 141 72.6 142 72.5 143 72.4 144 72.3 145 72.2 146 72.1 147 72 148 71.9 149 71.7 150 71.6 151 71.4 152 71.3 153 71.1 154 70.7 155 70.5 156 70.4 157 70.2 158 70.1 159 70 160 69.9 161 69.7 162 69.6 163 69.5 164 69.4 165 69.3 166 69.2 167 69 168 68.9 169 68.8 170 68.6 171 68.5 172 68.3 173 68.1 174 68 175 67.8 176 67.7 176.5 57.8 176.5 57.2 176 56.3 175 55.5 174 54.9 173 54.3 172 53.8 171 53.4 170 53 169 52.7 168 52.4 167 52.1 166 51.9 165 51.7 164 51.5 163 51.3 162 51.2 161 51 160 50.9 159 50.8 158 50.7 157 50.5 156 50.4 155 50.3 154 50.3 153 50.2 152 50.1 151 50 150 49.9 149 49.8 148 49.7 147 49.6 146 49.6 145 49.5 144 49.4 143 49.3 142 49.2 141 49.1 140 49 139 48.9 138 48.7 137 48.6 136 48.4 135 48.2 134 48 133 47.9 132.2 47.9 132 47.7 131 47.5 130 47.3 129 47.2 128 47 127 46.8 126 46.7 125 46.5 124 46.4 123 46.3 122 46.2 121 46.1 120 46 119 46 118 46 117 46 116 46 115 46 114 46.1 113 46.2 112 46.3 111 46.4 110 46.6 109 46.7 108 46.9 107 47.1 106 47.3 105 47.5 104 47.7 103 47.9 102 47.9 102 48.1 101 48.2 100 48.4 99 48.6 98 48.7 97 48.9 96 49 95 49.1 94 49.3 93 49.4 92 49.5 91 49.7 90 50 89 50.3 88 50.7 87 51.2 86 52.1 85 53.3 84 55.5 83ZM206.3 102.5 207 103 207.9 104 208.3 105 208.5 106 208.6 107 208.7 108 208.8 109 208.9 110 209.1 111 209.2 112 209.4 113 209.5 114 209.7 115 209.8 116 210 117 210.1 118 210.3 119 210.5 120 210.6 121 210.7 122 210.8 123 210.9 124 210.9 125 210.9 126 210.9 127 210.8 128 210.7 129 210.6 130 210.5 131 210.3 132 210.2 133 210.1 134 209.9 135 209.8 136 209.7 137 209.5 138 209.4 139 209.3 140 209.3 141 209.2 142 209.1 143 209 144 208.9 145 208.8 146 208.6 147 208.5 148 208.4 149 208.2 150 208.1 151 207.9 152 207.6 153 207.3 154 207 155 206.6 156 206.3 156.6 206.1 156 205.8 155 205.5 154 205.3 153 205 152 204.8 151 204.5 150 204.3 149 204.1 148 203.8 147 203.6 146 203.4 145 203.1 144 202.9 143 202.6 142 202.3 141 202 140 201.7 139 201.4 138 201 137 200.6 136 200.2 135 199.8 134 199.3 133 198.8 132 198.4 131 197.9 130 197.4 129 197 128 196.7 127 196.5 126 196.4 125 196.4 124 196.4 123 196.4 122 196.4 121 196.4 120 196.4 119 196.4 118 196.4 117 196.4 116 196.4 115 196.4 114 196.4 113 196.4 112 196.4 111 196.4 110 196.4 109 196.4 108 196.6 107 197 106 197.7 105 198.9 104 202.1 103ZM394.5 107 394.9 108 395.3 109 395.7 110 396 111 396.3 112 396.6 113 396.9 114 397.2 115 397.4 116 397.7 117 397.9 118 398.1 119 398.3 120 398.4 121 398.5 122 398.6 123 398.6 124 398.7 125 398.7 126 398.6 127 398.6 128 398.5 129 398.5 130 398.4 131 398.3 132 398.2 133 398.1 134 398 135 397.9 136 397.8 137 397.7 138 397.6 139 397.6 140 397.5 141 397.3 142 397.2 143 397.1 144 397 145 396.8 146 396.7 147 396.5 148 396.3 149 396.1 150 395.9 151 395.5 152 395 153 394.5 153.8 393.8 153 393.1 152 392.6 151 392.3 150 392 149 391.8 148 391.6 147 391.5 146 391.3 145 391.2 144 391 143 390.9 142 390.8 141 390.7 140 390.6 139 390.5 138 390.4 137 390.2 136 390.1 135 390 134 389.8 133 389.7 132 389.6 131 389.4 130 389.3 129 389.2 128 389.1 127 389 126 389 125 389 124 389 123 389.1 122 389.2 121 389.4 120 389.6 119 389.9 118 390.2 117 390.5 116 390.9 115 391.3 114 391.7 113 392 112 392.4 111 392.9 110 393.4 109 393.9 108Z"/>
<path fill="#ff6b6b" d="M57.8 84 67.7 84.8 68 85 69.4 86 71.1 87 72.6 88 73.9 89 75.1 90 76.3 91 77.6 92 77.6 92 84.6 93 87.5 93.3 91.3 93 97.4 92.4 99.2 93 102.2 94 104.7 95 106.9 96 107.3 96.2 107.6 96 108.9 95 110.5 94 112.6 93 115.7 92 117.2 91.6 125.4 91 127.1 90.9 127.8 91 131.3 92 133.5 93 134.9 94 136 95 136.8 96 137 96.3 138.2 97 139.8 98 141.2 99 142.4 100 143.4 101 144.5 102 145.5 103 146.5 104 146.9 104.4 147.7 104 150.1 103 153.3 102 156.8 101.2 159 101 165.8 100 166.7 99.8 167.3 99 168.1 98 168.9 97 170 96 171.1 95 176.6 94.1 183.8 95 186.5 95.3 188.9 96 189.7 97 190.3 98 190.9 99 191.4 100 191.8 101 192.3 102 192.6 103 193 104 193.2 105 193.5 106 193.6 107 193.7 108 193.7 109 193.7 110 193.7 111 193.7 112 193.6 113 193.6 114 193.5 115 193.4 116 193.2 117 193.1 118 192.9 119 192.7 120 192.5 121 192.3 122 192 123 191.7 124 191.5 125 191.2 126 190.8 127 190.3 128 189.8 129 189.2 130 188.7 131 188.3 132 187.9 133 187.5 134 187.2 135 186.9 136 186.6 137 186.5 137.5 183.8 138 179.4 139 176.6 139.7 176.4 139 176.1 138 175.8 137 175.4 136 175.1 135 174.8 134 174.5 133 174.1 132 173.8 131 173.5 130 173.1 129 172.8 128 172.4 127 172.1 126 171.7 125 171.3 124 170.8 123 170.2 122 169.6 121 169 120 168.3 119 167.6 118 167 117 166.7 116.6 166.5 117 166 118 165.5 119 165.2 120 164.8 121 164.6 122 164.4 123 164.3 124 164.2 125 164.1 126 164 127 163.9 128 163.9 129 163.8 130 163.7 131 163.7 132 163.6 133 163.5 134 163.4 135 163.3 136 163.2 137 163.1 138 163 139 162.8 140 162.7 141 162.6 142 162.4 143 162.3 144 162.1 145 161.9 146 161.8 147 161.6 148 161.4 149 161.2 150 161 151 160.8 152 160.5 153 160.3 154 160 155 159.7 156 159.4 157 159 158 158.6 159 158.2 160 157.7 161 157.2 162 156.8 162.6 156 162 154.6 161 153.4 160 152.3 159 151.3 158 150.4 157 149.6 156 148.7 155 148 154 147.2 153 146.9 152.6 146.8 152 146.7 151 146.5 150 146.3 149 146.1 148 145.9 147 145.6 146 145.4 145 145.1 144 144.8 143 144.4 142 144 141 143.6 140 143 139 142.4 138 141.6 137 140.6 136 139.5 135 138 134 137 133.4 136.6 134 136 135 135.4 136 134.8 137 134.4 138 133.9 139 133.5 140 133.2 141 132.9 142 132.7 143 132.5 144 132.3 145 132.1 146 131.9 147 131.7 148 131.6 149 131.4 150 131.2 151 131 152 130.8 153 130.6 154 130.4 155 130.2 156 129.9 157 129.7 158 129.4 159 129.2 160 128.9 161 128.6 162 128.4 163 128.1 164 127.7 165 127.4 166 127.1 166.9 125.5 166 123.4 165 121 164 118 163 117.2 162.8 109 162 107.3 161.3 107 162 106.5 163 106 164 105.4 165 104.8 166 104.1 167 103.3 168 102.4 169 101.4 170 100.3 171 99 172 97.5 173 97.4 173.1 97.3 173 95.8 172 94.2 171 92.5 170 90.8 169 89 168 87.5 167.2 87.5 167 87.2 166 87 165 86.8 164 86.7 163 86.5 162 86.3 161 86.1 160 85.9 159 85.8 158 85.6 157 85.4 156 85.2 155 84.8 154 84.6 153 84.4 152 84.3 151 84.1 150 83.9 149 83.8 148 83.7 147 83.5 146 83.4 145 83.3 144 83.2 143 83.1 142 83 141 82.8 140 82.7 139 82.5 138 82.3 137 82.2 136 82 135 81.9 134 81.7 133 81.5 132 81.3 131 81.1 130 80.9 129 80.7 128 80.5 127 80.3 126 80.1 125 79.8 124 79.5 123 79.1 122 78.6 121 78 120 77.6 119.5 77.2 120 76.5 121 75.9 122 75.4 123 75 124 74.6 125 74.4 126 74.1 127 73.9 128 73.6 129 73.4 130 73.2 131 73 132 72.8 133 72.7 134 72.5 135 72.3 136 72.2 137 72 138 71.9 139 71.7 140 71.6 141 71.5 142 71.4 143 71.2 144 71.1 145 71 146 70.9 147 70.8 148 70.7 149 70.6 150 70.5 151 70.3 152 70.2 153 70 154 69.7 155 69.5 156 69.4 157 69.3 158 69.2 159 69 160 68.9 161 68.8 162 68.7 163 68.6 164 68.5 165 68.3 166 68.2 167 68.1 168 67.9 169 67.8 170 67.7 170.7 57.8 170.7 57.4 170 56.8 169 56.3 168 55.9 167 55.5 166 55.1 165 54.8 164 54.5 163 54.3 162 54 161 53.8 160 53.6 159 53.4 158 53.2 157 53.1 156 52.9 155 52.7 154 52.6 153 52.5 152 52.3 151 52.2 150 52.1 149 52 148 51.9 147 51.8 146 51.6 145 51.5 144 51.4 143 51.3 142 51.2 141 51.1 140 50.9 139 50.8 138 50.7 137 50.5 136 50.3 135 50.2 134 50 133 49.8 132 49.6 131 49.4 130 49.3 129 49.1 128 48.9 127 48.7 126 48.6 125 48.4 124 48.3 123 48.2 122 48.1 121 48 120 47.9 119 47.9 118 47.9 117 47.9 116 48 115 48 114 48.1 113 48.2 112 48.3 111 48.5 110 48.6 109 48.8 108 48.9 107 49.1 106 49.2 105 49.4 104 49.6 103 49.7 102 49.9 101 50.1 100 50.2 99 50.4 98 50.5 97 50.7 96 50.9 95 51 94 51.2 93 51.3 92 51.5 91 51.8 90 52.1 89 52.6 88 53.3 87 54.3 86 55.7 85ZM206.3 105 206.6 106 206.8 107 207 108 207.2 109 207.4 110 207.5 111 207.7 112 207.8 113 208 114 208.1 115 208.2 116 208.4 117 208.5 118 208.6 119 208.8 120 208.9 121 209 122 209.1 123 209.1 124 209.1 125 209.2 126 209.1 127 209.1 128 209 129 208.9 130 208.8 131 208.7 132 208.6 133 208.5 134 208.4 135 208.3 136 208.2 137 208.1 138 208 139 207.8 140 207.7 141 207.6 142 207.5 143 207.4 144 207.2 145 207.1 146 206.9 147 206.7 148 206.5 149 206.3 150 206.1 149 205.9 148 205.7 147 205.5 146 205.3 145 205.1 144 204.9 143 204.7 142 204.4 141 204.2 140 203.9 139 203.7 138 203.4 137 203.1 136 202.8 135 202.5 134 202.2 133 201.8 132 201.5 131 201.2 130 200.9 129 200.6 128 200.4 127 200.3 126 200.3 125 200.3 124 200.3 123 200.4 122 200.4 121 200.5 120 200.6 119 200.7 118 200.8 117 201 116 201.1 115 201.3 114 201.5 113 201.8 112 202.1 111 202.5 110 202.9 109 203.5 108 204.2 107 205.2 106ZM394.5 113.6 394.6 114 394.9 115 395.2 116 395.4 117 395.7 118 395.9 119 396.1 120 396.3 121 396.4 122 396.6 123 396.7 124 396.8 125 396.8 126 396.8 127 396.8 128 396.8 129 396.8 130 396.8 131 396.7 132 396.7 133 396.6 134 396.5 135 396.4 136 396.3 137 396.2 138 396.1 139 396 140 395.9 141 395.7 142 395.6 143 395.4 144 395.3 145 395.1 146 394.9 147 394.6 148 394.5 148.5 394.3 148 394 147 393.7 146 393.5 145 393.3 144 393.1 143 392.9 142 392.8 141 392.6 140 392.5 139 392.4 138 392.2 137 392.1 136 392 135 391.9 134 391.8 133 391.7 132 391.6 131 391.5 130 391.5 129 391.5 128 391.5 127 391.5 126 391.5 125 391.6 124 391.7 123 391.9 122 392.1 121 392.3 120 392.6 119 392.9 118 393.2 117 393.6 116 394 115 394.3 114Z"/>
<path fill="#ff6161" d="M57.8 85.7 61.7 86 67.7 86.4 68.7 87 70.1 88 71.4 89 72.6 90 73.6 91 74.7 92 75.7 93 76.9 94 77.6 94.6 82.2 95 87.5 95.3 92 95 97.4 94.6 98.6 95 101.1 96 103.2 97 105 98 106.4 99 107.3 99.8 108 99 108.9 98 109.8 97 111 96 112.5 95 114.4 94 117.2 93 117.2 93 127.1 92.4 128.9 93 131 94 132.4 95 133.5 96 134.2 97 134.8 98 135.4 99 135.8 100 136.2 101 136.6 102 136.8 103 137 104 137 105 137 106 137 107 137 108 137 109 137 110 137 111 137 112 137 113 137 114 137 115 137 116 137 117 137 118 137 119 137 120 137 121 137 122 137 123 137 124 137 125 137 126 137 127 137 128 136.9 129 136.6 130 136.2 131 135.7 132 135.2 133 134.6 134 134.1 135 133.6 136 133.2 137 132.8 138 132.4 139 132.1 140 131.8 141 131.6 142 131.4 143 131.2 144 131 145 130.8 146 130.7 147 130.5 148 130.3 149 130.2 150 130 151 129.9 152 129.7 153 129.5 154 129.3 155 129.1 156 128.9 157 128.6 158 128.4 159 128.1 160 127.9 161 127.6 162 127.3 163 127.1 163.6 125.7 163 123 162 119.6 161 117.2 160.4 115.5 160 113.1 159 111.5 158 110.5 157 109.8 156 109.2 155 108.8 154 108.4 153 108.1 152 107.7 151 107.4 150 107.3 149.7 107.2 150 106.9 151 106.6 152 106.3 153 106 154 105.6 155 105.3 156 104.9 157 104.5 158 104 159 103.6 160 103 161 102.5 162 101.8 163 101.2 164 100.4 165 99.6 166 98.7 167 97.6 168 97.4 168.2 97.1 168 95.5 167 93.8 166 92.1 165 90.2 164 88.3 163 87.5 162.6 87.4 162 87.2 161 87 160 86.9 159 86.7 158 86.5 157 86.3 156 86.2 155 85.9 154 85.7 153 85.5 152 85.3 151 85.2 150 85 149 84.9 148 84.7 147 84.6 146 84.5 145 84.4 144 84.2 143 84.1 142 84 141 83.9 140 83.7 139 83.6 138 83.4 137 83.3 136 83.1 135 82.9 134 82.8 133 82.6 132 82.4 131 82.3 130 82.1 129 81.9 128 81.7 127 81.5 126 81.3 125 81.1 124 80.8 123 80.5 122 80.1 121 79.6 120 79 119 78.4 118 77.7 117 77.6 116.9 77.5 117 76.7 118 75.9 119 75.3 120 74.7 121 74.2 122 73.8 123 73.4 124 73.2 125 72.9 126 72.7 127 72.5 128 72.3 129 72.1 130 71.9 131 71.7 132 71.6 133 71.4 134 71.2 135 71.1 136 70.9 137 70.8 138 70.7 139 70.5 140 70.4 141 70.3 142 70.2 143 70.1 144 70 145 69.9 146 69.8 147 69.7 148 69.6 149 69.4 150 69.3 151 69.2 152 69 153 68.9 154 68.7 155 68.6 156 68.5 157 68.3 158 68.2 159 68.1 160 68 161 67.9 162 67.8 163 67.7 163.6 57.8 163.6 57.6 163 57.2 162 56.9 161 56.6 160 56.3 159 56 158 55.8 157 55.6 156 55.3 155 55.2 154 55 153 54.8 152 54.6 151 54.5 150 54.3 149 54.1 148 54 147 53.9 146 53.7 145 53.6 144 53.5 143 53.3 142 53.2 141 53.1 140 52.9 139 52.8 138 52.6 137 52.4 136 52.3 135 52.1 134 51.9 133 51.7 132 51.6 131 51.4 130 51.2 129 51 128 50.9 127 50.7 126 50.5 125 50.4 124 50.3 123 50.2 122 50.1 121 50 120 49.9 119 49.9 118 49.9 117 49.9 116 49.9 115 50 114 50.1 113 50.2 112 50.3 111 50.4 110 50.5 109 50.6 108 50.8 107 50.9 106 51.1 105 51.2 104 51.4 103 51.5 102 51.7 101 51.9 100 52 99 52.2 98 52.4 97 52.5 96 52.7 95 52.9 94 53 93 53.2 92 53.5 91 53.8 90 54.3 89 55 88 56 87 57.4 86ZM176.6 95.1 183.1 96 186.5 96.4 187 97 187.6 98 188.2 99 188.7 100 189.1 101 189.5 102 189.9 103 190.2 104 190.4 105 190.6 106 190.8 107 190.9 108 190.9 109 190.9 110 190.9 111 190.9 112 190.8 113 190.7 114 190.5 115 190.3 116 190 117 189.7 118 189.4 119 189 120 188.6 121 188.1 122 187.6 123 187.1 124 186.5 125 176.6 125 176.1 124 175.6 123 175 122 174.4 121 173.7 120 173 119 172.4 118 171.7 117 171.1 116 170.5 115 170 114 169.5 113 169.1 112 168.9 111 168.7 110 168.7 109 168.8 108 168.9 107 169.1 106 169.4 105 169.7 104 170.1 103 170.6 102 171.1 101 171.8 100 172.5 99 173.4 98 174.3 97 175.5 96ZM156.8 107 157 107 159.4 108 160.9 109 161.8 110 162.2 111 162.4 112 162.4 113 162.4 114 162.3 115 162.2 116 162.1 117 162 118 161.9 119 161.8 120 161.7 121 161.7 122 161.6 123 161.6 124 161.6 125 161.6 126 161.6 127 161.6 128 161.5 129 161.5 130 161.4 131 161.4 132 161.3 133 161.2 134 161.1 135 161 136 160.8 137 160.7 138 160.6 139 160.4 140 160.2 141 160 142 159.8 143 159.6 144 159.4 145 159.1 146 158.9 147 158.6 148 158.4 149 158.1 150 157.8 151 157.5 152 157.1 153 156.8 153.9 156 153 155.1 152 154.3 151 153.5 150 152.7 149 151.8 148 151 147 150.2 146 149.3 145 148.5 144 147.6 143 146.9 142.2 146.9 142 146.6 141 146.3 140 146 139 145.6 138 145.1 137 144.5 136 143.9 135 143.1 134 142.1 133 140.9 132 139.7 131 138.4 130 137.4 129 137 128 137 127 137 126 137 125 137 124 137 123 137 122 137 121 137 120 137 119 137 118 137 117 137 116 137 115 137 114 146.9 113.4 147.5 113 148.9 112 150.3 111 151.8 110 153.2 109 154.9 108 156.7 107ZM206.3 113.6 206.4 114 206.5 115 206.7 116 206.8 117 206.9 118 207 119 207.1 120 207.2 121 207.2 122 207.3 123 207.3 124 207.4 125 207.4 126 207.4 127 207.4 128 207.3 129 207.3 130 207.2 131 207.2 132 207.1 133 207 134 206.9 135 206.8 136 206.7 137 206.6 138 206.5 139 206.3 140 206.3 140 206.3 140 206.2 139 206 138 205.8 137 205.6 136 205.4 135 205.2 134 205 133 204.8 132 204.6 131 204.5 130 204.3 129 204.2 128 204.1 127 204.1 126 204.1 125 204.2 124 204.2 123 204.3 122 204.5 121 204.6 120 204.8 119 205 118 205.2 117 205.5 116 205.8 115 206.2 114ZM394.5 122.7 394.5 123 394.7 124 394.8 125 394.9 126 395 127 395.1 128 395.1 129 395.1 130 395.1 131 395.1 132 395.1 133 395 134 395 135 394.9 136 394.8 137 394.7 138 394.6 139 394.5 139.7 394.4 139 394.2 138 394.1 137 394 136 393.9 135 393.8 134 393.8 133 393.7 132 393.7 131 393.7 130 393.7 129 393.7 128 393.8 127 393.9 126 394 125 394.2 124 394.4 123Z"/>
<path fill="#ff5757" d="M57.8 87.7 66.1 88 67.7 88.1 68.9 89 70 90 70.9 91 71.8 92 72.6 93 73.4 94 74.4 95 75.3 96 76.2 97 77 98 77.4 99 77.6 100 77.6 101 77.6 102 77.6 103 77.6 104 77.6 105 77.6 106 77.6 107 77.6 108 77.6 109 77.6 110 77.6 111 77.6 112 77.4 113 77 114 76.4 115 75.7 116 75.1 117 74.4 118 73.9 119 73.3 120 72.9 121 72.5 122 72.2 123 71.9 124 71.7 125 71.5 126 71.3 127 71.1 128 70.9 129 70.8 130 70.6 131 70.4 132 70.3 133 70.1 134 70 135 69.9 136 69.7 137 69.6 138 69.5 139 69.4 140 69.2 141 69.1 142 69 143 68.9 144 68.8 145 68.7 146 68.6 147 68.5 148 68.4 149 68.3 150 68.2 151 68.1 152 67.9 153 67.8 154 67.7 155 67.7 155 57.8 155 57.8 155 57.6 154 57.3 153 57.1 152 56.9 151 56.7 150 56.5 149 56.3 148 56.1 147 56 146 55.8 145 55.6 144 55.5 143 55.3 142 55.2 141 55 140 54.9 139 54.7 138 54.6 137 54.4 136 54.2 135 54 134 53.9 133 53.7 132 53.5 131 53.3 130 53.2 129 53 128 52.8 127 52.7 126 52.5 125 52.4 124 52.3 123 52.1 122 52 121 52 120 51.9 119 51.9 118 51.9 117 51.9 116 51.9 115 52 114 52 113 52.1 112 52.2 111 52.3 110 52.4 109 52.5 108 52.6 107 52.8 106 52.9 105 53.1 104 53.2 103 53.4 102 53.5 101 53.7 100 53.9 99 54 98 54.2 97 54.4 96 54.6 95 54.7 94 54.9 93 55.1 92 55.4 91 55.9 90 56.5 89 57.4 88ZM117.2 94.5 127.1 94.1 128.8 95 130.1 96 131 97 131.6 98 132.1 99 132.5 100 132.9 101 133.2 102 133.5 103 133.7 104 133.9 105 133.9 106 134 107 134.1 108 134.1 109 134.2 110 134.3 111 134.3 112 134.3 113 134.4 114 134.4 115 134.4 116 134.5 117 134.5 118 134.5 119 134.5 120 134.5 121 134.5 122 134.5 123 134.5 124 134.5 125 134.5 126 134.5 127 134.5 128 134.4 129 134.2 130 133.9 131 133.5 132 133.1 133 132.7 134 132.2 135 131.9 136 131.5 137 131.2 138 130.9 139 130.6 140 130.4 141 130.2 142 130.1 143 129.9 144 129.7 145 129.6 146 129.4 147 129.3 148 129.1 149 129 150 128.9 151 128.7 152 128.6 153 128.4 154 128.2 155 128 156 127.8 157 127.6 158 127.4 159 127.1 159.9 123.7 159 118.4 158 117.2 157.8 115.8 157 114.5 156 113.5 155 112.8 154 112.3 153 111.9 152 111.5 151 111.2 150 110.8 149 110.5 148 110.2 147 109.9 146 109.5 145 109.2 144 108.9 143 108.5 142 108.1 141 107.8 140 107.4 139 107.3 138.8 107.3 139 106.9 140 106.6 141 106.3 142 106 143 105.6 144 105.3 145 105 146 104.7 147 104.4 148 104.1 149 103.8 150 103.4 151 103.1 152 102.7 153 102.3 154 101.9 155 101.4 156 100.9 157 100.4 158 99.9 159 99.3 160 98.6 161 97.9 162 97.4 162.7 96.3 162 94.5 161 92.7 160 90.8 159 88.8 158 87.5 157.4 87.4 157 87.3 156 87.1 155 86.9 154 86.7 153 86.6 152 86.4 151 86.2 150 86.1 149 85.9 148 85.8 147 85.6 146 85.5 145 85.4 144 85.3 143 85.1 142 85 141 84.9 140 84.8 139 84.6 138 84.5 137 84.3 136 84.2 135 84 134 83.9 133 83.7 132 83.5 131 83.4 130 83.2 129 83.1 128 82.9 127 82.7 126 82.6 125 82.4 124 82.2 123 81.9 122 81.6 121 81.2 120 80.7 119 80.3 118 79.7 117 79.2 116 78.6 115 78.1 114 77.8 113 77.6 112 77.6 111 77.6 110 77.6 109 77.6 108 77.6 107 77.6 106 77.6 105 77.6 104 77.6 103 77.6 102 77.6 101 77.6 100 78.1 99 81.4 98 87.5 97.5 95.2 97 97.4 96.9 97.7 97 99.8 98 101.5 99 102.9 100 104 101 104.8 102 105.4 103 106 104 106.4 105 106.9 106 107.3 107 107.3 107.1 107.3 107 107.8 106 108.3 105 108.8 104 109.3 103 109.7 102 110.3 101 110.9 100 111.6 99 112.3 98 113.2 97 114.4 96 116.1 95ZM176.6 100.4 182.5 101 186.5 101.4 186.8 102 187.1 103 187.4 104 187.6 105 187.8 106 188 107 188.1 108 188.2 109 188.2 110 188.2 111 188.1 112 188 113 187.8 114 187.5 115 187.2 116 186.8 117 186.5 117.7 176.6 117.3 176.4 117 175.8 116 175.3 115 174.7 114 174.3 113 174 112 173.8 111 173.7 110 173.7 109 173.8 108 173.9 107 174.1 106 174.4 105 174.7 104 175.1 103 175.6 102 176.2 101ZM156.8 115.2 157.3 116 157.7 117 158 118 158.3 119 158.5 120 158.6 121 158.8 122 158.9 123 159 124 159 125 159.1 126 159.1 127 159.2 128 159.2 129 159.2 130 159.1 131 159.1 132 159 133 158.9 134 158.8 135 158.7 136 158.5 137 158.3 138 158.1 139 157.9 140 157.7 141 157.5 142 157.2 143 157 144 156.8 144.4 156.5 144 155.6 143 154.8 142 153.9 141 153.1 140 152.4 139 151.6 138 150.9 137 150.2 136 149.5 135 148.9 134 148.4 133 147.9 132 147.5 131 147.2 130 147 129 146.9 128 147 127 147.2 126 147.5 125 148 124 148.6 123 149.3 122 150.2 121 151.1 120 152.1 119 153.3 118 154.5 117 155.8 116Z"/>
<path fill="#ff4d4d" d="M57.8 90.2 67.7 90.4 68.3 91 68.9 92 69.4 93 70 94 70.6 95 71.3 96 71.9 97 72.5 98 73 99 73.3 100 73.4 101 73.6 102 73.7 103 73.8 104 73.9 105 74 106 74 107 74.1 108 74.1 109 74.2 110 74.2 111 74.3 112 74.2 113 73.9 114 73.5 115 73.1 116 72.6 117 72.2 118 71.8 119 71.4 120 71.1 121 70.8 122 70.6 123 70.4 124 70.2 125 70 126 69.9 127 69.7 128 69.6 129 69.4 130 69.3 131 69.2 132 69 133 68.9 134 68.8 135 68.6 136 68.5 137 68.4 138 68.3 139 68.2 140 68.1 141 68 142 67.9 143 67.8 144 67.7 144.6 57.8 144.6 57.7 144 57.5 143 57.4 142 57.2 141 57 140 56.8 139 56.7 138 56.5 137 56.3 136 56.2 135 56 134 55.8 133 55.6 132 55.5 131 55.3 130 55.1 129 54.9 128 54.8 127 54.6 126 54.5 125 54.4 124 54.2 123 54.1 122 54 121 54 120 53.9 119 53.9 118 53.9 117 53.9 116 53.9 115 53.9 114 54 113 54 112 54.1 111 54.2 110 54.3 109 54.4 108 54.5 107 54.6 106 54.8 105 54.9 104 55 103 55.2 102 55.3 101 55.5 100 55.7 99 55.8 98 56 97 56.2 96 56.4 95 56.6 94 56.8 93 57 92 57.4 91ZM117.2 96.5 127.1 96.3 127.8 97 128.4 98 128.8 99 129.2 100 129.6 101 129.9 102 130.2 103 130.5 104 130.7 105 130.9 106 131 107 131.1 108 131.3 109 131.4 110 131.5 111 131.6 112 131.7 113 131.7 114 131.8 115 131.8 116 131.9 117 131.9 118 132 119 132 120 132 121 132 122 132.1 123 132.1 124 132.1 125 132.1 126 132.1 127 132 128 132 129 131.8 130 131.6 131 131.3 132 131 133 130.7 134 130.4 135 130.1 136 129.8 137 129.6 138 129.4 139 129.2 140 129 141 128.9 142 128.7 143 128.6 144 128.5 145 128.3 146 128.2 147 128.1 148 127.9 149 127.8 150 127.7 151 127.6 152 127.5 153 127.3 154 127.1 155 127.1 155 126.6 155 117.2 154.4 116.9 154 116.2 153 115.7 152 115.3 151 114.9 150 114.6 149 114.2 148 113.9 147 113.6 146 113.2 145 112.9 144 112.6 143 112.3 142 111.9 141 111.6 140 111.3 139 110.9 138 110.6 137 110.3 136 109.9 135 109.6 134 109.3 133 109 132 108.6 131 108.4 130 108.1 129 107.9 128 107.7 127 107.5 126 107.4 125 107.3 124 107.3 123 107.4 122 107.5 121 107.6 120 107.7 119 107.9 118 108.2 117 108.4 116 108.7 115 109 114 109.4 113 109.7 112 110.1 111 110.4 110 110.8 109 111.2 108 111.6 107 112 106 112.5 105 112.9 104 113.3 103 113.8 102 114.3 101 114.8 100 115.3 99 115.8 98 116.6 97ZM87.5 99.9 97.4 99.4 98.3 100 99.7 101 100.7 102 101.5 103 102.2 104 102.7 105 103.1 106 103.6 107 104 108 104.4 109 104.8 110 105.1 111 105.5 112 105.8 113 106 114 106.3 115 106.5 116 106.7 117 106.9 118 107 119 107.1 120 107.2 121 107.3 122 107.3 123 107.3 124 107.3 125 107.2 126 107.1 127 106.9 128 106.8 129 106.6 130 106.4 131 106.1 132 105.9 133 105.6 134 105.3 135 105 136 104.7 137 104.4 138 104 139 103.7 140 103.4 141 103 142 102.7 143 102.4 144 102 145 101.7 146 101.4 147 101 148 100.7 149 100.3 150 99.9 151 99.5 152 99 153 98.6 154 98.1 155 97.6 156 97.4 156.3 96.9 156 95.1 155 93.2 154 91.1 153 88.9 152 87.5 151.4 87.5 151 87.3 150 87.1 149 87 148 86.8 147 86.7 146 86.6 145 86.4 144 86.3 143 86.2 142 86.1 141 85.9 140 85.8 139 85.7 138 85.5 137 85.4 136 85.2 135 85.1 134 84.9 133 84.8 132 84.7 131 84.5 130 84.4 129 84.2 128 84.1 127 84 126 83.8 125 83.7 124 83.5 123 83.3 122 83.1 121 82.8 120 82.5 119 82.1 118 81.8 117 81.4 116 81.1 115 80.8 114 80.6 113 80.6 112 80.7 111 80.8 110 81 109 81.1 108 81.3 107 81.5 106 81.7 105 82.1 104 82.6 103 83.4 102 84.6 101 87 100Z"/>
<path fill="#ff4242" d="M57.8 97.2 67.7 97.1 68.1 98 68.5 99 68.9 100 69.2 101 69.5 102 69.7 103 70 104 70.1 105 70.3 106 70.5 107 70.6 108 70.7 109 70.8 110 70.8 111 70.9 112 70.9 113 70.8 114 70.6 115 70.4 116 70.2 117 69.9 118 69.7 119 69.5 120 69.3 121 69.1 122 69 123 68.8 124 68.7 125 68.6 126 68.5 127 68.3 128 68.2 129 68.1 130 68 131 67.9 132 67.8 133 67.7 133.4 57.8 133.4 57.7 133 57.6 132 57.4 131 57.2 130 57.1 129 56.9 128 56.8 127 56.6 126 56.5 125 56.3 124 56.2 123 56.1 122 56 121 56 120 55.9 119 55.9 118 55.8 117 55.8 116 55.8 115 55.9 114 55.9 113 56 112 56 111 56.1 110 56.2 109 56.3 108 56.4 107 56.5 106 56.6 105 56.7 104 56.9 103 57 102 57.2 101 57.3 100 57.5 99 57.7 98ZM97.4 102.8 97.6 103 98.3 104 98.9 105 99.4 106 99.9 107 100.3 108 100.7 109 101.1 110 101.5 111 101.9 112 102.2 113 102.5 114 102.8 115 103 116 103.3 117 103.5 118 103.6 119 103.8 120 103.9 121 103.9 122 104 123 104 124 104 125 103.9 126 103.8 127 103.7 128 103.6 129 103.4 130 103.2 131 102.9 132 102.7 133 102.4 134 102.1 135 101.8 136 101.5 137 101.2 138 100.8 139 100.5 140 100.1 141 99.8 142 99.4 143 99.1 144 98.7 145 98.4 146 98 147 97.6 148 97.4 148.6 96.3 148 94.1 147 91.8 146 89.4 145 87.5 144.3 87.5 144 87.3 143 87.2 142 87.1 141 87 140 86.8 139 86.7 138 86.6 137 86.4 136 86.3 135 86.2 134 86 133 85.9 132 85.8 131 85.6 130 85.5 129 85.4 128 85.3 127 85.2 126 85.1 125 85 124 84.8 123 84.7 122 84.6 121 84.4 120 84.2 119 84 118 83.8 117 83.7 116 83.5 115 83.4 114 83.4 113 83.6 112 83.8 111 84 110 84.3 109 84.6 108 85 107 85.4 106 85.9 105 86.5 104 87.5 103 87.7 103ZM117.2 103.5 127.1 103.6 127.2 104 127.5 105 127.8 106 128 107 128.2 108 128.4 109 128.6 110 128.7 111 128.8 112 129 113 129.1 114 129.2 115 129.3 116 129.3 117 129.4 118 129.4 119 129.5 120 129.5 121 129.6 122 129.6 123 129.6 124 129.6 125 129.6 126 129.6 127 129.5 128 129.5 129 129.4 130 129.2 131 129 132 128.9 133 128.7 134 128.5 135 128.3 136 128.2 137 128 138 127.9 139 127.7 140 127.6 141 127.5 142 127.4 143 127.3 144 127.2 145 127.1 145.5 117.2 145.9 116.9 145 116.6 144 116.3 143 116 142 115.7 141 115.4 140 115.2 139 114.9 138 114.6 137 114.3 136 114.1 135 113.8 134 113.6 133 113.4 132 113.1 131 112.9 130 112.8 129 112.6 128 112.5 127 112.4 126 112.3 125 112.3 124 112.3 123 112.3 122 112.4 121 112.5 120 112.7 119 112.8 118 113 117 113.2 116 113.5 115 113.7 114 114 113 114.3 112 114.6 111 114.9 110 115.2 109 115.6 108 115.9 107 116.3 106 116.6 105 117 104Z"/>
<path fill="#ff3838" d="M87.5 109.3 97.4 109.8 97.5 110 97.9 111 98.3 112 98.7 113 99 114 99.3 115 99.6 116 99.8 117 100 118 100.2 119 100.4 120 100.5 121 100.6 122 100.7 123 100.7 124 100.7 125 100.7 126 100.6 127 100.5 128 100.3 129 100.2 130 99.9 131 99.7 132 99.5 133 99.2 134 98.9 135 98.6 136 98.3 137 98 138 97.6 139 97.4 139.6 96 139 93.3 138 90.5 137 87.5 136.1 87.5 136 87.4 135 87.2 134 87.1 133 87 132 86.9 131 86.8 130 86.7 129 86.6 128 86.5 127 86.4 126 86.3 125 86.2 124 86.2 123 86.1 122 86.1 121 86 120 86 119 85.9 118 85.9 117 85.9 116 86 115 86.1 114 86.3 113 86.6 112 86.9 111 87.2 110Z"/>
<g fill="none" stroke="#7a7a7a" stroke-opacity="0.55" stroke-width="0.6">
<path d="M38 48.7 39.2 48 40.7 47 41.9 46 43.1 45 44 44 44.6 43 45.1 42 45.6 41 46 40 46.3 39 46.6 38 46.9 37 47.1 36 47.3 35 47.5 34 47.7 33 47.9 32.1 48.1 33 48.3 34 48.6 35 48.8 36 49.2 37 49.7 38 50.5 39 51.7 40 53.3 41 55.7 42 57.8 42.7 59 43 63.3 44 67.7 44.6 68.5 45 70 46 70.8 47 71.4 48 71.8 49 72.2 50 72.5 51 72.8 52 73.1 53 73.4 54 73.6 55 74 56 74.5 57 75.2 58 75.9 59 76.6 60 77.5 61 77.6 61.1 77.7 61 79.4 60 80.6 59 81.7 58 82.7 57 83.4 56 84 55 84.6 54 85.3 53 86.2 52 87.3 51 87.5 50.8 92 50 95.7 49 97.4 48.3 98.2 49 99.5 50 101.4 51 104.3 52 107.3 52.7 111.4 52 114.6 51 116.6 50 117.2 49.6 119.5 49 122.6 48 124.7 47 126.1 46 127.1 45 127.2 45 133.4 44 137 43.6 137.6 44 139.3 45 141.2 46 143.4 47 145.7 48 146.9 48.5 150.4 49 156.4 50 156.8 50.1 165.5 51 166.7 51.1 170.7 52 176.3 53 176.6 53.1 177 53 181.4 52 184.6 51 186.5 50.1 187.7 51 189.7 52 192.6 53 196.4 53.9 196.5 54 197.3 55 198.3 56 199.7 57 202 58 206.3 58.9 214.8 58 216.2 57.2 216.4 57 217.4 56 218.5 55 219.8 54 221.2 53 222.5 52 223.7 51 224.8 50 225.6 49 226.1 48 226.1 47.9 226.3 48 229.4 49 232.7 50 235.8 51 236 51.1 236.4 52 236.7 53 237.1 54 237.5 55 238 56 238.8 57 240 58 241.5 59 243.6 60 246 60.8 247 60 248.1 59 249 58 249.9 57 250.8 56 251.4 55 252 54 252.5 53 253.2 52 253.9 51 254.8 50 255.9 49 256.9 50 257.8 51 258.5 52 259.2 53 259.7 54 260.3 55 261.1 56 262 57 263.1 58 264.2 59 265.8 60 265.8 60 265.8 60 267.5 59 268.8 58 270 57 271 56 271.9 55 272.5 54 273.1 53 273.7 52 274.4 51 275 50 275.7 49.2 276.8 50 278.6 51 280.7 52 283.2 53 285.6 53.8 289.9 53 293.3 52 295.5 51 295.5 51 296.9 50 298.5 49 300.1 48 301.6 47 303 46 304.1 45 304.9 44 305.4 43.2 305.8 44 306.4 45 307.4 46 308.8 47 310.9 48 314 49 315.3 49.3 325.2 49.9 327.9 50 335.1 50.4 336.1 51 338 52 340.2 53 343.5 54 345 54.3 346.5 54 349.8 53 351.7 52 353.2 51 354.2 50 354.9 49.3 356.3 50 360.6 51 364.8 51.4 371 52 374.7 52.4 375.9 53 377.5 54 379 55 380.6 56 382.3 57 384.6 57.9 386.6 57 388.1 56 389.5 55 390.7 54 391.8 53 392.8 52 394.3 51 394.5 50.9 396.1 51 404.4 51.4 409.2 52 414.3 52.6 415.2 53 416.7 54 417.6 55 418.4 56 419.4 57 420.5 58 421.6 59 423 60 424.2 60.6 425.8 60 427.6 59 429.2 58 430.6 57 431.8 56 432.9 55 434.1 54 434.3 54 439.6 53 443.1 52 444 51.6M444 222.7 442.7 222 441.4 221 440.9 220 440.5 219 440 218 439.4 217 438.7 216 437.7 215 436.5 214 434.8 213 434.1 212.7 433 213 430.4 214 428.2 215 425.1 216 424.2 216.3 422.1 217 420.5 218 419.1 219 417.9 220 416.3 221 414.3 221.8 413.6 222 411 223 409.2 224 407 225 404.4 225.8 402.8 225 401.7 224 401.2 223 400.8 222 400.5 221 400 220 399.5 219 398.9 218 398 217 397 216 395.8 215 394.5 214.3 392.4 215 390.5 216 388.7 217 386.4 218 384.6 218.6 376.8 218 374.7 217.8 374 218 371.3 219 369.5 220 367 221 364.8 221.7 363.4 221 361.9 220 361.2 219 360.4 218 359.4 217 358.1 216 356.5 215 354.9 214.4 353.5 215 352 216 350.9 217 350 218 349.2 219 348.6 220 348.1 221 347.5 222 346.1 223 345 223.6 337.3 223 335.1 222.8 333.4 222 332.3 221 331.7 220 331.1 219 330.4 218 329.5 217 328.4 216 327.1 215 325.2 214.1 323.5 215 322.3 216 321.4 217 320.6 218 320 219 319.5 220 319.1 221 318.8 222 318.4 223 317.9 224 316.7 225 315.3 225.7 312.9 225 310.4 224 308.5 223 305.7 222 305.4 221.9 305.1 222 302.2 223 300.4 224 298.2 225 295.5 225.8 294.7 226 291.5 227 288.1 228 285.6 228.6 284 228 281.8 227 280.5 226 279 225 276.6 224 275.7 223.8 270.4 224 265.8 224.2 255.9 224.6 253.9 225 251.3 226 247.9 227 246 227.5 243.9 228 241.9 229 240 230 237.2 231 236 231.4 234.1 231 229.6 230 226.1 229.3 216.2 229 216 229 211 228 206.8 227 206.3 226.9 206.1 227 203.7 228 202.3 229 201.2 230 200.3 231 199.5 232 197.9 233 196.4 233.7 193.4 233 190.1 232 186.5 231 183.8 232 182.1 233 180.3 234 177.9 235 176.6 235.4 174.4 235 170.2 234 166.7 233.2 164.1 233 156.8 232.4 153.1 233 146.9 233.9 141.4 233 137 232.2 136.2 232 132.9 231 130.7 230 127.9 229 127.1 228.8 125.6 229 117.4 230 117.2 230 112.9 231 108.3 232 107.3 232.2 102.8 233 97.4 233.9 95.8 233 94.6 232 93.8 231 93.1 230 92.3 229 91.3 228 90.3 227 89.2 226 87.6 225 87.5 225 87.3 225 82 226 77.6 226.7 77 227 75.7 228 74.6 229 73.7 230 72.9 231 72.3 232 71.7 233 71.2 234 70.6 235 69.6 236 67.9 237 67.7 237.1 66 238 64.8 239 63.9 240 63.1 241 62.4 242 61.9 243 61.4 244 61 245 60.4 246 59.3 247 57.8 247.8 56.4 247 55.3 246 54.8 245 54.4 244 54.1 243 53.8 242 53.5 241 53.1 240 52.6 239 52 238 51.3 237 50.3 236 49.2 235 47.9 234.3 47.2 234 45.3 233 44 232 42.8 231 41.5 230 40 229 38 228.2"/>
<path d="M38 52.9 41.9 52 44.8 51 46.7 50 47.9 49.1 50.8 50 53.6 51 56.3 52 57.8 52.6 61.3 53 67.7 53.8 67.8 54 68.4 55 68.9 56 69.5 57 70.2 58 70.9 59 71.6 60 72.3 61 73.2 62 74.2 63 75.6 64 77.2 65 77.6 65.3 78.8 65 82.5 64 85 63 86.5 62 87.5 61.1 88.5 61 97 60 97.4 60 97.7 60 102.2 61 106.2 62 107.3 62.3 109.7 62 117.2 61.1 118.4 61 126.9 60 127.1 60 130.9 59 134.7 58 137 57.4 138.7 58 141.3 59 144 60 146.5 61 146.9 61.2 150.4 62 154.5 63 156.8 63.6 160.4 64 166.7 64.8 168.7 65 176.6 66 186.5 65.4 196.4 66 196.7 66 202.7 67 206.3 67.7 207.3 68 210.9 69 214.8 70 216.2 70.4 216.8 70 218.1 69 219.4 68 220.7 67 222 66 223.1 65 224.3 64 225.5 63 226.1 62.5 227.7 63 230.9 64 234.3 65 236 65.5 237.2 66 239.5 67 241.6 68 243.7 69 245.8 70 246 70.1 246 70 247 69 247.9 68 248.8 67 249.7 66 250.7 65 251.6 64 252.6 63 253.5 62 254.4 61 255.3 60 255.9 59.2 256.5 60 257.5 61 259.1 62 262.3 63 265.8 63.7 270.1 63 273.5 62 275.1 61 275.7 60.5 277.1 61 279.8 62 282.6 63 285.4 64 285.6 64 285.9 64 294.4 63 295.5 62.9 297.1 62 298.8 61 300.5 60 302.1 59 303.6 58 305.2 57 305.4 56.9 305.8 57 310.1 58 314.3 59 315.3 59.2 325.2 59.2 331.5 60 335.1 60.4 337.4 61 341.6 62 345 62.8 348.4 62 352.5 61 354.9 60.5 364.8 60.4 369.9 61 374.7 61.6 378.5 62 384.6 62.3 387.4 62 393 61 394.5 60.4 404.4 60.4 409.6 61 414.3 61.6 414.8 62 417.3 63 424.2 63.8 433.7 64 434.1 64 434.4 64 442.9 63 444 62.9M444 182.6 441.6 182 437.4 181 434.1 180.2 432.7 181 430.9 182 428.9 183 426.7 184 424.2 185 424.2 185 423.2 186 422.2 187 421.2 188 420.1 189 418.8 190 417.5 191 416 192 414.3 193 414.3 193 412.8 194 411.2 195 409.5 196 407.6 197 405.5 198 404.4 198.5 401.9 199 394.5 200 391.2 199 388.7 198 386.6 197 384.6 196 384.6 196 383.2 195 382 194 381 193 380.1 192 379.3 191 378.7 190 378.1 189 377.5 188 377 187 376.5 186 376 185 375.5 184 375 183 374.7 182.2 373.9 182 370.4 181 367.4 180 364.8 179 364.8 179 364.8 179 364 180 363.2 181 362.4 182 361.4 183 360.3 184 359.1 185 357.6 186 355.9 187 354.9 187.5 350.5 188 345 188.7 342.8 189 335.1 190 335.1 190 333.2 191 331.1 192 328.5 193 325.2 194 325.2 194 315.3 195 311.7 194 308.5 193 305.4 192 305.4 192 303 191 300.9 190 299.2 189 297.6 188 296.2 187 295.5 186.4 291.9 186 285.6 185.2 283.9 185 275.7 184 275.7 184 275.7 184 275.2 185 274.7 186 274.3 187 273.8 188 273.2 189 272.7 190 272 191 271.3 192 270.6 193 269.7 194 268.7 195 267.5 196 266.2 197 265.8 197.3 265.1 197 263.3 196 261.7 195 260.3 194 259.1 193 257.9 192 256.9 191 255.9 190 255.9 190 253 189 250.6 188 248.5 187 246.6 186 246 185.6 245.8 186 245.3 187 244.8 188 244.3 189 243.8 190 243.2 191 242.5 192 241.7 193 240.9 194 239.9 195 238.8 196 237.5 197 236.1 198 236 198 226.1 198.3 225.1 198 221.8 197 218.8 196 216.2 195 215.3 196 214.2 197 212.9 198 211.4 199 209.6 200 207.5 201 206.3 201.5 205.5 201 203.8 200 202.4 199 201.2 198 200.2 197 199.4 196 198.7 195 198 194 197.5 193 197 192 196.5 191 196.4 190.9 196.4 191 196.1 192 195.7 193 195.3 194 194.9 195 194.3 196 193.7 197 193 198 192.1 199 191 200 189.6 201 188 202 186.5 202.9 186.5 203 185.9 204 185.3 205 184.6 206 183.8 207 182.8 208 181.7 209 180.2 210 178.5 211 176.6 212 176.6 212 169.4 213 166.7 213.3 156.8 213.3 154.2 213 146.9 212 146.9 212 144.5 211 142.4 210 140.7 209 139.2 208 138.1 207 137 206 137 206 137 206 135.1 207 132.8 208 129.7 209 127.1 209.7 125.3 209 123.1 208 121.3 207 119.8 206 118.6 205 117.6 204 117.2 203.6 117 204 116.6 205 116.2 206 115.8 207 115.3 208 114.8 209 114.3 210 113.7 211 112.9 212 112 213 110.9 214 109.5 215 107.9 216 107.3 216.3 105.1 217 101.5 218 97.4 219 95.7 218 94 217 92.4 216 90.9 215 89.4 214 87.9 213 87.5 212.7 84.9 212 82 211 79.7 210 77.6 209 77.6 209 77.6 209 77 210 76.4 211 75.8 212 75.1 213 74.4 214 73.6 215 72.7 216 71.6 217 70.4 218 69.1 219 67.7 220 57.8 220 55.1 219 52.2 218 49.6 217 47.9 216.3 47.5 216 46.1 215 44.9 214 43.9 213 43.1 212 42.4 211 41.8 210 41.3 209 40.9 208 40.6 207 40.3 206 40.1 205 39.8 204 39.6 203 39.4 202 39.2 201 39 200 38.8 199 38.6 198 38.3 197 38.1 196 38 195.6"/>
<path d="M38 60.3 39 60 42 59 45.1 58 47.9 57.1 50.2 58 52.8 59 55.7 60 57.8 60.7 60.1 61 67.7 61.9 67.8 62 68.4 63 69.2 64 70.1 65 71.1 66 72.1 67 73.1 68 74 69 75 70 75.9 71 76.9 72 77.6 72.7 79.6 72 82.4 71 85.2 70 87.5 69.2 89.4 69 97.4 68 101.3 69 105.5 70 107.3 70.4 110.8 70 117.2 69.2 119.1 69 127.1 68 127.2 68 131.2 67 134.9 66 137 65.4 138.4 66 140.9 67 143.5 68 146.3 69 146.9 69.2 150 70 154.1 71 156.8 71.6 159.9 72 166.7 72.8 168.2 73 176.5 74 176.6 74 178.5 74 186.5 73.9 187.2 74 196.2 75 196.4 75 200.6 76 204.9 77 206.3 77.3 208.4 78 211.6 79 214.8 80 216.2 80.5 216.9 80 218.5 79 219.9 78 221.3 77 222.7 76 223.9 75 225.1 74 226.1 73.1 228.8 74 231.6 75 234.5 76 236 76.6 236.9 77 238.7 78 240.6 79 242.6 80 244.5 81 246 81.8 246.7 81 247.8 80 248.8 79 249.7 78 250.7 77 251.6 76 252.5 75 253.3 74 254.2 73 255 72 255.7 71 255.9 70.9 256.3 71 259.5 72 262.4 73 265.1 74 265.8 74.3 266.8 74 271 73 275.7 72.1 278.1 73 280.8 74 283.6 75 285.6 75.7 291.1 75 295.5 74.5 296.3 74 298.1 73 299.8 72 301.5 71 303 70 304.6 69 305.4 68.5 307.5 69 311.6 70 315.3 70.9 325.2 70.9 326.3 71 334.5 72 335.1 72.1 338.8 73 343 74 345 74.5 346.9 74 351.1 73 354.9 72.1 361.1 72 364.8 72 365.2 72 374.7 73 374.7 73 384.6 73.1 385.6 73 394.5 72.1 404.4 72.1 412.1 73 414.3 73.3 422.3 74 424.2 74.2 429 75 434.1 75.7 439.1 75 444 74.3M444 165.1 443.5 165 439.4 164 435.6 163 434.1 162.7 433.4 163 431.4 164 429.5 165 427.5 166 425.3 167 424.2 167.5 423.5 168 422.4 169 421.3 170 420.2 171 419 172 417.7 173 416.4 174 415 175 414.3 175.5 413.3 176 411.6 177 409.9 178 408.2 179 406.4 180 404.4 181 404.1 181 397.6 182 394.5 182.5 393.1 182 390.6 181 388.4 180 386 179 384.6 178.5 384.1 178 383.2 177 382.4 176 381.7 175 380.9 174 380.2 173 379.6 172 378.9 171 378.3 170 377.6 169 377 168 376.4 167 375.7 166 374.9 165 374.7 164.7 372.2 164 369.5 163 366.6 162 364.8 161.5 364.1 162 363 163 362 164 360.9 165 359.8 166 358.7 167 357.5 168 356.2 169 354.9 170 354.5 170 346.3 171 345 171.2 338.6 172 335.1 172.5 333.7 173 331.3 174 329.1 175 326.5 176 325.2 176.5 319.9 177 315.3 177.5 313.6 177 310.3 176 307.2 175 305.4 174.5 304.4 174 302.5 173 300.7 172 299.1 171 297.5 170 295.7 169 295.5 168.9 288.4 168 285.6 167.7 280.1 167 275.7 166.5 275.2 167 274.5 168 273.8 169 273.2 170 272.5 171 271.9 172 271.2 173 270.5 174 269.8 175 269 176 268.2 177 267.4 178 266.5 179 265.8 179.8 264.5 179 263 178 261.7 177 260.4 176 259.1 175 257.9 174 256.6 173 255.9 172.5 254.6 172 252.3 171 250.2 170 248.1 169 246 168.1 245.2 169 244.6 170 244 171 243.4 172 242.8 173 242.1 174 241.4 175 240.7 176 239.9 177 239.1 178 238.2 179 237.4 180 236.4 181 236 181.4 230.4 182 226.1 182.5 224.1 182 220 181 216.2 180.1 214.9 181 213.6 182 212.3 183 211 184 209.7 185 208.4 186 206.9 187 206.3 187.4 205.9 187 204.9 186 204 185 203 184 202 183 201 182 199.9 181 198.9 180 197.9 179 196.7 178 196.4 177.8 196.2 178 195.3 179 194.5 180 193.7 181 192.9 182 192.1 183 191.4 184 190.6 185 189.9 186 189.2 187 188.4 188 187.7 189 187 190 186.5 190.5 186 191 185 192 183.9 193 182.9 194 181.9 195 180.9 196 179.9 197 179 198 178.1 199 177.1 200 176.6 200.5 173 201 166.7 201.8 156.8 201.8 150.6 201 146.9 200.5 146.1 200 144.6 199 143 198 141.3 197 139.6 196 137.7 195 137 194.7 136 195 133 196 130.3 197 127.7 198 127.1 198.2 126.8 198 125.3 197 123.7 196 122.1 195 120.4 194 118.7 193 117.2 192.1 116.5 193 115.6 194 114.7 195 113.9 196 113 197 112.2 198 111.4 199 110.7 200 110 201 109.3 202 108.6 203 107.9 204 107.3 204.8 106.7 205 102.9 206 99.3 207 97.4 207.5 96.6 207 95.1 206 93.6 205 92 204 90.4 203 88.8 202 87.5 201.2 86.9 201 84.3 200 81.7 199 78.6 198 77.6 197.7 77.3 198 76.2 199 75.2 200 74.2 201 73.3 202 72.3 203 71.5 204 70.6 205 69.8 206 69 207 68.2 208 67.7 208.5 57.8 208.5 56.4 208 53.8 207 51.2 206 48.4 205 47.9 204.8 47.4 204 46.8 203 46.3 202 45.9 201 45.4 200 45 199 44.6 198 44.3 197 43.9 196 43.6 195 43.2 194 42.8 193 42.4 192 41.9 191 41.4 190 40.8 189 40.2 188 39.6 187 39 186 38.5 185 38 184.2"/>
<path d="M38 70.6 38.7 70 41.3 69 44.9 68 47.9 67.2 50 68 52.8 69 55.6 70 57.8 70.8 59.4 71 67.7 72 67.7 72 68.4 73 69.1 74 69.8 75 70.5 76 71.3 77 72.1 78 73 79 74 80 75.1 81 76.3 82 77.6 82.9 81 82 83.7 81 86 80 87.5 79.3 90.1 79 97.4 78.1 100.9 79 105.1 80 107.3 80.5 111.6 80 117.2 79.3 119.8 79 127.1 78.1 127.6 78 131.8 77 135.4 76 137 75.5 138.1 76 140.4 77 143 78 146 79 146.9 79.3 149.7 80 153.9 81 156.8 81.7 159.2 82 166.7 82.9 167.5 83 175.8 84 176.6 84.1 186.5 85 186.7 85 191.3 86 196.4 87 196.4 87 199.6 88 202.7 89 205.6 90 206.3 90.3 208.4 91 211.2 92 213.6 93 215.7 94 216.2 94.3 216.8 94 218.7 93 220.5 92 222.1 91 223.7 90 225 89 226 88 226.1 87.9 226.4 88 229.4 89 232.4 90 234.7 91 235.9 92 236 92.5 236.1 93 236.3 94 236.6 95 237 96 237.9 97 240.6 98 246 98.5 246.4 98 247.3 97 248.2 96 249.1 95 250.1 94 251 93 252 92 253 91 253.9 90 254.8 89 255.6 88 255.9 87.6 256.9 88 259.8 89 262.7 90 265.3 91 265.8 91.2 266.8 91 271.4 90 275.1 89 275.7 88.8 276.1 89 278.5 90 281.4 91 284.4 92 285.6 92.4 288.4 92 295.5 91.2 295.8 91 297.5 90 299.3 89 301.1 88 302.7 87 304.3 86 305.4 85.2 308.3 86 312.5 87 315.3 87.6 325.2 87.6 328.8 88 335.1 88.8 335.9 89 340.2 90 344.3 91 345 91.2 345.7 91 349.8 90 354.1 89 354.9 88.8 355.4 89 357.5 90 358.8 91 359.7 92 360.4 93 360.8 94 361.2 95 361.4 96 361.6 97 361.7 98 361.7 99 361.5 100 361.1 101 361 102 361.1 103 361.3 104 361.5 105 361.9 106 362.3 107 362.7 108 363.1 109 363.5 110 363.8 111 364 112 364.1 113 364.1 114 364 115 363.9 116 363.7 117 363.5 118 363.3 119 363 120 362.8 121 362.6 122 362.4 123 362.2 124 362.1 125 362 126 361.8 127 361.7 128 361.6 129 361.4 130 361.3 131 361.2 132 361.1 133 361 134 361 135 361 136 361 137 361.1 138 361.2 139 361.3 140 361.3 141 361.4 142 361.5 143 361.6 144 361.6 145 361.7 146 361.7 147 361.7 148 361.4 149 360.9 150 360 151 359.1 152 358 153 357 154 356.1 155 355.2 156 354.9 156.5 350.3 157 345 157.7 342.9 158 335.1 159 335.1 159 332.8 160 330.2 161 327.5 162 325.2 163 325.2 163 315.3 164 311.9 163 308.4 162 305.4 161 305.4 161 304 160 302.4 159 300.6 158 298.6 157 296.6 156 295.5 155.4 291.9 155 285.6 154.2 284.1 154 275.7 153 275.7 153 275.7 153 274.4 154 273.2 155 272.2 156 271.3 157 270.6 158 269.9 159 269.2 160 268.6 161 268 162 267.4 163 266.8 164 266.3 165 265.9 166 265.8 166.3 265.5 166 264.5 165 263.4 164 262.1 163 260.7 162 259.2 161 257.6 160 255.9 159 255.9 159 253.7 158 251.2 157 248.7 156 246.6 155 246 154.6 240.6 155 237.7 156 237 157 236.6 158 236.4 159 236.3 160 236.3 161 236.2 162 236.2 163 236.1 164 236.1 165 236.1 166 236.1 167 236 167.8 236 168 226.1 169 222.4 168 218 167 216.2 166.6 215.9 167 214.7 168 213.4 169 212 170 210.5 171 209 172 207.5 173 206.3 173.9 205.6 173 204.7 172 203.9 171 203.1 170 202.3 169 201.6 168 201 167 200.4 166 199.8 165 199.2 164 198.7 163 198.2 162 197.7 161 197.2 160 196.8 159 196.4 158.2 196.1 159 195.6 160 195.2 161 194.7 162 194.3 163 193.8 164 193.4 165 192.9 166 192.5 167 192.1 168 191.6 169 191.1 170 190.6 171 190 172 189.3 173 188.6 174 187.9 175 187.2 176 186.5 177 186.5 177 185.4 178 184.4 179 183.4 180 182.5 181 181.5 182 180.5 183 179.5 184 178.5 185 177.5 186 176.6 187 176.6 187 169 188 166.7 188.3 156.8 188.3 154.6 188 146.9 187 146.9 187 146.1 186 145.3 185 144.6 184 144 183 143.4 182 143 181 142.6 180 142.3 179 142.1 178 141.9 177 141.7 176 141.6 175 141.4 174 141.2 173 141 172 140.8 171 140.6 170 140.4 169 140.1 168 139.9 167 139.7 166 139.4 165 139.1 164 138.8 163 138.5 162 138.2 161 137.8 160 137.4 159 137 158 137 158 137 158 136.7 159 136.4 160 136.1 161 135.9 162 135.6 163 135.3 164 135.1 165 134.8 166 134.5 167 134.3 168 134 169 133.7 170 133.4 171 133.2 172 132.9 173 132.6 174 132.3 175 132 176 131.7 177 131.3 178 130.9 179 130.4 180 129.9 181 129.3 182 128.6 183 127.8 184 127.1 184.7 126.1 184 124.5 183 122.9 182 121.3 181 119.6 180 117.9 179 117.2 178.6 116.8 179 115.8 180 115 181 114.2 182 113.4 183 112.7 184 112 185 111.2 186 110.5 187 109.7 188 109 189 108.2 190 107.5 191 107.3 191.3 104.7 192 101 193 97.4 194 95.9 193 94.4 192 92.8 191 91.2 190 89.6 189 88 188 87.5 187.7 86.9 187 86.1 186 85.4 185 84.8 184 84.3 183 83.8 182 83.5 181 83.1 180 82.9 179 82.6 178 82.4 177 82.2 176 82 175 81.8 174 81.6 173 81.4 172 81.2 171 81 170 80.9 169 80.7 168 80.6 167 80.5 166 80.3 165 80.2 164 80.1 163 80 162 79.8 161 79.7 160 79.5 159 79.3 158 79.1 157 78.8 156 78.6 155 77.6 154 77.6 154 77.6 154 76.6 155 76.3 156 76.1 157 75.9 158 75.7 159 75.5 160 75.4 161 75.3 162 75.2 163 75.1 164 75 165 74.9 166 74.8 167 74.7 168 74.6 169 74.4 170 74.3 171 74.2 172 74 173 73.9 174 73.8 175 73.6 176 73.5 177 73.4 178 73.2 179 73.1 180 72.9 181 72.8 182 72.6 183 72.4 184 72.2 185 72 186 71.8 187 71.5 188 71.2 189 70.8 190 70.3 191 69.7 192 69.1 193 68.4 194 67.7 195 57.8 195 55.2 194 52.5 193 49.8 192 47.9 191.3 47.8 191 47.4 190 46.9 189 46.5 188 46 187 45.6 186 45.1 185 44.7 184 44.4 183 44.2 182 44 181 43.7 180 43.5 179 43.2 178 43 177 42.7 176 42.4 175 42.1 174 41.8 173 41.4 172 41.1 171 40.7 170 40.4 169 40 168 39.6 167 39.2 166 38.8 165 38.5 164 38.1 163 38 162.6M394.5 88.8 404.4 88.8 406.4 89 414.3 90 414.3 90 422.5 91 424.2 91.2 432.9 92 434.1 92.5 434.2 93 434.4 94 434.6 95 434.7 96 434.9 97 435 98 435.1 99 435.1 100 435.2 101 435.2 102 434.9 103 434.1 103.5 432.7 104 431 105 431 106 431.5 107 432.4 108 433.5 109 434.1 109.4 434.9 110 436.3 111 437.5 112 438.5 113 439.2 114 439.6 115 439.8 116 439.7 117 439.5 118 439.1 119 438.7 120 438.1 121 437.5 122 436.8 123 436 124 435.1 125 434.1 126 434.1 126 433.2 127 432.5 128 432 129 431.6 130 431.5 131 431.5 132 431.7 133 432.2 134 432.9 135 433.8 136 434.1 136.3 434.5 137 434.8 138 435.1 139 435.2 140 435.2 141 435.2 142 435.1 143 435 144 434.9 145 434.7 146 434.6 147 434.4 148 434.1 149 434.1 149.1 433.2 150 430.8 151 428.1 152 425.8 153 424.2 154 424.2 154 422.4 155 420.6 156 419 157 417.7 158 416.6 159 415.7 160 414.9 161 414.3 162 414.3 162 412.7 163 410.7 164 408.6 165 406.7 166 405.1 167 404.4 167.5 401.8 168 394.5 169 392 168 389.5 167 387 166 384.6 165 384.6 165 384 164 383.4 163 382.7 162 382.1 161 381.5 160 380.9 159 380.4 158 379.9 157 379.5 156 379.3 155 379 154 378.8 153 378.7 152 378.7 151 378.7 150 378.8 149 378.8 148 378.8 147 378.9 146 378.9 145 379 144 379 143 379 142 379 141 379 140 379 139 379 138 378.9 137 378.9 136 378.8 135 378.7 134 378.6 133 378.5 132 378.5 131 378.4 130 378.3 129 378.2 128 378.2 127 378.1 126 378.1 125 378 124 377.9 123 377.8 122 377.7 121 377.6 120 377.5 119 377.4 118 377.4 117 377.3 116 377.3 115 377.3 114 377.4 113 377.6 112 377.8 111 378 110 378.2 109 378.4 108 378.6 107 378.8 106 378.9 105 379 104 379 103 378.9 102 378.7 101 378.6 100 378.6 99 378.7 98 378.9 97 379.2 96 379.6 95 380.2 94 380.9 93 381.8 92 383 91 384.6 90 384.6 90 392.7 89Z"/>
<path d="M57.8 85.7 61.7 86 67.7 86.4 68.7 87 70.1 88 71.4 89 72.6 90 73.6 91 74.7 92 75.7 93 76.9 94 77.6 94.6 82.2 95 87.5 95.3 92 95 97.4 94.6 98.6 95 101.1 96 103.2 97 105 98 106.4 99 107.3 99.8 108 99 108.9 98 109.8 97 111 96 112.5 95 114.4 94 117.2 93 117.2 93 127.1 92.4 128.9 93 131 94 132.4 95 133.5 96 134.2 97 134.8 98 135.4 99 135.8 100 136.2 101 136.6 102 136.8 103 137 104 137 105 137 106 137 107 137 108 137 109 137 110 137 111 137 112 137 113 137 114 137 115 137 116 137 117 137 118 137 119 137 120 137 121 137 122 137 123 137 124 137 125 137 126 137 127 137 128 136.9 129 136.6 130 136.2 131 135.7 132 135.2 133 134.6 134 134.1 135 133.6 136 133.2 137 132.8 138 132.4 139 132.1 140 131.8 141 131.6 142 131.4 143 131.2 144 131 145 130.8 146 130.7 147 130.5 148 130.3 149 130.2 150 130 151 129.9 152 129.7 153 129.5 154 129.3 155 129.1 156 128.9 157 128.6 158 128.4 159 128.1 160 127.9 161 127.6 162 127.3 163 127.1 163.6 125.7 163 123 162 119.6 161 117.2 160.4 115.5 160 113.1 159 111.5 158 110.5 157 109.8 156 109.2 155 108.8 154 108.4 153 108.1 152 107.7 151 107.4 150 107.3 149.7 107.2 150 106.9 151 106.6 152 106.3 153 106 154 105.6 155 105.3 156 104.9 157 104.5 158 104 159 103.6 160 103 161 102.5 162 101.8 163 101.2 164 100.4 165 99.6 166 98.7 167 97.6 168 97.4 168.2 97.1 168 95.5 167 93.8 166 92.1 165 90.2 164 88.3 163 87.5 162.6 87.4 162 87.2 161 87 160 86.9 159 86.7 158 86.5 157 86.3 156 86.2 155 85.9 154 85.7 153 85.5 152 85.3 151 85.2 150 85 149 84.9 148 84.7 147 84.6 146 84.5 145 84.4 144 84.2 143 84.1 142 84 141 83.9 140 83.7 139 83.6 138 83.4 137 83.3 136 83.1 135 82.9 134 82.8 133 82.6 132 82.4 131 82.3 130 82.1 129 81.9 128 81.7 127 81.5 126 81.3 125 81.1 124 80.8 123 80.5 122 80.1 121 79.6 120 79 119 78.4 118 77.7 117 77.6 116.9 77.5 117 76.7 118 75.9 119 75.3 120 74.7 121 74.2 122 73.8 123 73.4 124 73.2 125 72.9 126 72.7 127 72.5 128 72.3 129 72.1 130 71.9 131 71.7 132 71.6 133 71.4 134 71.2 135 71.1 136 70.9 137 70.8 138 70.7 139 70.5 140 70.4 141 70.3 142 70.2 143 70.1 144 70 145 69.9 146 69.8 147 69.7 148 69.6 149 69.4 150 69.3 151 69.2 152 69 153 68.9 154 68.7 155 68.6 156 68.5 157 68.3 158 68.2 159 68.1 160 68 161 67.9 162 67.8 163 67.7 163.6 57.8 163.6 57.6 163 57.2 162 56.9 161 56.6 160 56.3 159 56 158 55.8 157 55.6 156 55.3 155 55.2 154 55 153 54.8 152 54.6 151 54.5 150 54.3 149 54.1 148 54 147 53.9 146 53.7 145 53.6 144 53.5 143 53.3 142 53.2 141 53.1 140 52.9 139 52.8 138 52.6 137 52.4 136 52.3 135 52.1 134 51.9 133 51.7 132 51.6 131 51.4 130 51.2 129 51 128 50.9 127 50.7 126 50.5 125 50.4 124 50.3 123 50.2 122 50.1 121 50 120 49.9 119 49.9 118 49.9 117 49.9 116 49.9 115 50 114 50.1 113 50.2 112 50.3 111 50.4 110 50.5 109 50.6 108 50.8 107 50.9 106 51.1 105 51.2 104 51.4 103 51.5 102 51.7 101 51.9 100 52 99 52.2 98 52.4 97 52.5 96 52.7 95 52.9 94 53 93 53.2 92 53.5 91 53.8 90 54.3 89 55 88 56 87 57.4 86ZM176.6 95.1 183.1 96 186.5 96.4 187 97 187.6 98 188.2 99 188.7 100 189.1 101 189.5 102 189.9 103 190.2 104 190.4 105 190.6 106 190.8 107 190.9 108 190.9 109 190.9 110 190.9 111 190.9 112 190.8 113 190.7 114 190.5 115 190.3 116 190 117 189.7 118 189.4 119 189 120 188.6 121 188.1 122 187.6 123 187.1 124 186.5 125 176.6 125 176.1 124 175.6 123 175 122 174.4 121 173.7 120 173 119 172.4 118 171.7 117 171.1 116 170.5 115 170 114 169.5 113 169.1 112 168.9 111 168.7 110 168.7 109 168.8 108 168.9 107 169.1 106 169.4 105 169.7 104 170.1 103 170.6 102 171.1 101 171.8 100 172.5 99 173.4 98 174.3 97 175.5 96ZM156.8 107 157 107 159.4 108 160.9 109 161.8 110 162.2 111 162.4 112 162.4 113 162.4 114 162.3 115 162.2 116 162.1 117 162 118 161.9 119 161.8 120 161.7 121 161.7 122 161.6 123 161.6 124 161.6 125 161.6 126 161.6 127 161.6 128 161.5 129 161.5 130 161.4 131 161.4 132 161.3 133 161.2 134 161.1 135 161 136 160.8 137 160.7 138 160.6 139 160.4 140 160.2 141 160 142 159.8 143 159.6 144 159.4 145 159.1 146 158.9 147 158.6 148 158.4 149 158.1 150 157.8 151 157.5 152 157.1 153 156.8 153.9 156 153 155.1 152 154.3 151 153.5 150 152.7 149 151.8 148 151 147 150.2 146 149.3 145 148.5 144 147.6 143 146.9 142.2 146.9 142 146.6 141 146.3 140 146 139 145.6 138 145.1 137 144.5 136 143.9 135 143.1 134 142.1 133 140.9 132 139.7 131 138.4 130 137.4 129 137 128 137 127 137 126 137 125 137 124 137 123 137 122 137 121 137 120 137 119 137 118 137 117 137 116 137 115 137 114 146.9 113.4 147.5 113 148.9 112 150.3 111 151.8 110 153.2 109 154.9 108 156.7 107ZM206.3 113.6 206.4 114 206.5 115 206.7 116 206.8 117 206.9 118 207 119 207.1 120 207.2 121 207.2 122 207.3 123 207.3 124 207.4 125 207.4 126 207.4 127 207.4 128 207.3 129 207.3 130 207.2 131 207.2 132 207.1 133 207 134 206.9 135 206.8 136 206.7 137 206.6 138 206.5 139 206.3 140 206.3 140 206.3 140 206.2 139 206 138 205.8 137 205.6 136 205.4 135 205.2 134 205 133 204.8 132 204.6 131 204.5 130 204.3 129 204.2 128 204.1 127 204.1 126 204.1 125 204.2 124 204.2 123 204.3 122 204.5 121 204.6 120 204.8 119 205 118 205.2 117 205.5 116 205.8 115 206.2 114ZM394.5 122.7 394.5 123 394.7 124 394.8 125 394.9 126 395 127 395.1 128 395.1 129 395.1 130 395.1 131 395.1 132 395.1 133 395 134 395 135 394.9 136 394.8 137 394.7 138 394.6 139 394.5 139.7 394.4 139 394.2 138 394.1 137 394 136 393.9 135 393.8 134 393.8 133 393.7 132 393.7 131 393.7 130 393.7 129 393.7 128 393.8 127 393.9 126 394 125 394.2 124 394.4 123Z"/>
</g>
<text x="49.3" y="35.8" style="font-weight:bold;font-size:14px;fill:#000;stroke:none">b</text>
<g fill="none" stroke-width="2" stroke-linejoin="round">
<polyline stroke="#00f0f0" points="38.0,228.1 47.9,234.3 57.8,247.8 67.7,237.1 77.6,226.7 87.5,225.0 97.4,233.9 107.3,232.2 117.2,230.0 127.1,228.8 137.0,232.2 146.9,233.9 156.8,232.4 166.7,233.2 176.6,235.4 186.5,231.0 196.4,233.6 206.3,226.9 216.2,229.0 226.1,229.2 236.0,231.3 246.0,227.4 255.9,224.5 265.8,224.2 275.7,223.7 285.6,228.5 295.5,225.8 305.4,221.9 315.3,225.7 325.2,214.1 335.1,222.8 345.0,223.5 354.9,214.4 364.8,221.6 374.7,217.8 384.6,218.6 394.5,214.3 404.4,225.8 414.3,221.8 424.2,216.2 434.1,212.7 444.0,222.6"/>
<polyline stroke="#ff00ff" points="38.0,117.3 47.9,113.4 57.8,95.2 67.7,113.0 77.6,95.2 87.5,113.4 97.4,113.4 107.3,113.4 117.2,131.3 127.1,149.2 137.0,113.4 146.9,131.3 156.8,149.2 166.7,131.5 176.6,131.5 186.5,113.4 196.4,131.5 206.3,131.5 216.2,131.5 226.1,113.4 236.0,131.5 246.0,131.5 255.9,113.4 265.8,113.4 275.7,113.4 285.6,117.3 295.5,113.4 305.4,131.5 315.3,113.4 325.2,131.5 335.1,131.5 345.0,113.4 354.9,113.4 364.8,113.4 374.7,113.4 384.6,95.2 394.5,131.1 404.4,113.4 414.3,113.4 424.2,113.4 434.1,113.4 444.0,113.4"/>
<polyline stroke="#f0f000" points="38.0,47.9 47.9,23.5 57.8,39.6 67.7,42.7 77.6,60.3 87.5,47.4 97.4,43.3 107.3,50.1 117.2,44.6 127.1,35.9 137.0,35.9 146.9,42.3 156.8,42.8 166.7,43.7 176.6,46.5 186.5,40.6 196.4,48.3 206.3,58.3 216.2,50.1 226.1,39.2 236.0,42.5 246.0,58.3 255.9,45.5 265.8,59.2 275.7,44.3 285.6,50.3 295.5,45.5 305.4,35.5 315.3,46.1 325.2,47.4 335.1,47.0 345.0,53.7 354.9,44.6 364.8,50.2 374.7,50.0 384.6,57.2 394.5,48.1 404.4,50.0 414.3,50.7 424.2,59.8 434.1,50.7 444.0,46.9"/>
</g>
</g>
<path d="M38 21.5H444M443.5 21V256M38 255.5H444" stroke="#333" stroke-opacity="0.6" stroke-width="1" fill="none"/>
<path d="M440 236.1H444M440 216.3H444M440 196.4H444M440 176.6H444M440 156.7H444M440 136.8H444M440 117.0H444M440 97.1H444M440 77.3H444M440 57.4H444M440 37.5H444" stroke="#333" stroke-width="1" fill="none"/>
<rect x="493.5" y="21" width="11.8" height="235" fill="url(#cb)" stroke="#555" stroke-width="0.6"/>
<path d="M502.8 209.0H505.3M502.8 162.0H505.3M502.8 115.0H505.3M502.8 68.0H505.3" stroke="#333" stroke-width="0.8" fill="none"/>
<g>
<text transform="translate(32.3 259.7) scale(1 1.07)" text-anchor="end">37</text>
<text transform="translate(32.3 241.4) scale(1 1.07)" text-anchor="end">41</text>
<text transform="translate(32.3 223.1) scale(1 1.07)" text-anchor="end">45</text>
<text transform="translate(32.3 204.8) scale(1 1.07)" text-anchor="end">49</text>
<text transform="translate(32.3 186.5) scale(1 1.07)" text-anchor="end">1</text>
<text transform="translate(32.3 168.2) scale(1 1.07)" text-anchor="end">5</text>
<text transform="translate(32.3 149.9) scale(1 1.07)" text-anchor="end">8</text>
<text transform="translate(32.3 131.6) scale(1 1.07)" text-anchor="end">13</text>
<text transform="translate(32.3 113.3) scale(1 1.07)" text-anchor="end">17</text>
<text transform="translate(32.3 95.0) scale(1 1.07)" text-anchor="end">21</text>
<text transform="translate(32.3 76.7) scale(1 1.07)" text-anchor="end">25</text>
<text transform="translate(32.3 58.4) scale(1 1.07)" text-anchor="end">29</text>
<text transform="translate(32.3 40.1) scale(1 1.07)" text-anchor="end">33</text>
<text transform="translate(450.0 259.9) scale(1 1.07)">9</text>
<text transform="translate(450.0 240.0) scale(1 1.07)">10</text>
<text transform="translate(450.0 220.2) scale(1 1.07)">11</text>
<text transform="translate(450.0 200.3) scale(1 1.07)">12</text>
<text transform="translate(450.0 180.5) scale(1 1.07)">1</text>
<text transform="translate(450.0 160.6) scale(1 1.07)">2</text>
<text transform="translate(450.0 140.7) scale(1 1.07)">3</text>
<text transform="translate(450.0 120.9) scale(1 1.07)">4</text>
<text transform="translate(450.0 101.0) scale(1 1.07)">5</text>
<text transform="translate(450.0 81.2) scale(1 1.07)">6</text>
<text transform="translate(450.0 61.3) scale(1 1.07)">7</text>
<text transform="translate(450.0 41.4) scale(1 1.07)">8</text>
<text transform="translate(38.0 272.8) scale(1 1.07)" text-anchor="middle">1976</text>
<text transform="translate(97.4 272.8) scale(1 1.07)" text-anchor="middle">1982</text>
<text transform="translate(156.8 272.8) scale(1 1.07)" text-anchor="middle">1988</text>
<text transform="translate(216.2 272.8) scale(1 1.07)" text-anchor="middle">1994</text>
<text transform="translate(275.7 272.8) scale(1 1.07)" text-anchor="middle">2000</text>
<text transform="translate(335.1 272.8) scale(1 1.07)" text-anchor="middle">2006</text>
<text transform="translate(394.5 272.8) scale(1 1.07)" text-anchor="middle">2012</text>
<text transform="translate(444.0 272.8) scale(1 1.07)" text-anchor="middle">2017</text>
<text transform="translate(510.7 260.0) scale(1 1.07)">0</text>
<text transform="translate(510.7 213.0) scale(1 1.07)">5</text>
<text transform="translate(510.7 166.0) scale(1 1.07)">10</text>
<text transform="translate(510.7 119.0) scale(1 1.07)">15</text>
<text transform="translate(510.7 72.0) scale(1 1.07)">20</text>
<text transform="translate(510.7 25.0) scale(1 1.07)">25</text>
<text transform="translate(32.3 25.9) scale(1 1.07)" text-anchor="end">Week</text>
<text transform="translate(450.0 26.0) scale(1 1.07)">Month</text>
<text transform="translate(242.6 288.2) scale(1 1.07)" text-anchor="middle">Year</text>
<text transform="translate(543.3 220) rotate(-90)" style="font-size:13.7px">Landfast ice extent (10<tspan dy="-5" style="font-size:10px">5</tspan><tspan dy="5"> km</tspan><tspan dy="-5" style="font-size:10px">2</tspan><tspan dy="5">)</tspan></text>
</g>
<g stroke-width="2">
<line x1="47" y1="10" x2="88" y2="10" stroke="#00f0f0"/>
<line x1="183.6" y1="10" x2="225" y2="10" stroke="#ff00ff"/>
<line x1="314" y1="10" x2="355" y2="10" stroke="#f0f000"/>
</g>
<text transform="translate(92.4 15.6) scale(1 1.07)" class="lg">Start of freeze-up</text>
<text transform="translate(229.0 15.6) scale(1 1.07)" class="lg">Start of breakup</text>
<text transform="translate(359.3 15.6) scale(1 1.07)" class="lg">End of breakup</text>
</svg>
</body></html>
